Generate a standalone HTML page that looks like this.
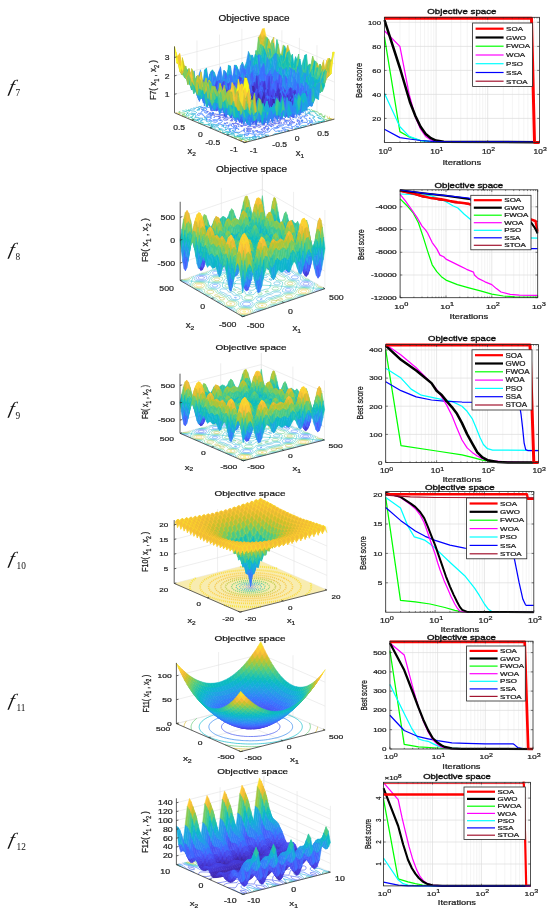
<!DOCTYPE html>
<html><head><meta charset="utf-8"><title>Objective space</title>
<style>
html,body{margin:0;padding:0;background:#fff}
svg{display:block;filter:blur(0.45px)}
text{font-family:"Liberation Sans",sans-serif;fill:#262626;stroke:#262626;stroke-width:.22px}
.t{font-size:6.6px}
.l{font-size:8.2px}
.ti{font-size:8.6px;fill:#111;stroke:#111;stroke-width:.35px}
.lg{font-size:6.7px;fill:#111}
.f{font-family:"Liberation Serif",serif;font-style:italic;font-size:17.5px;fill:#111;stroke:none}
.fs{font-style:normal;font-size:9.3px}
.t3{font-size:8px}
.ti3{font-size:9.3px;fill:#111;stroke:#111;stroke-width:.2px}
.l3{font-size:8.6px}
</style></head><body>
<svg width="550" height="914" viewBox="0 0 550 914">
<rect width="550" height="914" fill="#fff"/>
<text transform="translate(8.0 91.6) skewX(-12) scale(1.1 1)" class="f">f</text><text x="15.5" y="96.3" class="f fs">7</text>
<text transform="translate(8.0 255.2) skewX(-12) scale(1.1 1)" class="f">f</text><text x="15.5" y="259.9" class="f fs">8</text>
<text transform="translate(8.0 414.4) skewX(-12) scale(1.1 1)" class="f">f</text><text x="15.5" y="419.1" class="f fs">9</text>
<text transform="translate(8.0 563.8) skewX(-12) scale(1.1 1)" class="f">f</text><text x="16.5" y="568.5" class="f fs">10</text>
<text transform="translate(8.0 706.0) skewX(-12) scale(1.1 1)" class="f">f</text><text x="16.5" y="710.7" class="f fs">11</text>
<text transform="translate(8.0 844.9) skewX(-12) scale(1.1 1)" class="f">f</text><text x="16.5" y="849.6" class="f fs">12</text>
<path d="M244.6 142.6L174.5 112.8L174.5 46.4M267.1 136.7L197 106.9L197 40.5M289.6 130.8L219.5 101L219.5 34.6M312 125L241.9 95.2L241.9 28.8M244.6 142.6L334.5 119.1L334.5 52.7M227.1 135.2L317 111.6L317 45.2M209.6 127.7L299.4 104.2L299.4 37.8M192 120.2L281.9 96.8L281.9 30.3M174.5 94.3L264.4 70.8L334.5 100.6M174.5 75.9L264.4 52.4L334.5 82.2M174.5 57.5L264.4 34L334.5 63.8" fill="none" stroke="#e2e2e2" stroke-width="0.6"/>
<g fill="none" stroke-width="0.7" opacity="1"><path d="M264.8 132l-1.7-0.6l0-1.1l-1.9-0.6l0-0.6l2.6-0.3l1.1-0.1l-0.3 0.4l0 0.8l0.7 0.9l-0.5 1.2M289.1 125.8l-0.7 0l0.5-0.1M296.8 123.7l-0.5 0l0.6-0.1M300.3 122.4l-1.8-0.3l-1.4-0.7l-0.5-0.6l3-0.1l-0.1 1.1l0.8 0.6M268.2 129.3l-1.6 0.1l0.1-0.7l2.7-0.1l-1.2 0.7M278.1 126.7l-1.6 0.1l0.6-0.6l1 0.1M285.7 124.4l-1.8-0.6l-0.2-1l0.1-0.6l2.3-0.3l0.9 0l-0.4 1.2l0.4 0.5l-0.9 0.7M289.8 123.4l-0.8 0.1l0.5-0.2l0-1l1-0.2l2.7 0l1.4 0l-0.1 0.6l-2.3 0.4l-2.4 0.3M256.5 131.2l-0.8 0l-0.4-0.5l2.5-0.1l-1.3 0.6M251.1 131.6l-1-0.1l-1.6-0.6l-1.9-0.6l0.1-0.5l1.4 0.1l2.2 0.5l0.7 0.9M265.6 128.2l-1.9-0.2l-0.1-0.6l2.1 0l-0.1 0.8M273.2 126l-1.4-0.1l-2.6-0.3l-1.4 0.8l-2.7 0.1l1.1-0.8l0.1-0.5l0.6-0.5l1.1 0l2.7 0.2l2-0.3l1.5 0.6l-1 0.8M281.2 123.9l-1.9 0l-2-0.3l-0.5-0.1l-3.1-0.1l-0.9 1l-1.8-0.5l-0.5-0.9l-1.3-0.1l-2-0.1l-1.6-0.1l-2.8 0.2l0.5 0.9l1.3 0.7l0.2 0.6l-1.8-0.1l-2.1-0.2l-1.4 0l-2.1-0.1l0.1 0.6l2.2 0.4l0.8 0.3l0.5 0.6l-1 0.6l-1.4 0l-1-0.8l-3-0.1l-3.5-0.1l-1.8 0.6l-1.9 0.1l1-0.5l1.5-0.8l0.4-1.2l2.3 0.1l1.1 0l1.6-0.7l-3.5-0.2l0.9-0.9l2.3-0.4l0.3-0.7l-2.3-0.4l-1.1-0.2l-1.5-0.2l-2.7-0.4l-0.5 0l-2.3-0.3l-1-0.8l2.2-0.6l0.9 0.8l1.5 0.1l2.8-0.2l2.1-0.5l-3-0.3l0.8-0.6l-0.3-0.6l0.6-0.7l2.1-0.5l1.5 0.1l2.2 0.2l0-0.7l0.2-0.6l1.8-0.7l-1-0.4l-2.3-0.1l-1.1-0.8l-2.1-0.6l-1.4-0.7l-1.5 0l1.4 1.1l-0.5 0.7l-0.2 0.6l1.8 0.1l2.1-0.1l1.2 0.8l-0.2 0.6l-1.8-0.1l-1.6-0.6l-1.7-0.1l-2 0l-0.9-0.9l0-1l-2.1-0.3l-1.5 0.1l-1.5-0.6l0.1-0.7l2.4-0.3l2.5-0.3l1.2-0.9l2-0.5l-1.3-0.5l-2.4 0.3l-2.5 0.3l-0.6 0.1l-2.2-0.5l-1.6-0.1l-1 0.7l-1.9 0.8l0 0.8l2.2 0.1l1.4 0l-0.3 0.5l-0.1 0.7l-0.1 0.6l-2.3 0l-0.9 0l1.1 1l1.9 0.3l1.6-0.7l2.2 0l-0.5 0.7l-2.2 0.5l-1.4-0.1l-1.8 0.1l-2.3 0.3l-1.8 0.1l-0.9-0.9l-0.1-1l-2-0.2l-0.9-0.1l0-1.1l-0.6-0.8l3.1-0.1l1.9-0.5l-0.8-0.6l-1.2-0.3l-2.1 0.5l-1.4 0l-2.2-0.1l-2 0.5l-1.2-0.1l0.3-0.3l2-0.5l0.3-0.9l-2.9-0.2l-2.1 0.5l0.2 0.9l-0.3 1.2l-0.4 0.4l-1.2 0l-0.8-0.9l-0.8-0.8l-1.2-0.8l0-0.6l1.3 0.3l3 0.2l1.9-0.6l1.5-0.8l1 0.3l2.9 0.3l1.6 0.4l0.7-1l-2.1-0.5l1.4-1.2l2 0.3l1.6 0.7l-0.1 0.5l0 0.5l1.4 0.7l2 0.2l0.4-0.8l1.8-1l0.4-0.6l0.2-0.5l1.7 0l2 0.2l1 0.1l2.6 0l-0.3-0.6l-1.3-0.8l-1.9 0l-1.8-0.1l0-0.7l2.6-0.3l1.4 0l1.7 0l2.5-0.3l1.5-0.1l-0.8 0.4l-0.2 0.9l-0.6 1.2l-1.8 0.9l-1.3 0.8l2.9-0.2l2.3-0.3l2.4-0.4l0.5 0.3l-1.8 0.5l0 0.8l1.6 0.6l0.1 0.7l-2 0.6l-2 0.5l1.1 0.4l2.5-0.3l1.6-0.1l0.8 0.9l2.2 0.5l2.1 0.2l1.7-0.1l1-0.1l3.1 0.1l0.6-0.2l1-0.7l0.1-0.6l-2.4-0.5l-0.3-1l-1.5-0.6l-0.9-0.8l1.8 0.5l1.6 0.7l3 0.2l3.4 0.1l0.5 0.2l0.1 0.8l-0.1 0.6l-1.3 0.8l2.4 0.5l1.7 0.7l1.9 0l1.8 0.1l0.3 0.8l1.2 0.5l0.9 0.2l-0.4 1.1l0.2 1l0.6 0.9l-3.1-0.2l-0.9-0.8l0.4-0.5l0.8-0.9l-2.3-0.5l-0.5-0.8l-0.5-0.2l-2.7-0.2l-1-0.8l-1.8 0l-2.2 0.5l-2 0.5l-1.8 0.6l-1.9-0.1l-1.7-0.1l-0.6 0.7l2.3 0.5l1.6 0.2l1 0.2l2.6 0.4l-0.9 0.6l-0.2 0.7l2.6 0.3l2.9-0.1l2.4-0.4l1.1 0l-1.3 1.3l-0.5 0.2l0.9-0.1l2.3-0.3l1.9 0.2l-0.1 0.5l-0.2 0.6l1.2 0.8l-1.5 0.4l-1.9-0.6l-2.2-0.5l-2.6 0.4l-1.1 0.9l-1.1 0l-1.4-0.7l-2.9-0.2l-0.8 1l0.8 1l1.7 0.1l2.3-0.4l1.1 0l2.3 0.5l1.5 0.2l1.6-0.7l3.1-0.1l1.9 0.6l0.4 1l-0.5 0.6M290.8 121.1l-0.7 0l-1.2-0.8l-3 0.1l-1.4 0l0.4-0.5l0.1-0.7l-2-0.1l-1.7 0l0.3-0.5l2.3-0.2l0.7 0l0.9-0.9l0.2-0.6l0.4-0.6l1.9 0l-0.2 0.8l0.9 0.4l2 0.2l-0.1 0.6l-0.9 0.7l1.6 0.7l0.4 0.4l-0.1 0.6l-0.8 0.4M278.1 123.1l1-0.1l0.9-0.4l-1.2 0.3l-0.7 0.2M299.3 117.8l-0.9 0l0.9-0.2M251.7 129.1l-0.7 0.1l-2.7-0.1l-1.3 0.1l-0.8-0.9l3.4 0l0.7 0l1.7 0.6M255.6 128.1l-2.5-0.6l0.2-0.4l1.7 0l0.6 0.9M244.5 130.2l-1.3-0.1l1.7-0.4l-0.4 0.5M275.2 121.3l-1.5-0.2l-0.5-0.6l2 0.2l0 0.6M292.7 116.4l-1.1 0l2.6-0.7l-1.5 0.7M295.2 114.7l-1.1 0l1.4-0.4l-0.3 0.4M258.6 122.9l1 0l3.1 0l-0.5-0.9l-1.7-0.1l-1.9 0.6M288.1 115.8l-1.7-0.2l-0.8-0.8l3.3 0l2-0.5l0.6 0l-2.1 0.7l-1.3 0.8M242.4 126.6l-1.6-0.1l-0.1-0.6l1.8 0.1l-0.1 0.6M246.3 125.5l-1.4-0.1l-2.2 0l-1.8 0l-1.5-0.7l-1.9-0.2l-0.8 0.9l-3.3-0.2l0-1.1l-1.6-0.6l3.4 0l3.1 0l1.4-0.8l-0.5-1.2l1.7-0.4l1.3-0.1l2.1 0.3l2 0.1l1.6 0l1.7 0.6l-0.5 0.6l-1.5 0.7l-2.4-0.1l-1.6-0.7l-1.1 0l-0.2 0.4l0.7 0.9l0.5 0.9l1.1 0.1l3-0.1l-1.3 0.8M268.8 119.2l1.3-0.1l-0.9-0.3l-1.8-0.3l-2.4-0.1l-1.8 0.6l-1.5-0.1l-0.5-0.8l2.3-0.4l-0.9-0.4l-2.1-0.2l-2.1-0.2l-1.8 0.6l-1 0.8l0.5 1l1.5 0l1.9 0.2l1 0.8l2.3-0.2l2.7-0.2l1.8-0.6l1.5-0.1M237.3 127.1l-1.6-0.3l0.9-0.3l0.7 0.6M257.1 121.2l1.6 0l0.9-0.7l-2.4-0.4l-1.2-0.1l-0.2 0.4l1.3 0.8M276.5 116.4l-0.8-0.1l0.7-0.2M271 116.8l-1.1-0.1l-0.5-0.6l2.4 0.1l-0.8 0.6M291.1 111.6l-2 0.1l1.1-0.5l2.2-0.4l0.5 0.2l-1.8 0.6M231.2 125.9l0.8-0.3l-0.8 0.3M283.7 112.6l-1.5-0.1l0.6-1.3l1.3-0.3l1.4 0.7l0.8 0.7l-2.6 0.3M280.1 112.4l-1.7 0l-1.1-0.8l-1.8-0.6l0.3-0.4l1.9-0.6l1.2 0.1l-0.5 1.2l2.1 0.5l-0.4 0.6M236.2 122.6l-0.8-0.1l1.1-0.2M259.2 116.3l1 0l-0.7-0.3l-0.3 0.3M236.9 121.5l-1.2-0.1l1.5-0.4l-0.3 0.5M241.2 120.6l-1.7-0.2l-1.9-0.6l-0.5-0.9l3-0.2l1.3 0.1l-0.5 1.2l0.3 0.6M227.8 123.1l-1.3-0.4l0.6-0.1l0.7 0.5M246.2 118.6l-2.1-0.5l1.6-0.4l0.5 0.9M249.3 117.2l-1.2-0.1l0.3-0.3l0.7 0M285.4 107.8l-1-0.2l0.5-0.1l0.5 0.3M232.4 120.9l-2-0.2l0.2-0.5l2-0.1l-0.2 0.8M241.9 118.1l-1.9 0l0.4-0.6l1.8 0.1l-0.3 0.5M232.4 119.6l-1.2-0.2l1.6-1l0.1-0.5l-2.2-0.4l-1.7 0.7l-1.2-0.1l-0.1-0.5l0.4-0.6l-2.5-0.3l-0.2 1l-0.7 0.2l-2.4-0.5l0.5-0.5l2.3-0.4l0.8-1.1l-2.9 0.2l-2 0l-1.3-0.1l-1.4 0.8l-3.2 0.1l-0.7-0.1l0-1.1l-2.4-0.2l-0.7-0.1l2-0.7l1.9-0.3l1.7 0.6l3.2-0.1l1.1 0.1l2.8 0.1l1.8-0.6l0.9 0.1l2.9 0.2l0.7 0l-1.5 1l1.8 1l0.7 0.9l1.4-0.2l2.7 0.2l1.5 0.2l1.4 0.1l-1.4 0.4l-2 0l-0.3 0.6l-0.4 0.5l-1.8 0.6M246.4 115.9l-2.7 0.2l1.1-0.9l2 0.1l-0.4 0.6M261.8 111.5l-0.5-0.2l0.9-1l3.3 0.1l-0.8 1l-2.9 0.1M278 107.4l-0.7-0.1l-3.1-0.2l1.3-0.7l0.8 0.1l1.7 0.6M224.2 120.2l-0.5-0.2l-0.4-0.7l0.6-0.6l1.4 0.1l2.7 0.3l-0.7 1l-3.1 0.1M272 107.6l0.6-0.1l-0.6 0.1M220.8 120.1l-0.6-0.2l1.1-0.1l-0.5 0.3M246 112.3l1.3-0.1l-1.2-0.5l-0.1 0.6M257.3 109.6l-0.9 0l2-0.9l1.5-0.1l-0.5 0.5l-2.1 0.5M267.5 107.1l-0.8-0.2l1-1.1l1.2-0.6l0.5-0.1l0.6 0.9l0.2 0.9l-2.7 0.2M220.1 118.5l-1.7-0.1l0.4-0.5l2-0.1l-0.7 0.7M259.8 107.9l-0.8-0.1l0.8-0.2M264.1 107l-1.7-0.1l0.3-0.5l1.9 0l-0.5 0.6M220.6 117.3l-1.2-0.2l-1.1-0.8l2.2 0.5M264.4 105.7l-1-0.1l0.9-0.2M233 112.5l2.1 0l0.3-0.7l-2.5-0.2l0.1 0.9M264.8 104.6l-1.3-0.1l0.2-0.4l1.4 0l-0.3 0.5M268.9 103.6l-1.1-0.2l0.5-1.2l-0.4-0.5l1.3 0.2l1.2 0.8l0.4 0.3l-1.9 0.6M211 117.3l-0.6-0.2l0.7 0M255.3 106l-1.7 0l-1.5-0.6l0.3-0.6l2.1-0.5l1.5 0l2.4 0.3l1.7-0.7l1 0.2l-2.2 0.7l-1.1 0.9l-2.5 0.3M225.8 112.6l-2.5 0.3l1.4-0.7l1.1 0M260.2 102.6l-1.2-0.1l-0.3-0.5l1.1 0.3l0.4 0.3M254.6 103l-1.9 0.1l0.4-0.8l1.8 0.2l-0.3 0.5M210.9 113.2l-2.3 0.3l1.2-0.8l1.2 0.2M257.6 101.5l-1.7-0.3l-0.8-0.8l2.8 0.2l-0.3 0.9M235 105.6l1.6-0.7l1.7-0.2l-1.1 0.5l-2.2 0.4M207.9 111.9l-0.8-0.1l-0.5-0.4l1.8 0l-0.5 0.5M211.5 110.7l-1-0.4l2.5-0.3l1.4-0.1l-0.1 0.6l-2.8 0.2M245.7 101.9l-1.7 0.2l1-0.5l0.8 0.1M238 102.8l-0.4-0.2l0.4 0.2M223 106l-1-0.3l0.5-0.1l0.5 0.4" stroke="#45e"/><path d="M285.7 131.3l-1.4-0.2l0.5-0.2l0.9 0.4M291.7 130.3l0.8-0.2M299.1 127.4l-2.5-0.5l-0.3-0.7l2.1 0.2l0.7 0.9M282.2 131.1l-1.3-0.1l-2.9-0.2l-1.8 0.6l-0.7-0.1l-0.7-0.5l-1.2-1.1l0.4-0.7l1.9-0.5l2.1-0.5l1.4-0.8l-2.6 0.3l-2.8 0.2l-1.4 0.8l-1.4 0.7l-0.8 1.1l-0.6 1.1l-1.5 0.7l-2.7 0.2l-0.6 0.7l-0.7 1.2l-0.7 0.2l-2.5-0.4l-1.5-0.1l-0.3 0.6l-0.2 0.5l-1.6 0l-1-0.9l-2.7 0.1l-1.4 0l-1.6-0.7l-1.6 0.1l-1.8-0.3l-2-0.5l-1-0.8l0-1.1l-1.9-0.2l-1.7 0.7l-0.2 0.5l-0.5 0.5l-1.4 0l-2.3-0.2l-0.9-0.1l-2-0.5l0.5-0.4l1.6-0.7l0.1-0.5l-0.4-0.9l1.3-0.5l-1.5 0.4l-2.6-0.3l-1.6-0.1l-2.5 0.3l-0.7-0.1l0-1l0.3-0.5l1.2-0.9l-1-0.4l-1.2-0.2l-1.4-0.7l-3.2-0.2l-1.7-0.6l-2.8-0.4l0.3-0.7l2.8-0.2l0.8-1.1l0.9-1l-1-0.4l-2.6-0.1l0-1l-0.5-0.2l-1.6 0.7l-3.2-0.3l-1.1 0.3l1.1 0.8l2 0.1l1.9 0l-0.4 0.6l-0.6 0.7l-1.1 0.3l-2.2-0.5l-1.1-0.8l-1.3-0.7l-2.5-0.4l1.2-0.5l1.2-0.8l0.8-0.6l-2.3-0.5l-1.2-0.1l-1.9-0.2l-1.9-0.5l-0.1-0.9l-1.6-0.7l0.2-1.3l-2.5 0.3l-0.4 0.5l-0.6 0.5l-1.7 0.1l-0.3-1l1.1-0.9l2.9-0.1l-0.3-1l0.3-0.4l0.6-0.9l0.8-0.2l2.1-0.2l1.7-0.6l0.1-1.3l-2.2-0.5l-0.8-0.8l2.7-0.2l1.6 0l1.8 0.6l2.3 0.4l1.7-0.6l1.1-0.9l2.6 0.2l1.7 0.2l1.7-0.6l-1.3-0.6l-2-0.1l-2.2-0.5l1.1-0.7l1.7 0l2.3 0.3l3.1 0.4l1.4 0.7l0.1 0.9l1.1 0.4l1.2-0.8l-0.8-0.9l-0.9-0.8l1.2-1.3l2.8 0.2l0.9 0.9l0.3 0.6l0.7 0.3l2.1-0.5l0.6-0.3l-1.8-0.6l-1.4-0.8l-2-0.5l1.1-0.6l2.3-0.3l1.3 0.8l1.6 0.6l0.7 0l0.5-1.1l0.9-0.5l0.4-0.4l1.3-0.8l2.5 0.1l-0.1 0.9l-2 0.6l-0.5 1.1l0.7 0.3l2.4-0.3l-0.3-0.5l0.2-0.9l1.9-0.6l3 0.1l0.7 0.1l1-0.5l-0.2-0.5l1.9-0.6l0.4-0.5l0.1-0.6l2.8-0.2l0.3-1.1l-1.4-0.7l2.3 0.4l1.7-0.2l2.5 0.2l1.4 0.2l2.4-0.4l1.2 0l-0.2 0.4l-2 0.5l0 0.7l-0.4 0.5l-0.2 0.7l1.8 0.6l1.7 0.2l-0.2-0.6l-0.8-0.8l1.9-1l1.8 0l-0.4 0.6l-0.3 0.7l2.3 0.1l1.5-0.1l-0.6 0.5l-1.7 0.7l-0.1 0.5l1.8 0.2l1.4 0.1l-0.1 0.4l0.1 0.6l1.6 0.2l0.9-0.8l2.1-0.7l2.2-0.4l-1.2 0.8l-1.8 0.6l0.3 0.3l0.7 0.2l1.6 0.3l2 0.6l2 0.5l1.1 0.8l-0.2 0.5l-0.9 0.8l0.5 0.4l-1.7 0.7l1.3 0.5l1.4-0.7l0.6-0.3l0.9-0.5l0.2-0.9l1.3-0.3l1.6 0.6l-0.4 0.4l-0.6 1l0.4 0.3l0.6 0.5l1.6 0.6l0.6 0l1.5-0.6l1.4-0.3l-1.1 0.3l0.9 0.8l1.4 0.2l2.5-0.3l1 0.4l0.2 0.5l-0.9 0.6l-0.1 0.7l2 0.6l1.6 0.2l1.1 0.2l2.2 0.4l-0.3 0.7l-1.6-0.2l-2.4-0.1l-0.1 0.8l1.9 0.6l-0.1 0.6l-2.3 0.4l0.3 0.6l0.7 0.9l0.6 0.9l1.3 0.3l0-0.7l0.2-0.7l2.8 0l-0.7 1l-0.2 0.3l1.2 0.7l1.7 0.6l0.1 0.9l-0.4 0.3l1.1 0.8l-0.1 0.5l-0.3 0.7l-0.1 0.5l-1.8-0.1l-1.7 0l-2 0.5l-0.6 0.7l-0.3 0.3l-1.3 0.1l-1.6 0.1l-1.8 0.6l-0.5 1.1l-1.8 0.7l-2.5 0.3l1.6 1l-0.3 0.9l-1.7-0.3l-1.9-0.6l-1.9-0.6l-1.4-0.1l-2.1 0.5l-1.7 0.6l1.3 0.6l1.5 0.1l1.7 0.7l-0.4 0.4l-1.2 0l-2.2-0.1l-0.6 0.8l0.3 0.4M308 124.3l-0.7-0.2l2.1-0.6l-1.4 0.8M256 136.5l-2.3-0.6l1.5-0.3l1.1 0.7M300.2 125.1l-1.1 0l0.2-0.4l0.9 0.1M310.3 122.5l-0.9 0l2.1-0.8l1-0.1l0.3 0.6l-2.5 0.3M312.4 120.7l-1.8-0.7l0.8-0.2l1 0.8M262 132.7l1.2 0l-1.4-1l-1.1-0.1l-2.4-0.1l-1 0l-0.3 0.4l0.9 0.8l2.2 0l1.9 0M290.4 125.3l0.8 0.1l0.8-0.5l-0.7-0.8l-2.2 0.4l-2 0.5l3.3 0.3M298.3 123.2l1.1 0.2l-1.2-0.5M247.5 135.6l-0.7 0l-1.3-0.7l-1.5-0.7l3.3 0l1.6-0.2l-0.5 0.6l-0.5 0.7l-0.4 0.3M266.9 130.3l1.4-0.3l-1.4 0.1M300.7 121.5l1 0.1l1.1-0.6l-2.1 0.2M252.4 133.1l1.8-0.1l-1.3-0.6l-0.5 0.7M279.2 126.1l1.1 0.1l2.2-0.4l1.4-0.8l-1.2-0.5l-1.7 0.7l-2.7 0l0.9 0.9M301 120.4l1.9 0.3l0-0.8l-1.7 0.1M310.4 118.4l-1.4-0.1l1.1-0.3l0.3 0.4M253 131.9l1.6-0.1l-1.2-1.1l-1.4 0l1 1.2M267.9 128l1-0.3l-1 0.1M291.8 121.7l1-0.2l-1 0M297.5 120.2l1 0l-1.5-0.6l0.5 0.6M248.2 132l1.2 0.3l-0.6-0.4l-1.7-0.7l-0.7 0.2l1.8 0.6M270.2 126.3l1.8 0.5l-1.3-0.6M288.5 121.5l-1.1-0.5l1.1 0.5M299.8 118.6l1.4 0.1l0.1-0.6l-1 0.2l-0.5 0.3M274.7 124l0.7 0.1l-0.6-0.2M284.7 121.4l2-0.5l-2 0.3M292.8 119.3l0.7 0.2l-0.3-0.3l-0.7-0.1M307.4 115.8l-2.2 0.3l-0.1-1.1l1.4-0.4l1.3 0.8l-0.4 0.4M269.3 124.4l-0.4-0.3l0.4 0.3M294.9 117.7l1.4 0.2l0.2-0.6l0.4-0.5l0.3-0.8l-1.8 0.2l-1.7 0.6l-1.3 0.5l2.5 0.4M243.6 128.9l1.2 0.1l-0.9-0.4M296.1 115.2l0.7 0.2l0.7-0.5l-1.3 0.3M231.2 131.4l-0.7-0.1l-1.5-0.7l2 0.6M238.4 129.3l0.7 0l-1.7-0.7l1 0.7M290.6 115.6l2.3-0.5l-2.2 0.5M292.9 113.9l3.3-0.1l-0.4-0.6l-1.8-0.6l-0.8-0.1l-0.4 1.2M235.2 128l1.9 0.4l-0.9-0.7l-1.5-0.7l-0.1-1l-2.1 0.5l0.5 0.9l2.2 0.6M287.5 114.3l2.3-0.5l-0.6-0.2l-1.7 0.6M237.8 126.2l1.5 0.4l-0.6-0.6l-0.9 0M294.1 110.4l0.7 0.1l0.3-0.4l-2.1-0.5l-3.5 0l-3.2 0l0 0.7l1.2 0.8l1.7-0.3l2.2-0.4l2.7 0M223.6 126.8l-0.6 0.1l1-0.3M227.9 125.6l1.9-0.3l2-0.5l-1.6-0.9l-0.6 0l-0.4 0.3l-0.5 0.6l-0.8 0.8M279.8 110.9l2.1-0.4l0.5-0.3l-2-0.4l-0.6 1.1M280.5 109.7l2.2-0.3l-0.6-0.2l-1.6 0.5M223.9 123.4l2.4 0.4l-1.2-0.7l-0.7-0.1l-0.5 0.4M277.3 109.5l2.9 0.2l-1.1-0.7l-0.9-0.1l-0.9 0.6M273.3 108.4l1 0.2l0.8-0.7l-1.7 0.3M267.9 108.7l2.1-0.5l-2.3 0.3M277.4 106.2l1.5 0.2l-0.1-0.5l-1.4-0.1M273.6 105.1l1.9-0.1l2.2-0.5l0.1-0.5l-1.6-0.1l-2.5 0.1l-0.7-0.1l-1.9 0.6l0.8 0.3l1.7 0.3M207.7 120.1l-1.8-0.5l1.1-0.3l0.7 0.8M213.6 117.5l1 0l-0.7-0.3l-0.3 0.3M259.9 105.4l1 0.2l-0.8-0.3M263.2 103.5l2.2-0.1l1-0.7l-2.2 0.2l-1 0.6M210.7 116.2l0.9 0l0.5-0.4l-2.1-0.5l0.1-1.1l2.1-0.5l1.7-0.5l-2 0.4l-1.9 0.6l-2.3 0.4l-1 0.9l-0.1 0.7l1.6 0l2.5 0M275.2 99.4l-0.9 0.2l0.6-0.4M219.3 112.8l0.6 0.1l1.8-0.6l2-0.5l-2.2 0.4l-2.3 0.4M261.2 101.9l0.7 0l2.1-0.4l0.5-0.5l-1.5 0l-2.4 0.4l0.6 0.5M212.1 112.6l1.9 0.5l-1-0.7l-1.2-0.2l0.3 0.4M222.4 109.9l2.2-0.5l-2.2 0.4M205.8 113.2l1.5-0.2l0.3-0.3l-1.5-0.7l-1.8-0.2l0.2 0.6l1.3 0.8M243.9 103.2l1.5 0l1.8-0.6l-0.4-0.2l-2.3 0.4l-0.6 0.4M256.1 100l1.4 0.1l-1.4-0.6M219.1 108.6l0.6 0.1l0.8-0.4l-2.5-0.3l1.1 0.6M256.2 98.9l1.8 0l0.9-0.7l-2.5 0l-0.2 0.7M211.2 109.6l1 0l2.3-0.4l-2.1-0.9l-1.7 0.7l0.5 0.6M248.9 99.2l-1.6-0.1l-1.7 0l-2-0.1l-1.9-0.6l-1 0l-0.7 1.1l-2.9 0.1l0.6-1.1l1.4-0.8l2-0.5l0.7 0.1l2.9 0.1l2-0.3l-1 0.7l0.1 0.6l1.7 0.2l1.7 0l-0.3 0.6M260.4 95.8l-1 0.2l-0.4-0.7l1.7 0.3M203.6 110.1l-1.9-0.1l-0.1-0.8l1.9 0.3l0.1 0.6M211.7 106.7l-1.2-0.1l1.7-0.4l-0.5 0.5M223.9 103.6l-1.8 0l-1.8-0.1l-2.1 0.5l-1.2-0.2l-0.3-0.5l1.5-0.7l1.2-0.5l0.6-0.1l2.4 0.4l1.8 0l1.7 0.2l0.3 0.6l-2.3 0.4M235.4 100.3l-1.6 0.2l1-0.5l2.3-0.4l-1.7 0.7M249.7 96.7l-2.2 0.2l1.2-0.6l1.3 0l-0.3 0.4M202 108l-0.9 0l-0.6-0.6l2.9 0l-1.4 0.6M214.7 105.2l-2.5-0.1l1.2-0.5l1.3 0.6M249.8 95.4l-0.6-0.2l0.6 0.2M208.4 105.3l-0.8-0.1l0.8-0.2M226.5 100.6l-1-0.1l1-0.2M232.5 99.1l-1-0.1l1.2-1.2l1.6 0.4l-1.8 0.9" stroke="#37f"/><path d="M256.3 139.3l-1.5-0.4l-2.4-0.5l-0.4-0.9l2.8-0.2l1.4 0.1l0.4 0.7l-0.8 0.5l0.5 0.7M264.1 137.5l0.1-1.1l-2.1-0.1l-0.1 0.7l0 0.7l-2.9 0.1l-0.6 0.1l1.3-1.2l-0.6-0.3l-2.4 0.4l-2.1-0.1l-2.1-0.3l-0.7 1.1l-3.3-0.1l-1.5 0.3l-1.3-0.1l-1.2-0.3l0-1.1l-0.1-1.1l-1.7-0.6l-1.3-0.1l-2.4 0l-1.1-0.8l-0.4-0.8l-3-0.4l-1.6-0.2l-1.5-0.1l-2.7-0.3l-2.6-0.4l-1.5-0.7l-1.3-0.7l-1-0.9l-2.3-0.4l-1.8-0.6l0.2-0.7l-1.4-0.6l-2.4 0.4l-0.6-0.2l0.2-1.1l-2.9-0.1l-0.5-0.3l1.8-0.6l1.9-0.1l0.8 0.8l2.8 0.3l0.2-1.1l-2.7-0.3l-1-0.1l-1.7-0.3l-2.5-0.1l-2.1 0.5l-0.6-0.3l1.7-0.6l1.1-0.9l1.1-0.9l-0.4-0.4l-1.3-0.3l-1.2 0.8l-2.3-0.4l0.3-0.5l-0.2-0.6l-1.6-0.6l-1.8-0.3l-1.4 0.1l0.4-0.5l0.4-0.8l-2.6-0.1l-0.7-0.1l-1.4-0.7l-3.2-0.1l1.2-0.9l0.1-0.7l0-0.6l-1.2-0.5l-1.8-0.2l-1-0.8l-0.6-0.5l1.5 0.2l2.5 0.2l1.2-0.9l-1.1-1l-1.7-0.6l-1 0l-2-0.3l-1.1-0.8l1.3-1.1l1.8 0.3l2.1 0l0.6-0.7l-2.2-0.5M265.7 136l2.3 0.1l0.8-0.9l-2.9-0.3l-0.7 0l-0.6 0.3l1.1 0.8M283.7 132.4l-1.9-0.1l-1.6 0.7l-2.1 0.5l-3.1 0.1l-1.2 0.8l-1.3 0.8M288.8 131l-1.1-0.7l-1.1 0l1.6 0.9M302.3 127.5l-2 0.4l-3.2 0l-2.6 0.3l1.6 0.6l0.8 0.1M300.5 126.9l1.9 0.5l2-0.5l1.3-0.8l0.8-0.8l-2.2 0.1l-2.8 0.3l-1.2 0.8l0.2 0.4M313.8 124.5l0.3-0.4l1.7-0.1M317.1 123.7l-1.4-0.7l-1 0l-2.6 0.3l-0.2 0.6l0 0.7l-0.4 0.5M278.4 131.6l1.3-0.2l-1.3 0.2M261.2 135l1.3 0.1l-0.3-0.3l-0.8-0.1M309.5 121.4l0.9-0.2l-1.6-0.7l0.7 0.9M321.4 119l-1.6-0.3l-1.7-0.7l-0.4-0.6l1.4 0.4l1.4 0.7l0.9 0.5M254.5 134.7l0.6 0l-0.6 0M239.8 136.5l-2.7-0.5l-0.2-0.8l1.6 0.4l2.6 0l1.5 0l-0.2 0.6l-2.6 0.3M234.6 134.2l-1.7-0.3l-2.3-0.5l1-0.4l0.7 0l1.5 0.7l0.8 0.5M310.1 112.9l-1.3 0.1l-1.1-0.8l0.8-0.2l1.5 0.7M232.3 130.8l0.8 0.1l0.6-0.4l-1.6-0.1l0.2 0.4M307.5 110.4l-0.7-0.1l-1.3-0.7l2.1 0.5M228.8 129.6l1.6 0.1l0.3-0.6l-1.4 0.1l-0.5 0.4M225.1 129.5l1.8 0.1l-0.2-0.5l-1.4-0.2l-0.2 0.6M224.4 127.6l1.4 0.1l0.8-0.7l-1.9 0.3M221.5 126.2l0.6 0l1.9-0.6l-2.5 0.3M288.2 106.6l1.3 0.2l-0.3-0.4l-0.8 0M283.8 104.5l1.8-0.4l-1.9 0.3M200.7 121.2l-0.6-0.1l2.2-0.6l-1.6 0.7M205.8 118.5l1.4 0l-1.8-0.9l-1.1 0.2l1.5 0.7M273.5 100.8l1.5-0.1l1.7-0.7l-2.5 0.3l-0.7 0.5M197.6 119.9l-1-0.1l2.1-0.8l1.4-0.1l0 0.7l-2.5 0.3M196.7 110.2l0.7 0l2.4-0.4l-1-0.4l-1.9 0.6M202.9 108.6l1.6 0.5l-1.2-0.6M198.8 108.6l1.4 0l-1.9-0.8l0.5 0.8M225.1 101.7l1.1 0.2l0.3-0.6l-2.1-0.5l-0.8 0l1.5 0.9M246.2 96.2l1.6-0.2l-1.2-0.6l-0.4 0.8M253.8 94.4l-2.6-0.6l0.4-0.3l2-0.3l0 1.1M227.8 99.9l0.6 0.1l1.1-0.5l-1.7 0.3M195.6 107.3l1.9 0.2l1.4-0.8l2.4-0.3l0.2-0.6M203.5 105.2l1.9 0.6l1.4 0.2l-0.5-0.4l0.8-0.9l0.8-0.6M209.5 103.7l-0.2 0.6l0.4 0.4l0.7 0l2.1-0.4l0.9-0.6l1.4-1.2M218 101.4l0.7 0l2.5-0.3l0.1-0.5M227.7 98.9l2.2 0.4l1-0.9l0.2-0.4M233.8 97.3l2 0.5l2.2-0.5l-0.9-0.9M240.1 95.7l1 0.8l2.3 0.4l0.8-0.2l-1.4-0.7l0.3-0.7l1.2-0.7M244.6 94.5l2.4-0.2l2.1 0.1l1.6 0.6l1.9 0.6l0.8 0l2.4 0.2l1.4 0l0.7-1l2.6-0.3l3.3 0.3l0.6 0l1.9 0.4l-1.7 0.5l-1.7-0.2l-1.3 0.9l3-0.2l1.3 0.2l1.8 0.6l2 0.5l0.1 1l2.9-0.2l0.1-0.5l-1.3-0.7l0.2-0.6l1 0.2l1.7 0.7l2.1 0.5l-0.4 0.5l0 0.7l2.5 0.3l0.9 0.9l0.9 0.9l-1.2 1.3l1 0.4l1.9-0.6l1.9 0.1l1.3 0.7l0.9 0.8l1.7 0.6l1.7 0.7l2.1 0.5l1.1 0.8l2.4 0l1.2 0.1l2.6 0.4l-0.9 0.7l2.1 0.9l2.1-0.5l1-0.1l-0.6 0.3l-1.9 0.6l-0.4 0.9l1.2 0.8l2 0.5l2 0.6l0 0.6l-0.3 0.5l-0.1 0.7l-0.1 0.5l1.2 0l1.8-0.6l2.2 0.3l-0.5 0.4l0.1 0.7l2.2 0.3l0.9 0l0.1 1.1l2 0.5l-0.8 0.7l-1.8 0.6l1.5 1.1l0.9 0.9l-0.1 1l1.1 0.8l1.5 0.7l1.6 0.7" stroke="#2ad"/><path d="M255.6 139.7l-2.3-0.5l-0.7-0.1l-1.7 0.7l-2.4-0.4l-1.4-0.7l-1.7 0.1l-2.6 0.3l-1.8 0.2l0.9-0.6l1.6-0.7l-1.2-1.2l-1.4 0.1l-2.3-0.2l-1.8-0.1l-2.5 0.2l0.9-0.9l-1.8-0.8l-0.7-0.1l-2.6-0.4l-1.4-0.1l-2.1 0l0.1-0.9l2.1-0.4l0.8-0.6l-2.7-0.4l-2.9 0.3l-1.9-0.1l0.4-0.6l0.4-0.6l-0.6-0.8l-1.5-0.8l-1.7-0.6l0.5 0.9l-0.8 0.3l-0.9 0.1l-1.6-0.6l-1.3-0.8l-0.3-0.4l-0.4-0.4l-1.1-0.2l-2.6 0.2M261 138.3l-0.6 0l-2.4 0.4M321.3 122.5l-0.4-0.9l-3.2-0.3l1 0.9l1.3 0.7M249 138.2l1.4 0l-0.7-0.3l-0.7 0.3M305.1 110.7l-1.4-0.7l1.4 0.7M303.3 109.1l1-0.1l0.6-0.3l-1.2 0.1l-0.4 0.3M299.3 108l2.1-0.2l0.8-0.6l-1.9 0.1l-1 0.7M210.1 128l1.8-0.7l1-0.9l-2.8-0.5l-1.1-0.7l-2-0.6l-1.8-0.1l-1.6-0.1l-0.7-0.8l0.3-1.2l-2.8 0l-1-0.1l-0.4-0.5l-0.3-0.3l-0.5-1l-2.6-0.1l-1.1 0l0.3-0.3l0.5-1l-3-0.3l0-1l-2-0.6l2.5-0.7l0.6-1.1l-1.6-0.7l-1.3-0.7l-0.9-0.3l-0.9 1l0.2 0.8l-0.4 0.5l-1.3-0.1l-0.9-0.8l0.4-1.2l1.7-0.7l-0.5-0.7l-1.3-0.7l-1.7-0.6l-2.1-0.3l-0.5-0.1M211.1 124.6l0.6-0.1l-0.6 0.1M289.6 103l0.7 0l-0.3-1.1l-2.1 0.1l-0.8 0.6l2.5 0.4M276.8 95.9l-0.8 0l-2.4-0.5l1-0.4l2 0.7M267.1 96.1l1.5 0.5l-1-0.7l-0.5 0.2M185.6 109.9l1.8 0.6l1.9 0.6l0.7 0l-1.6-0.9l0.4-0.9M247.5 93.7l1.8 0.1l1.2-0.8l2-0.5M256.5 91.4l-1.3 0.8l2.1 0.9l0.9 0l-1.1 0.3l-1.9 0.2l1.6 0.9l2.6-0.5l2-0.5l1.9 0.4l2-0.1l1.9 0.1l-0.1 0.7l1.3 0.5l0.7-0.6l0.3-0.4l1.3 0l0.6 0.9l1.2 0.7l1.3 0.8l1.5 0.6l1.7 0.3l1.8-0.1l1.3 0.7l1.6 0.7l1.6 0l1.6 0.2l0.2 0.6l-1.5 0.7l0.9 1l1.5 0l2.7-0.2l1.9 0.7l3.3 0.2l0.1 1.1l2.1 0.5l0.8 0.8l0.5 0.4l0.3 0.5l-0.4 0.8l0.8 0.4l2.6-0.3l1.5 0l1 0.9l1.9 0.5l1.9 0.6l-0.5 0.5l0.3 0.6l1.7 0.2l1.3 0.1l0.5 0.7l-0.6 1.1l1.3 0.6l1.9-0.6l1.6 0.2l0.5 0.7l0.3 1.2l1.7 0.7l0.3 0.4l-0.7 0.7l2 0.6l1.7 0.6l0.8 0.9l0.3 0.3l0.4 0.5l1 0.9l1 0.8l0.8 0.6l-2 0.5l-1.6 0.7l2.8-0.2l0.9 0.3" stroke="#1bb"/><path d="M250 141.2l-0.1-0.5l-0.1-0.5l-2.3-0.5l-1.1 0.9l-1.7-0.2l-0.2-0.6l-0.8-0.3l-2.7 0.2l-1.3-0.1l-0.4-0.6l1.6-0.7l-0.5-0.2l-2.2-0.2l-0.9-0.9l-1.9 0.3l-2.4-0.2l-2.3-0.4M325.2 116.5l-2 0.2l1-0.6l1 0.1M325.5 115.3l-0.9 0M234.7 138.4l1.9-0.1l-0.3 0.8M321.7 113.7l-3 0l0.6 0.8l1.4 0.1l1.7 0.2l-0.1 0.5l-0.6 0.7l0.5 0.6l1.1 0.5l1.4 0.3l-1 1.2l1.2 0.9l1.3 0.2l0.7-0.7l0.7-0.2l3.2 0.1l-1.6 0.7l-1 0.9l-2.2 0.5M224.8 134.2l-1.1-0.5M311.4 109.3l0.3 0.8l1.6 0.6l2.1 0.6l1.5 0.6l1.7 0.5M219.8 130.9l0.9 0.2l-0.8-0.4M303.5 105.9l0.8 0.8l1.6 0.6l1.3 0.2M297.8 103.5l0.4 0.5l0.9 0.1M202.2 124.6l-0.5-0.7l-2.1-0.4M291.9 101l0.4 0.3M198.9 123.2l-0.8-0.5M192.6 120.5l1.1-0.9l-3.2 0M282.2 96.9l-0.4 0.7l1.7 0.6l2.4 0.5l0.5 0.9l0.4 0.6l0.7 0.3l2.9-0.2M188.2 117.8l1.3 0l-1.1-0.5l-0.2 0.5M276 94.2l0 0.6l1.8 0.6l1.5 0.2M183.8 116.8l2.7-0.3l-0.3-0.4l-1.4-0.7l-1.5-0.2l-1.4-0.1l0.3-0.4l2.2-0.2l0.8-1.3l-3.1-0.3l-0.8 0l-2.3-0.2l-0.3-0.8l1.6-0.6M257.6 91.1l2.1 0.5l1.6 0.7l1.7 0.6l1.1-1l1.6 0.3l2.1 0.5l2 0.3l0.9 0l1.8 0.6l0.1 0.5l1.2 0.6l0.4-0.5l0.5-0.5" stroke="#6c6"/><path d="M248.7 141.5l-3.5 0l-1.7 0.6M241.8 141.4l-1.5-0.6M240.5 140.5l1.7-0.3l-1.7 0.3M330 117.2l-0.9 0.1l0.6-0.2M239.8 140.6l-1-0.8l-1.1-0.1M326.9 115.8l0.3 0.9l0.4 0.8l1.2 1l1.1 0l2 0.2l0.2 0.7l-1.9 0.6M182.7 116.3l0.3-0.4l-1.2 0M178.1 114.3l2.2-0.4l-1.5-0.6l-1.6-0.1l-1.4-0.7M260 90.5l0.7 0l3.1 0l1.8-0.7" stroke="#db3"/><path d="M332.6 118.3l1.3 1" stroke="#fc3"/></g>
<g transform="scale(.1)" fill="currentColor" stroke="currentColor" stroke-width="5" stroke-linejoin="bevel"><path d="M2640 351l20 11l-16-79l-20 6z" color="#fad82d"/><path d="M2620 384l21-34l-17-62l-21 57z" color="#fbc734"/><path d="M2654 369l22 32l-16-41l-21-11z" color="#fccf31"/><path d="M2600 446l21-64l-17-38l-21 30z" color="#d2bf2d"/><path d="M2635 436l21-67l-16-20l-21 34z" color="#dfbd31"/><path d="M2580 519l20-74l-16-72l-20 180z" color="#72cb65"/><path d="M2615 450l21-15l-16-53l-21 64z" color="#d5bf2e"/><path d="M2651 498l20-124l-16-6l-21 68z" color="#96c949"/><path d="M2595 543l21-95l-16-4l-21 75z" color="#59cc79"/><path d="M2630 464l21 34l-16-64l-21 14z" color="#cdc02c"/><path d="M2666 556l21-161l-16-21l-21 124z" color="#4ecb83"/><path d="M2540 649l20-143l-16 95l-20-50z" color="#0fb5ce"/><path d="M2702 493l20-92l-15 39l-21-45z" color="#a9c63d"/><path d="M2575 572l21-30l-16-25l-21-11z" color="#40c890"/><path d="M2611 556l20-94l-16-14l-20 95z" color="#52cb7f"/><path d="M2646 496l21 60l-16-60l-21-34z" color="#a7c73e"/><path d="M2520 694l20-46l-16-97l-20 3z" color="#1fa4e1"/><path d="M2681 487l22 6l-17-98l-20 161z" color="#b9c432"/><path d="M2555 541l21 30l-16-65l-21 143z" color="#68cc6c"/><path d="M2717 538l21-166l-16 29l-20 92z" color="#70cb66"/><path d="M2591 545l21 10l-17-14l-20 31z" color="#65cc6f"/><path d="M2626 608l21-112l-16-34l-21 94z" color="#24c3aa"/><path d="M2500 614l20 80l-16-140l-20-39z" color="#1fc1ae"/><path d="M2662 658l20-173l-15 71l-21-60z" color="#0fb5cd"/><path d="M2535 671l20-130l-15 108l-21 44z" color="#11b1d5"/><path d="M2697 603l21-65l-16-47l-20-6z" color="#2cc5a4"/><path d="M2733 429l20 116l-16-173l-20 166z" color="#f7c135"/><path d="M2606 682l21-74l-16-54l-20-9z" color="#15aed9"/><path d="M2480 733l21-120l-17-98l-21 109z" color="#2896ec"/><path d="M2642 660l20-2l-16-162l-21 111z" color="#0fb6cb"/><path d="M2515 598l21 73l-16 23l-21-81z" color="#34c69c"/><path d="M2677 522l21 81l-16-118l-20 173z" color="#94ca4a"/><path d="M2551 650l20-89l-16-20l-20 130z" color="#0dbac3"/><path d="M2713 582l20-153l-15 108l-21 66z" color="#48ca89"/><path d="M2586 762l21-80l-16-137l-20 16z" color="#2f88f5"/><path d="M2460 693l20 40l-16-110l-21 49z" color="#17acda"/><path d="M2749 609l20-213l-16 149l-20-116z" color="#2ec5a2"/><path d="M2622 716l21-57l-17-53l-20 76z" color="#22a2e4"/><path d="M2495 778l21-180l-16 14l-21 121z" color="#3380f9"/><path d="M2658 738l20-216l-16 136l-21 2z" color="#2897eb"/><path d="M2531 666l21-16l-17 21l-20-73z" color="#0eb7ca"/><path d="M2693 676l21-96l-16 23l-21-81z" color="#10b4d0"/><path d="M2566 642l21 120l-16-201l-21 88z" color="#0fbeb9"/><path d="M2440 747l21-55l-17-21l-20-50z" color="#2994ed"/><path d="M2729 573l20 36l-16-180l-20 153z" color="#58cc79"/><path d="M2602 790l21-76l-17-34l-20 82z" color="#357bfb"/><path d="M2764 604l20-160l-15-48l-21 213z" color="#3ac797"/><path d="M2638 633l20 105l-16-80l-21 58z" color="#1bc1b0"/><path d="M2511 728l20-64l-16-66l-20 180z" color="#249fe5"/><path d="M2673 575l20 101l-15-154l-21 216z" color="#58cc79"/><path d="M2546 734l21-92l-16 6l-21 17z" color="#259de7"/><path d="M2420 638l20 109l-16-126l-21 44z" color="#1ac0b1"/><path d="M2709 657l20-86l-16 9l-20 96z" color="#0cbcbf"/><path d="M2582 757l20 33l-15-28l-21-120z" color="#2a91ef"/><path d="M2491 821l21-95l-17 52l-20-123z" color="#3d6dfd"/><path d="M2780 547l21-9l-17-94l-20 160z" color="#8bcb51"/><path d="M2653 734l20-159l-15 163l-21-105z" color="#239fe5"/><path d="M2526 786l21-53l-16-69l-21 63z" color="#3183f7"/><path d="M2400 752l20-114l-16 26l-20 86z" color="#2897eb"/><path d="M2562 767l21-10l-17-115l-20 91z" color="#2c8ff1"/><path d="M2724 718l20-178l-15 31l-21 85z" color="#1ba8de"/><path d="M2471 777l20 44l-16-167l-20 45z" color="#2e8bf3"/><path d="M2633 821l21-88l-16-100l-21 44z" color="#3c70fd"/><path d="M2380 693l20 59l-16-2l-20-97z" color="#10b4d1"/><path d="M2795 582l21-36l-16-9l-21 8z" color="#61cc72"/><path d="M2669 761l20-161l-16-25l-20 159z" color="#2994ed"/><path d="M2542 798l21-32l-16-34l-21 54z" color="#3380f9"/><path d="M2415 805l21-120l-16-47l-21 114z" color="#357cfb"/><path d="M2704 670l21 48l-16-63l-21-55z" color="#0cbcbf"/><path d="M2578 848l20-92l-16-1l-21 11z" color="#4461fb"/><path d="M2451 830l21-53l-17-78l-20-14z" color="#3d6efd"/><path d="M2740 746l20-213l-16 7l-20 178z" color="#249ee6"/><path d="M2613 821l21 0l-16-144l-21 80z" color="#3973fe"/><path d="M2360 691l21 3l-17-41l-20-2z" color="#0fb6cb"/><path d="M2775 646l21-65l-16-36l-21-12z" color="#22c2ab"/><path d="M2649 734l21 26l-17-28l-20 89z" color="#1fa4e2"/><path d="M2395 834l21-29l-16-55l-20-57z" color="#3d6dfd"/><path d="M2684 750l21-82l-16-68l-21 161z" color="#249ee6"/><path d="M2558 844l20 4l-16-83l-21 31z" color="#4167fc"/><path d="M2431 828l20 2l-16-145l-20 119z" color="#3a72fe"/><path d="M2720 667l20 79l-16-28l-20-50z" color="#0ebeba"/><path d="M2593 818l21 2l-16-64l-21 92z" color="#3779fd"/><path d="M2467 741l21 45l-17-11l-20 55z" color="#20a3e3"/><path d="M2340 821l20-132l-16-38l-20 138z" color="#3778fd"/><path d="M2755 759l21-115l-16-111l-20 213z" color="#269ae9"/><path d="M2502 751l21-33l-16-1l-21 70z" color="#23a0e5"/><path d="M2375 797l21 37l-16-141l-20-4z" color="#2f87f5"/><path d="M2791 676l20-124l-16 28l-20 66z" color="#0bbdbd"/><path d="M2664 851l21-103l-16 11l-21-24z" color="#4266fc"/><path d="M2538 805l20 39l-16-46l-20-80z" color="#3283f7"/><path d="M2826 567l21-108l-16-9l-20 103z" color="#8acb52"/><path d="M2700 704l20-37l-16 1l-20 82z" color="#10b5cf"/><path d="M2320 837l20-16l-15-32l-21-130z" color="#3b71fe"/><path d="M2735 753l21 6l-16-13l-20-79z" color="#23a1e4"/><path d="M2609 859l20-110l-16 72l-21-4z" color="#4363fb"/><path d="M2482 858l21-109l-16 38l-21-46z" color="#4364fc"/><path d="M2355 749l21 48l-16-108l-20 132z" color="#20a3e2"/><path d="M2771 615l21 60l-17-31l-20 115z" color="#4bca86"/><path d="M2644 845l21 6l-16-117l-21 15z" color="#3e6cfd"/><path d="M2518 864l20-60l-16-86l-20 31z" color="#4461fb"/><path d="M2807 675l20-110l-16-13l-20 124z" color="#12bfb8"/><path d="M2553 862l20-132l-15 114l-21-41z" color="#4363fc"/><path d="M2842 691l20-196l-15-36l-21 108z" color="#0cbbc2"/><path d="M2300 723l20 114l-16-178l-20-7z" color="#12b1d6"/><path d="M2715 781l21-29l-16-85l-21 35z" color="#2994ed"/><path d="M2589 905l20-46l-16-43l-20-86z" color="#474aed"/><path d="M2462 749l20 109l-15-117l-21 143z" color="#1ea5e1"/><path d="M2751 819l20-204l-15 144l-21-7z" color="#337ff9"/><path d="M2498 746l20 118l-16-115l-20 109z" color="#1ca7df"/><path d="M2371 813l20 42l-15-60l-21-46z" color="#3185f6"/><path d="M2787 726l21-52l-16 2l-21-61z" color="#12b0d7"/><path d="M2533 827l21 35l-16-59l-21 61z" color="#357bfb"/><path d="M2406 775l21-42l-15 54l-21 68z" color="#2699ea"/><path d="M2822 664l21 27l-16-126l-21 110z" color="#24c3aa"/><path d="M2280 705l21 17l-17-70l-20 160z" color="#0eb8c7"/><path d="M2695 844l21-63l-16-79l-21 38z" color="#3a72fe"/><path d="M2569 757l20 148l-16-175l-20 132z" color="#20a3e2"/><path d="M2858 575l20-122l-16 42l-20 196z" color="#92ca4c"/><path d="M2351 834l21-21l-16-64l-21-6z" color="#357bfb"/><path d="M2766 723l22 2l-17-110l-20 204z" color="#11b3d2"/><path d="M2513 903l21-75l-16 36l-20-118z" color="#4750f2"/><path d="M2675 882l21-39l-16-103l-21 114z" color="#465efb"/><path d="M2549 906l20-149l-16 105l-21-34z" color="#4750f1"/><path d="M2422 784l21 16l-16-67l-21 44z" color="#2799ea"/><path d="M2837 630l21-57l-16 118l-20-27z" color="#4bca86"/><path d="M2296 780l20 2l-16-61l-20-16z" color="#259ce8"/><path d="M2584 900l21-22l-16 27l-20-148z" color="#4754f4"/><path d="M2458 766l20 42l-16-59l-20 51z" color="#21a2e3"/><path d="M2873 527l21-21l-16-53l-21 122z" color="#dbbe30"/><path d="M2331 815l21 19l-16-91l-21 38z" color="#2e8af4"/><path d="M2620 846l21-50l-17-70l-20 152z" color="#3876fe"/><path d="M2493 834l21 69l-16-157l-21 60z" color="#347efa"/><path d="M2782 823l20-146l-15 47l-21-2z" color="#3185f6"/><path d="M2528 885l21 20l-16-78l-20 76z" color="#455ffb"/><path d="M2402 934l21-151l-16-8l-21-9z" color="#4743e5"/><path d="M2817 648l21-18l-16 34l-20 14z" color="#3ec893"/><path d="M2275 753l22 26l-17-74l-20 152z" color="#19aadc"/><path d="M2564 960l21-61l-16-142l-21 148z" color="#4435cf"/><path d="M2853 604l21-79l-16 48l-21 59z" color="#79cb60"/><path d="M2600 839l21 6l-16 33l-21 21z" color="#347dfa"/><path d="M2473 806l21 28l-16-26l-21-41z" color="#2a92ef"/><path d="M2889 656l21-96l-17-54l-20 19z" color="#3bc796"/><path d="M2762 845l21-22l-16-101l-21-24z" color="#357bfb"/><path d="M2220 808l20-105l-15 104l-21-139z" color="#2a92ef"/><path d="M2635 813l21 27l-16-45l-21 51z" color="#2c8df2"/><path d="M2509 890l21-5l-17 18l-20-71z" color="#4560fb"/><path d="M2382 850l20 84l-15-168l-21-8z" color="#3679fc"/><path d="M2798 772l20-124l-16 28l-20 147z" color="#1fa4e2"/><path d="M2256 719l21 35l-17 103l-20-154z" color="#0db9c5"/><path d="M2418 813l20-13l-16-18l-20 152z" color="#2b8ff1"/><path d="M2833 702l21-100l-16 28l-21 19z" color="#10beb9"/><path d="M2291 748l21 3l-16 29l-21-26z" color="#13b0d7"/><path d="M2707 876l20-123l-16-13l-21 22z" color="#3f69fc"/><path d="M2453 958l21-154l-16-38l-21 34z" color="#453ad7"/><path d="M2869 702l20-46l-16-131l-20 77z" color="#11beb8"/><path d="M2327 833l20-3l-16-15l-20-65z" color="#3086f6"/><path d="M2742 850l20-6l-15-146l-21 55z" color="#357bfb"/><path d="M2200 839l20-31l-15-140l-21 52z" color="#3183f7"/><path d="M2615 810l21 4l-16 32l-21-6z" color="#2a92ef"/><path d="M2489 903l20-13l-16-58l-20-28z" color="#475bf9"/><path d="M2904 659l21-117l-16 17l-20 97z" color="#3ec893"/><path d="M2362 801l21 49l-16-92l-21 72z" color="#2798eb"/><path d="M2236 809l20-90l-16-16l-20 105z" color="#2995ed"/><path d="M2813 673l21 28l-16-53l-20 124z" color="#31c69f"/><path d="M2271 776l21-27l-16 6l-21-36z" color="#1da6df"/><path d="M2687 949l21-74l-17-114l-20 144z" color="#4641e1"/><path d="M2433 917l21 41l-16-158l-20 13z" color="#4754f4"/><path d="M2849 693l20 9l-16-100l-20 99z" color="#20c2ad"/><path d="M2307 872l20-39l-16-83l-20-2z" color="#3b71fe"/><path d="M2722 764l21 85l-16-96l-21 123z" color="#18abdc"/><path d="M2180 835l20 4l-15-119l-21 67z" color="#2f89f4"/><path d="M2596 947l20-137l-16 29l-20 74z" color="#4743e5"/><path d="M2216 862l20-55l-16-1l-21 33z" color="#3679fd"/><path d="M2631 934l21-68l-16-53l-21-3z" color="#474bee"/><path d="M2504 925l21-22l-16-15l-21 14z" color="#4751f2"/><path d="M2920 722l21-74l-17-106l-20 117z" color="#0cbbc0"/><path d="M2378 955l20-122l-16 16l-20-48z" color="#4641e1"/><path d="M2251 881l21-107l-16-55l-21 90z" color="#3c6efd"/><path d="M2540 968l21-80l-17-69l-20 85z" color="#453ad6"/><path d="M2413 812l21 105l-16-104l-21 20z" color="#2896ec"/><path d="M2829 817l20-126l-16 9l-20-27z" color="#2994ed"/><path d="M2287 838l20 34l-16-124l-20 26z" color="#2e8af4"/><path d="M2702 957l20-193l-15 110l-21 75z" color="#4640e1"/><path d="M2160 817l20 18l-15-48l-21-62z" color="#2896ec"/><path d="M2322 887l21-59l-16 3l-21 41z" color="#3e6cfd"/><path d="M2738 919l21-91l-17 22l-20-86z" color="#4757f6"/><path d="M2611 917l21 17l-16-124l-21 137z" color="#4759f7"/><path d="M2900 649l20 73l-15-65l-21-36z" color="#53cb7e"/><path d="M2358 830l20 125l-16-154l-20 27z" color="#2c8ef1"/><path d="M2773 874l21-132l-16 77l-21 10z" color="#3975fe"/><path d="M2936 688l20-121l-16 79l-20 76z" color="#2fc5a1"/><path d="M2809 760l20 57l-16-144l-21 70z" color="#11b2d5"/><path d="M2266 836l22 1l-17-63l-20 107z" color="#2c8ef2"/><path d="M2682 955l21 1l-16-7l-21-101z" color="#4744e7"/><path d="M2140 785l20 32l-15-92l-21-27z" color="#1ba8de"/><path d="M2844 818l21-146l-16 19l-20 126zM2302 819l21 68l-16-15l-21-36z" color="#2897eb"/><path d="M2718 911l20 8l-16-155l-20 192z" color="#465ffb"/><path d="M2880 711l21-62l-17-28l-20 53z" color="#1ac1b1"/><path d="M2338 932l20-102l-16-2l-20 58z" color="#4754f4"/><path d="M2500 968l21-45l-16 2l-21-52z" color="#4640e0"/><path d="M2373 935l21-109l-16 129l-20-125z" color="#4754f4"/><path d="M2789 924l20-166l-16-16l-20 132z" color="#4759f7"/><path d="M2247 788l21 46l-17 47l-20 26z" color="#1ca7de"/><path d="M2662 899l21 56l-16-108l-21-39z" color="#4069fc"/><path d="M2120 709l20 76l-15-87l-21 24z" color="#22c2ab"/><path d="M2951 733l20-138l-15-28l-21 121z" color="#0cbcbf"/><path d="M2409 917l21-38l-17-67l-20 14z" color="#465ffb"/><path d="M2824 828l21-11l-16 0l-20-59z" color="#2994ed"/><path d="M2282 954l21-135l-16 17l-21-2z" color="#4749ed"/><path d="M2156 761l20 132l-15-76l-21-34z" color="#10b4d1"/><path d="M2571 871l21 41l-16-15l-21-3z" color="#357bfb"/><path d="M2445 976l20-59l-16-101l-21 62z" color="#463ddc"/><path d="M2860 768l21-58l-17-38l-20 146z" color="#11b1d5"/><path d="M2607 968l20-102l-15 51l-22-6z" color="#4642e3"/><path d="M2895 671l21 48l-16-70l-21 62z" color="#48ca89"/><path d="M2353 889l21 45l-16-104l-21 102z" color="#3a72fe"/><path d="M2642 989l21-90l-16-91l-21 59z" color="#4437d2"/><path d="M2099 742l22-33l-16 12l-21 77z" color="#0cbbc0"/><path d="M2389 947l21-30l-17-91l-20 108z" color="#4750f2"/><path d="M2804 914l21-88l-16-68l-20 166z" color="#4363fb"/><path d="M2262 884l21 70l-16-120l-20-46zM2136 885l20-123l-15 22l-21-75z" color="#3778fd"/><path d="M2551 1012l21-141l-16 22l-21-32z" color="#412dbc"/><path d="M2967 695l20-155l-16 55l-20 138z" color="#35c69c"/><path d="M2840 750l21 16l-16 52l-21 10z" color="#0eb8c7"/><path d="M2298 891l20-75l-16 3l-20 135z" color="#3975fe"/><path d="M2171 923l21-120l-16 90l-20-132z" color="#4461fb"/><path d="M2587 974l20-6l-16-58l-20-39z" color="#4641e2"/><path d="M2876 791l20-120l-16 38l-20 59z" color="#19aadc"/><path d="M2749 815l20-18l-16 134l-21-91z" color="#249fe6"/><path d="M2207 873l21-46l-17-27l-20 3z" color="#3281f8"/><path d="M2622 894l21 95l-16-123l-21 102z" color="#3a72fe"/><path d="M2080 895l21-154l-16 57l-21-117z" color="#3974fe"/><path d="M2784 925l21-11l-16 10l-20-127z" color="#4560fb"/><path d="M2242 811l21 73l-16-96l-21 39z" color="#21a2e3"/><path d="M2658 898l21 15l-17-16l-20 92z" color="#3b70fd"/><path d="M2116 859l20 26l-16-176l-20 32z" color="#2e8bf3"/><path d="M2531 1035l20-23l-15-151l-21 0z" color="#3e26a8"/><path d="M2820 947l20-197l-15 76l-21 88z" color="#4753f3"/><path d="M2151 862l21 61l-16-162l-21 124z" color="#2e8af4"/><path d="M2567 1007l21-34l-17-102l-20 141z" color="#4332ca"/><path d="M2982 662l21 9l-16-131l-21 155z" color="#60cc73"/><path d="M2856 907l20-118l-16-23l-20-16z" color="#3d6dfd"/><path d="M2313 859l21-22l-16-21l-20 75z" color="#2d8cf3"/><path d="M2729 892l20-77l-15 25l-22 7z" color="#3877fe"/><path d="M2187 959l21-88l-17-68l-20 119z" color="#474ff1"/><path d="M2059 758l21 137l-15-214l-21 18z" color="#0db9c4"/><path d="M2891 807l21-123l-16-13l-21 120z" color="#1da6e0"/><path d="M2349 968l20 8l-15-88l-21-51z" color="#4749ed"/><path d="M2765 942l20-17l-16-128l-20 18z" color="#4759f7"/><path d="M2222 986l21-175l-16 15l-21 46z" color="#4640e1"/><path d="M2096 789l20 70l-16-118l-20 154z" color="#14afd8"/><path d="M2511 893l20 142l-15-174l-21 132z" color="#3777fe"/><path d="M2926 695l22-11l-16 4l-22-3z" color="#3fc891"/><path d="M2673 952l21 12l-16-52l-21-14z" color="#4754f4"/><path d="M2962 741l21-81l-15 34l-22-10z" color="#12bfb7"/><path d="M2836 771l20 136l-16-157l-20 197z" color="#0fb5cd"/><path d="M2294 960l20-103l-16 32l-21 50z" color="#4751f2"/><path d="M2709 924l21-34l-17-44l-20 118z" color="#4266fc"/><path d="M2040 833l21-75l-16-59l-21 165z" color="#249ee7"/><path d="M2871 913l21-108l-16-16l-21 118z" color="#3d6dfd"/><path d="M2329 934l20 34l-15-131l-21 20z" color="#4461fb"/><path d="M2745 923l20 19l-16-127l-21 76z" color="#4068fc"/><path d="M2618 893l20 89l-15-88l-21-39z" color="#367afc"/><path d="M2907 877l20-184l-16-9l-20 123z" color="#3185f7"/><path d="M2238 948l20-120l-16-17l-20 175z" color="#475af8"/><path d="M2653 936l21 16l-16-54l-20 84z" color="#4560fb"/><path d="M2111 906l21-56l-16 9l-20-70z" color="#3875fe"/><path d="M2942 701l21 39l-16-57l-21 10z" color="#3ec893"/><path d="M2147 868l20-59l-16 54l-21-13z" color="#2c8df2"/><path d="M2977 671l21-81l-15 70l-21 81z" color="#63cc70"/><path d="M2851 908l21 5l-16-6l-20-136z" color="#3973fe"/><path d="M2309 999l21-66l-16-76l-21 103z" color="#463ede"/><path d="M2725 964l21-42l-17-32l-21 33z" color="#4751f2"/><path d="M2598 928l21-35l-17-38l-20 95z" color="#4068fc"/><path d="M3013 766l21-163l-16 69l-20-82z" color="#0dbac3"/><path d="M2056 834l21-27l-17-50l-20 76z" color="#23a1e4"/><path d="M2760 997l20-168l-15 113l-21-20z" color="#463fde"/><path d="M2634 1029l20-93l-16 46l-20-89z" color="#422fc1"/><path d="M2091 823l21 83l-16-117l-21 17z" color="#1ea5e0"/><path d="M2507 943l21-23l-17-27l-20 93z" color="#4560fb"/><path d="M2922 826l21-125l-16-8l-20 184z" color="#20a3e2"/><path d="M2796 919l21-28l-17 51l-20-113z" color="#3c6ffd"/><path d="M2253 874l22 4l-17-50l-20 120z" color="#2d8bf3"/><path d="M2127 836l21 31l-16-18l-21 57z" color="#23a0e5"/><path d="M2958 845l20-176l-15 71l-21-39z" color="#269be9"/><path d="M2000 870l21 0l-16-172l-21 65z" color="#2b90f0"/><path d="M2831 869l21 39l-16-137l-21 121z" color="#2c8ef1"/><path d="M2289 1021l21-22l-16-41l-21-81z" color="#4435cf"/><path d="M2704 969l22-6l-17-41l-20 101z" color="#4751f2"/><path d="M2162 987l21-169l-16-9l-21 58z" color="#4748ec"/><path d="M2993 779l21-13l-16-176l-21 79z" color="#0eb7c9"/><path d="M2198 932l20 34l-15-149l-21 1z" color="#3f6bfd"/><path d="M2613 917l21 112l-16-136l-21 34z" color="#3a72fe"/><path d="M3029 731l20-181l-16 53l-20 163z" color="#2cc4a4"/><path d="M2071 938l21-115l-16-17l-21 26z" color="#4068fc"/><path d="M2776 998l20-81l-16-88l-20 168z" color="#4742e4"/><path d="M2522 1006l21-17l-16-69l-21 21z" color="#463fde"/><path d="M2938 889l20-44l-16-144l-20 125z" color="#3085f6"/><path d="M2269 900l20 121l-15-144l-21-3z" color="#337ff9"/><path d="M2142 912l21 75l-16-121l-20-30z" color="#367afc"/><path d="M2557 938l22-12l-17-41l-20 104z" color="#4069fc"/><path d="M2973 865l21-87l-16-109l-20 176z" color="#2994ee"/><path d="M2847 995l21-97l-17 8l-20-39z" color="#4745e8"/><path d="M2178 898l21 34l-16-114l-21 169z" color="#3282f8"/><path d="M2594 1006l20-89l-16 9l-21 0z" color="#4641e1"/><path d="M3009 650l21 80l-16 36l-21 13z" color="#94ca4a"/><path d="M2882 875l21-50l-16-68l-20 143z" color="#2b8ff1"/><path d="M3045 777l20-232l-16 5l-20 181z" color="#0cbbc2"/><path d="M2502 1057l21-51l-16-65l-20 0z" color="#3f28ae"/><path d="M2918 896l20-8l-16-64l-20 1z" color="#3184f7"/><path d="M2791 940l21-69l-16 46l-21 81z" color="#3f6afc"/><path d="M2249 1006l21-105l-16-27l-21 94z" color="#4743e5"/><path d="M2122 903l21 9l-16-76l-21 14z" color="#3283f8"/><path d="M2538 925l21 11l-16 53l-21 17z" color="#3a73fe"/><path d="M2826 915l21 80l-16-128l-20 5z" color="#367afc"/><path d="M2574 896l20 110l-16-81l-21 12z" color="#3086f6"/><path d="M2194 877l21 36l-17 19l-21-34z" color="#2a92ef"/><path d="M2609 944l21 42l-16-69l-21 89z" color="#4069fc"/><path d="M3025 826l20-50l-16-47l-20-79z" color="#18abdc"/><path d="M2898 886l21 10l-17-71l-21 49z" color="#2c8df2"/><path d="M2645 1006l20-70l-16-13l-20 63z" color="#4745e8"/><path d="M3060 746l21-66l-16-135l-21 232z" color="#29c4a5"/><path d="M2518 1050l20-125l-15 79l-21 53z" color="#422ebf"/><path d="M2807 980l21-66l-17-43l-20 68z" color="#4755f4"/><path d="M2265 1032l21-49l-17-83l-20 106z" color="#4538d4"/><path d="M2554 955l20-59l-16 42l-21-12z" color="#4266fc"/><path d="M2969 918l20-195l-15 142l-21-70z" color="#357bfb"/><path d="M2174 1035l20-158l-16 21l-21 67z" color="#4538d3"/><path d="M2589 1045l21-101l-16 62l-21-110z" color="#4332c8"/><path d="M3005 827l20-1l-16-176l-20 73z" color="#16adda"/><path d="M2878 973l20-89l-16-11l-20 105z" color="#475bf9"/><path d="M2751 915l21 35l-16-55l-21-6z" color="#337ff9"/><path d="M3040 695l21 49l-16 33l-21 49z" color="#64cc6f"/><path d="M2914 978l20-103l-16 19l-21-10z" color="#4758f7"/><path d="M1956 894l20-7l-15-43l-21-135z" color="#2c8ef1"/><path d="M2660 1033l20-143l-15 46l-21 70z" color="#453ad6"/><path d="M3076 661l20-20l-15 39l-21 66z" color="#99c947"/><path d="M2534 1041l20-88l-16-28l-20 125z" color="#4436d0"/><path d="M2949 930l21-12l-16-123l-21 81z" color="#3777fd"/><path d="M2696 1008l21-54l-17-59l-20-5z" color="#4748ec"/><path d="M2569 1011l20 34l-15-149l-21 57z" color="#4747eb"/><path d="M2985 894l20-69l-16-102l-20 195z" color="#2c8ef2"/><path d="M2027 977l20-161l-16-18l-20 80z" color="#465dfb"/><path d="M2731 1012l21-98l-16-25l-21 65z" color="#4747eb"/><path d="M2605 909l21 50l-17-15l-20 101z" color="#3085f6"/><path d="M1936 873l20 21l-16-185l-20 173z" color="#259ce7"/><path d="M3056 824l20-163l-16 85l-20-51z" color="#11b1d5"/><path d="M2929 909l21 20l-16-54l-21 103z" color="#3086f6"/><path d="M2676 1047l21-40l-17-117l-20 143z" color="#4436d0"/><path d="M3091 769l21-125l-16-3l-21 20z" color="#20c2ad"/><path d="M2549 984l21 27l-16-58l-21 88z" color="#475af8"/><path d="M2965 955l20-63l-16 25l-21 12z" color="#3e6cfd"/><path d="M2838 939l21-2l-16-15l-21-25z" color="#3876fe"/><path d="M1880 711l21 138l-16-153l-21 0z" color="#62cc71"/><path d="M2711 1054l21-43l-16-59l-21 55z" color="#4433cb"/><path d="M2874 858l21 58l-17 57l-21-36z" color="#20a3e2"/><path d="M1916 900l21-28l-16 10l-21-35z" color="#2b91ef"/><path d="M2747 974l20-55l-16-6l-20 99z" color="#4462fb"/><path d="M2620 1005l21-88l-16 43l-21-50z" color="#4750f1"/><path d="M3036 726l20 98l-16-129l-21 75z" color="#4dca84"/><path d="M2909 876l21 34l-16 68l-21-62z" color="#269be8"/><path d="M2783 1060l20-147l-16-30l-21 36z" color="#4331c8"/><path d="M2656 1008l20 39l-16-14l-20-116z" color="#474ef0"/><path d="M3071 844l21-77l-16-106l-21 163z" color="#17acdb"/><path d="M2945 898l20 57l-16-25l-21-20z" color="#2b90f0"/><path d="M2818 907l21 32l-16-42l-21 17z" color="#2d8cf3"/><path d="M1860 784l21-73l-16-15l-21 80z" color="#1cc1af"/><path d="M3107 722l20-161l-16 83l-20 125z" color="#56cc7b"/><path d="M2854 974l20-116l-16 79l-21 2z" color="#4265fc"/><path d="M1896 731l20 169l-16-51l-20-138z" color="#51cb80"/><path d="M2600 1004l21 0l-16-95l-21 78z" color="#4753f4"/><path d="M3016 833l20-107l-16 43l-20 64z" color="#11b2d4"/><path d="M1932 813l20 61l-16-1l-20 27z" color="#0db9c5"/><path d="M2762 1033l21 26l-16-140l-21 54z" color="#4742e4"/><path d="M2636 1084l21-76l-17-91l-21 87z" color="#3f29b1"/><path d="M2925 1023l20-125l-16 11l-20-33z" color="#4748ec"/><path d="M2798 924l20-17l-15 6l-21 147z" color="#3185f6"/><path d="M1840 714l21 69l-16-7l-21-30z" color="#6ccc69"/><path d="M2960 996l20-162l-15 121l-21-57z" color="#4759f8"/><path d="M2834 1042l21-69l-17-36l-20-30z" color="#463fdf"/><path d="M1876 807l21-76l-17-20l-20 72z" color="#0cbdbc"/><path d="M3122 693l21-86l-16-46l-20 161z" color="#8bcb51"/><path d="M2580 927l21 77l-16-17l-21 23z" color="#3185f6"/><path d="M2996 900l21-69l-17 1l-20 2z" color="#2994ed"/><path d="M2869 939l21-44l-16-37l-21 116z" color="#347efa"/><path d="M1912 775l20 40l-16 85l-20-169z" color="#2bc4a4"/><path d="M2615 1024l21 60l-16-81l-20-1z" color="#474aee"/><path d="M3031 863l21-129l-16-8l-21 106z" color="#1ba8de"/><path d="M2905 1052l20-29l-16-147l-20 19z" color="#453bd8"/><path d="M1820 748l21-33l-16 33l-20-97z" color="#4bca86"/><path d="M2940 1010l21-14l-16-98l-21 125z" color="#4754f4"/><path d="M2813 964l21 78l-16-135l-20 17z" color="#3a72fe"/><path d="M1856 690l20 117l-15-23l-21-69z" color="#9bc946"/><path d="M3102 725l21-34l-16 29l-20 55z" color="#60cc73"/><path d="M2976 988l20-89l-16-65l-20 162z" color="#4363fb"/><path d="M2849 1061l20-124l-15 35l-21 70z" color="#4539d4"/><path d="M3138 810l20-196l-15-7l-21 85z" color="#0bbcbe"/><path d="M3011 951l21-90l-16-30l-21 69z" color="#367afc"/><path d="M2885 1013l20 39l-16-157l-20 42z" color="#4755f5"/><path d="M2758 929l20 132l-15-28l-21-41z" color="#2f88f5"/><path d="M1800 719l21 29l-16-97l-20-6z" color="#78cb60"/><path d="M3047 906l20-147l-16-25l-20 129z" color="#2896ec"/><path d="M2794 1103l20-141l-16-38l-20 137z" color="#3e27aa"/><path d="M1836 709l21-19l-16 25l-21 33z" color="#86cb55"/><path d="M2667 1019l20 60l-16-146l-20 64z" color="#4753f3"/><path d="M3083 862l20-137l-16 48l-21-13z" color="#17acdb"/><path d="M1872 702l20 145l-16-40l-20-117z" color="#93ca4b"/><path d="M3118 776l20 34l-15-119l-21 34z" color="#32c69f"/><path d="M2576 1102l20-148l-16-27l-20 121z" color="#3f29af"/><path d="M2991 958l21-8l-16-52l-21 90z" color="#367afc"/><path d="M2034 1031l20-161l-15 90l-22 7z" color="#474ff1"/><path d="M2865 1029l21-17l-17-75l-20 124z" color="#474ef0"/><path d="M2738 1086l20-157l-15 63l-21 33z" color="#4230c3"/><path d="M3154 735l20-102l-16-19l-20 196z" color="#5fcc74"/><path d="M1780 619l21 100l-16-74l-21-17z" color="#f4bf35"/><path d="M2611 1067l21-57l-16 15l-20-71z" color="#453ad7"/><path d="M3027 979l21-75l-17-43l-20 90z" color="#3d6efd"/><path d="M1816 653l21 57l-16 38l-21-29z" color="#dabe30"/><path d="M2647 1118l21-100l-16-22l-21 14z" color="#3e26a8"/><path d="M3063 798l20 64l-16-103l-20 147z" color="#1dc1af"/><path d="M3098 858l21-84l-16-49l-21 137z" color="#12b1d7"/><path d="M2845 974l21 54l-17 33l-20 26z" color="#3a72fe"/><path d="M1887 780l21 61l-16 6l-21-145z" color="#38c799"/><path d="M3134 847l20-114l-16 77l-21-36z" color="#10b5cf"/><path d="M1761 520l20 101l-16 9l-20-164z" color="#f9fb15"/><path d="M2591 1083l21-17l-16-112l-20 148z" color="#4434cd"/><path d="M2754 1087l20-124l-16-34l-20 157z" color="#4332ca"/><path d="M3169 675l21-7l-16-35l-21 102z" color="#bec32f"/><path d="M1796 537l21 118l-16 64l-21-99z" color="#f7f41a"/><path d="M2500 1116l21-123l-16-15l-20 147z" color="#3e26a8"/><path d="M1831 672l22-2l-17 41l-21-58z" color="#ccc02c"/><path d="M3078 851l21 7l-16 4l-21-64z" color="#10b5cf"/><path d="M1994 1013l21-64l-17-64l-20 12z" color="#4560fb"/><path d="M1867 772l21 9l-16-79l-21-33z" color="#47c98a"/><path d="M3113 832l21 15l-16-73l-20 84z" color="#0cbbc1"/><path d="M2029 954l21 15l-16 62l-21-84z" color="#3184f7"/><path d="M1903 758l20 117l-16-34l-20-61z" color="#54cc7d"/><path d="M3149 788l20-113l-15 58l-21 114z" color="#34c69d"/><path d="M1776 568l21-31l-16 84l-21-101z" color="#f6e427"/><path d="M1938 935l21-62l-16-60l-21 62z" color="#2a92ef"/><path d="M2769 1034l21 86l-16-157l-21 124z" color="#4752f3"/><path d="M3184 682l22 2l-17-16l-21 8z" color="#c1c22d"/><path d="M1812 646l20 27l-16-18l-20-118z" color="#f0ba35"/><path d="M3058 823l21 27l-16-52l-21 115z" color="#10beb9"/><path d="M2101 952l20-14l-16 144l-20-40z" color="#2f88f5"/><path d="M2805 1033l21-27l-17-60l-20 174z" color="#4755f5"/><path d="M3094 885l20-54l-15 26l-22-7z" color="#19aadd"/><path d="M2009 925l21 30l-16-8l-20 66z" color="#2798eb"/><path d="M2840 983l21 42l-16-51l-21 33z" color="#3974fe"/><path d="M1883 796l21-37l-16 22l-22-10z" color="#35c69c"/><path d="M2714 1006l20 21l-16-51l-20-8z" color="#4067fc"/><path d="M3003 999l20-88l-16-29l-20 102z" color="#3e6bfd"/><path d="M1918 779l21 156l-16-59l-20-118z" color="#46c98b"/><path d="M3165 803l20-123l-16-5l-20 113z" color="#2bc4a4"/><path d="M1792 638l20 8l-16-109l-20 30z" color="#f5c035"/><path d="M3038 928l20-105l-15 90l-21 0z" color="#2897eb"/><path d="M2912 1077l20-144l-16 96l-20-97z" color="#463edd"/><path d="M1954 825l20 134l-16-87l-20 63z" color="#19c0b2"/><path d="M3200 641l21 32l-16 12l-21-4z" color="#f1bc35"/><path d="M3074 956l21-71l-17-36l-20-26z" color="#2f88f5"/><path d="M2532 1137l20-128l-16-37l-20-11z" color="#3e26a8"/><path d="M2947 1096l21-117l-16-78l-21 32z" color="#4435ce"/><path d="M1989 1000l21-75l-16 88l-21-56z" color="#3c70fd"/><path d="M2820 1066l21-83l-16 22l-21 27z" color="#4745e9"/><path d="M2694 1032l21-26l-17-38l-20-10z" color="#475af9"/><path d="M3109 813l21-43l-16 62l-21 53z" color="#22c2ab"/><path d="M2567 964l21 68l-16 69l-21-92z" color="#3184f7"/><path d="M2856 1056l20-104l-15 73l-21-42z" color="#474cef"/><path d="M1898 729l21 51l-16-22l-21 38z" color="#91ca4d"/><path d="M3145 822l21-20l-16-16l-21-16z" color="#1cc1af"/><path d="M3018 934l21-8l-16-15l-21 88z" color="#2995ec"/><path d="M2060 989l21-37l-16 35l-20 69z" color="#3778fd"/><path d="M2892 1078l20-1l-16-145l-20 20z" color="#4641e1"/><path d="M1934 784l21 42l-17 109l-20-156z" color="#48ca89"/><path d="M3180 756l21-115l-16 39l-20 123z" color="#65cc6f"/><path d="M1807 667l21 40l-16-63l-21-7z" color="#e6bc33"/><path d="M2638 1028l21-61l-16 170l-21-171z" color="#465ffb"/><path d="M3054 972l20-16l-16-133l-21 104z" color="#3381f8"/><path d="M2512 991l20 146l-16-176l-20 173z" color="#3876fe"/><path d="M2927 952l20 144l-15-163l-21 144z" color="#2d8df2"/><path d="M1969 949l21 51l-16-41l-20-134z" color="#2a92ef"/><path d="M3216 742l20-139l-15 71l-21-33z" color="#7ccb5d"/><path d="M1843 659l20 122l-16-102l-21 27z" color="#efba36"/><path d="M2674 999l20 33l-16-75l-20 10z" color="#3a72fe"/><path d="M3089 928l21-115l-16 70l-21 73z" color="#269be8"/><path d="M2547 1149l20-185l-15 45l-21 128z" color="#3e26a8"/><path d="M2005 886l21 82l-16-43l-21 75z" color="#12b0d7"/><path d="M2836 1000l21 55l-17-72l-20 83z" color="#3b71fe"/><path d="M1878 845l21-116l-16 67l-21-16z" color="#0fbeb9"/><path d="M3125 893l21-72l-17-51l-21 43z" color="#17acdb"/><path d="M2583 1151l20-56l-16-65l-20-66z" color="#3e26a8"/><path d="M2998 960l21-26l-16 65l-21-31z" color="#2e8af4"/><path d="M2041 965l21 25l-17 66l-21-89z" color="#2f89f4"/><path d="M2872 1118l20-40l-16-126l-21 103z" color="#422fc0"/><path d="M2745 969l21 0l-17 53l-21-26z" color="#3086f6"/><path d="M2618 1139l21-112l-16-61l-21 129z" color="#3e26a8"/><path d="M3034 923l20 49l-16-46l-21 8z" color="#249ee6"/><path d="M3196 773l21-31l-17-101l-20 115z" color="#56cc7b"/><path d="M1823 576l21 84l-17 47l-20-40z" color="#f5eb22"/><path d="M2654 1083l20-86l-16-30l-21 61z" color="#4742e4"/><path d="M1984 941l21-55l-15 114l-21-52z" color="#2799ea"/><path d="M3232 626l20 93l-16-116l-20 139z" color="#fcc834"/><path d="M1858 663l21 182l-16-64l-20-122z" color="#f0bb35"/><path d="M2689 1052l21-76l-16 56l-21-35z" color="#4756f5"/><path d="M3105 887l21 6l-17-80l-20 115z" color="#12b1d6"/><path d="M2147 1080l21 29l-16-3l-21-116z" color="#4746ea"/><path d="M2563 976l20 175l-16-187l-20 185z" color="#3184f7"/><path d="M2978 992l21-32l-16 7l-21-8z" color="#367afc"/><path d="M1894 715l21 29l-17-15l-20 116z" color="#b5c435"/><path d="M2725 1048l20-79l-15 26l-21-19z" color="#4759f7"/><path d="M3140 817l21-24l-16 27l-20 73z" color="#2bc4a4"/><path d="M2183 1069l20-26l-16 51l-20 15z" color="#474cef"/><path d="M3013 946l22-22l-16 10l-21 28z" color="#2896ec"/><path d="M2761 1091l20-114l-16-8l-21 0z" color="#4640e1"/><path d="M3176 805l21-33l-16-18l-21 40z" color="#3bc796"/><path d="M2218 1023l21-2l-16 82l-21-59z" color="#3f6afd"/><path d="M2923 1118l20-50l-16-116l-20 15z" color="#4332c9"/><path d="M1965 934l21 9l-16 6l-21-137z" color="#23a0e5"/><path d="M2796 1112l21-36l-16-6l-21-93z" color="#4436d0"/><path d="M1838 709l21-44l-16-4l-20-85z" color="#c7c12a"/><path d="M2669 1117l21-67l-16-53l-21 86z" color="#4433cc"/><path d="M2001 986l20-90l-16-10l-21 56z" color="#3184f7"/><path d="M3247 734l20-128l-15 113l-21-93z" color="#9bc946"/><path d="M1874 762l21-47l-17 130l-20-182z" color="#7bcb5d"/><path d="M2705 1113l21-66l-17-71l-21 75z" color="#4436d1"/><path d="M3120 953l21-136l-16 76l-21-7z" color="#2995ed"/><path d="M2163 1049l21 21l-17 39l-21-30z" color="#465cf9"/><path d="M2994 994l20-50l-16 16l-20 32z" color="#347efa"/><path d="M2036 967l21 44l-16-44l-21-71z" color="#2b90f0"/><path d="M2867 1140l21-110l-16 88l-21-143z" color="#402ab3"/><path d="M1910 860l20-59l-16-58l-20-28z" color="#0ebeba"/><path d="M2740 990l21 101l-16-122l-21 79z" color="#3380f9"/><path d="M3156 869l21-65l-16-12l-22 26z" color="#0db9c5"/><path d="M3029 1032l21-58l-16-51l-21 21z" color="#4167fc"/><path d="M2072 1071l21-42l-17-86l-21 67z" color="#4751f2"/><path d="M2903 988l20 130l-16-151l-21 64z" color="#3281f8"/><path d="M2776 1025l20 87l-15-135l-21 114z" color="#3e6bfd"/><path d="M3192 891l20-166l-16 46l-21 34z" color="#11b3d3"/><path d="M3065 913l20-2l-16 90l-20-27z" color="#1aa9dd"/><path d="M2107 1094l21-70l-16-66l-21 71z" color="#4744e7"/><path d="M2523 1154l20-13l-16-158l-20 7z" color="#3e26a8"/><path d="M1981 902l20 84l-15-44l-22-10z" color="#12b1d6"/><path d="M3226 696l22 38l-16-108l-21 101z" color="#d4bf2e"/><path d="M1854 762l20 0l-16-99l-20 44z" color="#83cb57"/><path d="M2685 987l20 126l-15-63l-21 67z" color="#3184f7"/><path d="M3100 887l21 66l-16-68l-21 27z" color="#10b4cf"/><path d="M2558 1160l21-40l-16-144l-21 165z" color="#3e26a8"/><path d="M2974 1004l21-11l-17-1l-20-54z" color="#367afc"/><path d="M2847 1011l20 129l-15-165l-21 29z" color="#3876fe"/><path d="M3262 641l21-61l-16 26l-20 128z" color="#fcc734"/><path d="M1890 686l20 174l-16-145l-21 46z" color="#e7bb33"/><path d="M3136 950l21-82l-17-51l-20 136z" color="#269ae9"/><path d="M2178 991l21 110l-16-30l-21-21z" color="#3184f7"/><path d="M3009 948l21 84l-16-88l-21 49z" color="#269ae9"/><path d="M2052 881l20 190l-16-60l-21-46z" color="#0eb8c7"/><path d="M2882 1055l21-67l-16 42l-20 110z" color="#465cf9"/><path d="M2756 1111l21-86l-16 66l-21-101z" color="#453cd9"/><path d="M3172 888l20 3l-16-88l-21 66z" color="#0fb5cd"/><path d="M2087 944l21 150l-16-66l-21 43z" color="#249fe5"/><path d="M1961 846l21 57l-17 31l-21-30z" color="#22c2ab"/><path d="M3207 829l20-134l-15 30l-21 166z" color="#30c5a0"/><path d="M3080 959l21-72l-16 24l-21 3z" color="#2897eb"/><path d="M2123 1019l20-43l-15 47l-21 71z" color="#3875fe"/><path d="M2953 969l21 35l-16-66l-21 29z" color="#2a92ef"/><path d="M1996 920l21 65l-16 1l-21-84z" color="#17acdb"/><path d="M2827 1082l21-71l-16-8l-21 142z" color="#474ef0"/><path d="M1870 767l20-81l-16 76l-21 0z" color="#85cb55"/><path d="M2701 1094l20-98l-16 117l-20-126z" color="#4747eb"/><path d="M2989 1114l21-166l-16 44l-21 11z" color="#453cda"/><path d="M2032 927l20-46l-16 86l-20 18z" color="#1aa9dd"/><path d="M3278 620l21 0l-16-40l-21 62z" color="#f9d92c"/><path d="M1905 767l21 48l-16 45l-21-174z" color="#84cb56"/><path d="M2736 1172l21-61l-16-121l-21 6z" color="#3e26a8"/><path d="M2067 891l21 54l-16 126l-20-190z" color="#0eb7c9"/><path d="M2898 1155l21-160l-16-7l-21 67z" color="#3f29b1"/><path d="M1940 853l22-6l-17 57l-20-91z" color="#21c2ac"/><path d="M2230 997l20 104l-16 13l-21-55z" color="#3085f6"/><path d="M3060 909l21 50l-16-46l-20 63z" color="#12b0d7"/><path d="M2103 940l21 81l-17 73l-20-150z" color="#1fa4e1"/><path d="M2934 1063l20-95l-16-1l-21 29z" color="#465cfa"/><path d="M2807 1012l21 69l-16 64l-21-78z" color="#357cfb"/><path d="M3223 778l20-46l-16-37l-20 134z" color="#73cb64"/><path d="M2681 1134l21-40l-17-107l-20 153z" color="#4434ce"/><path d="M3096 1013l21-77l-16-49l-21 71z" color="#357bfb"/><path d="M2969 1014l21 100l-16-112l-20-34z" color="#367bfc"/><path d="M2012 858l21 70l-17 57l-21-64z" color="#1ec1ae"/><path d="M2842 1077l21 83l-16-149l-21 70z" color="#4754f4"/><path d="M3258 690l21-72l-16 22l-21 94z" color="#ebbb34"/><path d="M1885 729l21 40l-16-83l-21 81z" color="#c3c22b"/><path d="M2716 1132l20 40l-15-176l-21 97z" color="#4436d1"/><path d="M3132 875l20-49l-16 124l-20-13z" color="#0bbcbe"/><path d="M2589 1061l21 19l-16-83l-21 5z" color="#4560fb"/><path d="M3005 977l21 47l-17-76l-20 166z" color="#2b91ef"/><path d="M2210 1036l20-39l-15 62l-21 85z" color="#3b71fe"/><path d="M3041 1093l20-184l-16 65l-21 50z" color="#474def"/><path d="M2914 1020l21 42l-17-67l-20 160z" color="#3679fc"/><path d="M3203 926l20-150l-16 52l-20 90z" color="#17acda"/><path d="M3075 962l21 51l-15-56l-21-48z" color="#269be8"/><path d="M2949 1064l21-50l-16-46l-21 95z" color="#4560fb"/><path d="M2823 1160l21-82l-16 3l-21-69z" color="#402bb6"/><path d="M3238 717l21-29l-16 46l-21 44z" color="#d0c02d"/><path d="M3112 987l20-112l-16 60l-20 78z" color="#2c8ff1"/><path d="M2569 1043l21 18l-16-59l-20 102z" color="#3d6efd"/><path d="M2027 942l21-13l-16 0l-20-71z" color="#1ba8de"/><path d="M3274 741l20-158l-16 35l-20 72z" color="#b6c434"/><path d="M1901 751l20 65l-15-47l-21-40z" color="#adc63a"/><path d="M3147 869l21 7l-16-50l-21 50z" color="#17c0b3"/><path d="M2190 999l20 37l-16 108l-21-109z" color="#2e8af4"/><path d="M2063 1046l21-103l-17-52l-20 36z" color="#3c6ffd"/><path d="M3309 740l21-220l-16 85l-21-21z" color="#b9c432"/><path d="M1936 728l21 117l-16 9l-21-38z" color="#cec02c"/><path d="M3183 866l20 59l-16-7l-20-44z" color="#1ac0b2"/><path d="M3056 1073l20-112l-15-52l-21 184z" color="#465cfa"/><path d="M2803 1035l20 125l-16-148l-20 148z" color="#3974fe"/><path d="M3218 910l20-193l-15 59l-20 150z" color="#10b5ce"/><path d="M2261 1173l21-70l-17-110l-20 164z" color="#3f29b0"/><path d="M2550 1181l20-138l-15 60l-22-7z" color="#3e26a8"/><path d="M3254 695l20 46l-16-53l-21 31z" color="#f0ba35"/><path d="M3127 994l21-127l-16 8l-21 112z" color="#2c8ff1"/><path d="M2043 858l20 188l-15-119l-22 14z" color="#2cc5a4"/><path d="M3289 760l21-20l-16-157l-21 158z" color="#a5c740"/><path d="M1916 686l21 42l-16 88l-21-64z" color="#f6c135"/><path d="M3163 895l21-28l-16 8l-22-7z" color="#0cbbc2"/><path d="M2205 1132l21-69l-16-27l-21-37z" color="#463fde"/><path d="M2909 1126l21-126l-16 20l-20 94z" color="#4641e2"/><path d="M3325 606l20-85l-16-2l-20 221z" color="#f6ef1f"/><path d="M1952 864l20 81l-15-102l-21-115z" color="#2ac4a5"/><path d="M3198 832l21 78l-16 16l-21-59z" color="#43c98e"/><path d="M2240 1120l21 53l-16-16l-20-95z" color="#4745e9"/><path d="M2656 1114l21 15l-16-126l-21 24z" color="#4749ec"/><path d="M3071 1001l21-54l-16 14l-20 112z" color="#2d8df2"/><path d="M2114 1034l21-31l-16 103l-21-88z" color="#367bfc"/><path d="M1987 863l21 30l-16 66l-21-14z" color="#2bc4a4"/><path d="M3234 865l20-170l-16 22l-20 193z" color="#25c3a9"/><path d="M2276 1088l20-86l-15 102l-20 69z" color="#4759f7"/><path d="M2023 930l20-72l-16 84l-20-49z" color="#11b3d3"/><path d="M3269 777l21-18l-15-20l-21-44z" color="#92ca4c"/><path d="M3143 935l20-41l-16-27l-20 127z" color="#14afd8"/><path d="M2059 870l20 145l-16 31l-20-188z" color="#26c3a8"/><path d="M3305 623l20-19l-16 136l-20 20z" color="#f5e725"/><path d="M1932 783l20 81l-16-136l-20-42z" color="#95ca4a"/><path d="M2221 987l20 134l-16-59l-20 70z" color="#2798ea"/><path d="M2636 1181l21-67l-16-87l-21 25z" color="#3f29b1"/><path d="M2094 951l21 85l-16-17l-21-5z" color="#19aadc"/><path d="M2925 1092l21-66l-16-26l-21 126z" color="#4759f8"/><path d="M1967 763l21 101l-16 81l-21-82z" color="#b1c537"/><path d="M3214 890l21-26l-17 46l-20-78z" color="#11beb8"/><path d="M2256 1023l21 66l-16 84l-21-52z" color="#3185f7"/><path d="M3087 926l21 99l-16-78l-21 54z" color="#10b3d2"/><path d="M2003 946l21-16l-16-37l-21-30z" color="#15aed9"/><path d="M2833 1063l21 89l-16-132l-20-6z" color="#3e6cfd"/><path d="M3249 827l21-51l-16-81l-20 170z" color="#52cb7f"/><path d="M2870 1024l21 88l-17 44l-20-4z" color="#3184f7"/><path d="M3285 736l20-113l-15 137l-21 17z" color="#d3bf2e"/><path d="M3158 886l21-37l-16 46l-21 40z" color="#17c0b3"/><path d="M2201 985l20 2l-16 145l-20-155z" color="#259ce8"/><path d="M2074 980l21-28l-16 63l-21-145z" color="#23a0e5"/><path d="M1947 807l21-44l-16 101l-21-83z" color="#7acb5e"/><path d="M2778 1059l21 99l-16 12l-20-102z" color="#3b70fe"/><path d="M3067 1097l21-171l-16 73l-21 49z" color="#4759f7"/><path d="M2110 906l20 176l-16-46l-20-85z" color="#0bbcbe"/><path d="M1983 822l20 124l-15-81l-21-102z" color="#64cc70"/><path d="M3229 827l21-2l-16 40l-20 25z" color="#56cc7b"/><path d="M2145 1106l21-18l-16-144l-21 137z" color="#4757f6"/><path d="M2018 901l21-7l-16 36l-20 16z" color="#11beb8"/><path d="M3265 709l21 26l-16 42l-21 50z" color="#f2bc35"/><path d="M3138 977l21-91l-16 47l-20 96z" color="#22a1e4"/><path d="M2181 970l20 15l-16-8l-20 111z" color="#1ea6e0"/><path d="M3047 1103l21-6l-16-51l-21-14z" color="#4758f7"/><path d="M1963 823l21 0l-16-60l-21 44z" color="#6ccc69"/><path d="M3209 846l21-19l-16 63l-21-11z" color="#48ca89"/><path d="M3083 959l20-38l-16 5l-20 171z" color="#19aadc"/><path d="M2125 976l20 129l-15-23l-20-176z" color="#1fa5e1"/><path d="M1998 883l21 20l-16 43l-20-124z" color="#29c4a6"/><path d="M3245 862l20-153l-15 118l-21 2z" color="#3bc896"/><path d="M3118 1062l21-87l-16 54l-20-108zM2161 1067l20-97l-16 118l-20 17z" color="#3974fe"/><path d="M2034 859l21 33l-16 3l-21 8z" color="#42c98f"/><path d="M3154 973l20-137l-16 50l-20 91z" color="#1da6e0"/><path d="M2069 943l22-6l-17 43l-20-89z" color="#10b5cf"/><path d="M2774 1199l21-72l-16-68l-21 37z" color="#3f29b0"/><path d="M3189 829l22 18l-17 33l-21-43z" color="#61cc72"/><path d="M3063 1094l20-135l-16 138l-20 6z" color="#4462fb"/><path d="M2936 1174l21-96l-16-16l-21-51z" color="#4435ce"/><path d="M1979 751l20 134l-15-62l-22 0z" color="#d8be2f"/><path d="M3225 915l21-54l-16-34l-21 19z" color="#0bbdbd"/><path d="M2267 1149l21-80l-16-26l-21 29z" color="#4744e6"/><path d="M2683 1181l20-15l-16-128l-20 40z" color="#4332c9"/><path d="M3098 1057l21 5l-16-141l-21 39z" color="#367bfc"/><path d="M2141 966l20 101l-16 39l-20-130z" color="#16acda"/><path d="M2972 1087l20 64l-16-11l-20-63z" color="#4167fc"/><path d="M2014 803l21 57l-16 43l-21-19z" color="#94ca4a"/><path d="M2719 1210l20-120l-16-55l-20 131z" color="#3e26a8"/><path d="M3134 1025l20-53l-15 3l-21 87z" color="#2c8ff1"/><path d="M3007 1126l21-11l-16-126l-20 162z" color="#4751f2"/><path d="M3170 985l20-156l-16 7l-20 137z" color="#1fa4e2"/><path d="M3043 981l21 113l-17 9l-20 12z" color="#1ea5e1"/><path d="M2916 1164l21 10l-16-163l-21 148z" color="#463ddb"/><path d="M2790 1129l21 9l-17-12l-20 73z" color="#4750f2"/><path d="M3205 816l20 99l-15-69l-21-17z" color="#7ecb5b"/><path d="M2247 1026l21 123l-16-77l-21 38z" color="#2b91f0"/><path d="M3078 986l21 71l-16-98l-20 135z" color="#20a3e2"/><path d="M1994 779l21 25l-16 81l-21-134z" color="#bec32f"/><path d="M3114 1006l21 17l-16 39l-21-6z" color="#269ae9"/><path d="M2156 1030l21-17l-16 54l-20-101z" color="#2b91f0"/><path d="M2987 1017l21 109l-16 25l-21-63z" color="#2995ed"/><path d="M2030 874l20 10l-15-23l-21-58z" color="#41c990"/><path d="M3150 935l21 49l-17-13l-20 54z" color="#0db9c6"/><path d="M2192 1107l21-50l-17-78l-20 34z" color="#4363fb"/><path d="M3023 980l20 1l-16 134l-20 11z" color="#1ba8de"/><path d="M2065 898l21-3l-16 48l-21-61z" color="#28c4a6"/><path d="M2896 1151l21 13l-16-5l-20-105z" color="#4746ea"/><path d="M2769 1152l21-23l-16 70l-21-30z" color="#4746e9"/><path d="M3185 995l20-179l-15 13l-21 156z" color="#21a2e3"/><path d="M2227 1082l21-56l-16 84l-21-55z" color="#3974fe"/><path d="M3058 1000l21-14l-16 108l-21-113z" color="#249fe5"/><path d="M2101 1001l20 55l-16-114l-20-48z" color="#21a2e3"/><path d="M2932 1098l20 5l-16 71l-20-10z" color="#4167fc"/><path d="M2263 1054l20 81l-15 14l-21-123zM3094 1053l21-47l-16 51l-21-71z" color="#3184f7"/><path d="M2010 718l20 156l-16-69l-21-25z" color="#f9c434"/><path d="M3130 883l20 52l-16 90l-20-17z" color="#38c799"/><path d="M3003 1093l20-113l-16 146l-20-109z" color="#3d6dfd"/><path d="M2045 938l21-39l-16-17l-21-10z" color="#0cbcbf"/><path d="M2750 1037l20 116l-16 16l-20-4z" color="#2c8ff1"/><path d="M3165 946l21 49l-16-10l-21-50z" color="#0eb7c9"/><path d="M2081 984l20 17l-16-107l-20 4z" color="#17acdb"/><path d="M2912 1053l21 45l-17 66l-20-13z" color="#3086f6"/><path d="M3074 1061l21-8l-16-67l-21 14z" color="#3283f8"/><path d="M2116 868l21 148l-16 40l-21-55z" color="#4ecb82"/><path d="M2152 945l21 84l-16 1l-21-14z" color="#0dbac2"/><path d="M2025 799l21 139l-16-64l-20-156z" color="#b4c535"/><path d="M2856 1159l21-34l-16 46l-21-20z" color="#4748ec"/><path d="M3145 996l21-49l-16-12l-21-52z" color="#1da6df"/><path d="M2188 984l20 78l-16 45l-21-79z" color="#16adda"/><path d="M2603 1193l21 16l-16 11l-21-17z" color="#4435cf"/><path d="M3019 959l20 84l-16-63l-20 112z" color="#0fb5cd"/><path d="M2061 781l20 203l-15-85l-21 39z" color="#cec02c"/><path d="M3054 977l21 84l-16-61l-21 43z" color="#14afd8"/><path d="M2096 896l21-28l-16 133l-20-17z" color="#38c799"/><path d="M2385 1107l21 115l-16-5l-21-39z" color="#3f6afd"/><path d="M2674 1200l21-147l-16 10l-21-1z" color="#4434cd"/><path d="M3089 1057l21-23l-15 19l-22 7z" color="#2f89f4"/><path d="M2963 1048l20-39l-16 145l-20-34z" color="#2c8ef2"/><path d="M3125 918l21 78l-16-113l-21 152z" color="#20c2ad"/><path d="M2168 907l20 79l-16 43l-21-84z" color="#30c5a1"/><path d="M2999 1090l20-131l-16 134l-21-84z" color="#3877fe"/><path d="M2040 840l21-59l-16 157l-20-139z" color="#83cb57"/><path d="M2872 1058l20-5l-16 73l-20 33z" color="#2e89f4"/><path d="M2745 1146l21-39l-16-70l-21 112z" color="#4754f4"/><path d="M2619 1092l20 118l-16 0l-21-15z" color="#3876fe"/><path d="M3034 1028l21-50l-16 65l-21-84z" color="#269be9"/><path d="M2076 851l21 47l-16 86l-20-203z" color="#74cb63"/><path d="M2364 1166l22-59l-16 72l-21 31z" color="#474aed"/><path d="M2239 975l20 105l-16 47l-21-59z" color="#10b4d0"/><path d="M3070 987l20 70l-16 4l-20-84z" color="#15aed9"/><path d="M2528 1234l20-30l-16-74l-21 76z" color="#3f28ad"/><path d="M2401 1117l20 105l-16 0l-20-115z" color="#4068fc"/><path d="M2274 1085l21-56l-16 70l-21-19z" color="#347efa"/><path d="M2690 1185l20-5l-16-127l-20 147z" color="#4640e0"/><path d="M3105 1025l20-107l-15 117l-21 22z" color="#249ee6"/><path d="M2563 1249l20-151l-15 93l-21 13z" color="#3e26a8"/><path d="M2436 1078l21 133l-16-83l-20 94z" color="#3281f8"/><path d="M2310 1181l20-32l-16-115l-20-5z" color="#4744e6"/><path d="M3014 982l21 45l-16-68l-21 130z" color="#11b2d5"/><path d="M2056 836l21 17l-16-72l-21 60z" color="#95ca4a"/><path d="M2345 1073l21 94l-16 43l-21-62z" color="#3086f6"/><path d="M3050 935l21 53l-16-11l-21 51z" color="#18c0b3"/><path d="M2092 800l20 198l-15-100l-21-47z" color="#c7c12b"/><path d="M2254 1027l21 58l-16-4l-21-106z" color="#23a0e5"/><path d="M3085 1069l21-45l-16 33l-21-70z" color="#2f89f5"/><path d="M2128 883l20 128l-16 19l-21-32z" color="#52cb7f"/><path d="M2543 1176l21 73l-16-47l-21 31z" color="#4747eb"/><path d="M2959 1048l20-18l-16 18l-20 103z" color="#2994ed"/><path d="M2416 1236l21-158l-16 144l-20-105z" color="#402ab4"/><path d="M2705 1066l21 161l-16-47l-21 5z" color="#2d8bf3"/><path d="M2163 1031l21-41l-16-83l-21 104z" color="#23a0e5"/><path d="M2994 1020l21-38l-16 108l-21-59z" color="#20a3e2"/><path d="M2452 1137l21-41l-17 115l-20-133z" color="#4461fb"/><path d="M2325 1074l21-1l-16 76l-20 32z" color="#2f88f5"/><path d="M2741 1091l20 5l-15 50l-21 81z" color="#357dfb"/><path d="M3030 935l20 0l-16 93l-21-44z" color="#1dc1af"/><path d="M2072 860l21-60l-16 53l-21-18z" color="#7bcb5e"/><path d="M3065 1035l21 34l-16-82l-21-52z" color="#249ee6"/><path d="M2108 831l21 53l-17 114l-20-198z" color="#a6c73f"/><path d="M2523 1095l21 82l-16 57l-21-40z" color="#357cfb"/><path d="M2939 1075l20-27l-16 103l-21-32z" color="#2f88f5"/><path d="M2974 1142l21-122l-16 10l-21 18zM2847 1143l21-31l-16 59l-20-81z" color="#4560fb"/><path d="M2305 1171l21-97l-16 107l-20-116z" color="#4750f2"/><path d="M2721 1084l20 8l-16 135l-20-161z" color="#3184f7"/><path d="M2179 949l20 124l-16-84l-20 42z" color="#18c0b3"/><path d="M3010 961l20-26l-16 49l-20 38z" color="#0cbcbe"/><path d="M2883 1180l21-61l-16 59l-21-66z" color="#474bee"/><path d="M3045 997l21 38l-16-100l-21 0z" color="#11b2d5"/><path d="M2088 814l21 18l-17-32l-20 60z" color="#c5c22a"/><path d="M2919 1058l20 17l-16 44l-20 2z" color="#2994ed"/><path d="M2250 966l20 34l-15 29l-21 73z" color="#0bbcbe"/><path d="M2123 932l20 70l-15-119l-21-52z" color="#2fc5a1"/><path d="M2954 998l20 143l-15-93l-21 29z" color="#11b2d5"/><path d="M2412 1132l21-29l-16 133l-21-148z" color="#3f6afd"/><path d="M2700 1103l22-19l-17-18l-20 76z" color="#357dfb"/><path d="M2159 977l20-28l-16 82l-21-30z" color="#0dbac3"/><path d="M2863 1035l20 145l-15-68l-21 31z" color="#21a2e3"/><path d="M3025 1001l21-4l-16-62l-21 26z" color="#11b2d4"/><path d="M2357 1066l20 103l-16 46l-20-179z" color="#2994ed"/><path d="M2772 1069l20 7l-16 139l-20-68zM2230 1073l20-107l-16 136l-20-74z" color="#2a92ef"/><path d="M2103 924l21 8l-16-101l-21-17z" color="#3cc895"/><path d="M2934 1078l21-80l-16 79l-21-18z" color="#2c8ef2"/><path d="M2139 892l20 86l-16 24l-20-72z" color="#5ecc75"/><path d="M2970 1007l20 94l-16 41l-20-144z" color="#12b1d6"/><path d="M2301 1163l21-28l-16 36l-21-33z" color="#465dfa"/><path d="M3005 984l21 15l-16-38l-20 140z" color="#0eb8c6"/><path d="M2879 1025l20 131l-16 24l-20-145z" color="#19aadd"/><path d="M2914 1136l21-60l-16-18l-21 98z" color="#3d6efd"/><path d="M2119 861l21 32l-17 39l-20-8z" color="#94ca4a"/><path d="M2534 1142l21 50l-16 33l-21-113z" color="#3f6bfd"/><path d="M2950 973l21 35l-17-10l-20 80z" color="#0bbdbc"/><path d="M2408 1186l21-29l-17-25l-21 40z" color="#4751f2"/><path d="M2154 935l21 11l-16 33l-21-87z" color="#38c799"/><path d="M2985 937l21 47l-16 117l-21-93z" color="#32c69f"/><path d="M2317 1045l20 137l-16-46l-20 27z" color="#1fa4e2"/><path d="M2732 1051l20 5l-15 47l-21 81z" color="#23a1e4"/><path d="M2190 914l20 170l-16-7l-20-132z" color="#4ecb83"/><path d="M2894 1015l21 121l-16 20l-21-131z" color="#12b1d6"/><path d="M2225 1021l21 43l-16 9l-21 10z" color="#13b0d7"/><path d="M2641 1214l21-48l-17 73l-20-117z" color="#4743e5"/><path d="M2261 962l20 177l-15-107l-21 33z" color="#20c2ac"/><path d="M2134 864l21 72l-16-42l-21-33z" color="#9ac947"/><path d="M2965 1028l21-91l-16 72l-21-35z" color="#15aed9"/><path d="M2839 1153l20-137l-16 4l-21 35z" color="#4069fc"/><path d="M2297 981l20 65l-16 117l-20-24z" color="#0ebeba"/><path d="M2712 1106l20-55l-15 133l-21 4z" color="#3085f6"/><path d="M2170 963l21-49l-16 33l-22-12z" color="#24c3aa"/><path d="M2332 1014l21 88l-16 80l-21-136z" color="#10b4d0"/><path d="M2206 910l20 113l-16 61l-20-170z" color="#58cc79"/><path d="M2910 1021l21 65l-17 50l-20-121z" color="#12b1d6"/><path d="M2241 1074l20-112l-15 103l-21-44z" color="#269be8"/><path d="M2530 1104l21 53l-16-15l-21 75z" color="#2e8af4"/><path d="M2945 1022l21 5l-16-54l-20 114z" color="#11b1d6"/><path d="M2403 1176l21-17l-16 27l-21-95z" color="#465efb"/><path d="M2277 1072l20-91l-16 158l-20-177z" color="#259de7"/><path d="M2692 1125l20-19l-15 82l-21 57z" color="#357dfa"/><path d="M2150 864l20 98l-16-26l-20-72z" color="#a3c741"/><path d="M2854 1176l21-145l-16-15l-21 137z" color="#465efb"/><path d="M2728 1079l20 81l-16-109l-21 57z" color="#2798eb"/><path d="M2890 1113l20-91l-16-7l-20 16z" color="#3087f6"/><path d="M2763 1185l21-78l-16 49l-21 3z" color="#475af9"/><path d="M2221 929l20 145l-15-51l-21-113z" color="#4cca85"/><path d="M2510 1190l20-86l-16 113l-20-84z" color="#4758f7"/><path d="M2925 1118l21-96l-16 65l-21-66z" color="#3184f7"/><path d="M2798 1164l21 24l-16 15l-20-96z" color="#4068fc"/><path d="M2672 1100l21 25l-16 120l-21-78z" color="#2c8ff1"/><path d="M2419 1147l20 96l-16-85l-21 17z" color="#3974fe"/><path d="M2834 1008l21 168l-16-23l-21 35z" color="#0eb8c6"/><path d="M2165 900l21 51l-16 12l-20-99z" color="#78cb60"/><path d="M2454 1165l21 79l-16-77l-21 76z" color="#3f69fc"/><path d="M2870 977l20 136l-16-82l-20 145z" color="#1dc1af"/><path d="M2743 1110l21 75l-16-25l-21-81z" color="#2e8bf3"/><path d="M2201 832l21 99l-16-19l-21 39z" color="#d8be2f"/><path d="M2617 1116l20 129l-16 3l-20-97z" color="#2f88f5"/><path d="M2905 1122l21-4l-16-97l-21 92z" color="#3085f6"/><path d="M2237 982l20 96l-16-4l-20-145z" color="#1dc1af"/><path d="M2814 1159l21-151l-16 180l-21-23z" color="#3c70fd"/><path d="M2434 1086l21 80l-16 77l-21-96z" color="#269be9"/><path d="M2850 1145l20-168l-16 199l-20-168z" color="#3679fc"/><path d="M2181 935l20-103l-15 119l-21-50z" color="#52cb7f"/><path d="M2470 1117l20 135l-16-7l-20-80z" color="#2e8bf3"/><path d="M2885 1020l21 102l-16-9l-20-136z" color="#0eb7c9"/><path d="M2758 1151l22-18l-17 52l-20-75z" color="#3777fd"/><path d="M2632 1232l21-13l-16 27l-21-129z" color="#4746e9"/><path d="M2379 1169l21 23l-16-7l-22-9z" color="#3e6cfd"/><path d="M2794 1022l21 137l-16 6l-21-31z" color="#0eb7c9"/><path d="M2252 996l21 85l-16-3l-21-96z" color="#15bfb5"/><path d="M2541 1091l20 165l-15-78l-21-94z" color="#269be9"/><path d="M2414 1088l21-2l-16 63l-20 43z" color="#259ce7"/><path d="M2830 1092l20 53l-16-137l-20 151z" color="#269ae9"/><path d="M2288 1042l20 101l-16-16l-20-47z" color="#11b2d4"/><path d="M2703 1082l21 24l-16 9l-20 103z" color="#23a0e5"/><path d="M2577 1091l20 130l-16-15l-20 50z" color="#259ce8"/><path d="M2865 1111l21-91l-16-43l-20 168z" color="#2a92ef"/><path d="M2323 1088l21 77l-16-170l-21 148z" color="#249ee6"/><path d="M2739 1036l20 115l-15-39l-22-5z" color="#10b4d0"/><path d="M2197 867l21 14l-17-49l-20 103z" color="#bcc330"/><path d="M2612 1089l20 143l-15-116l-21 105z" color="#259de7"/><path d="M2486 1115l20 141l-16-4l-20-135z" color="#2b90f0"/><path d="M2359 1178l21-8l-16 7l-22-13z" color="#3e6bfd"/><path d="M2774 1054l21-32l-16 112l-20 17z" color="#15aed9"/><path d="M2232 1017l21-19l-16-14l-20-104z" color="#0cbcbf"/><path d="M2648 1230l20-56l-15 45l-21 13z" color="#474bee"/><path d="M2521 1166l20-75l-15-7l-21 172z" color="#3974fe"/><path d="M2394 1198l21-110l-16 104l-21-21z" color="#4560fb"/><path d="M2810 1129l21-37l-17 67l-20-137z" color="#2e8af4"/><path d="M2268 945l20 98l-16 39l-20-85z" color="#50cb81"/><path d="M2683 1135l21-53l-16 136l-21-42z" color="#3185f6"/><path d="M2557 1224l20-133l-16 165l-20-165z" color="#4750f1"/><path d="M2845 1104l22 5l-17 36l-21-53z" color="#2897eb"/><path d="M2303 978l21 112l-16 53l-21-101z" color="#30c5a1"/><path d="M2592 1116l21-26l-16 132l-21-131z" color="#2a91ef"/><path d="M2466 1229l20-114l-16 2l-21 41z" color="#474ef0"/><path d="M2339 977l20 202l-16-14l-20-76z" color="#33c69e"/><path d="M2754 1106l21-52l-16 97l-20-115z" color="#2798ea"/><path d="M2212 910l20 107l-15-137l-21-13z" color="#87cb54"/><path d="M2628 1127l20 103l-16 2l-20-143z" color="#2d8df2"/><path d="M2501 1155l21 9l-16 92l-21-141z" color="#357cfb"/><path d="M2375 1042l20 156l-16-27l-21 7z" color="#0fb5ce"/><path d="M2248 894l21 51l-17 53l-20 19z" color="#a0c843"/><path d="M2663 1064l21 72l-16 40l-20 54z" color="#16adda"/><path d="M2410 1052l21 29l-16 7l-21 110z" color="#11b2d3"/><path d="M2826 966l20 139l-16-11l-20 35z" color="#3fc892"/><path d="M2283 921l21 59l-16 64l-21-99z" color="#7acb5f"/><path d="M2446 1084l20 145l-16-71l-20-77z" color="#1ea5e1"/><path d="M2319 1071l20-94l-16 113l-20-112z" color="#17acda"/><path d="M2734 1140l21-35l-16-69l-21 68z" color="#2f88f5"/><path d="M2354 1027l21 15l-16 137l-20-202z" color="#0cbcc0"/><path d="M2770 1155l21-60l-17-41l-21 51z" color="#3380f9"/><path d="M2228 904l20-10l-16 123l-20-107z" color="#99c948"/><path d="M2643 1183l21-119l-16 166l-21-103z" color="#3c6ffd"/><path d="M2390 1118l20-66l-15 146l-21-156z" color="#2897eb"/><path d="M2805 1038l21-72l-16 163l-20-32z" color="#0eb8c8"/><path d="M2263 957l21-35l-16 25l-21-53z" color="#52cb7f"/><path d="M2678 1102l22-11l-17 46l-20-73z" color="#249fe6"/><path d="M2552 1201l21-47l-16 70l-21-110z" color="#4266fc"/><path d="M2714 1081l21 59l-15-36l-22-13z" color="#1aa9dd"/><path d="M2588 1201l21-36l-17-49l-21 38z" color="#4167fc"/><path d="M2461 1046l20 156l-15 27l-21-145z" color="#0eb7ca"/><path d="M2750 1060l20 95l-15-51l-21 36z" color="#11b2d4"/><path d="M2623 1236l21-54l-16-55l-21 37z" color="#4752f2"/><path d="M2497 1130l21 35l-17-10l-20 47z" color="#2a92ef"/><path d="M2786 1011l20 28l-16 58l-20 58z" color="#1bc1b0"/><path d="M2243 851l21 106l-16-63l-21 12z" color="#e6bc33"/><path d="M2659 1077l21 24l-17-37l-20 119z" color="#17acdb"/><path d="M2532 1208l21-7l-16-87l-21 50z" color="#4264fc"/><path d="M2406 1150l21-42l-17-56l-21 65z" color="#2f89f4"/><path d="M2441 1167l21-121l-16 38l-21 24z" color="#3380f9"/><path d="M2314 1048l21 19l-16 4l-21-20z" color="#0eb8c7"/><path d="M2730 1070l21-10l-16 80l-21-59z" color="#12b0d7"/><path d="M2603 1111l21 125l-16-73l-21 38z" color="#249ee6"/><path d="M2477 1192l21-62l-17 72l-20-156z" color="#3b71fe"/><path d="M2350 1066l21-59l-16 20l-21 41z" color="#10b4d1"/><path d="M2766 978l20 34l-16 143l-21-94z" color="#42c98f"/><path d="M2639 1181l20-104l-15 106l-21 53z" color="#3778fd"/><path d="M2512 1091l21 117l-16-43l-21-35z" color="#1ba8de"/><path d="M2386 1036l20 114l-16-32l-20-112z" color="#0bbdbd"/><path d="M2259 960l20 53l-15-56l-21-106z" color="#5dcc75"/><path d="M2548 1060l21 113l-17 28l-20 7z" color="#0fb5cd"/><path d="M2421 1012l21 155l-15-60l-22 43z" color="#25c3a9"/><path d="M2295 939l20 111l-16 2l-21-40z" color="#7ccb5d"/><path d="M2710 1079l21-8l-16 10l-21 21z" color="#14afd8"/><path d="M2583 1203l21-92l-16 90l-21-29z" color="#3d6dfd"/><path d="M2330 994l21 72l-16 2l-21-19z" color="#39c798"/><path d="M2746 1065l20-87l-16 84l-20 10z" color="#0fb5ce"/><path d="M2619 1048l20 133l-16 55l-20-125z" color="#0dbac3"/><path d="M2492 1122l21-31l-16 39l-20 62z" color="#259ce7"/><path d="M2655 1049l20 100l-16-72l-20 104z" color="#0dbac3"/><path d="M2527 1121l21-61l-16 148l-20-116z" color="#249ee6"/><path d="M2401 978l21 34l-16 138l-21-113z" color="#4cca85"/><path d="M2275 917l20 22l-16 74l-21-54z" color="#a3c740"/><path d="M2690 1083l21-4l-16 22l-21 48z" color="#13b0d7"/><path d="M2563 1116l21 87l-16-30l-20-113z" color="#22a1e4"/><path d="M2437 1001l20 184l-16-18l-20-155z" color="#37c79a"/><path d="M2310 902l21 94l-16 54l-21-111z" color="#bbc331"/><path d="M2725 1076l22-12l-16 7l-22 9z" color="#11b3d2"/><path d="M2598 1125l21-77l-15 63l-21 92z" color="#249ee6"/><path d="M2472 1190l21-68l-16 70l-21-7z" color="#3679fc"/><path d="M2346 934l20 133l-16-1l-20-71z" color="#8fcb4e"/><path d="M2634 1113l21-64l-16 132l-20-133z" color="#1fa4e1"/><path d="M2508 1173l21-52l-17-30l-21 32z" color="#3185f7"/><path d="M2670 1011l21 73l-16 65l-21-100z" color="#30c6a0"/><path d="M2543 1209l21-93l-16-56l-21 61z" color="#3c6ffd"/><path d="M2290 901l21 1l-16 39l-21-23z" color="#c3c22b"/><path d="M2705 1088l22-13l-16 4l-22 5z" color="#12b1d6"/><path d="M2579 1133l21-9l-16 79l-21-87z" color="#259be8"/><path d="M2452 1110l21 80l-16-5l-20-184z" color="#1ca7df"/><path d="M2326 914l21 21l-17 61l-20-94z" color="#b3c536"/><path d="M2488 1073l20 100l-15-51l-21 68z" color="#0fb6cb"/><path d="M2650 1121l20-110l-15 38l-21 64z" color="#1fa4e2"/><path d="M2523 1097l21 112l-16-89l-21 53z" color="#14aed8"/><path d="M2686 1123l21-35l-17-3l-20-74z" color="#20a3e2"/><path d="M2305 913l22 2l-16-13l-22 0z" color="#bec32f"/><path d="M2595 1075l20 51l-16-1l-21 10z" color="#0eb7ca"/><path d="M2468 1168l20-95l-16 117l-20-80z" color="#2c8ef2"/><path d="M2630 1034l21 87l-16-8l-21 13z" color="#23c2ab"/><path d="M2503 1151l21-54l-16 76l-20-100z" color="#2798eb"/><path d="M2377 914l20 188l-16 5l-20-44z" color="#bec32f"/><path d="M2666 1117l20 6l-16-112l-20 110z" color="#1aa9dd"/><path d="M2539 1019l20 173l-15 17l-21-112z" color="#35c69c"/><path d="M2412 966l21 61l-16 114l-20-39z" color="#74cb63"/><path d="M2575 1008l20 68l-16 59l-20 57z" color="#41c890"/><path d="M2321 826l21 184l-15-95l-22-3z" color="#fbd230"/><path d="M2357 886l20 28l-16 150l-20-54z" color="#e6bc33"/><path d="M2646 1108l20 9l-16 4l-20-87z" color="#14afd8"/><path d="M2519 1097l20-78l-15 79l-21 53z" color="#10b3d1"/><path d="M2392 936l21 30l-16 136l-20-188z" color="#a8c63d"/><path d="M2555 1153l20-145l-16 184l-20-173z" color="#269be8"/><path d="M2464 1088l21 29l-17 51l-21-53z" color="#0eb7ca"/><path d="M2337 853l21 33l-17 124l-20-184z" color="#fbc634"/><path d="M2626 1069l21 39l-17-74l-20 118z" color="#0cbdbc"/><path d="M2499 987l21 110l-16 54l-21-33z" color="#63cc71"/><path d="M2372 899l21 39l-16-22l-21-30z" color="#debd31"/><path d="M2535 1152l20 1l-16-134l-21 77z" color="#249ee6"/><path d="M2570 1083l21 27l-16-102l-21 145z" color="#0dbac3"/><path d="M2444 1100l20-10l-16 26l-20-169z" color="#0fb5cd"/><path d="M2606 998l21 71l-17 83l-20-42z" color="#59cc78"/><path d="M2479 1044l20-57l-15 131l-21-28z" color="#2cc4a4"/><path d="M2352 964l22-64l-17-14l-20-33z" color="#92ca4c"/><path d="M2515 1065l20 87l-16-55l-20-110z" color="#17c0b4"/><path d="M2388 893l21 20l-16 25l-21-38z" color="#ecba35"/><path d="M2549 1126l22-43l-16 70l-21-1z" color="#16acda"/><path d="M2586 980l20 18l-16 112l-20-25z" color="#7ccb5d"/><path d="M2459 982l21 62l-16 46l-21 10z" color="#7acb5f"/><path d="M2495 1104l20-37l-16-80l-21 57z" color="#0fb7ca"/><path d="M2368 912l21-19l-16 6l-21 65z" color="#ddbd30"/><path d="M2530 1004l21 124l-16 24l-21-87z" color="#5dcc75"/><path d="M2566 1115l20-135l-15 105l-21 43z" color="#10b4d0"/><path d="M2439 913l21 70l-16 117l-21-41z" color="#dfbd31"/><path d="M2475 935l20 169l-16-58l-20-64z" color="#c7c12b"/><path d="M2510 1021l21-17l-16 63l-21 37z" color="#4fcb82"/><path d="M2384 794l20 216l-16-117l-21 21z" color="#f8f817"/><path d="M2546 931l20 184l-16 13l-20-123z" color="#d0c02d"/><path d="M2419 839l21 74l-16 146l-21-49z" color="#f9dc2b"/><path d="M2455 977l21-41l-17 48l-20-71z" color="#96c949"/><path d="M2490 894l21 129l-16 81l-21-169z" color="#f4bf35"/><path d="M2526 1011l20-80l-16 75l-20 17z" color="#67cc6d"/><path d="M2399 855l21-16l-16 171l-21-216z" color="#fbd52e"/><path d="M2435 888l20 89l-16-62l-20-76z" color="#f8c334"/><path d="M2470 922l21-28l-16 43l-21 40z" color="#e3bc32"/><path d="M2506 993l20 18l-16 12l-20-129z" color="#8bcb51"/><path d="M2415 849l20 41l-16-51l-21 16z" color="#f8dd2a"/><path d="M2450 870l21 54l-16 53l-21-89z" color="#fcd031"/><path d="M2486 850l20 143l-16-99l-21 30z" color="#f8de2a"/><path d="M2430 901l21-30l-16 19l-21-41z" color="#f8c334"/><path d="M2466 781l21 70l-17 73l-20-52zM2446 778l20 4l-16 90l-20 29z" color="#f9fb15"/></g>
<path d="M334.5 119.1L244.6 142.6L174.5 112.8L174.5 46.4M244.6 142.6l-2 -0.9M267.1 136.7l-2 -0.9M289.6 130.8l-2 -0.9M312 125l-2 -0.9M244.6 142.6l2.1 -0.6M227.1 135.2l2.1 -0.6M209.6 127.7l2.1 -0.6M192 120.2l2.1 -0.6M174.5 94.3l2.1 -0.6M174.5 75.9l2.1 -0.6M174.5 57.5l2.1 -0.6" fill="none" stroke="#262626" stroke-width="0.7"/>
<text transform="translate(249.8 153.1) scale(1.1 1)" class="t3" text-anchor="start" style="font-size:7.8px">-1</text>
<text transform="translate(272.3 147.2) scale(1.1 1)" class="t3" text-anchor="start" style="font-size:7.8px">-0.5</text>
<text transform="translate(294.8 141.3) scale(1.1 1)" class="t3" text-anchor="start" style="font-size:7.8px">0</text>
<text transform="translate(317.2 135.5) scale(1.1 1)" class="t3" text-anchor="start" style="font-size:7.8px">0.5</text>
<text transform="translate(237.7 152.3) scale(1.1 1)" class="t3" text-anchor="end" style="font-size:7.8px">-1</text>
<text transform="translate(220.2 144.8) scale(1.1 1)" class="t3" text-anchor="end" style="font-size:7.8px">-0.5</text>
<text transform="translate(202.7 137.4) scale(1.1 1)" class="t3" text-anchor="end" style="font-size:7.8px">0</text>
<text transform="translate(185.1 129.9) scale(1.1 1)" class="t3" text-anchor="end" style="font-size:7.8px">0.5</text>
<text transform="translate(169.5 97.2) scale(1.1 1)" class="t3" text-anchor="end" style="font-size:7.8px">1</text>
<text transform="translate(169.5 78.7) scale(1.1 1)" class="t3" text-anchor="end" style="font-size:7.8px">2</text>
<text transform="translate(169.5 60.3) scale(1.1 1)" class="t3" text-anchor="end" style="font-size:7.8px">3</text>
<text x="254" y="21" class="ti3" text-anchor="middle" textLength="71" lengthAdjust="spacingAndGlyphs" style="font-size:9.3px">Objective space</text>
<text transform="translate(300 155.8) scale(1.1 1)" class="l3" text-anchor="middle" style="font-size:8.6px">x<tspan dy="2.1" style="font-size:6.0px">1</tspan></text>
<text transform="translate(191.8 153.7) scale(1.1 1)" class="l3" text-anchor="middle" style="font-size:8.6px">x<tspan dy="2.1" style="font-size:6.0px">2</tspan></text>
<text transform="translate(156.4 80) rotate(-90) scale(1 1.1)" class="l3" text-anchor="middle" style="font-size:8.6px" textLength="40" lengthAdjust="spacingAndGlyphs">F7( x<tspan dy="2.1" style="font-size:6.0px">1</tspan><tspan dy="-2.1"> , x</tspan><tspan dy="2.1" style="font-size:6.0px">2</tspan><tspan dy="-2.1"> )</tspan></text>
<path d="M242.7 316.7L180.2 280.5L180.2 201.8M283.8 302.7L221.3 266.5L221.3 187.8M324.9 288.7L262.4 252.5L262.4 173.8M242.7 316.7L324.9 288.7L324.9 210M211.4 298.6L293.6 270.6L293.6 191.9M180.2 280.5L262.4 252.5L262.4 173.8M180.2 263.1L262.4 235.1L324.9 271.3M180.2 240.2L262.4 212.2L324.9 248.4M180.2 217.3L262.4 189.3L324.9 225.5" fill="none" stroke="#e2e2e2" stroke-width="0.6"/>
<g fill="none" stroke-width="0.45" opacity="1"><path d="M261.4 258.2l-1.5 0l-0.6-0.8l1.7-0.6l1.4 0.5l-1 0.9" stroke="#43b"/><path d="M307.7 285l-2 0.1l-1-0.1l-1.3-0.5l-0.5-0.8l0.9-0.9l1.5-0.4l1.5 0l1.1 0.2l1.1 0.6l-0.2 1.2l-0.9 0.5M274.7 265.9l-0.8-0.1l-0.5-0.6l2.2 0l-0.9 0.7M261.6 259.6l-2.3-0.1l-2-0.5l-0.8-0.6l-0.2-0.6l0.4-1l1-0.7l1.5-0.4l2-0.1l2.4 0.3l1.2 0.6l0.5 0.7l0 0.8l-0.7 0.8l-1.2 0.6l-1.8 0.2M201.9 279.2l-1 0l-1.7-0.3l-0.9-0.7l0.2-1l1.1-0.6l1.9-0.2l1.4 0.2l1.3 0.5l0.3 0.9l-1 0.9l-1.6 0.3M243.3 264.1l-0.8 0l-0.6-0.8l2.2 0.2l-0.8 0.6" stroke="#45e"/><path d="M256.9 311.9l0.6-0.5l1.2-0.6l1.6-0.3l0.7 0M315 292.1l0.9-1.1l0.7-0.4l1.5-0.5l2.1-0.3l1.5 0M307.4 286.1l-2.2 0l-0.7 0l-1.9-0.4l-0.8-0.3l-0.5-0.3l-0.6-0.6l-0.1-0.9l0.5-1.1l1-0.7l1.5-0.4l2-0.1l1.3 0.1l1.4 0.2l0.6 0.1l1.4 0.5l0.8 0.7l0.3 0.8l-0.3 0.8l-0.7 0.8l-1.3 0.6l-1.7 0.2M247.8 305.8l-1.4 0.1l-0.7-0.1l-1.4-0.2l-1.3-0.5l-0.6-0.8l0.3-1l1.4-0.9l1.7-0.3l2.4 0.2l1.8 0.4l0.7 0.7l0 1l-1.3 1l-1.6 0.4M287.7 291.1l-0.7 0l-1.4-0.5l-0.4-0.8l0.9-0.9l1.6-0.3l1 0l1.7 0.3l0.7 0.8l-0.3 0.7l-1.1 0.6l-2 0.1M260.9 299.5l-0.8-0.2l1.3-0.8l0.6 0.1l0.3 0.5l-1.4 0.4M228.8 308.6l0.6 0.2l1.4 0.5l0.9 0.6l0.2 0.5M294.9 278.9l-2.1-0.3l-1.1-0.6l-0.3-0.9l0.7-1.1l1.6-0.3l1.6 0.1l1 0.1l0.8 0.2l1.1 0.6l0.1 0.9l-0.3 0.6l-1.2 0.5l-1.9 0.2M236.4 297.9l-0.9 0.2l-1.1-0.6l0.5-0.4l1.7 0.6M289.5 274.5l-1.5-0.1l-1-0.6l-0.6-0.7l-0.7-0.7l-1-0.7l-2.4-0.1l-1.4-0.5l-0.4-0.6l0.5-0.9l1.6-0.3l0.8 0l1.6 0.4l0.6 0.8l0.2 0.6l-1.1 0.6l1.3 0.5l2.1 0.3l1.3 0.5l1.1 0.6l-1 0.9M275.2 267.5l-2.5-0.2l-1.7-0.5l-0.8-0.7l-0.1-0.9l0.2-0.6l1-0.7l1.5-0.4l2 0l2.2 0.3l1.2 0.6l0.5 0.7l0.1 0.7l-0.5 1l-1.2 0.5l-1.9 0.2M215.4 287l-0.8 0l-1.7-0.4l-0.8-0.7l0.2-0.7l1-0.6l2-0.2l0.9 0.1l1.3 0.5l0.4 0.9l-0.9 0.8l-1.6 0.3M205 279.8l-1.5 0.3l-2 0.1l-0.7 0l-1.9-0.2l-1.7-0.5l-0.9-0.6l-0.3-0.9l0.3-0.8l0.7-0.8l1.3-0.6l1.6-0.3l2.1 0l1.3 0l1.3 0.2l1.8 0.7l0.4 0.6l0 1.2l-0.7 0.9l-0.9 0.5M263 260.4l-1.4 0l-0.7 0l-1.8-0.1l-0.7 0l-1.3-0.2l-1.5-0.5l-0.9-0.6l-0.3-0.9l0.2-1l0.8-1.1l0.7-0.4l1.8-0.6l1.9-0.2l1.5 0l0.8 0l1.4 0.2l1.7 0.4l1.2 0.5l0.6 0.8l0.2 0.9l-0.3 1l-0.9 1l-1.3 0.5l-1.7 0.3M243.7 265.6l-2.2 0l-2.3-0.4l-0.8-0.7l0.1-0.7l0.5-0.9l1-0.7l1.5-0.4l2-0.1l2.2 0.3l1.3 0.6l0.4 0.7l-0.4 1.2l-1.6 0.9l-1.7 0.2M215.3 274.4l-2-0.4l-0.8-0.7l0.4-1.1l0.3-0.3l1.4-0.5l0.9-0.1l1.1 0l1.6 0.1l1.3 0.5l0.2 0.9l-1 1l-1.4 0.5l-2 0.1M231.7 268.7l-2.4-0.1l-1.4 0.5l-1.1 0.6l-1.1 0.6l-1.3 0.5l-1.5-0.1l-0.6-0.7l1.6-0.7l1.5-0.4l2.3 0l1.5-0.3l-0.6-0.8l0.5-0.5l1.1-0.7l1.8-0.2l0.7 0l1.4 0.5l0.1 0.8l-0.9 0.7l-1.6 0.3M182.6 281.9l1.4 0.2l1.7 0.4l1.2 0.5l0.6 0.7l0.3 0.9" stroke="#37f"/><path d="M241.8 316.2l2.1 0.1M254.8 312.6l0.7-1.1l0.8-0.8l1.2-0.5l1.7-0.4l1 0l0.9-0.1l2.1 0M271.1 307l1.2-0.9l1.4-0.4l1.7-0.3l0.8-0.1M287.5 301.4l1.5-0.7l1.6-0.3M297 298.2l1.1-1.1l1.1-0.6l1.5-0.4l1.8-0.2l1.3 0M313.2 292.7l0.2-0.6l0.4-0.6l0.9-1.2l1-0.6l1.5-0.4l1.9-0.2l1.8 0l2.5 0.1M308.8 286.9l-1.2 0l-1 0l-1.6 0l-0.8-0.1l-1.5-0.1l-1.3-0.3l-1.8-0.6l-0.6-0.7l-0.2-0.9l0.1-1l0.1-0.7l0.2-1.1l-0.3-1.1l-1.7-0.1l-2.7-0.3l-2-0.3l-1.1-0.2l-1.6-0.8l-0.5-0.8l-0.3-0.8l-0.6-0.6l-0.5-0.3l-0.9-0.4l-1.5-0.4l-1-0.6l-1-0.7l-0.9-0.6l-1-0.6l-1.5-0.5l-1.3-0.5l-0.7-0.7l-0.3-0.9l-0.3-0.8l-1-0.6l-1.7-0.3l-2.2-0.3l-0.7-0.1l-1.2-0.2l-1.5-0.5l-0.8-0.6l-0.3-0.9l0.1-1l0.4-1.1l0.9-0.9l1.5-0.4l1.2 0.1l1-0.1l1.6 0.1l0.9 0.1l1.2 0.2l1.7 0.4l1 0.4l0.9 0.9l0.3 0.8l0 0.9l0.4 0.9l1.1 0.6l1.6 0.4l1.8 0.3l1.4 0.5l0.8 0.7l0.5 0.8l1.1 0.6l1.2 0.5l1.2 0.6l1 0.6l0.6 0.7l0.7 0.7l1.5 0.5l1 0.2l0.7 0.2l1.5 0.4l1.1 0.6l0.5 0.8l0 0.9l-0.1 1l0.3 0.9l1.3 0.5l1.9 0.1l2.6 0.3l2.1 0.2l0.8 0.2l1 0.2l1.4 0.5l0.9 0.6l0.3 0.8l0 1l-0.5 1.1l-0.8 0.9l-1.2 0.6l-1.7 0.2M247.3 306.7l-2.4-0.1l-2.4-0.4l-1.3-0.5l-0.6-0.7l-0.2-0.9l0.3-1.1l0.6-1l1.1-0.5l1.8-0.3l1.8 0l2.5 0.1l2.1 0.2l1.5 0.5l0.8 0.7l0.1 0.9l-0.4 1.1l-0.8 0.9l-1 0.6l-1.6 0.4l-1.9 0.1M289.5 292.1l-2.1 0.1l-0.9 0l-1.5-0.1l-0.9 0l-1.6-0.5l-0.1-0.9l0.4-1.1l0.6-1l0.5-0.3l0.5-0.4l1.5-0.3l2.1-0.1l1 0l1.5 0.2l2.1 0.5l0.8 0.7l0.1 0.9l-0.3 0.7l-0.5 0.5l-1.5 0.9l-1.7 0.2M261.3 301l-2.4-0.1l-1.9-0.6l-0.4-0.8l0.3-1l0.8-0.8l1.4-0.5l1.8-0.2l2.2 0l1.4-0.2l0.7-0.2l0.7-0.5l0.9-0.7l1.4-0.5l1.5-0.4l1.5-0.4l1.4-0.4l0.8-0.8l1.1-0.6l0.9-0.1l0.9-0.2l2.2 0l2.1 0.3l0.4 0.8l-0.6 1.2l-1.2 0.7l-1.5 0.4l-0.8 0.1l-1.1 0l-1.4 0.5l-1.2 0.6l-1.2 0.5l-1.3 0.5l-2 0.1l-1.7 0.3l-0.9 0.7l-0.2 0.5l-0.4 0.4l-0.9 0.8l-1.4 0.4l-1.9 0.2M227 307.6l2.1 0.3l0.9 0.2l0.9 0.1l1.4 0.5l0.9 0.7l0.3 0.7l0 1.1M237.1 299.6l-2.2 0l-0.7-0.1l-1.7-0.4l-1.1-0.6l-0.4-0.8l-0.1-0.9l-0.4-0.9l-1.5-0.4l-1.7-0.3l-0.9-0.6l-1-0.7l-0.9-0.7l-1-0.6l-1-0.2l-0.7-0.2l-1.3-0.5l-0.7-0.7l0.1-1l1-1.1l2.1 0l2.1 0.2l0.9 0.3l0.7 0.2l0.5 0.5l0.5 1l1.1 0.6l1.2 0.6l1.2 0.5l1.1 0.6l0.4 0.8l0.4 0.6l0.5 0.3l1.3 0.3l1.9 0.2l1.9 0.4l1 0.6l0.3 0.9l-0.3 1.1l-0.9 0.7l-1.7 0.3M278.8 284.7l-1.8 0.2l-2-0.3l-1-0.6l-0.2-0.9l0.7-0.9l1.6-0.3l1.1 0.1l1.6 0.2l1.4 0.7l0 0.9l-1.4 0.9M250.3 293.4l-0.9 0l-1.1-0.6l1.4-1l1.2 0.1l1 0.6l-1.6 0.9M217.2 302l0.8 0.1l1.5 0.5l1 0.6l0.5 0.8M271.4 280.4l-0.8 0l-0.9-0.7l-0.7-0.7l2 0.3l1.2 0.5l-0.8 0.6M266.6 277.6l-1.7-0.1l-0.9-0.1l-0.8-0.3l-0.1-0.9l0.4-0.4l1.6-0.3l1.8 0.4l0.6 0.7l-0.9 1M206.2 295.5l1.4 0.6l0.8 0.6M217.6 288.3l-0.9-0.1l-1.5-0.1l-0.9-0.1l-2-0.2l-1.4-0.5l-0.9-0.7l-0.3-0.8l0.2-0.7l0.6-0.9l1.2-0.6l1.7-0.3l2.2 0.1l1 0l1.8 0.3l1.4 0.6l0.5 0.7l0 1l-0.3 1.1l-0.7 0.9l-1.7 0.3M257.3 273.5l-2.4-0.2l-1.9-0.4l-0.8-0.6l0.1-1l0.3-0.5l1-0.7l1.5-0.4l2-0.1l2 0.3l1.2 0.6l0.5 0.7l-0.2 1.1l-1.5 1l-1.8 0.2M230.8 282.1l-2 0.1l-1.7-0.4l-0.8-0.7l0.5-1.1l1.5-0.6l2-0.1l1.1 0l1.4 0.5l0.2 0.9l-0.8 0.9l-1.4 0.5M246.7 276.2l-0.9 0.1l-0.9 0.1l-1.7-0.1l-0.5-0.8l1.2-0.9l1.9-0.2l1.5 0.5l-0.2 1M237.7 278.5l-0.8-0.1l-0.5-0.6l1.5-0.4l2.1 0l-1 0.6l-1.3 0.5M196.2 289.8l1.3 0.2l1.6 0.3l1.2 0.6l0.7 0.7l0.3 0.9M204.8 280.9l-1.9 0.1l-1.6 0l-0.7 0l-1.7-0.2l-0.9-0.1l-1.1-0.1l-1.5-0.5l-0.9-0.6l-0.3-0.9l0.2-1l0.6-1.1l0.9-0.8l1.2-0.5l1.6-0.4l1.2 0l0.8-0.1l2.1 0l2.3 0.1l2.3 0l1.6-0.3l0.8-0.8l0.5-1l0.4-0.7l1.2-0.9l1.3-0.4l1.8-0.3l0.7-0.1l1.2-0.1l1.7-0.3l1.1-0.5l1-0.7l1.4-0.5l1.5-0.4l1.4-0.4l1.4-0.5l0.8-0.5l1.4-0.7l1.6-0.3l2-0.2l1.8-0.2l1.4-0.4l0.8-0.8l0.4-0.6l1.1-1.1l1-0.6l1.5-0.4l1.9-0.2l1.3 0l0.9 0l1.6 0.1l0.9 0.1l1.2 0.1l1.3 0.6l0.3 0.8l-0.1 1l-0.6 1.2l-0.9 0.8l-1.2 0.5l-1.7 0.3l-1.3 0.1l-0.7 0l-2.1 0.1l-2 0.1l-1.4 0.4l-0.8 0.8l-0.8 0.8l-1.1 0.6l-1.6 0.4l-1.7 0.3l-1.3 0.4l-1.3 0.6l-1.3 0.5l-1.3 0.5l-1.8 0.2l-1.1 0.3l-0.7 0.2l-0.8 0.5l-0.9 0.8l-0.5 0.4l-1.8 0.7l-1.8 0.2l-2.1 0.1l-2.3-0.1l-2.2 0l-1 0.7l-0.4 1l-0.4 1.1l-0.2 0.5l-0.3 0.4l-0.6 0.8l-1.1 0.8l-1.6 0.3M268.3 255.9l0.5 1.1l-0.1 1l-0.4 1.1l-0.7 1.2l-1.3 0.8l-1.1 0l-0.8 0.1l-2.2 0l-2.3-0.1l-2.5-0.2l-2.2-0.2l-0.7-0.2l-1.1-0.2l-0.7-0.6l-0.2-1l0.3-1l0.2-0.6l0.3-0.5l1-1.2M181.3 281.2l2.2 0.1l2.1 0.2l1.2 0.3l1.7 0.6l0.5 0.6l0.3 1.1l-0.1 1M257.2 254.3l1.5-0.2l1.8 0l2.5 0.1l2 0.3l1.3 0.3" stroke="#2ad"/><path d="M253 313.2l0.2-0.5l0.4-0.7l0.6-1.1l0.7-1l1.2-0.5l1.7-0.3l1.7 0l2.6-0.1l2.1 0l1.8-0.2M267.9 308.1l0.7-0.4l0.8-0.7l0.4-0.5l1.3-1.1l1.4-0.4l1.7-0.3l1.2-0.1l0.7-0.1l1.6-0.3l1.2-0.6l0.8-0.5l1.6-0.6l1.1-0.3l1.8-0.5l1.4-0.5l1.1-0.6l1.2-0.6l1.6-0.3l1.8-0.2l1.7-0.3l1.4-0.5l1-0.6l0.4-0.4l0.3-0.5l0.8-0.8l0.6-0.3l0.5-0.3l1.5-0.4l1.9-0.2l1.6 0l2.6 0M311.3 293.3l0.5-0.8l0.5-1l0.3-1.1l0.3-0.5l0.5-1.1l-0.6-0.8l-2.4-0.1l-2.4-0.2l-2.4-0.1l-2.4-0.1l-2.4-0.2l-2.4-0.1l-2.4-0.1l0.2 0.8l-0.3 0.4l-0.2 0.8l-0.5 1.1l-0.6 1.1l-0.8 0.8l-1.2 0.5l-1.8 0.3l-0.9 0.1l-1.1 0l-2 0.1l-1.9 0.2l-1.4 0.4l-0.9 0.7l-0.8 0.8l-1.1 0.6l-1.6 0.4l-1.7 0.3l-1.4 0.4l-1.2 0.6l-1.3 0.5l-1.4 0.5l-1.7 0.2l-0.8 0.2l-0.8 0.2l-1.1 0.6l-0.8 0.8l-0.9 0.6l-1.5 0.5l-1.8 0.2l-1.9 0.1l-2.2 0.1l-1.3 0.1l-1.4 0.5l-1 1l-0.5 1l-0.4 0.6l-0.8 1.2l-0.9 0.7l-1.6 0.4l-2.1 0l-1.3 0l-1-0.1l-1.5 0l-1-0.1l-1.3-0.1l-1.4-0.3l-1.9-0.5l-0.5-0.8l-0.1-0.9l0.2-1l0-1l-0.2-0.9l-0.7-0.7l-1.6-0.4l-2-0.3l-2-0.3l-1.5-0.4l-1.2-0.6l-0.5-0.8l-0.3-0.8l-0.5-0.5l-0.9-0.5l-0.6-0.2l-1.5-0.5l-1-0.6l-0.9-0.7l-1-0.6l-1-0.6l-1.5-0.5l-1.3-0.5l-0.7-0.7l-0.3-0.8l-0.5-0.8l-1-0.6l-1.7-0.4l-2-0.3l-1-0.2l-0.9-0.1l-1.4-0.5l-0.9-0.6l-0.2-0.8l0-1.1l0.2-1l0.3-1.1l0.6-1.2l-2.4-0.1l-2.4-0.1l-2.4-0.2l-2.4-0.1l-2.4-0.1l-2.4-0.2l-2.4-0.1l-1.1 0.6l0.2 0.6l-0.4 0.6l-0.2 1.1l-0.2 1.2l0 1.2M240.6 315.5l2.4 0.1l2.4 0.2M314.5 282.7l0 0.9l-0.1 1l-0.3 1.1l-0.4 1.1l0.2 0.6l-1.1 0.6l2.5 0.2l2.4 0.1l2.4 0.1l2.4 0.2l2.4 0.1M293.5 286.9l2.5 0.2l0.8-0.8l0.1-1.2l0.2-1.1l0.1-1.2l-0.3-0.9l-0.9-0.6l-1.4-0.5l-0.9-0.1l-1-0.2l-2-0.3l-1.7-0.4l-1-0.6l-0.5-0.8l-0.3-0.8l-0.7-0.7l-1.3-0.5l-1.5-0.5l-1-0.6l-1-0.6l-0.9-0.7l-1-0.6l-1.5-0.5l-0.6-0.2l-0.7-0.3l-0.7-0.7l-0.3-0.8l-0.5-0.7l-1.1-0.7l-1.6-0.4l-1.8-0.3l-2.2-0.3l-1-0.3l-1.1-0.6l-0.4-1.1l0-1l0.2-1l-0.1-0.9l-0.5-0.8l-1.4-0.5l-1.9-0.3l-1.3-0.1l-1-0.1l-1.5 0l-1-0.1l-1.3 0l-1.6 0.1l-2.1 0.3l-0.9 0.7l-0.7 0.9l-0.5 0.9l-0.3 0.6l-0.9 1.2l-1.2 0.6l-1.8 0.2l-2.1 0.1l-2 0.1l-1.7 0.2l-1.5 0.4l-1 0.7l-0.8 0.8l-0.7 0.4l-1.2 0.4l-0.8 0.2l-1.7 0.2l-1.4 0.5l-1.3 0.5l-1.2 0.6l-1.4 0.4l-1.7 0.3l-1.6 0.4l-1.1 0.6l-0.8 0.7l-0.9 0.8l-1.4 0.4l-1.8 0.2l-2.1 0.1l-1.1 0l-0.9 0.1l-1.8 0.3l-1.2 0.5l-0.7 0.7l-0.6 1l-0.4 1.1l-0.4 1l-0.3 0.4l0.2 0.8l2.5 0.2l2.4 0.1l2.4 0.2l2.4 0.1l2.4 0.1l2.4 0.2l-0.5-0.8l0.5-0.5l0.1-0.7l0.6-1.2l1-0.9l1.3-0.5l1.9-0.2l0.7 0l1.3-0.1l1.7-0.2l1.1-0.7l1-0.7l1.4-0.4l1.4-0.4l1.5-0.4l1.4-0.5l0.8-0.6l1.3-0.7l1.6-0.3l2.1-0.1l1.4-0.1l1.9-0.5l0.8-0.8l0.3-0.7l0.8-1.2l0.9-0.7l1.5-0.4l2.1 0l1.4 0l1 0.1l1.4 0.1l1.3 0.2l0.7 0.1l1.3 0.5l0.3 0.7l0.1 1.1l-0.1 0.9l0.3 0.7l1 0.8l1.8 0.4l1.9 0.3l1.4 0.5l0.8 0.7l0.5 0.8l1 0.5l1.2 0.6l1.2 0.5l1.1 0.6l0.4 0.8l0.8 0.8l1.5 0.4l1.2 0.2l0.7 0.1l1.6 0.4l1.1 0.6l0.3 0.9l-0.1 0.9l-0.3 1.1l-0.8 1.2l2.4 0.2l2.4 0.1l2.4 0.1l2.4 0.2l2.4 0.1M251 300.5l2.2-0.4l0.8-0.7l0.7-0.9l0.5-1l0.6-0.6l1.5-0.7l2-0.1l2-0.1l1.7-0.3l1.1-0.6l1-0.7l1.4-0.5l1.5-0.4l1.4-0.4l1.4-0.4l1-0.7l1.1-0.7l1.7-0.2l1.3-0.1l0.7 0l1.9-0.2l1.3-0.5l0.9-0.8l0.5-0.9l0.3-1.1l0.5-0.5l-0.5-0.8l-2.4-0.1l-2.4-0.1l-2.4-0.2l-2.5-0.1l-2.4-0.1l1.4-0.5l0.2-1l0-1l-0.4-0.6l-0.5-0.3l-1-0.4l-1.7-0.3l-1-0.6l-0.9-0.7l-0.9-0.7l-1-0.6l-1.7-0.4l-0.6-0.2l-0.9-0.2l-0.4-0.8l0-1l-0.2-0.9l-1.1-0.6l-1.7-0.2l-2.4-0.2l-2.1 0.1l-1.4 0.4l-0.7 0.9l-0.6 0.9l-0.6 0.4l-1.3 0.5l-0.7 0.1l-1.9 0.2l-1.4 0.4l-1.2 0.6l-1.2 0.5l-1.4 0.5l-1.9 0.2l-1.2 0.2l-0.6 0.2l-0.8 0.6l-0.5 0.8l-0.5 1.1l1.1 0.6l-2.4-0.1l-2.5-0.1l-2.4-0.2l-2.4-0.1l-2.4-0.1l-0.9 0.7l-0.2 1.1l-0.1 1.2l0.3 1.1l1.1 0.6l1.6 0.4l0.7 0.1l1.2 0.2l1.5 0.4l0.8 0.8l0.4 0.8l1.1 0.6l1.2 0.5l1.2 0.6l1 0.5l0.4 0.7l0.9 0.8l1.4 0.5l1.9 0.3l1.3 0.3l1.6 0.7l0.2 0.9l-0.1 0.7l0 1.2l0.4 0.8l1.3 0.5l0.7 0.1l1.3 0.2l1.4 0.1l1 0.1l1.4 0l1.4 0M225 306.4l1.7 0.4l1.6 0.3l2.4 0.3l2 0.3l1.5 0.4l0.8 0.7l0.1 0.9l0 1l-0.2 1M252.6 294.7l-1.8 0.1l-2.5-0.1l-1.9-0.3l-1.1-0.6l-0.2-0.9l0-1l-0.3-0.4l-1-0.6l-0.6-0.2l-1.7-0.4l-1-0.6l-0.9-0.7l-0.9-0.7l-1-0.6l-1.7-0.3l-1-0.4l-0.5-0.3l-0.4-0.6l0-0.9l0.2-1.1l1.4-0.5l2.4 0.2l2.4 0.1l2.4 0.2l0.1 0.9l-0.1 1l1.1 0.6l1.3 0.5l1.3 0.5l1 0.6l0.2 0.9l0.4 0.5l0.5 0.4l1.4 0.2l1.5 0.1l1.4-0.1l0.8-0.3l0.6-0.4l0.7-0.9l1.4-0.4l1.6-0.4l1.5-0.4l1.4-0.4l0.6-0.7l0.6-1.2l2.4 0.2l2.4 0.1l2.4 0.2l1.1 0.6l-0.5 1l-0.5 0.9l-0.8 0.6l-0.6 0.2l-1.2 0.2l-1.9 0.2l-1.4 0.5l-1.2 0.5l-1.2 0.6l-1.4 0.4l-1.9 0.2l-0.7 0.1l-1 0.1l-0.9 0.8l-0.6 0.9l-0.7 0.9l-1.4 0.4M259.8 285l-2.4-0.1l-1.3 0.5l-1.1 0.6l-1.1 0.6l-1.4 0.5l-1.5-0.1l-0.9-0.6l-0.7-0.7l-0.7-0.7l-1-0.7l-2.4-0.1l-2.4-0.1l0.6-0.9l0.6-1l1.4-0.4l1.5-0.4l1.6-0.4l1.4-0.4l0.7-0.9l0.6-0.4l0.8-0.3l1.4-0.1l1.5 0.1l1.4 0.2l0.5 0.4l0.4 0.5l0.2 0.9l1 0.6l1.3 0.5l1.3 0.5l1.1 0.6l0.1 0.7l-0.1 1.2l-2.4-0.1M255 284.7l2.4 0.2l-1-0.7l-0.7-0.7l-0.7-0.7l-0.9-0.6l-1.5-0.1l-1.4 0.5l-1.1 0.6l-1.1 0.6l-1.3 0.5l2.4 0.2l2.5 0.1l2.4 0.1M281.6 263.6l0.4 0.4l0.3 0.9l0.3 0.9l0.5 0.7l1 0.6l1.5 0.5l1.1 0.2l0.6 0.2l1.3 0.5l0.8 0.7l0.5 0.5l1.3 0.8l0.8 0.4l1.4 0.7l1.1 0.6l0.6 0.8l0.9 0.6l1.3 0.5l1.7 0.4l1.4 0.5l1.1 0.6l0.5 0.8l0.3 0.8l0.3 0.9l0.3 0.4l1.5 0.9l1.7 0.4l1.6 0.2l2.4 0.3M194.5 288.8l2.5 0.4l2 0.2l1.6 0.4l1.3 0.5l0.6 0.8l0.3 0.9l0.3 0.8l0.5 0.8l1.1 0.6l1.4 0.5l1.2 0.3l1.8 0.6l0.9 0.6l0.3 0.5l1.4 0.9l1.1 0.5l1.1 0.6l1.1 0.6l0.7 0.7l0.8 0.7l1.3 0.5l0.6 0.2l1.1 0.2l1.5 0.5l1 0.6l0.5 0.7l0.3 0.9l0.3 0.9l0.4 0.4M270.2 257l-0.1 1.2l-0.1 1.2l0.1 1l0.8 0.7l1.5 0.4l1.6 0.3l2.5 0.3l1.9 0.3l1.7 0.4M180.2 280.5l2.4 0.1l2.4 0.2l2.4 0.1l2.4 0.1l2.5 0.2l-0.6-0.8l0.5-0.5l0.3-1.1l0.1-0.6l0.5-1.1l0.7-1.2M199 274.1l2.6-0.1l2.1 0l1.8-0.2l1.6-0.4l0.5-0.3l0.6-0.3l0.8-0.8l0.3-0.5l0.4-0.4l1-0.6l1.4-0.5l1.7-0.3l1.3-0.1l2.1-0.4l1.2-0.6l0.7-0.4l1.8-0.7l1.4-0.4l1.5-0.4l1.4-0.5l1-0.6l1.2-0.6l1.6-0.3l0.7-0.1l1.2-0.1l1.7-0.3l1.4-0.4l0.9-0.7l0.8-0.9l0.8-0.7l0.7-0.4M239.1 260.4l1.8-0.2l1.7 0l2.6 0l2.1-0.1l1.7-0.3l1.2-0.5l0.7-0.9l0.5-0.9l0.5-1l0.2-0.5M259.6 253.4l2.4 0.1l2.5 0.2" stroke="#1bb"/><path d="M250.5 314l1.1-1l0.5-0.9l0.2-0.6l0.3-1l-0.2-0.8l-0.7-0.8l-1.1-0.2l-0.7-0.2l-2.1-0.2l-2.3-0.2l-2.5-0.1l-2.3 0l-0.8 0.1l-1.1 0l-1.2 0.6l-0.7 0.9l-0.4 1l-0.1 1.2l0.2 1.2M266.1 307.8l1.3-0.7l0.8-0.8l0.7-0.9l0.8-0.8l1.4-0.4l1.8-0.2l1.9-0.2l1.7-0.3l1.2-0.6l1-0.6l1.4-0.5l1.4-0.4l1.5-0.4l1.4-0.5l1-0.7l1.1-0.5l1.7-0.3l1.2-0.1l0.7-0.1l1.8-0.3l1.3-0.4l1-0.7l0.6-0.9l0.4-0.6l0.9-1.2l1.6-0.3l1.9 0.1l2.6 0l2.2 0l0.8-0.1l1.2 0l1.6-0.4l1.2-0.5l0.8-0.7l0.6-1l0.3-1.1l-0.3-1l-0.9-0.6l-1.5-0.5l-1.1-0.1l-0.9-0.1l-1.7-0.2l-0.7 0l-1.6 0l-1.3 0.1l-2.2 0.3l-1 0.7l-0.7 0.9l-0.3 0.4l-0.2 0.5l-0.3 0.7l-0.6 1.1l-0.9 1l-1.7-0.1l-2.8 0l-2.1 0.1l-1.2 0.1l-2 0.5l-0.9 0.7l-0.9 0.8l-0.8 0.5l-0.7 0.2l-1.1 0.3l-1.8 0.2l-1.3 0.5l-1.3 0.5l-1.3 0.6l-1.3 0.4l-1.7 0.3l-1.6 0.4l-1.1 0.6l-0.8 0.8l-0.8 0.8l-1.4 0.4l-1.7 0.1l-2.4 0.1l-0.7 0l-1.3 0.1l-1.7 0.3l-1.2 0.5l-0.9 0.8l-0.5 1l-0.2 1.1l0.3 0.9l1.3 0.6l1.2 0.1l0.9 0.1l1.6 0.1l0.9 0l1.3 0l1.9-0.2l1.2-0.3M238.8 314.4l1.3 0.3l1.7 0.2l2.5 0.2l2.1 0l1.5-0.2M316 283.5l-0.1 1.2l0.1 1.3l0.6 0.8l1.2 0.5l1.7 0.4l1.8 0.1l2.5 0.2M232.9 306.6l1.2 0.1l1.5-0.4l0.8-0.8l0.5-1l0.1-1.2l-0.3-0.9l-0.8-0.6l-1.5-0.5l-1.2-0.2l-0.7-0.1l-2-0.3l-1.9-0.3l-1-0.6l-0.3-0.8l-0.3-0.9l-0.7-0.7l-1.3-0.5l-1.5-0.5l-1-0.6l-0.9-0.6l-1-0.7l-1-0.6l-1.5-0.4l-0.9-0.4l-0.5-0.3l-0.6-0.6l-0.3-0.8l-0.3-0.5l-1.2-0.9l-1.7-0.4l-2-0.3l-2.2-0.2l-2.2-0.2l-0.5-0.8l0.2-1l0.3-1.1l0.1-1l-0.2-0.8l-0.6-0.8l-1.3-0.6l-1.8-0.3l-1.5-0.1l-0.8-0.1l-1.6 0l-1 0l-1.2 0l-1.7 0.2l-1.2 0.6l-0.8 0.8l-0.5 1l0 1.1l0.3 0.9l0.9 0.6l1.4 0.5l1 0.2l0.8 0.2l2 0.2l2.3 0.2l2.3 0.2l1.3 0.5l0.3 0.9l-0.1 1l0 0.7l0.5 1l1.1 0.6l1.5 0.4l0.7 0.2l1 0.2l1.5 0.5l0.7 0.7l0.6 0.7l1 0.6l1.2 0.6l1.2 0.5l1.1 0.6l0.4 0.6l0.9 0.9l1.4 0.5l1.8 0.3l1.6 0.4l1.1 0.6l0.4 0.9l0 0.9l0.3 0.8l0.7 0.7l1.2 0.6l1.7 0.4l1.2 0.2l0.9 0.1l1.6 0.1l1-0.1M291.1 285.9l2.3-0.3l1.2-0.6l0.4-0.5l0.4-1.1l-0.3-0.8l-0.9-0.7l-1.4-0.5l-2-0.2l-0.9-0.1l-1.5-0.1l-0.9-0.1l-1.7 0.3l-0.7 0.8l-0.3 1.1l0 1.1l0.5 0.7l1.3 0.6l1.9 0.3l1 0l1.6 0.1M248 299.6l2-0.1l1.5-0.4l1-0.7l0.3-0.5l0.1-1l-0.8-0.6l-1.7-0.4l-2.4-0.2l-2 0.2l-1.2 0.6l-0.5 1l0.5 1.2l1.2 0.6l1.9 0.2M276.4 289.9l1.8-0.5l0.6-1l-0.8-1l-1.6-0.3l-2.1 0l-1.4 0.5l-0.7 0.8l0.1 1l1.4 0.5l1.1 0l1.6 0M259.2 294.8l2-0.2l1-0.6l-0.3-1.1l-1.7-0.1l-0.9 0.1l-0.9 0.1l-0.7 0.9l1.5 0.9M265.1 291.8l2.1 0l1.5-0.4l-0.5-0.6l-0.8-0.1l-1.3 0.5l-1 0.6M303.7 276.4l0.4 1.2l0.7 0.7l1.2 0.6l1.6 0.3l1.3 0.2M282.1 280.3l2.1 0l1-0.7l0.1-1.2l-0.7-0.9l-1.3-0.5l-0.7-0.2l-1-0.2l-1-0.6l-0.9-0.7l-0.8-0.6l-1-0.6l-1.8-0.4l-1.5-0.4l-0.4-0.9l-0.1-0.9l-0.4-0.8l-1.1-0.6l-1.7-0.4l-0.7-0.1l-1.7 0l-2.2 0.3l-0.9 0.7l-0.3 1.1l0.3 0.9l1 0.6l1.7 0.3l2.1 0.3l1.3 0.3l0.5 0.3l0.4 0.6l0.4 0.8l1.1 0.6l1.2 0.5l1.2 0.6l1.1 0.6l0.3 0.8l0.7 0.7l0.7 0.2l0.9 0.3l2.1 0.2M239.9 293.7l1.7-0.3l0.4-0.4l-0.1-0.9l-0.8-0.3l-0.9-0.1l-1.7-0.1l-1 0.7l0.7 1l1.7 0.4M296.5 272.2l1 0.9l1.3 0.5M234.1 289.9l2 0.3l-0.7-0.7l-0.9-0.7l-0.8 0l-0.8 0.6l1.2 0.5M227.9 287.2l1.1 0.1l1.6-0.3l0.7-0.8l-0.2-1l-1-0.6l-2-0.3l-1.8 0.2l-1.2 0.6l-0.2 1.1l1 0.8l2 0.2M254.2 277.3l1.2 0.1l1.3-0.5l-1-1.1l-0.9 0l-1.4 0.5l0.8 1M284 265l0.6 1l1 0.6l1.5 0.5l0.8 0.1M262.6 267.8l1.2-0.6l0.6-0.9l0.3-1.1l-0.2-1l-0.6-0.7l-1.3-0.5l-1.8-0.4l-2.4-0.1l-2.5 0.1l-1.6 0.4l-1 0.6l-0.7 0.8l-0.4 1.1l0 1l0.7 0.7l1.6 0.5l1.7 0.1l2.5 0.2l2.2 0l1.7-0.2M219 281.7l1.7-0.4l0.5-0.4l0.5-0.3l0.6-0.9l0.3-1.1l0-1l-1.6-0.5l-0.9 0l-1.5-0.1l-0.9 0l-2.1 0.1l-1.7 0.2l-1.2 0.6l-0.8 0.8l-0.3 0.7l0.1 0.9l0.8 0.7l1.5 0.5l2.1 0.2l1 0l1.9 0M229.7 277l0.9-0.1l0.7-0.4l1.2-1l1.4-0.4l1.5-0.4l1.5-0.4l1.4-0.5l0.9-0.7l0.7-0.5l0.7-0.2l1.4-0.2l1.9 0l2.1-0.2l1.4-0.5l0.8-0.7l0.3-1.1l-0.4-0.8l-1.4-0.5l-2.2-0.2l-2.6 0.2l-1.4 0.4l-0.9 0.8l-0.4 0.4l-0.2 0.5l-0.9 0.7l-1.7 0.3l-1.9 0.1l-1.2 0.4l-1.4 0.6l-1.2 0.6l-1.4 0.5l-1.1 0l-0.8 0.1l-1.5 0.4l-1.1 0.6l-0.5 1l0.2 1.1l2.1 0.3l2.2 0l0.9-0.2M271.6 257.8l0 1.2l0.3 0.8l0.9 0.7l1.4 0.5l0.9 0.1l0.9 0.2l2 0.3M181.7 280l2.1 0.1l2.2 0l1.4-0.1l2-0.5l0.8-0.5l0.9-1l0.6-0.9l0.2-0.6M201.3 273.3l1.3 0l1.8-0.2l1.5-0.4l1.1-0.6l0.8-0.8M214.4 268.9l1.7-0.4l1.2-0.5M228.9 263.9l0.8-0.1l1.7-0.3l1.4-0.4l1-0.7M241.8 259.5l2.2 0l0.9-0.1l1 0l1.7-0.4l1.2-0.5l0.7-0.6l0.7-1.1M261.2 252.9l2.1 0.1" stroke="#5c7"/><path d="M247.1 314.2l1.5-0.4l1.1-0.6l0.7-0.9l0.3-1l-0.3-1.1l-0.9-0.6l-1.5-0.5l-1.3-0.2l-0.7 0l-1.8-0.1l-0.7 0l-1.4 0l-1.7 0.3l-1.3 0.5l-0.8 0.8l-0.4 1l0.2 1.1l0.4 0.5l1.4 0.8l1.7 0.4l1.4 0.2l0.8 0l1.5 0l1.8-0.2M304.6 293.7l2.2-0.3l1.3-0.6l0.4-0.4l0.6-1.2l-0.3-0.9l-0.9-0.6l-1.5-0.5l-2.1-0.2l-0.7 0l-2 0.1l-1 0.2l-0.7 0.3l-0.9 0.5l-0.6 0.9l-0.2 1l0.5 0.8l1.2 0.6l1.9 0.3l1.3 0l1.5 0M261.3 307.5l2.3-0.1l1.5-0.4l1-0.7l0.5-0.6l0.1-1l-0.8-0.7l-1.8-0.3l-2.6-0.1l-1.8 0.2l-1.3 0.6l-0.6 0.9l0.3 1.3l1.3 0.6l1.9 0.3M289.6 297.9l0.9-0.1l1.4-0.5l0.3-0.3l0.3-0.6l-0.7-1.2l-1.8-0.4l-2.2 0.1l-1.4 0.5l-0.8 0.8l0 1.1l1.3 0.5l1.6 0.1l1.1 0M272.4 302.8l0.7 0l1.8-0.2l1.1-0.7l0.5-0.5l-0.6-0.8l1.5-0.3l2.2 0l1.6-0.4l1.4-0.4l-0.4-1l-1.5-0.1l-1.3 0.5l-1.1 0.6l-1.1 0.6l-1.4 0.5l-2.3-0.1l-1.7 0.3l-0.7 0.5l-0.1 1l1.4 0.5M317.4 284.3l0.2 1.2l0.4 0.5l1.2 0.6l1.9 0.5l1.4 0.2M230 305.7l2.3 0l1.5-0.4l1-0.7l0.2-0.6l-0.1-0.9l-0.8-0.7l-1.5-0.5l-2.2-0.2l-2.4 0.2l-1.2 0.5l-0.4 0.7l0 1l0.5 0.7l1.2 0.6l1.9 0.3M288.9 284.7l0.9 0.1l2-0.2l1-0.6l0.2-0.7l-0.8-0.7l-1.7-0.4l-0.8 0l-1.6 0.3l-0.9 0.8l0.4 0.9l1.3 0.5M221.7 299.9l0.8 0l1.6-0.3l0.5-0.7l-0.4-0.8l-1.4-0.5l-2.4-0.1l-1-0.7l-0.7-0.7l-0.6-0.7l-1-0.6l-1.5-0.1l-1.1 0.6l1.2 0.9l1.2 0.5l2.2 0.3l1.3 0.5l-1.1 0.6l0.2 0.6l0.6 0.8l1.6 0.4M209.8 293.4l1.6 0.1l1.6-0.3l0.7-0.9l-0.3-1.1l-1.1-0.6l-1.9-0.3l-2.1 0.2l-1.2 0.5l-0.3 0.6l0.1 0.9l1.1 0.6l0.8 0.2l1 0.1M269.5 272.1l1.2-0.4l-1.1-0.6l-0.9 0.2l0.8 0.8M200.9 287.8l2.1-0.4l0.8-0.6l0.7-1.1l-0.1-1l-0.6-0.6l-0.5-0.3l-0.8-0.3l-1.9-0.4l-0.7 0l-1.9 0l-2 0.2l-1.3 0.6l-0.4 0.4l-0.6 1.2l0.3 0.8l0.8 0.7l1.4 0.5l0.6 0.1l1.4 0.2l1.3 0.1l1.4-0.1M259 267.1l2-0.3l1.2-0.6l0.5-0.9l-0.6-1.2l-1.3-0.5l-1.4-0.2l-0.7-0.1l-1.4 0.1l-1.6 0.4l-1 0.6l-0.4 1.1l0.8 1l1.5 0.4l2.4 0.2M216.4 280.6l1 0l1.6-0.3l0.8-0.8l-0.3-0.9l-1.4-0.5l-0.7 0l-2 0.1l-1.1 0.6l-0.3 0.7l0.7 0.8l1.7 0.3M243.1 270.6l0.6 0.1l1.4-0.5l-0.9-0.5l-1.4 0.4l0.3 0.5M273.2 258.8l0.2 0.5l0.9 0.6l1.4 0.5l0.6 0.2M183.4 279.4l1.5 0l1.8-0.2l1.5-0.4l1-0.6l0.8-0.8M244.1 258.7l0.7 0l1.6-0.3l1.2-0.6l0.6-0.5" stroke="#bb3"/><path d="M243.4 313.6l2.5-0.1l1.5-0.4l1-0.7l0.4-0.7l-0.2-0.9l-0.8-0.6l-1.6-0.5l-2.3-0.1l-2.2 0.2l-1.2 0.6l-0.5 0.5l-0.2 1.1l0.5 0.7l1.2 0.6l1.9 0.3M304.9 292.7l1.3-0.5l0.6-1.2l-0.6-0.6l-2-0.4l-1 0l-1.6 0.3l-1 0.7l0.3 1.1l1.3 0.5l1.4 0.2l1.3-0.1M261 305.7l2.2 0.2l-0.6-0.8l-0.8 0l-0.8 0.6M229.5 304l2.2 0l-0.5-0.6l-0.8-0.1l-0.9 0.7M198.3 286.8l1.5 0l1.5-0.4l0.9-0.7l-0.5-1l-1.3-0.5l-1-0.1l-1.9 0.1l-1.2 0.6l-0.4 0.9l0.8 0.7l1.6 0.4" stroke="#fc3"/><path d="M244.1 312.4l1.5-0.3l-0.4-1.1l-1.5 0l-1.1 0.6l1.4 0.8" stroke="#fe2"/></g>
<g transform="scale(.1)" fill="currentColor" stroke="currentColor" stroke-width="5" stroke-linejoin="bevel"><path d="M2620 2181l18-112l-14-113l-18 111z" color="#46c98b"/><path d="M2633 2282l18-113l-14-101l-18 112z" color="#10b4d1"/><path d="M2517 2189l17 83l-13-114l-17-84z" color="#0cbcbf"/><path d="M2500 2114l17 75l-13-115l-17-74z" color="#53cc7e"/><path d="M2483 2073l17 41l-13-114l-17-41z" color="#a5c73f"/><path d="M2513 2215l17 74l-13-102l-17-75z" color="#0eb8c8"/><path d="M2466 2080l17-7l-13-114l-18 7z" color="#c2c22c"/><path d="M2711 2126l17-113l-13 73l-17 113z" color="#53cc7e"/><path d="M2496 2174l17 41l-13-103l-17-41z" color="#34c69d"/><path d="M2449 2132l17-52l-13-114l-18 52z" color="#a4c740"/><path d="M2479 2181l17-7l-13-103l-18 7z" color="#48ca89"/><path d="M2724 2087l17-113l-13 39l-17 113z" color="#a5c73f"/><path d="M2509 2242l17 41l-13-70l-17-41z" color="#10b4d0"/><path d="M2431 2211l18-79l-13-114l-18 79z" color="#56cc7b"/><path d="M2462 2233l17-52l-13-103l-18 53z" color="#33c69e"/><path d="M2707 2186l17-101l-13 39l-17 101z" color="#34c69d"/><path d="M2492 2249l17-7l-13-70l-18 7z" color="#0cbac2"/><path d="M2737 2095l17-112l-13-9l-17 113z" color="#c2c22c"/><path d="M2414 2285l18-74l-13-115l-18 75z" color="#17c0b3"/><path d="M2720 2195l17-101l-13-9l-17 101z" color="#48ca89"/><path d="M2397 2326l18-41l-14-114l-17 40z" color="#11b2d4"/><path d="M2750 2149l18-112l-14-54l-17 112z" color="#a4c740"/><path d="M2733 2249l18-101l-14-55l-18 101z" color="#33c69e"/><path d="M2763 2230l18-113l-14-80l-18 112z" color="#56cc7b"/><path d="M2363 2272l17 46l-13-115l-17-46z" color="#0eb9c6"/><path d="M2746 2329l18-101l-14-81l-18 101z" color="#0db9c6"/><path d="M2776 2306l18-113l-14-76l-18 112z" color="#17c0b3"/><path d="M2346 2220l17 52l-13-115l-17-51z" color="#2ec5a2"/><path d="M2789 2348l18-113l-14-42l-17 113z" color="#11b2d4"/><path d="M2329 2201l17 19l-13-114l-17-19z" color="#52cb7f"/><path d="M2312 2230l17-29l-13-114l-18 29z" color="#53cc7e"/><path d="M2294 2280l18-50l-13-115l-18 51z" color="#35c69c"/><path d="M2570 1984l18-6l-14 41l-18 6z" color="#fbc634"/><path d="M2815 2297l18-112l-14 44l-17 113z" color="#0eb9c6"/><path d="M2277 2304l18-24l-13-114l-18 23z" color="#19c0b2"/><path d="M2660 2236l18 85l-13-80l-18-86z" color="#17c0b3"/><path d="M2553 2039l17-55l-13 40l-18 54z" color="#f3bd35"/><path d="M2583 1995l18-8l-14-9l-18 7z" color="#fbd230"/><path d="M2828 2248l18-113l-14 50l-17 112z" color="#2ec5a2"/><path d="M2260 2284l18 20l-14-115l-17-19z" color="#1dc1af"/><path d="M2613 2042l18 41l-13-56l-18-41z" color="#f3bd35"/><path d="M2643 2163l18 75l-13-82l-18-75z" color="#69cc6c"/><path d="M2536 2117l17-80l-13 39l-18 80z" color="#bcc330"/><path d="M2566 2047l18-54l-14-9l-18 54z" color="#fac634"/><path d="M2243 2277l18 7l-14-114l-17-7z" color="#2ec5a2"/><path d="M2596 2049l18-7l-14-56l-18 7z" color="#fac634"/><path d="M2841 2230l18-112l-14 17l-17 113z" color="#52cb7f"/><path d="M2626 2122l17 41l-13-82l-17-41z" color="#bcc330"/><path d="M2518 2191l18-76l-13 39l-18 76z" color="#60cc73"/><path d="M2655 2238l19 76l-13-78l-18-75z" color="#24c3a9"/><path d="M2549 2126l17-81l-13-8l-18 80z" color="#d5bf2e"/><path d="M2226 2293l17-16l-13-114l-17 15z" color="#30c5a1"/><path d="M2579 2101l18-53l-14-55l-18 53z" color="#f2bd35"/><path d="M2824 2330l18-102l-14 18l-17 101z" color="#0eb8c8"/><path d="M2609 2129l18-7l-14-82l-17 7z" color="#d5bf2e"/><path d="M2854 2261l18-113l-14-30l-17 112z" color="#53cc7e"/><path d="M2639 2198l18 41l-14-78l-17-41z" color="#60cc73"/><path d="M2532 2200l17-76l-13-9l-18 76z" color="#7ecb5b"/><path d="M2209 2308l17-15l-13-115l-17 16z" color="#27c3a7"/><path d="M2562 2180l18-80l-14-55l-18 80zM2592 2181l18-52l-14-82l-18 52z" color="#bbc331"/><path d="M2837 2360l18-101l-14-31l-17 101z" color="#0eb8c8"/><path d="M2622 2205l18-7l-14-78l-17 7z" color="#7ecb5b"/><path d="M2514 2240l18-42l-13-9l-18 43z" color="#43c98d"/><path d="M2867 2313l18-113l-14-52l-17 113z" color="#35c69c"/><path d="M2651 2240l19 41l-13-43l-18-42z" color="#2fc5a1"/><path d="M2545 2254l18-76l-14-54l-18 75z" color="#5fcc74"/><path d="M2575 2260l18-80l-14-81l-18 80z" color="#6dcc68"/><path d="M2605 2257l18-52l-14-78l-18 53z" color="#5fcc74"/><path d="M2496 2232l19 8l-13-9l-19-8z" color="#3ac797"/><path d="M2850 2412l18-101l-14-52l-17 101z" color="#16adda"/><path d="M2635 2247l18-7l-14-44l-18 7z" color="#43c98d"/><path d="M2527 2294l19-41l-14-55l-18 41z" color="#2ec5a2"/><path d="M2880 2338l18-113l-14-25l-17 113z" color="#19c0b2"/><path d="M2558 2334l18-75l-14-81l-18 75zM2588 2336l18-80l-14-77l-18 80z" color="#27c3a7"/><path d="M2618 2299l18-53l-14-43l-18 54z" color="#2ec5a2"/><path d="M2157 2305l18-23l-13-115l-18 24z" color="#3dc894"/><path d="M2510 2286l18 8l-13-56l-18-7z" color="#25c3a9"/><path d="M2571 2410l18-75l-14-77l-18 75z" color="#11b2d4"/><path d="M2601 2378l18-80l-14-43l-18 81z" color="#0eb7c9"/><path d="M2140 2355l18-50l-13-115l-18 51z" color="#21c2ac"/><path d="M2493 2240l18 46l-13-55l-18-46z" color="#42c98f"/><path d="M2631 2293l18-54l-14 6l-18 54z" color="#25c3a9"/><path d="M2523 2367l18 8l-13-83l-18-7z" color="#10b4cf"/><path d="M2415 2134l18-28l-13 41l-18 28z" color="#b8c433"/><path d="M2906 2315l18-113l-14 5l-17 113z" color="#2ec5a2"/><path d="M2123 2384l18-29l-14-114l-17 29z" color="#0cbac2"/><path d="M2475 2189l19 51l-13-55l-18-52z" color="#80cb59"/><path d="M2614 2372l17-81l-13 6l-18 81z" color="#10b4cf"/><path d="M2506 2321l18 46l-14-82l-17-46z" color="#0dbdbb"/><path d="M2429 2145l18-30l-14-9l-18 30z" color="#d1bf2d"/><path d="M2919 2332l18-113l-13-17l-18 113z" color="#30c5a1"/><path d="M2106 2365l17 19l-13-114l-17-19z" color="#0cbbc2"/><path d="M2459 2170l17 19l-13-56l-17-19z" color="#b5c435"/><path d="M2704 2121l18 43l-14 17l-18-42z" color="#b6c434"/><path d="M2489 2269l17 52l-13-82l-17-52z" color="#3ec893"/><path d="M2627 2328l17-81l-13 44l-17 81z" color="#0dbdbb"/><path d="M2412 2195l17-52l-13-9l-18 53z" color="#aac63c"/><path d="M2656 2199l18-54l-12 50l-18 54z" color="#80cb59"/><path d="M2089 2314l17 51l-13-114l-17-52z" color="#29c4a6"/><path d="M2442 2199l18-29l-14-56l-18 29z" color="#b7c434"/><path d="M2687 2128l18-7l-13 19l-19 7z" color="#d0c02d"/><path d="M2932 2349l18-113l-13-17l-18 113z" color="#27c3a7"/><path d="M2472 2250l17 19l-13-82l-17-19z" color="#68cc6d"/><path d="M2502 2345l18 52l-14-78l-17-52z" color="#0db9c5"/><path d="M2394 2219l19-25l-14-9l-18 24z" color="#82cb58"/><path d="M2640 2278l17-81l-13 50l-17 80z" color="#3ec893"/><path d="M2072 2268l17 46l-13-115l-17-46z" color="#5acc78"/><path d="M2425 2249l18-51l-14-55l-18 51z" color="#8bcb51"/><path d="M2670 2182l18-54l-14 17l-17 54z" color="#b5c435"/><path d="M2455 2279l18-29l-14-82l-18 29z" color="#69cc6c"/><path d="M2700 2160l18-7l-14-32l-18 7z" color="#d1bf2d"/><path d="M2945 2344l18-113l-13 5l-18 113z" color="#28c4a6"/><path d="M2485 2326l17 19l-13-78l-17-19z" color="#23c3aa"/><path d="M2730 2205l18 41l-13-54l-18-41z" color="#8ccb50"/><path d="M2623 2352l17-76l-13 50l-18 76z" color="#0db9c5"/><path d="M2055 2260l17 8l-13-115l-17-8z" color="#86cb55"/><path d="M2408 2273l17-24l-13-56l-18 24z" color="#62cc71"/><path d="M2653 2261l17-81l-13 17l-17 81z" color="#68cc6d"/><path d="M2085 2368l17 46l-13-102l-17-46z" color="#0dbac4"/><path d="M2438 2329l18-50l-14-82l-18 51z" color="#45c98c"/><path d="M2683 2212l18-54l-14-30l-18 54z" color="#b7c434"/><path d="M2468 2355l18-29l-14-78l-18 29z" color="#24c3a9"/><path d="M2359 2192l19 7l-13-10l-19-7z" color="#9fc843"/><path d="M2713 2212l18-7l-14-54l-17 7z" color="#aac63c"/><path d="M2958 2326l18-113l-13 18l-18 113z" color="#39c797"/><path d="M2498 2369l18 18l-14-44l-17-19z" color="#0fb6cb"/><path d="M2038 2300l17-40l-13-115l-18 41z" color="#78cb60"/><path d="M2390 2253l18 19l-13-55l-18-20z" color="#67cc6d"/><path d="M2636 2335l17-76l-13 17l-18 76z" color="#23c3aa"/><path d="M2068 2361l17 7l-13-102l-17-8z" color="#1ec1ae"/><path d="M2421 2353l17-24l-13-82l-18 24z" color="#29c4a5"/><path d="M2666 2291l18-80l-14-31l-18 80z" color="#69cc6c"/><path d="M2451 2405l18-51l-14-77l-18 51z" color="#0cbbc0"/><path d="M2343 2207l18-16l-14-9l-18 16z" color="#a1c842"/><path d="M2696 2265l18-54l-14-53l-18 53z" color="#8bcb51"/><path d="M2481 2397l18-29l-14-44l-18 29z" color="#0fb6cb"/><path d="M2373 2246l18 7l-13-56l-18-7z" color="#80cb59"/><path d="M2726 2237l18-7l-14-26l-18 7z" color="#82cb58"/><path d="M2618 2375l18-42l-13 17l-18 43z" color="#0fb6cb"/><path d="M2971 2351l18-113l-13-25l-18 113z" color="#3dc894"/><path d="M2051 2401l17-41l-13-102l-18 40z" color="#14bfb5"/><path d="M2403 2333l18 20l-13-82l-18-20z" color="#2dc5a3"/><path d="M2649 2365l17-76l-13-30l-18 76z" color="#24c3a9"/><path d="M2434 2429l17-24l-13-78l-18 24z" color="#11b3d3"/><path d="M2326 2223l18-17l-14-9l-18 16z" color="#95ca4a"/><path d="M2679 2343l18-80l-14-53l-18 80z" color="#45c98c"/><path d="M2356 2261l18-15l-14-56l-17 16z" color="#83cb58"/><path d="M2709 2290l18-54l-14-26l-18 54z" color="#62cc71"/><path d="M2954 2450l18-101l-14-25l-17 101z" color="#12b1d6"/><path d="M2386 2326l18 7l-13-82l-18-7z" color="#3ec893"/><path d="M2632 2406l18-42l-14-31l-18 42z" color="#0fb6cb"/><path d="M2984 2403l18-112l-13-53l-18 113z" color="#21c2ac"/><path d="M2416 2409l18 20l-13-78l-18-20z" color="#10b4d0"/><path d="M2308 2215l19 7l-13-9l-19-7z" color="#97c948"/><path d="M2662 2417l18-75l-14-53l-18 76z" color="#0cbbc0"/><path d="M2339 2277l18-16l-14-56l-18 16z" color="#76cb61"/><path d="M2692 2368l18-80l-14-25l-18 80z" color="#29c4a5"/><path d="M2369 2342l18-16l-14-82l-17 16z" color="#3fc892"/><path d="M2722 2272l18-54l-14 17l-17 55z" color="#67cc6d"/><path d="M2261 2209l18-23l-13 41l-18 23z" color="#98c948"/><path d="M2967 2502l18-101l-14-52l-17 101z" color="#1fa4e1"/><path d="M2399 2402l18 7l-13-78l-18-7z" color="#0db9c5"/><path d="M2322 2270l18 7l-14-56l-17-7z" color="#78cb60"/><path d="M2675 2442l17-76l-13-25l-18 76z" color="#11b3d3"/><path d="M2352 2357l18-15l-14-83l-17 16z" color="#37c79a"/><path d="M2705 2350l17-80l-13 18l-17 80z" color="#2dc5a3"/><path d="M2382 2418l18-16l-14-78l-17 16z" color="#0dbac4"/><path d="M2735 2267l18-54l-14 5l-17 54z" color="#80cb59"/><path d="M2275 2220l18-25l-14-9l-18 25z" color="#b5c435"/><path d="M2765 2231l18-7l-13-18l-19 7z" color="#a1c842"/><path d="M2305 2250l17 20l-13-56l-18-20z" color="#91ca4c"/><path d="M2550 2249l18 20l-14 18l-18-20z" color="#62cc71"/><path d="M2335 2350l17 7l-13-82l-17-7z" color="#38c798"/><path d="M2688 2425l17-77l-13 18l-17 76z" color="#10b4d0"/><path d="M2365 2433l18-15l-14-78l-17 15z" color="#0eb7ca"/><path d="M2718 2345l17-80l-13 5l-17 80z" color="#3ec893"/><path d="M2258 2270l17-52l-13-9l-18 53z" color="#8dcb4f"/><path d="M2502 2347l18-52l-12 50l-18 52z" color="#1dc1af"/><path d="M2748 2284l18-54l-14-18l-18 54z" color="#83cb58"/><path d="M2288 2274l18-24l-14-56l-18 24z" color="#96c949"/><path d="M2533 2280l18-31l-14 18l-18 30z" color="#63cc70"/><path d="M2778 2248l18-7l-13-18l-19 7z" color="#95ca4a"/><path d="M2318 2331l17 19l-13-82l-17-20z" color="#49ca88"/><path d="M2563 2281l18 19l-13-32l-18-19z" color="#63cc70"/><path d="M2348 2426l17 7l-13-78l-17-7z" color="#0eb7c9"/><path d="M2701 2419l17-76l-13 5l-18 77z" color="#0db9c5"/><path d="M2240 2299l18-30l-13-9l-18 30z" color="#60cc73"/><path d="M2592 2352l19 52l-13-54l-18-52z" color="#1dc1af"/><path d="M2731 2362l18-80l-14-17l-17 80z" color="#3fc892"/><path d="M1918 2313l17 84l-13-115l-17-83z" color="#4fcb82"/><path d="M2271 2324l18-51l-14-55l-18 51z" color="#6dcc68"/><path d="M2516 2330l17-52l-13 17l-18 52z" color="#41c990"/><path d="M2761 2301l18-54l-14-18l-18 54z" color="#76cb61"/><path d="M2301 2354l17-24l-13-82l-18 24z" color="#4dca84"/><path d="M2546 2310l18-30l-14-31l-18 30z" color="#65cc6f"/><path d="M2331 2407l17 19l-13-78l-17-19z" color="#0bbdbd"/><path d="M2576 2334l18 19l-14-55l-17-19z" color="#41c990"/><path d="M2008 2703l18-7l-14-24l-18 8z" color="#453ad6"/><path d="M2714 2436l17-76l-13-17l-18 76z" color="#0dbac4"/><path d="M1901 2247l17 66l-13-114l-18-67z" color="#b4c435"/><path d="M2253 2353l18-29l-13-56l-18 29z" color="#48ca89"/><path d="M2744 2379l18-80l-14-17l-17 80z" color="#37c79a"/><path d="M1931 2414l17 84l-13-103l-17-84z" color="#0fb6cb"/><path d="M2284 2404l17-50l-13-82l-18 51z" color="#31c6a0"/><path d="M2529 2360l18-52l-14-30l-18 52z" color="#42c98f"/><path d="M2774 2295l18-54l-14 5l-17 55z" color="#78cb60"/><path d="M2314 2430l17-24l-13-77l-18 23z" color="#0ebebb"/><path d="M2559 2362l18-29l-14-54l-18 29z" color="#42c98f"/><path d="M2804 2223l18-6l-13 19l-18 7z" color="#b0c538"/><path d="M1991 2661l18 42l-14-22l-17-43z" color="#453ad6"/><path d="M3050 2316l17-113l-13 7l-18 112z" color="#86cb55"/><path d="M1883 2219l18 28l-13-115l-18-28z" color="#edba35"/><path d="M2236 2334l18 19l-13-56l-18-19z" color="#49ca88"/><path d="M2589 2358l18 19l-13-26l-18-19z" color="#26c3a8"/><path d="M2482 2332l18 21l-14 18l-18-21z" color="#29c4a6"/><path d="M2021 2675l18-7l-13 29l-18 6z" color="#453ad6"/><path d="M2727 2453l17-76l-13-17l-18 76z" color="#0eb7ca"/><path d="M1914 2347l17 67l-13-103l-18-66z" color="#3fc892"/><path d="M2512 2384l18-24l-14-32l-18 24z" color="#27c3a8"/><path d="M2051 2603l18-52l-13 67l-18 52z" color="#4758f7"/><path d="M2757 2374l18-80l-14 5l-17 80z" color="#38c798"/><path d="M2542 2413l18-52l-14-53l-18 51z" color="#24c3a9"/><path d="M2787 2278l18-54l-14 17l-17 54z" color="#91ca4c"/><path d="M1866 2239l18-21l-13-114l-18 21z" color="#f2bc35"/><path d="M2218 2282l19 52l-13-56l-18-52z" color="#79cb60"/><path d="M2572 2387l18-29l-14-26l-18 29z" color="#27c3a8"/><path d="M2464 2325l19 8l-14 18l-18-7z" color="#3ac797"/><path d="M2817 2250l18-7l-13-26l-19 7z" color="#b5c435"/><path d="M2004 2634l18 42l-14 27l-18-42z" color="#453cda"/><path d="M3063 2358l17-112l-13-43l-18 113z" color="#78cb60"/><path d="M1896 2319l18 28l-13-102l-18-28z" color="#79cb5f"/><path d="M2249 2414l18 19l-13-82l-18-19z" color="#14bfb6"/><path d="M2602 2339l18 20l-14 19l-18-20z" color="#29c4a6"/><path d="M2494 2364l18 20l-13-32l-18-20z" color="#2ac4a5"/><path d="M2847 2296l18 41l-13-54l-18-41z" color="#6fcb67"/><path d="M2034 2610l18-6l-14 66l-17 7z" color="#474bee"/><path d="M1926 2415l18 67l-12-70l-19-67z" color="#0eb7c8"/><path d="M2171 2174l19 8l-13-9l-19-8z" color="#f3bd35"/><path d="M2525 2436l18-24l-14-54l-18 24z" color="#0cbcbf"/><path d="M2770 2356l17-80l-13 17l-17 81z" color="#49ca88"/><path d="M1957 2502l17 86l-13-22l-17-86z" color="#3086f6"/><path d="M1849 2306l18-67l-14-114l-17 66z" color="#d1c02d"/><path d="M2202 2236l18 46l-13-55l-18-47z" color="#bfc32e"/><path d="M2555 2438l18-52l-14-26l-18 52z" color="#0cbcbf"/><path d="M2800 2303l18-54l-14-26l-18 54z" color="#96c949"/><path d="M1879 2340l18-21l-13-102l-18 20z" color="#86cb55"/><path d="M2232 2363l18 51l-14-82l-17-52z" color="#39c798"/><path d="M2585 2369l18-30l-13 18l-18 30z" color="#2ac4a5"/><path d="M2125 2281l17-76l-13 39l-18 76z" color="#9bc946"/><path d="M2477 2357l18 7l-13-32l-18-7z" color="#3bc796"/><path d="M2830 2303l18-7l-13-54l-18 7z" color="#8dcb4f"/><path d="M2017 2569l18 42l-14 66l-18-41z" color="#4757f6"/><path d="M3076 2434l17-112l-13-76l-18 112z" color="#3fc892"/><path d="M1909 2388l18 28l-13-71l-18-28z" color="#29c4a6"/><path d="M2155 2215l18-42l-14-9l-18 42z" color="#eeba35"/><path d="M2508 2417l17 19l-13-54l-18-20z" color="#0cbdbc"/><path d="M2047 2528l18-7l-14 84l-17 7z" color="#3777fd"/><path d="M1940 2436l17 68l-13-22l-18-68z" color="#18abdb"/><path d="M1832 2405l18-100l-14-114l-18 100z" color="#71cb66"/><path d="M2185 2229l18 7l-14-56l-17-7z" color="#e1bd32"/><path d="M2783 2381l18-80l-14-25l-17 80z" color="#4dca84"/><path d="M1862 2406l18-66l-14-103l-17 67z" color="#55cc7c"/><path d="M2215 2317l17 46l-13-83l-17-46z" color="#72cb65"/><path d="M2568 2420l17-53l-13 18l-17 53z" color="#0cbdbc"/><path d="M2460 2373l18-16l-13-32l-19 16z" color="#3dc894"/><path d="M2813 2355l18-53l-14-54l-18 54z" color="#6dcc68"/><path d="M1892 2408l18-21l-13-70l-18 21z" color="#32c69f"/><path d="M2245 2439l18 51l-13-78l-18-51z" color="#0eb7c9"/><path d="M2598 2364l18-30l-14 5l-18 30z" color="#3bc796"/><path d="M2138 2289l17-76l-13-8l-18 76z" color="#b8c433"/><path d="M2490 2410l18 6l-13-54l-18-7z" color="#1dc1af"/><path d="M2843 2333l18-7l-13-32l-18 7z" color="#60cc73"/><path d="M2030 2487l18 41l-14 84l-17-41z" color="#3184f7"/><path d="M3089 2514l17-112l-13-80l-18 112z" color="#0db9c4"/><path d="M2627 2351l19 20l-13-17l-18-20z" color="#3cc895"/><path d="M1815 2515l18-111l-14-114l-18 112z" color="#10beb9"/><path d="M2168 2269l18-41l-14-55l-18 41z" color="#d7bf2f"/><path d="M1845 2505l18-100l-14-101l-18 100z" color="#10beb9"/><path d="M2198 2309l17 8l-13-83l-17-7z" color="#9dc845"/><path d="M2796 2433l18-80l-14-52l-18 80z" color="#31c6a0"/><path d="M1875 2475l18-68l-14-69l-18 67z" color="#10beb9"/><path d="M2228 2393l18 46l-14-78l-17-46z" color="#2ac4a5"/><path d="M2581 2415l18-53l-14 5l-18 53z" color="#1dc1af"/><path d="M2121 2368l17-81l-13-8l-18 80z" color="#5ccc76"/><path d="M2473 2425l18-16l-13-54l-18 16z" color="#1ec1ae"/><path d="M2826 2385l18-54l-14-30l-18 54z" color="#48ca89"/><path d="M1905 2430l19-21l-14-23l-19 21z" color="#10beb9"/><path d="M2611 2381l18-30l-14-17l-18 30z" color="#3dc894"/><path d="M2151 2343l18-76l-14-54l-18 76z" color="#9ac947"/><path d="M2396 2329l18 21l-14 18l-18-20z" color="#45c98b"/><path d="M1828 2616l18-112l-14-101l-18 112z" color="#259ce8"/><path d="M2181 2349l18-40l-14-82l-18 40z" color="#90ca4d"/><path d="M2426 2381l18 7l-14-32l-18-7z" color="#36c79b"/><path d="M1858 2574l18-101l-14-69l-18 101z" color="#1ea5e0"/><path d="M2211 2385l17 8l-13-78l-17-8z" color="#47ca89"/><path d="M2564 2438l18-25l-14 5l-18 25z" color="#0dbac3"/><path d="M2809 2464l18-81l-14-30l-17 80z" color="#13bfb7"/><path d="M1888 2497l18-69l-14-22l-17 68z" color="#10b4d0"/><path d="M2594 2432l18-53l-14-17l-18 53z" color="#1ec1ae"/><path d="M2134 2422l18-80l-14-55l-18 80z" color="#45c98c"/><path d="M2839 2368l18-54l-14 17l-17 54z" color="#49ca88"/><path d="M2624 2398l18-30l-14-17l-18 30z" color="#34c69d"/><path d="M2164 2423l18-75l-14-81l-18 75z" color="#4fcb82"/><path d="M2409 2361l18 20l-14-32l-18-20z" color="#46c98a"/><path d="M3115 2577l17-113l-13-8l-18 112z" color="#269be8"/><path d="M1841 2685l18-113l-14-69l-18 113z" color="#3975fe"/><path d="M2194 2425l18-41l-14-77l-18 40z" color="#3ec893"/><path d="M1871 2596l18-101l-14-22l-17 101z" color="#2995ed"/><path d="M2577 2455l18-24l-14-18l-18 24z" color="#0dbac2"/><path d="M2822 2446l18-80l-14 17l-17 81z" color="#14bfb6"/><path d="M2362 2405l17-52l-13 17l-18 52z" color="#2dc5a2"/><path d="M1901 2470l18-68l-13 26l-18 69z" color="#0fb7ca"/><path d="M2147 2502l18-79l-14-82l-18 80z" color="#10beb9"/><path d="M2851 2318l19-54l-13 50l-18 54z" color="#79cb60"/><path d="M2392 2385l18-24l-14-32l-18 24z" color="#4aca87"/><path d="M2637 2393l18-30l-14 5l-18 30z" color="#36c79b"/><path d="M2177 2499l18-75l-14-77l-18 75z" color="#10beb9"/><path d="M2422 2414l18 19l-14-54l-17-19z" color="#28c4a6"/><path d="M3128 2538l17-113l-13 39l-18 113z" color="#1ea5e1"/><path d="M2667 2345l18 20l-13 18l-19-20z" color="#45c98b"/><path d="M1854 2707l18-113l-14-22l-17 112z" color="#455ffb"/><path d="M1884 2570l18-102l-14 27l-17 101z" color="#2799ea"/><path d="M2835 2397l18-81l-14 50l-17 80z" color="#39c798"/><path d="M2375 2435l18-52l-14-30l-18 52z" color="#2ec5a2"/><path d="M1913 2405l19-68l-13 65l-18 68z" color="#27c3a8"/><path d="M2972 2440l18 86l-13-76l-17-86z" color="#0dbac4"/><path d="M2512 2427l18-17l-13 5l-18 17z" color="#17c0b4"/><path d="M2865 2274l18-54l-13 44l-18 54z" color="#bfc32e"/><path d="M2405 2437l18-23l-14-54l-18 23z" color="#2cc5a4"/><path d="M2650 2375l18-30l-13 18l-18 30z" color="#46c98a"/><path d="M2542 2429l19 6l-14-18l-18-7z" color="#17c0b4"/><path d="M2894 2215l20-8l-13 7l-19 7z" color="#f3bd35"/><path d="M2680 2372l18 19l-13-27l-18-19z" color="#49ca88"/><path d="M3033 2726l18 29l-14-56l-17-28z" color="#453cda"/><path d="M1867 2680l17-112l-13 26l-17 113z" color="#4265fc"/><path d="M2925 2250l18 42l-12-44l-19-41z" color="#d8be2f"/><path d="M2710 2442l18 52l-12-53l-19-52z" color="#0cbcbe"/><path d="M3063 2763l18-22l-13-9l-19 22z" color="#453ad6"/><path d="M1897 2505l18-101l-14 64l-17 102z" color="#13afd8"/><path d="M2955 2367l18 75l-12-77l-18-75z" color="#4cca85"/><path d="M2848 2352l18-80l-14 44l-17 81z" color="#72cb65"/><path d="M2388 2488l18-52l-14-53l-18 51z" color="#10beb9"/><path d="M3093 2704l18-69l-13 39l-18 69z" color="#474aed"/><path d="M2633 2426l18-53l-14 18l-17 52z" color="#28c4a6"/><path d="M2525 2444l19-16l-14-18l-19 16z" color="#18c0b2"/><path d="M2878 2268l18-54l-13 6l-18 54z" color="#e1bd32"/><path d="M3123 2564l18-101l-13 73l-18 101z" color="#2995ed"/><path d="M2663 2400l18-29l-14-26l-18 29z" color="#4aca87"/><path d="M2555 2446l19 6l-14-18l-18-7z" color="#0ebeba"/><path d="M2908 2258l18-7l-13-44l-18 7z" color="#eeba35"/><path d="M2693 2424l18 19l-13-54l-18-19z" color="#2dc5a2"/><path d="M3046 2733l18 30l-14-8l-17-30z" color="#453ad6"/><path d="M1880 2616l17-113l-13 65l-17 112z" color="#3282f8"/><path d="M2939 2327l17 41l-13-78l-18-41z" color="#9bc946"/><path d="M2831 2427l17-77l-13 45l-17 76z" color="#2ac4a5"/><path d="M3076 2722l18-20l-13 41l-18 20z" color="#453ad6"/><path d="M2968 2448l18 74l-13-82l-17-74z" color="#0dbdbb"/><path d="M2861 2346l18-80l-14 6l-17 80z" color="#9dc845"/><path d="M2048 2280l17 86l-13-54l-17-86z" color="#b0c538"/><path d="M3106 2629l18-67l-13 75l-18 67z" color="#3e6cfd"/><path d="M1940 2249l18-67l-13 75l-18 67z" color="#e0bd31"/><path d="M2646 2451l18-52l-14-26l-18 52z" color="#2cc5a4"/><path d="M2538 2461l19-16l-14-18l-18 16z" color="#10beb9"/><path d="M2891 2310l18-54l-13-42l-19 53z" color="#d7bf2f"/><path d="M2676 2453l18-29l-14-54l-18 29z" color="#2ec5a2"/><path d="M3029 2667l18 68l-14-8l-17-69z" color="#474bee"/><path d="M2921 2334l18-7l-13-78l-18 7z" color="#b8c433"/><path d="M3167 2318l17-112l-13 64l-17 113z" color="#b4c435"/><path d="M3059 2694l18 29l-14 40l-18-29z" color="#453cda"/><path d="M1893 2534l17-113l-13 82l-17 113z" color="#1ba8de"/><path d="M2246 2365l17-40l-13 51l-17 41z" color="#55cc7c"/><path d="M2952 2407l17 41l-13-82l-18-41z" color="#46c98b"/><path d="M2844 2421l18-77l-14 6l-17 77z" color="#47ca89"/><path d="M2031 2213l17 69l-13-54l-17-69z" color="#f7c235"/><path d="M3089 2649l18-20l-13 75l-18 20z" color="#4757f6"/><path d="M2874 2388l18-80l-14-42l-17 80z" color="#90ca4d"/><path d="M2060 2360l18 86l-12-81l-18-85z" color="#62cc71"/><path d="M3119 2547l18-67l-13 84l-18 67z" color="#2799ea"/><path d="M1953 2212l18-69l-13 39l-18 69z" color="#fdcd32"/><path d="M2659 2503l18-51l-14-54l-18 52z" color="#10beb9"/><path d="M2904 2386l18-53l-13-77l-18 52z" color="#9ac947"/><path d="M3150 2417l17-101l-13 65l-18 101z" color="#3fc892"/><path d="M1983 2154l19-22l-14-9l-18 22z" color="#fbd42e"/><path d="M3042 2627l18 69l-14 39l-18-68z" color="#4757f6"/><path d="M2934 2414l18-7l-13-82l-18 7z" color="#5ccc76"/><path d="M3180 2292l17-113l-13 27l-17 112z" color="#edba35"/><path d="M2014 2187l17 28l-13-56l-18-28z" color="#fbd42e"/><path d="M3072 2621l18 28l-14 75l-17-28z" color="#465dfa"/><path d="M1906 2461l17-113l-13 73l-17 113z" color="#1dc1af"/><path d="M2259 2350l18-42l-14 17l-17 42z" color="#8acb52"/><path d="M2964 2461l18 41l-13-56l-18-41z" color="#11beb8"/><path d="M2857 2463l18-76l-14-43l-18 76z" color="#3ec893"/><path d="M2044 2296l17 66l-13-82l-17-67z" color="#cac12b"/><path d="M3102 2567l18-20l-13 84l-18 20z" color="#3086f6"/><path d="M1936 2311l18-101l-14 39l-17 101z" color="#d2bf2e"/><path d="M2289 2340l18 7l-14-32l-17-7z" color="#99c947"/><path d="M2887 2464l18-79l-14-77l-18 80z" color="#4fcb82"/><path d="M3132 2483l18-67l-12 65l-19 68z" color="#0eb7c8"/><path d="M1966 2220l18-68l-13-9l-18 69z" color="#fbd42e"/><path d="M2917 2466l18-52l-13-82l-18 52z" color="#45c98c"/><path d="M3163 2391l17-101l-13 26l-18 101z" color="#79cb5f"/><path d="M1997 2208l17-21l-13-56l-18 21z" color="#fbd42e"/><path d="M3055 2555l18 67l-14 74l-18-67z" color="#367afc"/><path d="M2242 2424l17-76l-13 17l-17 76z" color="#4bca86"/><path d="M2947 2468l18-7l-13-56l-18 7z" color="#25c3a9"/><path d="M2134 2630l18 43l-13 6l-18-42z" color="#3e6bfd"/><path d="M3193 2314l17-113l-13-22l-18 113z" color="#f2bc35"/><path d="M2027 2267l17 29l-13-83l-18-28z" color="#f5bf35"/><path d="M3085 2539l18 28l-14 84l-17-28z" color="#2d8bf3"/><path d="M1919 2422l18-113l-14 39l-17 113z" color="#56cc7b"/><path d="M2272 2380l18-42l-14-30l-18 41z" color="#8bcb51"/><path d="M2057 2371l17 67l-13-78l-17-66z" color="#70cb66"/><path d="M3115 2503l18-21l-13 67l-18 20z" color="#18abdb"/><path d="M1949 2319l18-101l-14-8l-17 101z" color="#e9bb34"/><path d="M2302 2392l18 8l-14-54l-17-8z" color="#6ccc69"/><path d="M3145 2458l18-69l-13 26l-18 69z" color="#29c4a6"/><path d="M1979 2274l19-68l-14-54l-18 68z" color="#fdcc32"/><path d="M2577 2463l19-16l-14-26l-18 16z" color="#26c3a8"/><path d="M3176 2413l17-101l-13-22l-18 101z" color="#86cb55"/><path d="M2010 2288l17-21l-13-82l-18 21z" color="#f8c334"/><path d="M3068 2473l18 67l-14 83l-18-67z" color="#1fa4e2"/><path d="M2255 2454l18-76l-14-30l-18 76z" color="#4cca85"/><path d="M2147 2586l18 42l-14 45l-18-42z" color="#347dfa"/><path d="M3206 2382l18-112l-14-69l-18 113z" color="#d1c02d"/><path d="M2040 2343l17 29l-13-78l-18-28z" color="#b5c435"/><path d="M3098 2474l18 29l-14 66l-17-28z" color="#14afd8"/><path d="M1932 2430l18-113l-14-8l-17 113z" color="#74cb63"/><path d="M2285 2432l18-41l-14-53l-18 41z" color="#5ecc74"/><path d="M1962 2373l18-101l-14-54l-17 101z" color="#d2bf2d"/><path d="M2560 2478l19-16l-14-26l-19 16z" color="#1ec1ae"/><path d="M3159 2480l17-69l-13-22l-18 69z" color="#32c69f"/><path d="M1992 2355l19-68l-14-81l-18 67z" color="#e3bc32"/><path d="M3189 2482l18-101l-14-69l-18 101z" color="#55cc7c"/><path d="M2023 2364l17-21l-13-78l-18 21z" color="#c1c22d"/><path d="M2728 2370l18-29l-13 46l-18 29z" color="#6ecc68"/><path d="M3081 2408l18 67l-14 66l-18-67z" color="#10beb9"/><path d="M2268 2507l18-76l-14-53l-18 76z" color="#2ec5a2"/><path d="M3219 2483l18-112l-14-101l-18 112z" color="#71cb66"/><path d="M2053 2386l17 28l-13-44l-18-28z" color="#72cb65"/><path d="M1945 2484l18-112l-14-55l-17 113z" color="#55cc7c"/><path d="M2543 2471l18 7l-13-27l-18-6z" color="#1fc2ad"/><path d="M2788 2396l18 53l-13-42l-18-53z" color="#55cc7c"/><path d="M3141 2500l19-21l-14-23l-19 21z" color="#10beb9"/><path d="M1975 2454l18-101l-13-81l-18 101z" color="#89cb53"/><path d="M3172 2548l18-67l-14-70l-18 68z" color="#10beb9"/><path d="M2005 2430l19-67l-14-77l-18 67z" color="#91ca4c"/><path d="M3202 2582l18-100l-14-102l-18 100z" color="#10beb9"/><path d="M2036 2406l18-21l-14-44l-18 21z" color="#7fcb5b"/><path d="M2741 2365l18-30l-13 6l-18 30z" color="#99c947"/><path d="M2526 2452l18 19l-13-26l-18-20z" color="#30c6a0"/><path d="M3232 2596l18-112l-14-113l-18 111z" color="#10beb9"/><path d="M2771 2379l18 19l-13-44l-18-19z" color="#8acb52"/><path d="M1958 2564l18-112l-14-81l-17 113z" color="#20c2ad"/><path d="M2556 2524l18 6l-13-54l-18-6z" color="#0cbac2"/><path d="M3154 2569l18-21l-13-70l-18 20z" color="#10b4d0"/><path d="M1988 2530l18-101l-13-76l-18 100z" color="#3ac797"/><path d="M3185 2649l17-67l-13-102l-18 66z" color="#1ea5e0"/><path d="M2019 2473l17-69l-13-42l-18 68z" color="#50cb81"/><path d="M2724 2416l18-53l-14 7l-17 52z" color="#6ccc69"/><path d="M2509 2475l18-24l-14-26l-18 24z" color="#34c69d"/><path d="M3215 2695l18-100l-14-114l-18 100z" color="#259ce8"/><path d="M2048 2400l19-22l-14 6l-18 22z" color="#71cb65"/><path d="M2754 2408l18-30l-13-43l-19 29z" color="#8bcb51"/><path d="M3107 2404l18 68l-14-22l-17-68z" color="#48ca89"/><path d="M2539 2504l18 20l-14-55l-17-19z" color="#14bfb6"/><path d="M2784 2455l18 19l-13-78l-18-19z" color="#4bca86"/><path d="M3137 2540l18 29l-13-71l-18-28z" color="#0fb7ca"/><path d="M1971 2640l18-112l-14-76l-17 112z" color="#14afd8"/><path d="M3167 2669l18-20l-13-103l-18 21z" color="#2995ed"/><path d="M2001 2572l18-101l-13-43l-18 101z" color="#0bbdbc"/><path d="M2354 2411l18 8l-13-19l-19-8z" color="#64cc70"/><path d="M2707 2439l18-25l-14 6l-18 25z" color="#4aca87"/><path d="M3198 2761l17-66l-13-115l-18 67z" color="#3975fe"/><path d="M2031 2466l18-68l-13 6l-18 69z" color="#47c98a"/><path d="M2737 2458l18-52l-14-43l-18 52z" color="#5ecc74"/><path d="M2522 2527l18-23l-14-54l-18 23z" color="#18c0b3"/><path d="M2874 2713l19 8l-13-9l-19-8z" color="#465efb"/><path d="M2767 2484l18-29l-13-78l-18 29z" color="#4cca85"/><path d="M3119 2473l19 67l-13-69l-18-67z" color="#27c3a8"/><path d="M3150 2641l18 28l-13-102l-18-29z" color="#2799ea"/><path d="M1984 2683l18-113l-14-42l-17 112z" color="#2699e9"/><path d="M2337 2452l18-43l-14-17l-18 42z" color="#56cc7b"/><path d="M3180 2782l18-21l-13-114l-18 20z" color="#455ffb"/><path d="M2014 2566l18-101l-13 6l-18 101z" color="#0dbac3"/><path d="M2367 2428l18 8l-13-19l-19-8z" color="#57cc7a"/><path d="M2858 2666l17 48l-13-9l-18-47z" color="#3b71fe"/><path d="M2044 2422l18-68l-13 44l-18 68z" color="#6acc6b"/><path d="M2750 2534l18-51l-14-77l-18 50z" color="#2ec5a2"/><path d="M3103 2388l17 86l-13-68l-17-86z" color="#7acb5e"/><path d="M2888 2673l18 8l-14 41l-18-8z" color="#3e6bfd"/><path d="M3133 2575l18 66l-14-103l-17-66z" color="#13afd8"/><path d="M3025 2189l18-6l-13 28l-18 7z" color="#fbd42e"/><path d="M3163 2754l18 28l-13-115l-18-28z" color="#4265fc"/><path d="M1997 2676l18-112l-14 6l-17 112z" color="#2995ed"/><path d="M2350 2468l18-42l-14-17l-18 42z" color="#4ecb83"/><path d="M2703 2462l18 19l-14-44l-17-19z" color="#44c98d"/><path d="M3056 2205l17 42l-13-22l-18-42z" color="#fbd42e"/><path d="M2242 2650l18-7l-13 19l-18 7z" color="#3184f7"/><path d="M2027 2521l18-101l-13 45l-18 101z" color="#1fc2ad"/><path d="M3085 2314l18 76l-12-68l-18-76z" color="#e0bd31"/><path d="M2871 2627l18 47l-14 40l-18-47z" color="#347dfa"/><path d="M2057 2373l18-69l-13 50l-18 68z" color="#b2c537"/><path d="M3116 2491l17 84l-13-103l-17-84z" color="#2ac4a5"/><path d="M2655 2428l19-17l-14 6l-18 17z" color="#64cc70"/><path d="M3008 2244l18-55l-13 27l-18 54z" color="#fbd42e"/><path d="M2087 2288l18-22l-12 18l-19 22z" color="#f7c135"/><path d="M3146 2687l18 67l-14-115l-17-66z" color="#3282f8"/><path d="M2686 2455l18 7l-14-44l-18-7z" color="#55cc7c"/><path d="M3039 2214l18-8l-14-23l-18 7z" color="#fbd42e"/><path d="M2225 2609l18 42l-13 18l-18-42z" color="#2b90f0"/><path d="M2117 2298l18 28l-12-31l-19-29z" color="#f4be35"/><path d="M2010 2632l18-113l-14 45l-17 112z" color="#20a3e2"/><path d="M2363 2463l18-42l-14 5l-17 42z" color="#4fcb82"/><path d="M3069 2275l17 41l-13-70l-17-41z" color="#fdcd32"/><path d="M2148 2377l17 68l-13-52l-17-68z" color="#9cc845"/><path d="M2040 2472l18-101l-13 49l-18 101z" color="#50cb81"/><path d="M2393 2403l18 9l-13 19l-19-9z" color="#73cb64"/><path d="M3099 2417l17 74l-13-103l-17-74z" color="#85cb56"/><path d="M2991 2322l18-80l-13 26l-18 80z" color="#f5bf35"/><path d="M2071 2355l17-68l-13 17l-18 69z" color="#dfbd31"/><path d="M3129 2604l17 83l-13-114l-17-84z" color="#1ba8de"/><path d="M2669 2470l18-15l-14-44l-18 15z" color="#56cc7b"/><path d="M3022 2266l17-54l-13-23l-18 54z" color="#fbd42e"/><path d="M2101 2319l18-21l-14-32l-18 21z" color="#f7c235"/><path d="M2346 2538l18-77l-14 5l-17 77z" color="#21c2ac"/><path d="M2699 2531l17 7l-13-78l-17-7z" color="#27c3a7"/><path d="M3052 2282l17-7l-13-70l-18 7z" color="#fbd42e"/><path d="M2131 2351l17 28l-13-54l-17-28z" color="#dabe30"/><path d="M2023 2582l18-112l-13 49l-18 113z" color="#0eb7ca"/><path d="M2376 2446l18-43l-14 18l-17 42z" color="#65cc6f"/><path d="M3082 2376l17 41l-13-103l-17-41z" color="#d2bf2e"/><path d="M2974 2396l18-76l-14 27l-17 76z" color="#b5c435"/><path d="M2053 2454l18-101l-13 18l-18 101z" color="#83cb57"/><path d="M2406 2430l18 8l-13-27l-18-8z" color="#78cb60"/><path d="M3112 2529l17 75l-13-115l-17-74z" color="#1dc1af"/><path d="M3004 2344l18-80l-13-22l-18 80z" color="#f8c334"/><path d="M2084 2386l17-69l-13-30l-18 68z" color="#e0bd31"/><path d="M2682 2546l17-15l-13-78l-18 15z" color="#28c4a6"/><path d="M3035 2334l18-53l-14-69l-18 52z" color="#fdcc32"/><path d="M2574 2445l18-24l-14 46l-17 24z" color="#50cb81"/><path d="M2114 2371l18-21l-14-54l-18 21z" color="#e4bc32"/><path d="M2359 2520l17-76l-13 17l-17 77z" color="#33c69e"/><path d="M3065 2383l17-7l-13-103l-18 7z" color="#e9bb34"/><path d="M2036 2565l18-113l-13 18l-18 112z" color="#1cc1b0"/><path d="M2389 2471l18-42l-14-26l-18 42z" color="#6acc6b"/><path d="M3095 2488l17 41l-13-114l-17-41z" color="#56cc7b"/><path d="M2987 2419l18-77l-14-22l-17 76z" color="#c1c22d"/><path d="M2066 2485l18-101l-13-31l-18 101z" color="#84cb56"/><path d="M3017 2413l19-80l-14-69l-19 80z" color="#e3bc32"/><path d="M2097 2438l18-68l-14-53l-18 68z" color="#bcc330"/><path d="M3048 2435l17-52l-13-103l-18 52z" color="#d2bf2d"/><path d="M2587 2440l18-25l-13 6l-19 25z" color="#78cb60"/><path d="M2127 2396l18-21l-14-26l-18 21z" color="#c5c22a"/><path d="M2372 2545l18-76l-14-25l-17 76z" color="#36c79b"/><path d="M3078 2495l17-7l-13-114l-18 7z" color="#74cb63"/><path d="M2970 2459l18-42l-14-23l-18 42z" color="#7fcb5b"/><path d="M2049 2595l18-112l-13-31l-18 113z" color="#1dc1af"/><path d="M3000 2487l18-76l-14-69l-18 76z" color="#91ca4c"/><path d="M2080 2537l17-101l-13-52l-18 100z" color="#58cc79"/><path d="M3030 2513l18-78l-13-103l-18 79z" color="#89cb53"/><path d="M2570 2491l18-53l-14 6l-17 53z" color="#51cb80"/><path d="M2110 2463l17-69l-13-25l-18 69z" color="#94ca4a"/><path d="M3061 2547l17-52l-13-114l-18 52z" color="#55cc7c"/><path d="M2953 2451l18 8l-14-24l-18-8z" color="#71cb65"/><path d="M2139 2378l19-22l-13 18l-19 22z" color="#c9c12b"/><path d="M2385 2597l18-76l-14-52l-18 75z" color="#1ac0b1"/><path d="M2983 2527l18-40l-14-70l-18 40z" color="#50cb81"/><path d="M2062 2648l18-113l-13-52l-18 112z" color="#0db9c5"/><path d="M3013 2588l18-75l-14-102l-17 74z" color="#3ac797"/><path d="M2553 2519l18-30l-14 6l-18 30z" color="#34c69d"/><path d="M2093 2562l17-101l-13-25l-18 101z" color="#3cc895"/><path d="M3043 2626l18-79l-13-114l-18 79z" color="#20c2ad"/><path d="M2583 2533l18-52l-14-43l-18 52z" color="#48ca89"/><path d="M2123 2445l17-69l-13 18l-18 69z" color="#9ac947"/><path d="M2966 2519l18 8l-14-70l-17-8z" color="#47c98a"/><path d="M2153 2373l18-22l-14 5l-18 22z" color="#dcbe30"/><path d="M2996 2628l18-40l-14-103l-17 40z" color="#0bbdbc"/><path d="M2075 2673l18-113l-13-25l-18 113z" color="#13b0d7"/><path d="M3026 2700l18-74l-13-115l-18 75z" color="#14afd8"/><path d="M2566 2562l18-30l-14-43l-18 29z" color="#2ac4a5"/><path d="M2919 2352l17 53l-13-22l-18-53z" color="#dbbe30"/><path d="M2106 2544l17-101l-13 18l-18 101z" color="#3fc891"/><path d="M2949 2473l17 46l-13-70l-17-46z" color="#6acc6b"/><path d="M2136 2440l17-69l-13 5l-18 69z" color="#b2c537"/><path d="M2979 2620l17 8l-13-103l-17-8z" color="#0dbac3"/><path d="M2166 2390l18-21l-14-18l-18 21z" color="#ddbd31"/><path d="M3009 2741l18-41l-14-114l-17 40z" color="#2699e9"/><path d="M2549 2543l17 18l-13-44l-18-18z" color="#2bc4a4"/><path d="M2901 2334l18 20l-12-24l-19-19z" color="#f7c135"/><path d="M2088 2655l18-113l-13 18l-18 113z" color="#11b2d5"/><path d="M2932 2422l17 51l-13-70l-17-51z" color="#b2c537"/><path d="M2119 2539l17-101l-13 5l-18 101z" color="#50cb81"/><path d="M2962 2574l17 46l-13-103l-17-46z" color="#1fc2ad"/><path d="M2149 2457l17-69l-13-17l-18 69z" color="#b4c535"/><path d="M2854 2392l18-53l-13 27l-18 52z" color="#dabe30"/><path d="M2992 2733l17 8l-13-115l-17-8z" color="#2995ed"/><path d="M2179 2407l18-21l-14-18l-18 21z" color="#d4bf2e"/><path d="M2531 2489l18 54l-13-43l-18-53z" color="#4fcb82"/><path d="M2884 2363l19-29l-14-23l-18 29z" color="#f7c235"/><path d="M2669 2676l18 21l-13-8l-18-21z" color="#2994ed"/><path d="M2562 2619l17 19l-13-78l-17-19z" color="#0eb8c6"/><path d="M2915 2403l17 19l-13-70l-18-19z" color="#dfbd31"/><path d="M2101 2650l18-113l-13 5l-18 113z" color="#0eb7ca"/><path d="M2945 2523l17 51l-13-103l-17-51z" color="#50cb81"/><path d="M2132 2556l17-101l-13-17l-18 101z" color="#52cb7f"/><path d="M2975 2687l17 46l-13-115l-17-46z" color="#20a3e2"/><path d="M2162 2474l17-69l-13-17l-18 69z" color="#a8c73d"/><path d="M2514 2444l18 47l-13-42l-18-48z" color="#94ca4b"/><path d="M2867 2414l18-52l-13-23l-18 52z" color="#e4bc32"/><path d="M2192 2402l18-22l-14 5l-18 22z" color="#d5bf2e"/><path d="M2545 2567l17 52l-13-78l-18-52z" color="#22c2ab"/><path d="M2898 2432l17-29l-13-70l-18 29z" color="#e0bd31"/><path d="M2682 2637l18 20l-13 40l-18-20z" color="#249fe6"/><path d="M2928 2504l17 19l-13-103l-18-19z" color="#83cb57"/><path d="M2114 2667l18-113l-13-17l-18 113z" color="#0eb7c9"/><path d="M2467 2436l18-43l-13 6l-18 43z" color="#bec32f"/><path d="M2359 2746l19-7l-14 19l-18 6z" color="#3875fe"/><path d="M2958 2635l17 52l-13-115l-17-51z" color="#0eb7ca"/><path d="M2145 2573l17-101l-13-17l-18 101z" color="#49ca88"/><path d="M2497 2437l18 8l-13-44l-18-8z" color="#bec32f"/><path d="M2850 2437l18-24l-13-23l-19 24z" color="#c5c22a"/><path d="M2389 2691l18-54l-12 50l-18 54z" color="#2896ec"/><path d="M2175 2469l17-69l-13 5l-18 69z" color="#aac63c"/><path d="M2527 2521l18 46l-13-78l-18-46z" color="#52cb7f"/><path d="M2880 2482l18-51l-13-70l-18 51z" color="#bcc330"/><path d="M2204 2384l19-22l-13 18l-19 22z" color="#e8bb34"/><path d="M2558 2647l17 52l-13-82l-17-52z" color="#13b0d7"/><path d="M2911 2532l17-28l-13-103l-18 29z" color="#84cb56"/><path d="M2343 2705l18 42l-14 18l-18-43z" color="#3281f8"/><path d="M2234 2387l19 30l-13-25l-18-30z" color="#e3bc32"/><path d="M2941 2616l17 19l-13-114l-17-19z" color="#1cc1b0"/><path d="M2127 2684l18-113l-13-17l-18 113z" color="#10b5ce"/><path d="M2480 2478l18-42l-13-43l-19 42z" color="#b0c538"/><path d="M2832 2417l19 20l-13-23l-18-20z" color="#c9c12b"/><path d="M2373 2696l17-7l-13 52l-18 6z" color="#2d8bf3"/><path d="M2158 2568l17-101l-13 5l-18 101z" color="#4bca86"/><path d="M2510 2513l18 8l-13-78l-18-8z" color="#7bcb5d"/><path d="M2863 2505l18-23l-14-70l-17 23z" color="#94ca4a"/><path d="M2188 2451l17-69l-13 18l-18 69z" color="#c2c22c"/><path d="M2541 2601l17 46l-13-82l-18-46z" color="#13bfb7"/><path d="M2893 2583l18-51l-13-102l-18 50z" color="#58cc79"/><path d="M2218 2409l18-21l-14-26l-18 21z" color="#ecba35"/><path d="M2924 2645l17-29l-13-114l-18 29z" color="#1dc1af"/><path d="M2816 2411l18 6l-14-23l-18-7z" color="#dcbe30"/><path d="M2356 2655l18 42l-14 51l-18-42z" color="#2896ec"/><path d="M2248 2441l18 28l-14-54l-17-28z" color="#c3c22b"/><path d="M2141 2678l17-112l-13 5l-18 113z" color="#0fb5cd"/><path d="M2493 2554l18-41l-13-78l-18 41z" color="#6dcc68"/><path d="M2846 2486l18 19l-14-70l-17-19z" color="#9ac947"/><path d="M2386 2652l17-7l-13 46l-18 7z" color="#1fa4e1"/><path d="M2171 2550l17-101l-13 18l-18 101z" color="#5ecc75"/><path d="M2523 2594l18 7l-13-82l-18-8z" color="#31c6a0"/><path d="M2876 2606l18-23l-14-103l-17 24z" color="#3cc895"/><path d="M2201 2476l18-69l-14-25l-18 69z" color="#c7c12a"/><path d="M2906 2695l18-50l-13-115l-18 51z" color="#0db9c5"/><path d="M2799 2426l18-16l-14-23l-18 16z" color="#ddbd31"/><path d="M2231 2462l18-21l-14-54l-18 21z" color="#cdc02c"/><path d="M2829 2479l18 7l-14-70l-17-7z" color="#b2c537"/><path d="M2369 2611l18 42l-14 45l-18-42z" color="#15add9"/><path d="M2260 2471l19 28l-13-31l-18-29z" color="#98c948"/><path d="M2154 2661l17-113l-13 18l-18 112z" color="#0cbac2"/><path d="M2506 2634l18-41l-13-82l-18 41z" color="#27c3a7"/><path d="M2859 2587l18 19l-14-103l-17-19z" color="#3fc891"/><path d="M2752 2410l18 8l-14 28l-18-8z" color="#ccc12c"/><path d="M2184 2575l17-101l-13-25l-18 101z" color="#63cc70"/><path d="M2536 2648l18 7l-13-56l-18-7z" color="#0eb8c7"/><path d="M2889 2719l18-24l-13-114l-18 23z" color="#13b0d7"/><path d="M2782 2441l18-16l-14-23l-18 16z" color="#d4bf2e"/><path d="M2214 2528l18-68l-14-53l-18 68z" color="#a0c843"/><path d="M2812 2494l18-15l-14-70l-18 15z" color="#b4c535"/><path d="M2244 2492l18-21l-14-32l-18 21z" color="#a5c740"/><path d="M2842 2580l17 7l-13-103l-17-7z" color="#50cb81"/><path d="M2382 2605l17 42l-13 7l-18-43z" color="#0eb8c8"/><path d="M2167 2686l17-113l-13-25l-18 113z" color="#0cbcc0"/><path d="M2872 2699l18 20l-14-115l-17-19z" color="#11b2d5"/><path d="M2764 2434l19 7l-14-24l-18-6z" color="#d5bf2e"/><path d="M2197 2627l17-101l-13-52l-18 101z" color="#44c98d"/><path d="M2795 2510l17-16l-13-70l-18 16z" color="#a8c73d"/><path d="M2227 2558l18-68l-14-30l-18 68z" color="#73cb64"/><path d="M2825 2595l17-15l-13-103l-17 15z" color="#52cb7f"/><path d="M2717 2415l18-24l-13 28l-18 23z" color="#e3bc32"/><path d="M2855 2692l17 7l-13-114l-17-7z" color="#0eb7ca"/><path d="M2747 2415l18 19l-12-23l-19-20z" color="#e8bb34"/><path d="M2180 2738l17-113l-13-52l-18 113z" color="#11b3d2"/><path d="M2778 2503l17 7l-13-71l-18-6z" color="#aac63c"/><path d="M2210 2657l17-101l-13-30l-18 101z" color="#25c3a8"/><path d="M2808 2611l17-16l-13-103l-17 16z" color="#49ca88"/><path d="M2700 2467l18-53l-13 27l-18 52z" color="#c3c22b"/><path d="M2240 2541l17-68l-13 17l-17 68z" color="#75cb62"/><path d="M2838 2708l17-16l-13-114l-17 15z" color="#0eb7c9"/><path d="M2730 2438l19-24l-14-23l-19 24z" color="#ecba35"/><path d="M2270 2423l18-20l-14 51l-17 20z" color="#d6bf2e"/><path d="M2760 2483l18 20l-13-70l-18-20z" color="#c2c22c"/><path d="M2193 2768l17-112l-13-31l-18 113z" color="#1da6e0"/><path d="M2791 2604l17 6l-13-102l-18-7z" color="#4bca86"/><path d="M2223 2640l17-101l-13 17l-18 101z" color="#26c3a8"/><path d="M2821 2723l17-15l-13-115l-17 16z" color="#10b5ce"/><path d="M2713 2489l18-52l-14-23l-17 52z" color="#cdc02c"/><path d="M2743 2507l18-24l-13-70l-18 23z" color="#c7c12a"/><path d="M2774 2584l17 20l-13-103l-18-20z" color="#5ecc75"/><path d="M2206 2751l17-113l-13 17l-18 113z" color="#1da6df"/><path d="M2804 2716l17 7l-13-114l-18-7z" color="#0fb5cd"/><path d="M2343 2422l18 69l-13-43l-18-68z" color="#e4bc32"/><path d="M2696 2517l18-29l-14-23l-18 29z" color="#a5c740"/><path d="M2236 2591l17-102l-13 50l-17 101z" color="#4bca86"/><path d="M2373 2565l18 85l-13-76l-18-85z" color="#48ca89"/><path d="M2726 2557l18-51l-14-70l-18 51z" color="#a0c843"/><path d="M2266 2447l17-68l-13 44l-17 68z" color="#e6bc33"/><path d="M2756 2607l18-23l-13-103l-18 24z" color="#63cc70"/><path d="M2296 2374l18-22l-14 6l-18 22z" color="#fbd42e"/><path d="M2787 2697l17 19l-13-114l-18-20z" color="#0cbac2"/><path d="M2326 2396l18 28l-13-44l-18-28z" color="#fdc934"/><path d="M2678 2498l19 19l-13-23l-19-20z" color="#a6c73f"/><path d="M2219 2701l17-112l-13 49l-18 113z" color="#0fb5cd"/><path d="M2356 2500l18 67l-13-78l-18-67z" color="#aac63c"/><path d="M2709 2586l18-29l-14-70l-17 29z" color="#73cb64"/><path d="M2249 2546l17-101l-13 44l-17 102z" color="#8dcb4f"/><path d="M2739 2658l18-51l-14-102l-17 50z" color="#44c98d"/><path d="M2279 2441l17-69l-13 7l-17 68z" color="#f7c235"/><path d="M2524 2737l18-80l-13 73l-18 80z" color="#249fe6"/><path d="M2769 2720l18-23l-13-115l-18 23z" color="#0cbcc0"/><path d="M2309 2417l18-21l-14-44l-18 21z" color="#fcce31"/><path d="M2554 2575l18-74l-13 84l-18 74z" color="#48ca89"/><path d="M2447 2866l17 42l-13-8l-18-43z" color="#4751f2"/><path d="M2339 2472l18 28l-14-78l-17-28z" color="#e5bc33"/><path d="M2692 2567l18 19l-14-71l-17-19z" color="#75cb62"/><path d="M2232 2657l17-113l-13 45l-18 112z" color="#23c3aa"/><path d="M2584 2436l18-41l-13 67l-18 41z" color="#e4bc32"/><path d="M2477 2867l18-6l-14 41l-18 6z" color="#4751f2"/><path d="M2369 2580l18 67l-13-82l-18-67z" color="#51cb80"/><path d="M2722 2687l18-29l-14-103l-17 29z" color="#25c3a8"/><path d="M2262 2540l17-101l-13 6l-17 101z" color="#b7c433"/><path d="M2507 2788l17-53l-13 75l-17 52z" color="#3281f8"/><path d="M2399 2699l18 85l-13-53l-18-86z" color="#1aa9dd"/><path d="M2752 2770l18-50l-13-115l-18 51z" color="#11b3d2"/><path d="M2292 2483l18-68l-14-43l-18 69z" color="#f4bf35"/><path d="M2430 2791l17 76l-13-8l-18-76z" color="#3974fe"/><path d="M2322 2493l18-21l-14-78l-17 21z" color="#efba35"/><path d="M2675 2515l17 52l-13-71l-17-51z" color="#aac63c"/><path d="M2460 2826l18 42l-14 40l-18-42z" color="#465efb"/><path d="M2352 2552l18 28l-14-82l-17-28z" color="#94ca4a"/><path d="M2705 2668l17 18l-13-102l-17-19z" color="#26c3a8"/><path d="M2245 2651l17-113l-13 6l-18 113z" color="#40c890"/><path d="M2597 2411l18-42l-13 26l-18 43z" color="#fdc934"/><path d="M2490 2794l17-6l-13 74l-17 7z" color="#3974fe"/><path d="M2382 2632l18 69l-13-54l-18-69z" color="#1cc1b0"/><path d="M2735 2799l18-29l-14-114l-17 29z" color="#1da6e0"/><path d="M2275 2582l17-101l-13-42l-18 101z" color="#aac63c"/><path d="M2627 2393l19 8l-14-24l-18-8z" color="#fbd42e"/><path d="M2520 2706l17-53l-13 84l-17 53z" color="#1aa9dd"/><path d="M2305 2559l18-67l-14-77l-18 67z" color="#c9c12b"/><path d="M2658 2469l17 46l-13-70l-17-46z" color="#e6bc33"/><path d="M2443 2752l17 76l-13 40l-18-77z" color="#3381f9"/><path d="M2335 2573l18-21l-14-82l-17 21z" color="#a0c842"/><path d="M2688 2616l17 51l-13-102l-17-52z" color="#4bca86"/><path d="M2580 2486l18-76l-13 26l-18 76z" color="#e5bc33"/><path d="M2473 2754l18 41l-14 74l-18-41z" color="#3381f9"/><path d="M2365 2606l18 28l-13-56l-18-28z" color="#4bca86"/><path d="M2718 2780l17 19l-13-114l-17-19z" color="#1da6df"/><path d="M2258 2693l17-113l-13-42l-18 113z" color="#37c79a"/><path d="M2610 2434l19-42l-14-23l-18 42z" color="#fcce31"/><path d="M2503 2712l17-6l-13 84l-17 6z" color="#249fe5"/><path d="M2288 2658l18-100l-14-77l-18 101z" color="#66cc6e"/><path d="M2641 2461l17 8l-13-70l-18-8z" color="#f7c235"/><path d="M2318 2639l18-67l-14-81l-18 67z" color="#6fcb67"/><path d="M2671 2570l17 46l-13-103l-17-46z" color="#8dcb4f"/><path d="M2563 2564l18-80l-14 26l-17 81z" color="#94ca4a"/><path d="M2456 2679l18 76l-14 73l-18-75z" color="#23a0e5"/><path d="M2348 2627l18-21l-14-56l-18 21z" color="#54cc7d"/><path d="M2701 2729l17 51l-13-114l-17-52z" color="#0fb5cd"/><path d="M2593 2508l18-76l-13-22l-18 76z" color="#efba35"/><path d="M2486 2672l18 41l-14 83l-18-41z" color="#1aa9dd"/><path d="M2271 2769l18-112l-14-77l-18 113z" color="#0bbcbe"/><path d="M2624 2502l17-41l-13-70l-18 41z" color="#f4bf35"/><path d="M2516 2648l18-7l-14 67l-17 6z" color="#0cbbc0"/><path d="M2301 2738l18-100l-14-81l-18 101z" color="#23c2ab"/><path d="M2654 2562l17 8l-13-103l-18-7z" color="#b7c433"/><path d="M2546 2617l18-55l-14 27l-17 54z" color="#4bca86"/><path d="M2331 2693l18-68l-14-54l-18 68z" color="#32c69e"/><path d="M2684 2683l17 46l-13-115l-17-46z" color="#23c3aa"/><path d="M2576 2586l18-80l-14-22l-17 80z" color="#a0c842"/><path d="M2469 2597l18 75l-14 84l-18-76z" color="#0bbdbc"/><path d="M2361 2635l18-22l-14-9l-18 22z" color="#3fc892"/><path d="M2606 2576l19-75l-14-69l-19 75z" color="#c9c12b"/><path d="M2499 2607l18 41l-14 66l-18-41z" color="#1bc1b0"/><path d="M2284 2849l18-112l-14-81l-18 113z" color="#1ea5e1"/><path d="M2637 2603l17-41l-13-103l-18 41z" color="#aac63c"/><path d="M2314 2792l18-101l-14-54l-18 101z" color="#10b4d1"/><path d="M2667 2675l17 8l-13-115l-18-8z" color="#40c890"/><path d="M2559 2639l18-54l-14-23l-18 54z" color="#54cc7d"/><path d="M2344 2702l18-69l-14-8l-17 68z" color="#1dc1af"/><path d="M2589 2655l18-80l-14-69l-18 80z" color="#6fcb67"/><path d="M2482 2532l18 76l-14 66l-18-76z" color="#54cc7d"/><path d="M2619 2677l18-75l-13-102l-18 75z" color="#66cc6e"/><path d="M2297 2903l17-112l-13-55l-18 113z" color="#2e89f4"/><path d="M2650 2715l17-40l-13-115l-18 41z" color="#37c79a"/><path d="M2542 2645l18-7l-14-23l-18 7z" color="#3fc892"/><path d="M2327 2801l17-101l-13-9l-17 101z" color="#18abdb"/><path d="M2572 2707l18-53l-14-70l-18 53z" color="#32c69e"/><path d="M2357 2663l17-69l-13 39l-17 69z" color="#32c69f"/><path d="M2602 2756l18-79l-14-103l-17 79z" color="#23c2ab"/><path d="M2632 2789l18-74l-13-114l-18 74z" color="#0bbcbe"/><path d="M2310 2912l17-113l-13-9l-17 113z" color="#357cfb"/><path d="M2555 2714l18-7l-14-70l-17 7z" color="#1dc1af"/><path d="M2340 2762l17-101l-13 39l-17 101z" color="#10b3d1"/><path d="M2585 2808l18-53l-14-102l-17 52z" color="#10b4d1"/><path d="M2370 2588l17-67l-12 75l-18 67z" color="#73cb64"/><path d="M2615 2868l18-79l-13-114l-18 79z" color="#1ea5e1"/><path d="M2538 2673l17 41l-13-70l-17-41z" color="#32c69f"/><path d="M2323 2873l17-113l-13 39l-17 113z" color="#2f89f4"/><path d="M2568 2815l18-7l-14-103l-17 7z" color="#18abdb"/><path d="M2598 2920l18-52l-14-114l-17 52z" color="#2e89f4"/><path d="M2520 2597l18 76l-13-69l-17-76z" color="#73cb64"/><path d="M2551 2774l17 41l-13-103l-17-41z" color="#10b3d1"/><path d="M2336 2800l17-113l-13 73l-17 113z" color="#1da6e0"/><path d="M2581 2927l18-7l-14-114l-17 7z" color="#357cfb"/><path d="M2503 2513l18 85l-13-68l-18-86z" color="#dbbe30"/><path d="M2395 2443l18-68l-12 65l-18 68z" color="#fbd42f"/><path d="M2534 2699l17 75l-13-103l-17-75z" color="#25c3a9"/><path d="M2564 2886l17 41l-13-114l-17-41z" color="#2f89f4"/><path d="M2349 2718l17-113l-13 82l-17 113z" color="#19c0b2"/><path d="M2486 2448l18 67l-12-70l-19-67z" color="#fbd42f"/><path d="M2379 2542l17-101l-13 65l-17 101z" color="#dfbd31"/><path d="M2516 2616l18 83l-13-102l-17-84z" color="#7ecb5b"/><path d="M2409 2417l18-69l-14 27l-17 68z" color="#fbd42e"/><path d="M2547 2812l17 74l-13-114l-17-75z" color="#1da6e0"/><path d="M2439 2372l18-21l-13-23l-19 21zM2469 2420l18 28l-13-70l-18-28z" color="#fbd42e"/><path d="M2362 2653l17-113l-13 65l-17 113z" color="#66cc6f"/><path d="M2499 2549l18 67l-13-103l-18-67z" color="#dfbd31"/><path d="M2392 2516l17-101l-13 26l-17 101z" color="#fcc734"/><path d="M2530 2728l17 84l-13-115l-17-83z" color="#19c0b2"/><path d="M2422 2439l18-68l-14-23l-17 69zM2452 2441l18-21l-14-70l-17 21z" color="#fbd42e"/><path d="M2482 2521l18 28l-13-103l-18-28z" color="#fcc734"/><path d="M2375 2627l17-113l-13 26l-17 113z" color="#abc63b"/><path d="M2513 2662l17 66l-13-114l-18-67z" color="#66cc6f"/><path d="M2405 2538l18-101l-14-22l-17 101z" color="#fdcb33"/><path d="M2435 2507l18-67l-14-70l-18 68z" color="#fbd42e"/><path d="M2465 2542l18-21l-14-103l-17 21z" color="#fdcb33"/><path d="M2495 2634l18 28l-13-115l-18-28z" color="#abc63b"/><path d="M2388 2649l17-113l-13-22l-17 113z" color="#b7c433"/><path d="M2418 2606l18-100l-14-69l-18 101zM2448 2608l18-67l-14-102l-17 67z" color="#f2bd35"/><path d="M2478 2654l18-21l-13-114l-18 21z" color="#b7c433"/><path d="M2401 2717l18-112l-14-69l-18 113z" color="#87cb54"/><path d="M2431 2707l18-100l-14-102l-18 100z" color="#a3c740"/><path d="M2461 2721l18-67l-14-114l-17 66z" color="#87cb54"/><path d="M2414 2818l18-112l-14-102l-18 112zM2444 2820l18-100l-14-114l-18 100z" color="#33c69e"/><path d="M2427 2930l18-111l-14-114l-18 112z" color="#17acdb"/></g>
<path d="M324.9 288.7L242.7 316.7L180.2 280.5L180.2 201.8M242.7 316.7l-1.9 -1.1M283.8 302.7l-1.9 -1.1M324.9 288.7l-1.9 -1.1M242.7 316.7l2.1 -0.7M211.4 298.6l2.1 -0.7M180.2 280.5l2.1 -0.7M180.2 263.1l2.1 -0.7M180.2 240.2l2.1 -0.7M180.2 217.3l2.1 -0.7" fill="none" stroke="#262626" stroke-width="0.7"/>
<text transform="translate(246.8 327.5) scale(1.1 1)" class="t3" text-anchor="start" style="font-size:8.0px">-500</text>
<text transform="translate(287.9 313.5) scale(1.1 1)" class="t3" text-anchor="start" style="font-size:8.0px">0</text>
<text transform="translate(329 299.5) scale(1.1 1)" class="t3" text-anchor="start" style="font-size:8.0px">500</text>
<text transform="translate(236.5 326.9) scale(1.1 1)" class="t3" text-anchor="end" style="font-size:8.0px">-500</text>
<text transform="translate(205.2 308.8) scale(1.1 1)" class="t3" text-anchor="end" style="font-size:8.0px">0</text>
<text transform="translate(174 290.7) scale(1.1 1)" class="t3" text-anchor="end" style="font-size:8.0px">500</text>
<text transform="translate(175.2 266) scale(1.1 1)" class="t3" text-anchor="end" style="font-size:8.0px">-500</text>
<text transform="translate(175.2 243.1) scale(1.1 1)" class="t3" text-anchor="end" style="font-size:8.0px">0</text>
<text transform="translate(175.2 220.2) scale(1.1 1)" class="t3" text-anchor="end" style="font-size:8.0px">500</text>
<text x="251.6" y="172" class="ti3" text-anchor="middle" textLength="71" lengthAdjust="spacingAndGlyphs" style="font-size:9.5px">Objective space</text>
<text transform="translate(296.7 330.5) scale(1.1 1)" class="l3" text-anchor="middle" style="font-size:8.8px">x<tspan dy="2.2" style="font-size:6.2px">1</tspan></text>
<text transform="translate(190 327.8) scale(1.1 1)" class="l3" text-anchor="middle" style="font-size:8.8px">x<tspan dy="2.2" style="font-size:6.2px">2</tspan></text>
<text transform="translate(148.4 240) rotate(-90) scale(1 1.1)" class="l3" text-anchor="middle" style="font-size:8.8px" textLength="44" lengthAdjust="spacingAndGlyphs">F8( x<tspan dy="2.2" style="font-size:6.2px">1</tspan><tspan dy="-2.2"> , x</tspan><tspan dy="2.2" style="font-size:6.2px">2</tspan><tspan dy="-2.2"> )</tspan></text>
<path d="M243.2 460.8L180 433.3L180 373.7M283.9 450.4L220.7 422.9L220.7 363.3M324.5 440L261.3 412.5L261.3 352.9M243.2 460.8L324.5 440L324.5 380.4M211.6 447.1L292.9 426.2L292.9 366.6M180 433.3L261.3 412.5L261.3 352.9M180 420.1L261.3 399.3L324.5 426.8M180 402.8L261.3 382L324.5 409.5M180 385.4L261.3 364.6L324.5 392.1" fill="none" stroke="#e2e2e2" stroke-width="0.6"/>
<g fill="none" stroke-width="0.45" opacity="1"><path d="M260.5 416.8l-1.6-0.1l-0.6-0.5l1.8-0.5l1.3 0.4l-0.9 0.7" stroke="#43b"/><path d="M307.2 437.2l-1.9 0l-1 0l-1.4-0.4l-0.5-0.6l0.9-0.8l1.5-0.2l1.5 0l1.1 0.2l1.1 0.4l-0.1 0.9l-1 0.4M273.8 422.6l-0.8 0l-0.4-0.5l2.2 0l-1 0.5M260.7 417.9l-2.4-0.1l-1.9-0.4l-0.9-0.5l-0.2-0.7l0.4-0.5l1-0.5l1.5-0.3l2-0.1l2.4 0.3l1.2 0.4l0.5 0.6l-0.2 0.8l-0.5 0.4l-1.2 0.4l-1.7 0.2M201.6 432.4l-1 0l-1.7-0.3l-0.9-0.5l0.2-0.7l1.1-0.4l1.8-0.2l1.5 0.1l1.3 0.4l0.3 0.7l-1 0.7l-1.6 0.2M242.5 421.2l-0.8 0l-0.6-0.6l2.3 0.1l-0.9 0.5" stroke="#45e"/><path d="M257.3 457.2l0.5-0.4l1.2-0.4l1.6-0.2l0.7 0M314.7 442.5l0.8-0.8l0.8-0.3l1.5-0.4l2.1-0.2l1.5 0M307 438l-2.2 0l-0.7-0.1l-1.9-0.2l-0.8-0.3l-0.6-0.2l-0.5-0.5l-0.1-0.7l0.4-0.8l1-0.5l1.5-0.3l2 0l1.3 0l1.4 0.2l1.9 0.4l0.9 0.5l0.3 0.7l-0.2 0.6l-0.8 0.6l-1.2 0.4l-1.7 0.2M248 452.6l-1.4 0l-0.7 0l-1.3-0.2l-1.3-0.3l-0.7-0.6l0.3-0.8l1.4-0.7l1.7-0.2l2.4 0.1l1.7 0.4l0.8 0.5l-0.1 0.8l-1.2 0.7l-1.6 0.3M287.5 441.7l-0.7-0.1l-1.4-0.3l-0.4-0.6l0.8-0.7l1.6-0.2l1 0l1.7 0.3l0.7 0.5l-0.3 0.5l-1.1 0.5l-1.9 0.1M260.9 447.9l-0.8-0.2l1.3-0.5l0.6 0l-1.1 0.7M229.1 454.7l0.7 0.1l1.4 0.3l0.8 0.6M294.4 432.5l-2.2-0.3l-1-0.4l-0.4-0.7l0.7-0.8l1.6-0.2l1.6 0.1l1 0.1l0.8 0.1l1 0.5l0.2 0.7l-1.4 0.8l-1.9 0.1M236.5 446.6l-1 0.1l-1.1-0.4l0.6-0.3l1.7 0.5M288.9 429.2l-1.5-0.1l-1-0.5l-0.7-0.5l-0.7-0.6l-1-0.4l-2.4-0.1l-1.4-0.4l-0.4-0.4l0.5-0.7l1.6-0.3l0.7 0l1.7 0.3l0.6 0.6l-0.9 1l1.3 0.4l2.2 0.1l1.2 0.4l1.1 0.5l-0.9 0.7M274.5 423.8l-2.6-0.1l-1.6-0.4l-0.9-0.5l-0.2-0.7l1.2-1l1.5-0.2l2.1-0.1l2.1 0.3l1.2 0.4l0.6 0.6l-0.1 0.7l-0.3 0.5l-1.2 0.4l-1.8 0.1M215.2 438.3l-0.7 0l-1.8-0.3l-0.7-0.5l1.1-1l2-0.1l0.9 0.1l1.3 0.4l0.4 0.6l-0.9 0.6l-1.6 0.2M204.7 432.8l-1.5 0.3l-2 0.1l-0.7-0.1l-1.8-0.1l-1.8-0.4l-0.9-0.5l-0.3-0.6l0.2-0.6l0.8-0.6l1.2-0.4l1.6-0.3l2.1 0l1.3 0l1.3 0.2l1.9 0.5l0.4 0.5l0 0.8l-0.7 0.7l-0.9 0.4M262.1 418.5l-1.4 0l-0.7 0l-1.8-0.1l-0.7-0.1l-1.4-0.1l-1.4-0.4l-1-0.5l-0.3-0.6l0.2-0.8l0.8-0.8l0.7-0.3l1.8-0.5l1.9-0.1l1.4 0l0.8 0.1l1.5 0.1l1.6 0.3l1.3 0.4l0.6 0.6l0.2 0.6l-0.3 0.8l-0.9 0.8l-1.2 0.4l-1.7 0.2M243 422.3l-2.3 0l-2.2-0.3l-0.8-0.5l0.1-0.8l0.4-0.5l1-0.5l1.5-0.3l2 0l2.2 0.2l1.2 0.4l0.5 0.6l-0.4 0.8l-1.5 0.7l-1.7 0.2M214.9 428.8l-2-0.3l-0.8-0.5l0.3-0.8l1.7-0.6l0.9-0.1l1.1 0l1.6 0.1l1.3 0.4l0.2 0.6l-1 0.8l-1.3 0.4l-2 0M231 424.6l-2.4-0.1l-1.3 0.4l-1 0.4l-1.1 0.5l-1.3 0.4l-1.6-0.1l-0.6-0.6l1.6-0.5l1.5-0.3l2.3 0.1l1.5-0.3l-0.6-0.6l0.5-0.4l1-0.5l1.8-0.1l0.8 0l1.3 0.4l0 0.7l-0.7 0.4l-1.7 0.2M182.4 434.4l1.5 0.1l1.6 0.3l1.2 0.4l0.7 0.6l0.2 0.6" stroke="#37f"/><path d="M242.3 460.4l2.1 0.1M255.1 457.7l0.7-0.8l0.8-0.6l1.2-0.4l1.6-0.2l1.1 0l0.9-0.1l2.1 0M271.3 453.6l1.2-0.7l1.3-0.3l1.7-0.2l0.8-0.1M287.5 449.5l1.5-0.6l1.6-0.2M296.9 447.1l1.1-0.8l1.1-0.5l1.4-0.3l1.9-0.1l1.3-0.1M312.9 443l0.6-0.9l0.8-0.9l1-0.5l1.5-0.3l1.9-0.1l1.8 0l2.5 0.1M308.4 438.6l-1.2 0l-1 0l-1.6-0.1l-0.7 0l-1.6-0.1l-1.3-0.2l-1.8-0.5l-0.7-0.5l-0.1-0.7l0.1-0.8l0.2-0.7l0.2-0.8l-0.6-0.6l-1.6-0.1l-2.7-0.2l-2-0.3l-1.2-0.2l-1.6-0.5l-0.5-0.6l-0.3-0.7l-0.6-0.4l-0.5-0.2l-0.9-0.3l-1.5-0.3l-1.1-0.5l-0.9-0.5l-0.9-0.5l-1.1-0.4l-1.5-0.4l-1.3-0.4l-0.7-0.5l-0.3-0.7l-0.3-0.6l-1.1-0.5l-1.6-0.2l-2.2-0.2l-0.8-0.1l-1.1-0.2l-1.5-0.3l-0.9-0.5l-0.3-0.7l0-0.7l0.5-0.9l0.8-0.6l1.6-0.3l1.1 0l1 0l1.6 0.1l0.9 0l1.2 0.2l1.7 0.3l1 0.3l0.9 0.6l0.3 0.7l0.1 0.7l0.4 0.6l1.1 0.5l1.6 0.3l1.8 0.2l1.4 0.4l0.8 0.5l0.6 0.6l1.1 0.5l1.2 0.4l1.1 0.4l1.1 0.5l0.6 0.6l0.8 0.5l1.4 0.4l1.1 0.1l0.7 0.1l1.5 0.4l1 0.4l0.6 0.6l0.1 0.7l-0.2 0.8l0.3 0.6l1.4 0.4l1.9 0.1l2.6 0.2l2.1 0.2l0.7 0.1l1.1 0.2l1.4 0.4l0.8 0.5l0.4 0.5l0 0.8l-0.4 0.9l-0.8 0.6l-1.2 0.4l-1.7 0.2M247.5 453.3l-2.4-0.1l-2.4-0.3l-1.2-0.4l-0.7-0.5l-0.2-0.7l0.2-0.8l0.6-0.8l1.1-0.4l1.8-0.2l1.8 0l2.5 0.1l2.1 0.2l1.5 0.3l0.8 0.6l0.1 0.7l-0.4 0.8l-0.7 0.7l-1 0.4l-1.5 0.3l-2 0.1M289.3 442.5l-2.1 0l-0.9 0l-1.5-0.1l-0.9 0l-1.6-0.3l-0.1-0.7l0.3-0.8l0.6-0.8l1-0.5l1.5-0.3l2-0.1l1.1 0.1l1.5 0.1l2.1 0.4l0.8 0.5l0.1 0.7l-0.3 0.5l-0.4 0.4l-1.5 0.7l-1.7 0.2M261.4 449l-2.5-0.1l-1.9-0.4l-0.4-0.6l0.3-0.8l0.8-0.6l1.4-0.3l1.8-0.2l2.2 0l1.4-0.1l0.6-0.2l0.8-0.3l0.8-0.6l1.4-0.3l1.5-0.3l1.5-0.3l1.4-0.3l0.8-0.6l1.1-0.5l0.8-0.1l0.9-0.1l2.2 0.1l2.1 0.2l0.5 0.6l-0.6 0.8l-1.2 0.6l-1.6 0.2l-0.7 0.1l-1.1 0.1l-1.4 0.3l-1.1 0.4l-1.2 0.5l-1.4 0.3l-1.9 0.1l-1.7 0.2l-0.9 0.6l-0.6 0.6l-0.9 0.6l-1.4 0.3l-1.8 0.1M227.3 453.9l2.2 0.2l0.8 0.2l1 0.1l1.4 0.4l0.8 0.5l0.3 0.5l0.1 0.8M237.3 447.9l-2.3 0l-0.7-0.1l-1.7-0.3l-1.1-0.5l-0.4-0.6l-0.1-0.7l-0.5-0.6l-1.4-0.3l-1.8-0.3l-0.9-0.4l-1-0.6l-0.9-0.5l-1-0.5l-1.1-0.1l-0.6-0.1l-1.4-0.4l-0.6-0.6l0.1-0.7l0.8-0.8l2.2 0l2.1 0.2l0.8 0.1l0.8 0.2l0.5 0.4l0.5 0.8l1.1 0.4l1.3 0.5l1.2 0.4l1.1 0.4l0.3 0.6l0.5 0.4l0.5 0.3l1.3 0.2l1.9 0.2l1.9 0.3l1 0.5l0.4 0.6l-0.4 0.8l-0.8 0.6l-1.6 0.2M278.5 436.8l-1.8 0.2l-2-0.3l-1.1-0.4l-0.2-0.7l0.7-0.7l1.6-0.2l1.1 0l1.6 0.2l1.4 0.5l0 0.8l-1.3 0.6M250.3 443.3l-1-0.1l-1.1-0.4l1.4-0.7l1.2 0l1 0.5l-1.5 0.7M217.5 449.6l0.7 0.1l1.5 0.4l1 0.4l0.6 0.6M270.9 433.6l-0.7-0.1l-1-0.5l-0.7-0.5l2 0.2l1.3 0.4l-0.9 0.5M266.1 431.4l-1.7 0l-0.9-0.2l-0.8-0.1l-0.1-0.7l1.9-0.6l1.9 0.3l0.6 0.6l-0.9 0.7M206.3 444.7l1.4 0.4l0.9 0.5M217.5 439.3l-0.9-0.1l-1.6 0l-0.8-0.1l-2-0.2l-1.5-0.4l-0.9-0.5l-0.2-0.6l0.4-0.8l0.3-0.4l1.2-0.4l1.7-0.2l2.2 0l1 0l1.7 0.3l1.5 0.4l0.5 0.6l0.1 0.7l-0.3 0.8l-0.7 0.7l-1.7 0.2M256.7 428.3l-2.4-0.1l-1.9-0.3l-0.8-0.6l0.1-0.7l1.2-0.9l1.5-0.3l2 0l2 0.2l1.3 0.4l0.5 0.6l-0.3 0.8l-1.4 0.8l-1.8 0.1M230.5 434.7l-2 0l-1.7-0.3l-0.8-0.5l0.4-0.8l1.5-0.5l2.1 0l1 0l1.4 0.4l0.2 0.7l-0.7 0.7l-1.4 0.3M246.2 430.3l-0.8 0.1l-1 0l-1.7-0.1l-0.5-0.5l1.2-0.7l1.9-0.2l1.5 0.4l-0.2 0.8M237.3 432l-0.8 0l-0.5-0.5l1.5-0.3l2.1 0l-1.1 0.4l-1.2 0.4M196.2 440.3l1.2 0.2l1.7 0.3l1.2 0.4l0.7 0.6l0.3 0.6M204.6 433.7l-2 0.1l-1.6-0.1l-0.7 0l-1.6-0.1l-1-0.1l-1.1-0.1l-1.5-0.3l-0.9-0.5l-0.3-0.7l0.2-0.7l0.6-0.9l0.8-0.6l1.2-0.4l1.6-0.2l1.2-0.1l0.8 0l2.1 0l2.3 0.1l2.3 0l1.6-0.2l0.8-0.6l0.4-0.8l0.4-0.5l1.2-0.6l1.3-0.4l1.7-0.2l0.8 0l1.1-0.1l1.7-0.2l1.1-0.5l1-0.5l1.4-0.3l1.4-0.3l1.5-0.3l1.4-0.3l0.7-0.4l1.4-0.6l1.6-0.2l2-0.1l1.8-0.2l1.3-0.3l0.9-0.6l0.4-0.4l1-0.8l1-0.5l1.5-0.3l1.9-0.1l1.2 0l1 0l1.6 0l0.9 0.1l1.1 0.1l1.3 0.4l0.4 0.7l-0.1 0.7l-0.6 0.9l-0.8 0.6l-1.2 0.4l-1.7 0.2l-1.3 0.1l-0.7 0l-2.1 0l-2 0.1l-1.4 0.3l-0.7 0.6l-0.8 0.6l-1.1 0.5l-1.6 0.3l-1.7 0.1l-1.3 0.4l-1.3 0.4l-1.2 0.4l-1.4 0.3l-1.7 0.2l-1.1 0.2l-0.7 0.2l-0.8 0.3l-0.8 0.6l-0.6 0.4l-1.7 0.5l-1.8 0.1l-2.1 0.1l-2.3-0.1l-2.2 0l-1 0.5l-0.4 0.8l-0.3 0.8l-0.5 0.7l-0.6 0.6l-1.1 0.5l-1.5 0.3M267.3 415.1l0.4 0.8l0 0.8l-0.3 0.8l-0.8 0.9l-1.2 0.6l-1.1 0l-0.8 0.1l-2.2 0l-2.3-0.1l-2.5-0.2l-2.2-0.1l-0.7-0.2l-1-0.1l-0.8-0.5l-0.2-0.7l0.2-0.8l0.5-0.9l1-0.9M181.2 433.8l2.1 0.1l2.1 0.2l1.2 0.2l1.8 0.5l0.4 0.5l0.3 0.8l0 0.7M256.2 413.8l1.4-0.1l1.8 0l2.5 0.1l2.1 0.2l1.3 0.2" stroke="#2ad"/><path d="M253.4 458.2l0.5-0.9l0.7-0.9l0.7-0.7l1.1-0.4l1.7-0.2l1.7 0l2.5 0l2.1-0.1l1.8-0.1M268.1 454.4l0.7-0.3l0.8-0.5l0.4-0.4l1.3-0.8l1.3-0.3l1.8-0.2l1.2-0.1l2.2-0.3l1.2-0.4l0.7-0.4l1.7-0.4l1.1-0.3l1.7-0.4l1.4-0.3l1.1-0.5l1.2-0.4l1.5-0.2l1.9-0.2l1.7-0.2l1.3-0.3l1-0.6l0.7-0.6l0.8-0.6l0.6-0.2l0.4-0.3l1.5-0.2l1.9-0.2l1.6 0l2.6 0M311 443.5l0.6-0.7l0.4-0.8l0.3-0.7l0.3-0.9l0.5-0.4l-0.6-0.6l-2.5-0.1l-2.4-0.1l-2.4-0.1l-2.4-0.1l-2.4-0.1l-2.4-0.1l-2.4-0.1l0.3 0.6l-0.5 0.9l-0.5 0.8l-0.6 0.9l-0.7 0.6l-1.3 0.4l-1.7 0.2l-0.9 0l-1.1 0l-2 0.1l-1.9 0.1l-1.3 0.3l-0.9 0.6l-0.9 0.6l-1.1 0.4l-1.5 0.3l-1.7 0.2l-1.3 0.3l-1.3 0.4l-1.3 0.4l-1.3 0.4l-1.7 0.2l-0.8 0.1l-0.8 0.1l-1 0.5l-0.9 0.6l-0.8 0.4l-1.5 0.4l-1.8 0.2l-1.9 0l-2.2 0l-1.3 0.2l-1.3 0.3l-1.1 0.8l-0.5 0.7l-0.3 0.5l-0.8 0.9l-0.9 0.5l-1.6 0.3l-2 0l-1.3 0l-1-0.1l-1.5 0l-1-0.1l-1.3-0.1l-1.5-0.2l-1.8-0.4l-0.5-0.6l-0.1-0.7l0-0.7l0.1-0.8l-0.2-0.6l-0.8-0.6l-1.6-0.3l-2-0.2l-2-0.2l-1.4-0.3l-1.2-0.5l-0.6-0.6l-0.4-0.6l-0.4-0.4l-0.9-0.4l-0.7-0.2l-1.5-0.3l-1-0.5l-0.9-0.5l-1-0.4l-1-0.5l-1.5-0.4l-1.3-0.4l-0.7-0.5l-0.4-0.6l-0.4-0.6l-1.1-0.5l-1.6-0.3l-2-0.2l-1.1-0.2l-0.8-0.1l-1.5-0.3l-0.9-0.5l-0.3-0.6l0-0.8l0.2-0.8l0.3-0.8l0.6-0.9l-2.4-0.1l-2.4-0.1l-2.4-0.1l-2.4-0.1l-2.4-0.1l-2.5-0.1l-2.4-0.1l-1 0.5l-0.1 0.8l-0.3 0.9l-0.1 0.8l0 1M241.1 459.9l2.4 0.1l2.4 0.1M314 435.4l0.1 0.7l-0.2 0.8l-0.2 0.8l-0.4 0.8l-0.8 0.9l2.4 0.2l2.4 0.1l2.4 0.1l2.4 0.1l2.4 0.1M293.2 438.5l2.4 0.2l0.8-0.6l0.1-0.9l0.2-0.9l0-0.8l-0.3-0.7l-0.9-0.5l-1.5-0.3l-0.8-0.1l-1.1-0.2l-1.9-0.2l-1.7-0.3l-1.1-0.5l-0.4-0.6l-0.4-0.6l-0.7-0.5l-1.3-0.4l-1.5-0.4l-1-0.5l-1-0.4l-0.9-0.5l-1-0.5l-1.5-0.3l-0.7-0.2l-0.6-0.2l-0.7-0.6l-0.4-0.6l-0.5-0.5l-1.1-0.6l-1.6-0.3l-1.9-0.2l-2.1-0.2l-1.1-0.3l-1.1-0.4l-0.4-0.8l0.1-0.8l0-0.7l-0.1-0.7l-0.5-0.6l-1.4-0.4l-1.9-0.2l-1.3-0.1l-1-0.1l-1.5 0l-1-0.1l-1.3 0l-1.5 0l-2.1 0.3l-0.9 0.5l-0.7 0.7l-0.4 0.7l-0.4 0.4l-0.8 1l-1.2 0.4l-1.8 0.2l-2.1 0l-2 0l-1.7 0.2l-1.5 0.3l-0.9 0.5l-0.9 0.6l-0.7 0.3l-1.1 0.3l-0.8 0.1l-1.7 0.2l-1.3 0.4l-1.3 0.4l-1.3 0.4l-1.3 0.3l-1.7 0.2l-1.5 0.3l-1.1 0.4l-0.8 0.6l-1 0.6l-1.3 0.3l-1.8 0.1l-2.1 0.1l-1.1 0l-0.9 0l-1.7 0.2l-1.3 0.4l-0.6 0.6l-0.7 0.8l-0.3 0.7l-0.3 0.8l-0.1 0.9l2.4 0.2l2.4 0.1l2.4 0.1l2.4 0.1l2.4 0.1l2.5 0.1l-0.6-0.6l0.5-0.4l0.3-0.8l0.4-0.5l0.9-0.8l1.3-0.3l1.9-0.1l0.7-0.1l1.3 0l1.7-0.2l1.1-0.5l0.9-0.5l1.4-0.3l1.5-0.3l1.4-0.3l1.4-0.4l0.8-0.4l1.3-0.5l1.6-0.2l2.1-0.1l1.3-0.1l1.9-0.4l0.8-0.6l0.3-0.5l0.7-0.9l0.9-0.5l1.5-0.3l2.1 0l1.4 0l1 0.1l1.4 0l1.3 0.2l0.7 0.1l1.3 0.3l0.4 0.6l0.1 0.8l-0.1 0.7l0.2 0.5l1.1 0.7l1.8 0.2l1.9 0.3l1.5 0.3l0.7 0.5l0.5 0.7l1.1 0.4l1.2 0.4l1.2 0.4l1.1 0.5l0.5 0.6l0.7 0.5l1.5 0.4l1.2 0.1l0.7 0.1l1.7 0.3l1 0.5l0.4 0.6l-0.1 0.8l-0.3 0.8l-0.7 0.9l2.4 0.1l2.4 0.1l2.4 0.1l2.4 0.1l2.4 0.1M251.1 448.6l2.2-0.3l0.8-0.5l0.6-0.7l0.5-0.7l0.6-0.5l1.5-0.5l1.9-0.1l2.1 0l1.6-0.3l1.2-0.4l0.9-0.5l1.4-0.4l1.4-0.3l1.5-0.3l1.4-0.3l0.9-0.5l1.1-0.5l1.7-0.2l1.3 0l0.7-0.1l1.9-0.1l1.3-0.3l0.8-0.6l0.5-0.7l0.3-0.8l0.5-0.4l-0.5-0.6l-2.5-0.1l-2.4-0.1l-2.4-0.1l-2.4-0.2l-2.4-0.1l1.3-0.3l0.2-0.8l0-0.7l-0.4-0.5l-1.5-0.5l-1.7-0.3l-1.1-0.4l-0.8-0.5l-0.9-0.5l-1-0.5l-1.8-0.3l-0.6-0.1l-0.9-0.2l-0.4-0.6l0-0.8l-0.2-0.6l-1.1-0.5l-1.7-0.2l-2.5-0.1l-2.1 0l-1.3 0.4l-0.7 0.6l-0.6 0.7l-0.5 0.3l-1.4 0.3l-0.7 0.1l-1.9 0.2l-1.3 0.3l-1.2 0.4l-1.2 0.4l-1.4 0.4l-1.8 0.1l-1.2 0.2l-0.7 0.1l-0.7 0.4l-0.5 0.7l-0.4 0.8l1 0.5l-2.4-0.1l-2.4-0.2l-2.4-0.1l-2.4-0.1l-2.4-0.1l-1 0.5l-0.1 0.9l-0.1 0.9l0.4 0.8l1 0.5l1.7 0.3l0.7 0.1l1.2 0.1l1.5 0.4l0.7 0.5l0.5 0.6l1.1 0.5l1.2 0.4l1.2 0.4l1.1 0.4l0.4 0.5l0.8 0.7l1.5 0.3l1.9 0.3l1.3 0.2l1.6 0.5l0.2 0.7l-0.1 0.7l0.1 0.7l0.4 0.7l1.3 0.3l0.7 0.1l1.3 0.2l1.4 0l1 0.1l1.4 0l1.4 0M225.3 453l1.7 0.3l1.6 0.2l2.4 0.2l2 0.3l1.5 0.3l0.8 0.5l0.2 0.7l-0.1 0.7l-0.1 0.8M252.6 444.3l-1.8 0l-2.5-0.1l-2-0.2l-1.1-0.5l-0.1-0.6l-0.1-0.8l-0.4-0.6l-0.9-0.2l-0.6-0.1l-1.8-0.3l-1-0.5l-0.9-0.5l-0.8-0.5l-1.1-0.4l-1.7-0.3l-1-0.3l-0.9-0.7l0-0.7l0.2-0.8l1.3-0.3l2.4 0.1l2.4 0.1l2.4 0.1l0.1 0.7l0 0.7l1.1 0.5l1.3 0.4l1.2 0.4l1.1 0.4l0.2 0.7l0.4 0.4l0.6 0.3l1.3 0.2l1.5 0.1l1.4-0.1l0.8-0.2l0.7-0.4l0.6-0.6l1.4-0.3l1.5-0.3l1.6-0.3l1.4-0.3l0.5-0.5l0.6-0.9l2.4 0.1l2.4 0.1l2.4 0.1l1 0.5l-0.4 0.7l-0.5 0.8l-0.7 0.4l-0.7 0.1l-1.2 0.2l-1.8 0.1l-1.4 0.4l-1.2 0.4l-1.2 0.4l-1.3 0.3l-1.9 0.2l-0.7 0.1l-1.1 0l-0.8 0.6l-0.6 0.7l-0.7 0.6l-1.3 0.4M259.5 437l-2.4-0.1l-1.3 0.3l-1.1 0.5l-1.1 0.5l-1.3 0.3l-1.5 0l-1-0.5l-0.7-0.5l-0.7-0.6l-1-0.5l-2.4-0.1l-2.4-0.1l0.6-0.7l0.5-0.7l1.4-0.3l1.6-0.3l1.5-0.3l1.4-0.3l0.6-0.6l0.7-0.4l0.8-0.2l1.4-0.1l1.5 0.1l1.3 0.2l0.6 0.3l0.4 0.4l0.2 0.7l1.1 0.4l1.2 0.4l1.3 0.4l1.1 0.5l0 0.7l0.1 0.7l-2.4-0.1M254.7 436.8l2.4 0.1l-1-0.5l-0.7-0.6l-0.7-0.5l-1-0.5l-1.5 0l-1.3 0.3l-1.1 0.5l-1.1 0.5l-1.3 0.3l2.4 0.1l2.5 0.1l2.4 0.2M280.7 420.9l0.4 0.4l0.3 0.6l0.3 0.7l0.6 0.6l1 0.4l1.5 0.3l1.1 0.2l1.9 0.5l0.9 0.5l0.5 0.5l1.2 0.6l0.9 0.3l1.4 0.5l1.1 0.5l0.7 0.5l0.8 0.6l1.3 0.3l1.7 0.3l1.5 0.4l1 0.4l0.6 0.6l0.3 0.7l0.3 0.6l0.6 0.6l1.2 0.4l1.8 0.3l1.5 0.2l2.5 0.2M194.5 439.6l2.4 0.3l2 0.2l1.7 0.3l1.3 0.4l0.6 0.6l0.3 0.6l0.3 0.7l0.6 0.6l1 0.4l1.5 0.4l1.2 0.2l1.8 0.4l0.8 0.6l0.5 0.3l1.3 0.7l1.1 0.4l1.2 0.4l1.1 0.5l0.6 0.6l0.9 0.5l1.3 0.3l1.7 0.4l1.5 0.3l1 0.4l0.6 0.6l0.3 0.7l0.3 0.6l0.4 0.4M269.2 415.9l-0.1 0.9l0 0.9l0.1 0.8l0.8 0.5l1.5 0.3l1.6 0.2l2.5 0.3l1.9 0.2l1.7 0.3M180 433.3l2.4 0.1l2.4 0.1l2.4 0.1l2.4 0.1l2.4 0.2l-0.6-0.6l0.5-0.4l0.3-0.9l0.3-0.7l0.3-0.5l0.7-1M198.6 428.5l2.6 0l2.1 0l1.8-0.2l1.6-0.2l0.4-0.3l0.6-0.2l0.8-0.6l0.7-0.6l1-0.6l1.3-0.3l1.7-0.2l1.4-0.1l2-0.3l1.2-0.4l0.7-0.3l1.8-0.5l1.4-0.3l1.4-0.4l1.4-0.3l1-0.5l1.2-0.4l1.6-0.2l1.8-0.2l1.8-0.2l1.3-0.3l1-0.5l0.7-0.7l0.8-0.5l0.7-0.3M238.3 418.4l1.8-0.1l1.7-0.1l2.5 0l2.1 0l1.7-0.2l1.1-0.4l0.7-0.7l0.5-0.7l0.5-0.7M258.6 413.2l2.4 0.1l2.4 0.1" stroke="#1bb"/><path d="M250.9 458.8l1.1-0.7l0.4-0.8l0.3-0.8l0-0.9l-0.8-0.7l-1-0.1l-0.7-0.2l-2.1-0.1l-2.3-0.2l-2.5-0.1l-2.3 0l-0.8 0.1l-1.1 0l-1.2 0.5l-0.6 0.6l-0.4 0.8l-0.1 0.9l0.2 0.9M266.3 454.2l1.3-0.6l0.8-0.6l0.6-0.6l0.9-0.6l1.3-0.3l1.8-0.2l1.9-0.1l1.7-0.2l1.2-0.4l0.9-0.6l1.4-0.3l1.5-0.3l1.4-0.3l1.4-0.3l1-0.5l1.1-0.5l1.7-0.2l1.1-0.1l0.8 0l1.7-0.2l1.3-0.4l1-0.5l0.6-0.6l0.4-0.5l0.8-0.9l1.6-0.2l1.9 0l2.6 0.1l2.2 0l0.8 0l1.2-0.1l1.6-0.2l1.2-0.4l0.7-0.5l0.7-0.8l0.2-0.9l-0.3-0.7l-0.9-0.5l-1.5-0.3l-1.1-0.1l-1-0.1l-1.6-0.1l-0.7 0l-1.6-0.1l-1.4 0.1l-2.1 0.3l-1 0.5l-0.7 0.6l-0.5 0.7l-0.3 0.5l-0.5 0.9l-0.9 0.7l-1.7-0.1l-2.8 0l-2.1 0.1l-1.2 0l-1.9 0.4l-1 0.6l-0.8 0.6l-0.8 0.3l-0.7 0.2l-1.1 0.2l-1.7 0.2l-1.4 0.3l-1.2 0.4l-1.3 0.4l-1.3 0.4l-1.7 0.1l-1.6 0.3l-1.1 0.5l-0.8 0.6l-0.7 0.6l-1.4 0.3l-1.7 0.1l-2.4 0l-0.7 0l-1.3 0.1l-1.7 0.2l-1.2 0.4l-0.8 0.6l-0.5 0.7l-0.1 0.9l0.3 0.7l1.3 0.4l1.1 0.1l0.9 0.1l1.6 0l1 0l1.2 0l1.9-0.1l1.2-0.2M239.2 459.1l1.3 0.2l1.8 0.2l2.4 0.1l2.2 0l1.4-0.1M315.5 436.1l-0.1 0.9l0.2 0.9l0.5 0.6l1.3 0.4l1.7 0.3l1.7 0.1l2.5 0.2M233.2 453.2l1.1 0l1.6-0.3l0.8-0.6l0.4-0.7l0.1-0.9l-0.3-0.7l-0.9-0.5l-1.5-0.3l-1.1-0.2l-0.8-0.1l-2-0.2l-1.8-0.2l-1.1-0.5l-0.3-0.6l-0.3-0.7l-0.7-0.5l-1.3-0.4l-1.5-0.4l-1.1-0.4l-0.9-0.5l-0.9-0.5l-1.1-0.5l-1.5-0.3l-0.9-0.3l-0.5-0.2l-0.6-0.4l-0.3-0.7l-0.5-0.6l-1.1-0.4l-1.7-0.3l-1.9-0.3l-2.3-0.1l-2.1-0.2l-0.6-0.6l0.2-0.8l0.2-0.7l0.1-0.8l-0.1-0.6l-0.7-0.6l-1.3-0.4l-1.8-0.3l-1.6-0.1l-0.7 0l-1.6-0.1l-1 0l-1.2 0l-1.7 0.2l-1.2 0.4l-0.8 0.6l-0.4 0.8l0 0.8l0.4 0.6l0.8 0.5l1.4 0.4l1.1 0.2l0.7 0.1l2.1 0.2l2.2 0.1l2.3 0.2l1.4 0.4l0.3 0.6l-0.2 0.8l0.1 0.7l0.6 0.6l1 0.4l1.5 0.4l0.7 0.1l1.1 0.1l1.4 0.4l0.8 0.5l0.6 0.6l1.1 0.5l1.1 0.4l1.2 0.4l1.1 0.5l0.4 0.4l1 0.7l1.4 0.4l1.8 0.2l1.6 0.3l1.1 0.5l0.4 0.6l0.1 0.7l0.3 0.7l0.6 0.5l1.3 0.4l1.7 0.3l1.2 0.2l0.9 0l1.6 0.1l1 0M290.7 437.7l2.3-0.2l1.2-0.4l0.3-0.4l0.4-0.8l-0.2-0.6l-0.9-0.5l-1.5-0.4l-2-0.2l-0.8-0.1l-1.6 0l-0.9-0.1l-1.7 0.2l-0.7 0.6l-0.3 0.8l0.1 0.8l0.5 0.6l1.3 0.4l1.9 0.3l1 0l1.6 0M248.1 447.9l2 0l1.5-0.3l0.9-0.5l0.4-0.8l-0.8-0.9l-1.7-0.3l-2.4-0.1l-2 0.1l-1.2 0.5l-0.5 0.7l0.5 1l1.3 0.4l1.9 0.2M276.2 440.7l1.7-0.4l0.6-0.7l-0.8-0.7l-1.6-0.3l-2.1 0l-1.4 0.3l-0.7 0.7l0.2 0.7l1.4 0.4l1 0l1.7 0M259.1 444.4l2-0.2l1-0.5l-0.3-0.7l-1.7-0.1l-1 0l-0.8 0.1l-0.7 0.7l1.5 0.7M264.9 442.1l2.1 0l1.5-0.3l-0.5-0.5l-0.8 0l-1.2 0.4l-1.1 0.4M303.1 430.7l0.4 0.8l0.7 0.6l1.2 0.4l1.7 0.3l1.2 0.2M281.6 433.5l2.2 0l0.9-0.5l0.1-0.9l-0.7-0.7l-1.4-0.4l-0.6-0.1l-1.1-0.1l-1-0.5l-0.9-0.5l-0.8-0.5l-1-0.5l-1.9-0.3l-1.4-0.3l-0.5-0.6l-0.1-0.7l-0.4-0.6l-1.1-0.5l-1.7-0.3l-0.7-0.1l-1.7 0l-2.2 0.2l-0.8 0.6l-0.4 0.8l0.4 0.6l1 0.5l1.7 0.3l2.1 0.2l1.3 0.2l0.5 0.3l0.5 0.4l0.3 0.6l1.1 0.4l1.2 0.4l1.3 0.5l1.1 0.4l0.3 0.6l0.7 0.6l0.8 0.2l0.8 0.1l2.1 0.2M239.8 443.5l1.8-0.3l0.4-0.7l-1-0.4l-0.9-0.2l-1.7 0l-0.9 0.5l0.6 0.8l1.7 0.3M295.7 427.5l1.1 0.7l1.3 0.4M234 440.6l2 0.2l-0.7-0.5l-1-0.5l-0.7-0.1l-0.9 0.5l1.3 0.4M227.7 438.6l1.1 0l1.6-0.2l0.7-0.7l-0.2-0.7l-1.1-0.4l-1.9-0.3l-1.9 0.2l-1.1 0.4l-0.2 0.9l1.1 0.5l1.9 0.3M253.7 431.2l1.2 0l1.3-0.3l-1-0.8l-1-0.1l-1.3 0.4l0.8 0.8M283.1 422l0.7 0.8l1 0.4l1.5 0.4l0.7 0.1M261.8 424l1.3-0.4l0.6-0.7l0.2-0.8l-0.2-0.8l-0.7-0.5l-1.2-0.4l-1.9-0.3l-2.3-0.1l-2.6 0.1l-1.5 0.3l-1 0.4l-0.7 0.7l-0.4 0.7l0.1 0.8l0.7 0.5l1.6 0.4l1.7 0.1l2.5 0.2l2.2 0l1.6-0.2M218.7 434.3l1.7-0.3l0.5-0.2l1-1l0.3-0.8l0-0.8l-1.6-0.3l-0.9 0l-1.5-0.1l-0.9 0l-2.1 0l-1.7 0.2l-1.2 0.4l-0.7 0.7l-0.3 0.5l0.1 0.7l0.8 0.5l1.5 0.3l2.1 0.2l1.1 0.1l1.8-0.1M229.3 430.9l0.8-0.1l0.8-0.3l1.1-0.8l1.4-0.3l1.5-0.3l1.5-0.3l1.4-0.3l0.8-0.6l0.8-0.3l0.6-0.2l1.4-0.1l2 0l2-0.2l1.4-0.3l0.8-0.6l0.3-0.8l-0.4-0.6l-1.4-0.4l-2.3-0.1l-2.5 0.1l-1.4 0.3l-0.9 0.6l-0.6 0.6l-0.9 0.6l-1.7 0.2l-1.8 0.1l-1.2 0.3l-1.5 0.5l-1.1 0.4l-1.4 0.3l-1.1 0.1l-0.7 0.1l-1.6 0.2l-1.1 0.5l-0.4 0.7l0.2 0.8l2.1 0.2l2.2 0.1l0.9-0.1M270.6 416.5l0 0.9l0.4 0.6l0.8 0.5l1.4 0.4l1 0.1l0.8 0.2l2.1 0.2M181.5 432.9l2.1 0.1l2.2 0l1.4-0.1l2-0.3l0.7-0.4l1-0.7l0.4-0.8M200.8 428l1.3-0.1l1.9-0.1l1.4-0.3l1.1-0.5l0.8-0.5M213.8 424.7l1.7-0.3l1.2-0.4M228.2 421l0.8-0.1l1.7-0.2l1.3-0.3l1-0.6M240.9 417.7l2.2 0l0.9-0.1l1.1 0l1.6-0.2l1.2-0.4l0.6-0.5l0.8-0.8M260.1 412.8l2.1 0.1" stroke="#5c7"/><path d="M247.5 459l1.5-0.3l1.1-0.5l0.7-0.7l0.3-0.8l-0.3-0.7l-1-0.5l-1.4-0.4l-1.4-0.1l-0.7-0.1l-1.8-0.1l-0.7 0l-1.4 0l-1.7 0.2l-1.2 0.4l-0.8 0.6l-0.4 0.8l0.2 0.8l0.4 0.4l1.4 0.6l1.7 0.3l1.5 0.1l0.8 0.1l1.4 0l1.8-0.1M304.3 443.7l2.3-0.3l1.2-0.4l0.5-0.3l0.5-0.9l-0.3-0.6l-0.9-0.5l-1.5-0.4l-2.1-0.1l-0.7-0.1l-2 0.1l-1.1 0.2l-0.6 0.2l-0.9 0.4l-0.6 0.6l-0.2 0.8l0.5 0.6l1.3 0.4l1.9 0.3l1.3 0l1.4 0M261.6 453.9l2.2 0l1.5-0.3l1-0.5l0.4-0.5l0.1-0.8l-0.8-0.5l-1.7-0.3l-2.6 0l-1.9 0.2l-1.2 0.4l-0.6 0.6l0.4 1.1l1.2 0.4l2 0.2M289.5 446.8l0.9-0.1l1.4-0.4l0.6-0.6l-0.8-0.9l-1.7-0.3l-2.3 0l-1.3 0.4l-0.8 0.6l0 0.8l1.3 0.4l1.6 0.1l1.1 0M272.4 450.4l0.8 0l1.8-0.1l1-0.5l0.5-0.4l-0.6-0.6l1.5-0.3l2.2 0.1l1.6-0.3l1.3-0.3l-0.3-0.8l-1.6-0.1l-1.3 0.4l-1.1 0.5l-1 0.4l-1.3 0.4l-2.4-0.1l-1.7 0.2l-0.7 0.4l0 0.7l1.3 0.4M316.9 436.7l0.2 0.8l0.5 0.4l1.1 0.5l1.9 0.4l1.5 0.1M230.3 452.5l2.3-0.1l1.5-0.2l0.9-0.6l0.2-0.8l-1-0.8l-1.5-0.4l-2.2-0.1l-2.3 0.1l-1.2 0.4l-0.3 0.5l-0.1 0.7l0.6 0.6l1.2 0.4l1.9 0.3M288.5 436.8l0.9 0.1l2-0.1l1-0.5l-0.6-1l-1.8-0.3l-0.7 0l-1.6 0.2l-0.9 0.6l0.4 0.6l1.3 0.4M221.9 448.1l0.7 0l1.6-0.3l0.5-0.5l-0.4-0.6l-1.4-0.4l-2.4-0.1l-1-0.4l-0.7-0.6l-0.7-0.5l-1-0.5l-1.5-0.1l-1 0.5l1.2 0.7l1.2 0.4l2.2 0.1l1.3 0.4l-1 0.5l0.7 1.1l1.7 0.3M209.8 443.1l1.6 0.1l1.6-0.2l0.7-0.7l-0.4-0.8l-1-0.4l-1.9-0.3l-2.2 0.1l-1.1 0.4l-0.3 0.8l1.2 0.8l0.8 0.1l1 0.1M268.8 427.3l1.3-0.3l-1.1-0.4l-1 0.1l0.8 0.6M200.8 438.9l2.1-0.3l0.8-0.4l0.6-0.9l-0.1-0.7l-0.5-0.5l-0.6-0.2l-0.8-0.3l-1.9-0.2l-0.7-0.1l-1.9 0l-2 0.2l-1.2 0.4l-0.5 0.3l-0.5 0.9l0.3 0.7l0.9 0.5l1.4 0.3l1.9 0.3l1.3 0l1.4 0M258.3 423.5l1.9-0.2l1.2-0.5l0.5-0.7l-0.7-0.9l-1.3-0.3l-1.3-0.2l-0.7 0l-1.4 0l-1.6 0.3l-1 0.5l-0.3 0.7l0.8 0.8l1.5 0.3l2.4 0.2M216.1 433.5l1 0l1.6-0.2l0.8-0.6l-0.4-0.7l-1.4-0.3l-0.7-0.1l-1.9 0.1l-1.1 0.5l-0.3 0.5l0.7 0.5l1.7 0.3M242.5 426.1l0.6 0l1.3-0.3l-0.8-0.4l-1.4 0.3M272.2 417.3l1.1 0.9l1.4 0.3l0.7 0.1M183.1 432.5l1.5 0l1.9-0.1l1.4-0.3l1.1-0.5l0.7-0.6M243.2 417.1l0.7 0l1.6-0.2l1.2-0.4l0.5-0.4" stroke="#bb3"/><path d="M243.8 458.5l2.5-0.1l1.5-0.3l1-0.5l0.4-0.5l-0.2-0.7l-0.9-0.5l-1.5-0.3l-2.4-0.2l-2.1 0.2l-1.2 0.4l-0.5 0.4l-0.2 0.8l0.5 0.6l1.2 0.4l1.9 0.3M304.6 442.9l1.3-0.3l0.6-0.9l-0.6-0.5l-2-0.3l-1 0l-1.6 0.2l-0.9 0.6l0.2 0.8l1.3 0.4l1.5 0.1l1.2-0.1M261.1 452.6l2.3 0.1l-0.6-0.6l-0.8 0l-0.9 0.5M229.7 451.2l2.2 0l-0.4-0.5l-0.8 0l-1 0.5M198.2 438.1l1.5 0l1.5-0.2l0.8-0.6l-0.4-0.8l-1.4-0.4l-1 0l-1.8 0l-1.3 0.5l-0.3 0.7l0.8 0.5l1.6 0.3" stroke="#fc3"/><path d="M244.4 457.6l1.6-0.3l-0.4-0.7l-1.6-0.1l-1 0.5l1.4 0.6" stroke="#fe2"/></g>
<g transform="scale(.1)" fill="currentColor" stroke="currentColor" stroke-width="5" stroke-linejoin="bevel"><path d="M2609 3864l18-84l-14-87l-18 85z" color="#46c98b"/><path d="M2622 3941l18-85l-14-77l-18 85z" color="#10b4d1"/><path d="M2507 3870l18 63l-13-87l-18-63z" color="#0cbcbf"/><path d="M2491 3813l17 57l-13-87l-18-57z" color="#53cc7e"/><path d="M2474 3782l17 31l-13-87l-18-31z" color="#a5c73f"/><path d="M2504 3890l17 56l-13-78l-18-57z" color="#0eb8c8"/><path d="M2457 3787l17-5l-13-87l-18 5z" color="#c2c22c"/><path d="M2701 3823l18-86l-14 55l-17 86z" color="#53cc7e"/><path d="M2487 3859l17 31l-13-79l-18-31z" color="#34c69d"/><path d="M2440 3827l17-40l-13-87l-18 40z" color="#a4c740"/><path d="M2470 3864l17-5l-13-79l-18 5z" color="#48ca89"/><path d="M2714 3793l18-85l-14 29l-17 86z" color="#a5c73f"/><path d="M2500 3910l17 31l-13-53l-17-31z" color="#10b4d0"/><path d="M2423 3886l18-59l-14-87l-18 59z" color="#56cc7b"/><path d="M2453 3903l18-39l-14-79l-18 40z" color="#33c69e"/><path d="M2698 3868l17-77l-14 30l-17 77z" color="#34c69d"/><path d="M2483 3915l18-5l-14-53l-18 5z" color="#0cbac2"/><path d="M2728 3800l17-86l-13-6l-18 85z" color="#c2c22c"/><path d="M2406 3942l18-56l-14-87l-18 57z" color="#17c0b3"/><path d="M2711 3875l17-77l-13-7l-18 77z" color="#48ca89"/><path d="M2389 3973l17-31l-13-87l-18 31z" color="#11b2d4"/><path d="M2741 3841l17-86l-13-41l-18 86z" color="#a4c740"/><path d="M2724 3916l18-77l-14-41l-18 77z" color="#33c69e"/><path d="M2754 3902l18-86l-14-61l-18 85z" color="#56cc7b"/><path d="M2355 3932l17 35l-13-87l-17-35z" color="#0eb9c6"/><path d="M2737 3977l18-77l-14-61l-18 76z" color="#0db9c6"/><path d="M2767 3959l18-85l-14-58l-18 85z" color="#17c0b3"/><path d="M2338 3893l17 39l-13-87l-17-39z" color="#2ec5a2"/><path d="M2780 3991l18-86l-14-32l-17 86z" color="#11b2d4"/><path d="M2321 3879l18 14l-14-87l-17-15z" color="#52cb7f"/><path d="M2304 3900l18-22l-14-87l-17 22z" color="#53cc7e"/><path d="M2287 3938l18-38l-14-87l-17 38z" color="#35c69c"/><path d="M2807 3953l17-86l-13 34l-18 85z" color="#0eb9c6"/><path d="M2270 3956l18-18l-14-87l-17 18z" color="#19c0b2"/><path d="M2652 3905l18 66l-13-62l-18-65z" color="#17c0b3"/><path d="M2545 3756l18-41l-14 29l-17 42z" color="#f3bd35"/><path d="M2575 3723l18-6l-14-8l-18 6z" color="#fbd230"/><path d="M2820 3915l17-85l-13 37l-18 86z" color="#2ec5a2"/><path d="M2253 3941l18 15l-14-87l-17-15z" color="#1dc1af"/><path d="M2605 3759l18 31l-13-43l-18-31z" color="#f3bd35"/><path d="M2497 3900l18-57l-12 56l-18 57z" color="#24c3a9"/><path d="M2635 3850l18 57l-13-62l-18-57z" color="#69cc6c"/><path d="M2528 3815l18-61l-14 30l-17 61z" color="#bcc330"/><path d="M2558 3762l18-41l-14-7l-17 42z" color="#fac634"/><path d="M2237 3936l17 5l-14-87l-17-5z" color="#2ec5a2"/><path d="M2588 3764l18-5l-14-43l-17 5z" color="#fac634"/><path d="M2833 3902l17-85l-13 13l-17 85z" color="#52cb7f"/><path d="M2618 3820l18 30l-14-62l-17-31z" color="#bcc330"/><path d="M2511 3871l18-58l-14 30l-17 58z" color="#60cc73"/><path d="M2648 3907l18 58l-13-59l-18-57z" color="#24c3a9"/><path d="M2541 3822l18-61l-14-7l-17 61z" color="#d5bf2e"/><path d="M2220 3947l17-11l-14-88l-17 12z" color="#30c5a1"/><path d="M2571 3803l18-40l-14-42l-18 40z" color="#f2bd35"/><path d="M2816 3977l17-77l-13 13l-17 77z" color="#0eb8c8"/><path d="M2602 3825l17-6l-14-62l-17 5z" color="#d5bf2e"/><path d="M2846 3925l18-86l-14-23l-17 86z" color="#53cc7e"/><path d="M2632 3877l17 31l-13-59l-18-31z" color="#60cc73"/><path d="M2524 3878l18-58l-14-7l-17 58z" color="#7ecb5b"/><path d="M2203 3959l17-12l-13-87l-18 12z" color="#27c3a7"/><path d="M2555 3863l17-61l-14-42l-17 61zM2585 3864l17-40l-14-62l-17 40z" color="#bbc331"/><path d="M2829 4000l18-77l-14-23l-17 77z" color="#0eb8c8"/><path d="M2615 3882l17-5l-13-59l-18 5z" color="#7ecb5b"/><path d="M2507 3909l18-33l-14-6l-17 32z" color="#43c98d"/><path d="M2859 3965l18-86l-14-40l-17 86z" color="#35c69c"/><path d="M2644 3908l18 32l-12-33l-19-32z" color="#2fc5a1"/><path d="M2538 3919l17-58l-14-41l-17 57z" color="#5fcc74"/><path d="M2568 3923l18-60l-14-62l-18 61z" color="#6dcc68"/><path d="M2598 3922l18-40l-14-59l-18 40z" color="#5fcc74"/><path d="M2842 4040l18-77l-14-40l-17 77z" color="#16adda"/><path d="M2628 3914l18-5l-14-34l-18 5z" color="#43c98d"/><path d="M2521 3949l18-31l-14-42l-18 31z" color="#2ec5a2"/><path d="M2873 3984l17-86l-14-19l-17 86z" color="#19c0b2"/><path d="M2551 3980l18-57l-14-62l-18 57zM2581 3981l18-60l-14-59l-18 61z" color="#27c3a7"/><path d="M2611 3954l18-41l-14-33l-18 41z" color="#2ec5a2"/><path d="M2152 3956l17-18l-13-87l-18 18z" color="#3dc894"/><path d="M2504 3943l17 6l-13-42l-18-6z" color="#25c3a9"/><path d="M2564 4037l18-57l-14-59l-18 58z" color="#11b2d4"/><path d="M2594 4013l18-61l-14-32l-18 61z" color="#0eb7c9"/><path d="M2135 3994l17-38l-13-87l-18 38z" color="#21c2ac"/><path d="M2486 3908l18 35l-13-42l-18-35z" color="#42c98f"/><path d="M2624 3949l18-41l-14 4l-18 41z" color="#25c3a9"/><path d="M2517 4004l17 6l-13-63l-18-5z" color="#10b4cf"/><path d="M2409 3827l18-21l-13 31l-18 22z" color="#b8c433"/><path d="M2899 3966l17-85l-13 3l-18 86z" color="#2ec5a2"/><path d="M2439 3812l19 16l-14-6l-18-16z" color="#d0c02d"/><path d="M2118 4016l17-22l-13-87l-18 22z" color="#0cbac2"/><path d="M2469 3869l18 39l-12-42l-19-39z" color="#80cb59"/><path d="M2607 4008l18-61l-14 5l-17 61z" color="#10b4cf"/><path d="M2500 3969l17 35l-13-63l-17-34z" color="#0dbdbb"/><path d="M2637 3915l18-41l-13 34l-18 41z" color="#42c98f"/><path d="M2423 3836l18-23l-14-7l-18 23z" color="#d1bf2d"/><path d="M2667 3836l18-5l-14 40l-17 5z" color="#9fc843"/><path d="M2912 3979l17-85l-13-13l-17 85z" color="#30c5a1"/><path d="M2101 4001l17 15l-13-87l-17-15z" color="#0cbbc2"/><path d="M2453 3855l17 14l-13-42l-18-15z" color="#b5c435"/><path d="M2483 3930l17 39l-13-63l-17-38z" color="#3ec893"/><path d="M2620 3975l18-61l-14 33l-17 61z" color="#0dbdbb"/><path d="M2406 3874l18-40l-14-7l-18 40z" color="#aac63c"/><path d="M2650 3877l18-41l-13 38l-18 41z" color="#80cb59"/><path d="M2084 3962l17 39l-13-87l-17-39z" color="#29c4a6"/><path d="M2436 3877l18-22l-14-43l-18 22z" color="#b7c434"/><path d="M2680 3823l18-4l-13 14l-18 5z" color="#d0c02d"/><path d="M2925 3992l18-86l-14-13l-17 86z" color="#27c3a7"/><path d="M2466 3916l17 14l-13-62l-17-15z" color="#68cc6d"/><path d="M2496 3988l17 39l-13-60l-17-39z" color="#0db9c5"/><path d="M2389 3891l18-18l-14-8l-18 19z" color="#82cb58"/><path d="M2633 3937l18-61l-13 37l-18 62z" color="#3ec893"/><path d="M2067 3927l17 35l-13-87l-17-35z" color="#5acc78"/><path d="M2419 3915l18-39l-14-42l-18 39z" color="#8bcb51"/><path d="M2664 3865l17-42l-13 13l-18 42z" color="#b5c435"/><path d="M2449 3937l18-21l-14-63l-18 22z" color="#69cc6c"/><path d="M2694 3848l18-5l-14-25l-18 6z" color="#d1bf2d"/><path d="M2938 3988l18-85l-14 3l-17 86z" color="#28c4a6"/><path d="M2479 3973l18 15l-14-60l-17-14z" color="#23c3aa"/><path d="M2723 3883l18 31l-13-42l-18-31z" color="#8ccb50"/><path d="M2616 3993l18-58l-13 38l-18 58z" color="#0db9c5"/><path d="M2050 3921l18 6l-14-87l-17-6z" color="#86cb55"/><path d="M2402 3932l18-18l-14-42l-18 18z" color="#62cc71"/><path d="M2647 3924l17-61l-13 13l-18 61z" color="#68cc6d"/><path d="M2080 4004l18 35l-14-79l-17-35z" color="#0dbac4"/><path d="M2432 3976l18-39l-14-62l-18 38z" color="#45c98c"/><path d="M2677 3888l18-41l-14-24l-18 41z" color="#b7c434"/><path d="M2462 3995l18-22l-14-59l-17 22z" color="#24c3a9"/><path d="M2707 3888l18-6l-14-41l-18 5z" color="#aac63c"/><path d="M2952 3975l17-86l-14 13l-17 86z" color="#39c797"/><path d="M2492 4005l18 15l-14-34l-17-14z" color="#0fb6cb"/><path d="M2033 3952l18-31l-14-87l-17 31z" color="#78cb60"/><path d="M2385 3917l18 15l-14-43l-17-14z" color="#67cc6d"/><path d="M2630 3980l17-58l-13 13l-18 58z" color="#23c3aa"/><path d="M2063 3998l18 6l-14-79l-17-6z" color="#1ec1ae"/><path d="M2415 3993l18-18l-14-62l-17 18z" color="#29c4a5"/><path d="M2660 3947l17-61l-13-23l-18 61z" color="#69cc6c"/><path d="M2445 4033l18-39l-14-59l-18 39z" color="#0cbbc0"/><path d="M2338 3883l18-13l-14-7l-18 12z" color="#a1c842"/><path d="M2690 3927l18-40l-14-41l-18 41z" color="#8bcb51"/><path d="M2475 4027l18-22l-14-34l-18 23z" color="#0fb6cb"/><path d="M2368 3912l18 5l-14-42l-17-6z" color="#80cb59"/><path d="M2720 3907l18-6l-14-20l-18 5z" color="#82cb58"/><path d="M2965 3994l17-86l-13-19l-18 86z" color="#3dc894"/><path d="M2046 4028l18-30l-14-79l-17 31z" color="#14bfb5"/><path d="M2398 3978l18 15l-14-63l-17-14z" color="#2dc5a3"/><path d="M2643 4003l18-58l-14-23l-18 58z" color="#24c3a9"/><path d="M2428 4051l18-18l-14-59l-17 17z" color="#11b3d3"/><path d="M2321 3894l18-12l-14-8l-18 13z" color="#95ca4a"/><path d="M2673 3987l18-61l-14-40l-18 61z" color="#45c98c"/><path d="M2351 3924l18-12l-14-43l-18 12z" color="#83cb58"/><path d="M2703 3946l18-41l-14-19l-18 41z" color="#62cc71"/><path d="M2948 4069l17-77l-13-19l-18 77z" color="#12b1d6"/><path d="M2381 3973l18 5l-14-63l-17-5z" color="#3ec893"/><path d="M2626 4034l18-32l-14-24l-18 32z" color="#0fb6cb"/><path d="M2978 4033l17-85l-13-40l-18 86z" color="#21c2ac"/><path d="M2411 4036l18 15l-14-60l-17-15z" color="#10b4d0"/><path d="M2303 3888l19 6l-13-8l-19-5z" color="#97c948"/><path d="M2656 4043l18-58l-14-40l-18 58z" color="#0cbbc0"/><path d="M2334 3935l18-12l-14-42l-17 12z" color="#76cb61"/><path d="M2686 4006l18-62l-14-19l-18 62z" color="#29c4a5"/><path d="M2364 3984l18-11l-14-63l-17 12z" color="#3fc892"/><path d="M2716 3933l18-42l-14 14l-17 41z" color="#67cc6d"/><path d="M2257 3883l18-17l-14 31l-17 18z" color="#98c948"/><path d="M2961 4108l18-76l-14-40l-18 77z" color="#1fa4e1"/><path d="M2395 4031l17 5l-14-60l-17-5z" color="#0db9c5"/><path d="M2317 3930l18 5l-14-43l-17-5z" color="#78cb60"/><path d="M2669 4062l18-58l-14-19l-17 58z" color="#11b3d3"/><path d="M2348 3996l17-12l-14-62l-17 11z" color="#37c79a"/><path d="M2699 3992l18-61l-14 13l-17 62z" color="#2dc5a3"/><path d="M2378 4042l17-12l-14-59l-17 12z" color="#0dbac4"/><path d="M2729 3929l18-41l-14 3l-17 42z" color="#80cb59"/><path d="M2270 3892l18-19l-14-7l-18 19z" color="#b5c435"/><path d="M2515 3949l17-21l-13 39l-18 22z" color="#3bc796"/><path d="M2759 3902l19-6l-14-14l-19 6z" color="#a1c842"/><path d="M2300 3915l18 15l-14-43l-17-15z" color="#91ca4c"/><path d="M2545 3915l18 15l-14 14l-18-15z" color="#62cc71"/><path d="M2331 3991l17 5l-14-63l-17-5z" color="#38c798"/><path d="M2682 4048l18-58l-14 14l-17 58z" color="#10b4d0"/><path d="M2575 3952l18 41l-14-23l-17-41z" color="#3bc796"/><path d="M2361 4053l17-11l-13-60l-18 12z" color="#0eb7ca"/><path d="M2713 3988l17-61l-14 4l-17 61z" color="#3ec893"/><path d="M2253 3930l18-40l-14-7l-17 40z" color="#8dcb4f"/><path d="M2497 3988l18-39l-12 38l-18 40z" color="#1dc1af"/><path d="M2743 3942l17-41l-13-14l-18 42z" color="#83cb58"/><path d="M1932 4025l17 56l-13-87l-18-57z" color="#0dbac2"/><path d="M2284 3933l17-18l-14-43l-17 18z" color="#96c949"/><path d="M2528 3938l18-23l-14 13l-18 23z" color="#63cc70"/><path d="M2773 3915l18-6l-14-14l-18 6z" color="#95ca4a"/><path d="M2314 3976l17 15l-13-63l-18-15z" color="#49ca88"/><path d="M2558 3939l18 15l-14-25l-18-14z" color="#63cc70"/><path d="M2344 4048l17 5l-13-59l-18-5z" color="#0eb7c9"/><path d="M2696 4044l17-58l-14 4l-17 58z" color="#0db9c5"/><path d="M2236 3951l18-23l-14-7l-18 23z" color="#60cc73"/><path d="M2587 3993l19 39l-13-40l-18-40z" color="#1dc1af"/><path d="M2726 4001l17-61l-13-13l-18 61z" color="#3fc892"/><path d="M1915 3961l17 64l-13-88l-18-63z" color="#4fcb82"/><path d="M2267 3971l18-39l-15-42l-18 39z" color="#6dcc68"/><path d="M2511 3976l18-40l-14 13l-17 40z" color="#41c990"/><path d="M2756 3955l18-41l-14-14l-18 41z" color="#76cb61"/><path d="M2297 3993l17-17l-13-63l-18 18z" color="#4dca84"/><path d="M2541 3961l18-23l-14-24l-18 23z" color="#65cc6f"/><path d="M2327 4033l17 15l-13-59l-18-15z" color="#0bbdbd"/><path d="M2571 3979l18 14l-14-41l-17-14z" color="#41c990"/><path d="M2005 4257l18-6l-14-18l-18 6z" color="#453ad6"/><path d="M2709 4057l17-58l-13-13l-18 58z" color="#0dbac4"/><path d="M1898 3911l17 50l-13-87l-18-51z" color="#b4c435"/><path d="M2250 3992l17-22l-13-42l-18 22z" color="#48ca89"/><path d="M2035 4232l18-41l-14 19l-17 42z" color="#453cda"/><path d="M2739 4014l17-61l-13-13l-18 61z" color="#37c79a"/><path d="M1928 4037l17 64l-13-78l-17-64z" color="#0fb6cb"/><path d="M2280 4032l18-39l-14-62l-18 38z" color="#31c6a0"/><path d="M2524 3999l18-40l-14-23l-18 40z" color="#42c98f"/><path d="M2769 3951l18-42l-14 4l-18 42z" color="#78cb60"/><path d="M1957 4151l18 58l-13-52l-17-58z" color="#3e6cfd"/><path d="M2310 4051l17-18l-13-59l-18 18z" color="#0ebebb"/><path d="M2554 4001l18-22l-14-42l-18 22z" color="#42c98f"/><path d="M1988 4224l18 33l-14-17l-18-33z" color="#453ad6"/><path d="M1881 3889l17 22l-13-88l-18-21z" color="#edba35"/><path d="M2233 3978l17 14l-13-43l-18-14z" color="#49ca88"/><path d="M2584 3998l18 14l-13-20l-18-15z" color="#26c3a8"/><path d="M2477 3977l18 16l-14 14l-18-16z" color="#29c4a6"/><path d="M2018 4235l18-5l-14 22l-18 5z" color="#453ad6"/><path d="M2722 4070l17-58l-13-13l-18 58z" color="#0eb7ca"/><path d="M1911 3987l17 50l-13-78l-17-50z" color="#3fc892"/><path d="M2507 4017l18-19l-14-24l-18 19z" color="#27c3a8"/><path d="M2859 3980l18 59l-14-40l-17-58z" color="#2ec5a2"/><path d="M2048 4181l18-39l-13 50l-18 40z" color="#4758f7"/><path d="M2752 4010l17-61l-13 4l-18 61z" color="#38c798"/><path d="M2538 4039l18-39l-15-41l-18 39z" color="#24c3a9"/><path d="M2782 3937l18-41l-14 13l-17 42z" color="#91ca4c"/><path d="M1864 3905l17-16l-13-87l-18 16z" color="#f2bc35"/><path d="M2215 3938l18 40l-13-43l-18-39z" color="#79cb60"/><path d="M2568 4019l18-22l-14-20l-18 23z" color="#27c3a8"/><path d="M2812 3917l18-6l-14-20l-18 5z" color="#b5c435"/><path d="M2001 4204l18 32l-14 21l-18-32z" color="#453cda"/><path d="M3057 3999l17-85l-13-32l-18 85z" color="#78cb60"/><path d="M1894 3966l17 21l-13-78l-17-22z" color="#79cb5f"/><path d="M2246 4039l17 14l-13-63l-18-14z" color="#14bfb6"/><path d="M2598 3983l18 15l-14 14l-18-15z" color="#29c4a6"/><path d="M2490 4002l18 14l-13-24l-18-15z" color="#2ac4a5"/><path d="M2842 3951l18 31l-13-41l-18-31z" color="#6fcb67"/><path d="M2031 4186l18-5l-14 51l-17 5z" color="#474bee"/><path d="M1923 4038l18 51l-12-53l-18-51z" color="#0eb7c8"/><path d="M2168 3856l19 6l-13-7l-19-6z" color="#f3bd35"/><path d="M2521 4056l17-18l-14-41l-17 18z" color="#0cbcbf"/><path d="M2765 3997l18-62l-14 14l-17 61z" color="#49ca88"/><path d="M1954 4104l18 65l-14-16l-17-66z" color="#3086f6"/><path d="M1847 3955l18-51l-14-87l-18 51z" color="#d1c02d"/><path d="M2198 3904l18 35l-13-43l-18-35z" color="#bfc32e"/><path d="M2551 4058l18-40l-14-19l-18 39z" color="#0cbcbf"/><path d="M2795 3956l18-41l-14-19l-18 41z" color="#96c949"/><path d="M1877 3981l18-15l-14-79l-17 16z" color="#86cb55"/><path d="M2229 4000l17 39l-13-63l-17-39z" color="#39c798"/><path d="M2580 4006l18-23l-13 13l-18 23z" color="#2ac4a5"/><path d="M2122 3937l17-58l-13 30l-18 58z" color="#9bc946"/><path d="M2473 3997l18 5l-13-25l-18-5z" color="#3bc796"/><path d="M2825 3956l18-5l-14-41l-17 5z" color="#8dcb4f"/><path d="M2014 4155l18 32l-14 50l-18-31z" color="#4757f6"/><path d="M3070 4057l18-85l-14-58l-18 85z" color="#3fc892"/><path d="M1907 4017l18 22l-14-54l-17-21z" color="#29c4a6"/><path d="M2152 3888l18-33l-14-7l-18 33z" color="#eeba35"/><path d="M2504 4041l17 15l-13-41l-18-15z" color="#0cbdbc"/><path d="M2045 4124l17-5l-14 64l-17 5z" color="#3777fd"/><path d="M1937 4054l18 52l-14-17l-17-52z" color="#18abdb"/><path d="M1830 4030l18-76l-14-86l-18 76z" color="#71cb66"/><path d="M2182 3898l17 6l-13-43l-18-6z" color="#e1bd32"/><path d="M2534 4075l18-18l-14-20l-18 18z" color="#10b3d1"/><path d="M2778 4016l18-62l-14-19l-17 62z" color="#4dca84"/><path d="M1860 4031l18-50l-14-78l-18 50z" color="#55cc7c"/><path d="M2212 3965l17 35l-13-63l-17-35z" color="#72cb65"/><path d="M2564 4044l17-40l-13 13l-18 41z" color="#0cbdbc"/><path d="M2457 4008l18-12l-14-24l-18 12z" color="#3dc894"/><path d="M2808 3996l18-41l-14-40l-18 40z" color="#6dcc68"/><path d="M1890 4033l18-16l-14-53l-17 15z" color="#32c69f"/><path d="M2594 4002l18-23l-14 4l-18 23z" color="#3bc796"/><path d="M2135 3944l17-58l-13-7l-18 58z" color="#b8c433"/><path d="M2487 4036l17 5l-13-41l-18-5z" color="#1dc1af"/><path d="M2838 3979l18-5l-13-25l-18 6z" color="#60cc73"/><path d="M2028 4093l17 31l-14 64l-17-31z" color="#3184f7"/><path d="M1813 4114l18-85l-14-86l-18 85z" color="#10beb9"/><path d="M2165 3928l18-31l-14-42l-18 31z" color="#d7bf2f"/><path d="M1843 4106l18-76l-14-77l-18 76z" color="#10beb9"/><path d="M2195 3959l17 6l-13-63l-17-6z" color="#9dc845"/><path d="M2792 4055l17-61l-14-40l-17 61z" color="#31c6a0"/><path d="M1873 4083l18-51l-14-53l-18 51z" color="#10beb9"/><path d="M2225 4022l17 35l-13-59l-17-35z" color="#2ac4a5"/><path d="M2577 4040l18-40l-14 4l-18 40z" color="#1dc1af"/><path d="M2118 4003l17-61l-13-7l-18 61z" color="#5ccc76"/><path d="M2470 4048l18-12l-14-41l-18 11z" color="#1ec1ae"/><path d="M2822 4019l18-41l-14-24l-18 41z" color="#48ca89"/><path d="M2362 4005l18-17l-13 39l-18 18z" color="#24c3a9"/><path d="M1903 4050l18-17l-14-18l-18 17z" color="#10beb9"/><path d="M2607 4015l18-23l-14-13l-18 22z" color="#3dc894"/><path d="M2148 3985l18-58l-14-41l-18 57z" color="#9ac947"/><path d="M1826 4190l18-85l-14-77l-18 85z" color="#259ce8"/><path d="M2178 3989l18-31l-14-62l-18 31z" color="#90ca4d"/><path d="M2423 4014l17 5l-13-24l-18-5z" color="#36c79b"/><path d="M1856 4158l18-76l-14-53l-18 77z" color="#1ea5e0"/><path d="M2208 4016l18 6l-14-59l-17-6z" color="#47ca89"/><path d="M2560 4058l18-19l-14 3l-18 19z" color="#0dbac3"/><path d="M2805 4078l17-61l-13-23l-18 61z" color="#13bfb7"/><path d="M1886 4100l18-52l-14-17l-17 52z" color="#10b4d0"/><path d="M2590 4053l18-40l-14-13l-18 40z" color="#1ec1ae"/><path d="M2131 4044l18-61l-14-41l-18 61z" color="#45c98c"/><path d="M2835 4006l17-42l-13 13l-18 42z" color="#49ca88"/><path d="M2620 4028l18-23l-14-13l-18 22z" color="#34c69d"/><path d="M2161 4045l18-57l-14-62l-18 57z" color="#4fcb82"/><path d="M2405 3999l18 15l-13-25l-18-14z" color="#46c98a"/><path d="M3110 4165l17-86l-14-6l-17 86z" color="#269be8"/><path d="M2650 4001l18 15l-14 5l-18-16z" color="#35c69c"/><path d="M1839 4242l18-86l-14-52l-17 86z" color="#3975fe"/><path d="M2191 4047l18-31l-14-59l-18 31z" color="#3ec893"/><path d="M1870 4175l17-77l-14-17l-17 77z" color="#2995ed"/><path d="M2573 4071l18-19l-14-14l-18 19z" color="#0dbac2"/><path d="M2818 4065l17-61l-13 13l-18 61z" color="#14bfb6"/><path d="M2359 4032l17-40l-13 13l-18 40z" color="#2dc5a2"/><path d="M1900 4080l17-52l-13 20l-18 52z" color="#0fb7ca"/><path d="M2603 4066l18-40l-14-13l-18 40z" color="#16bfb4"/><path d="M2144 4105l18-61l-14-61l-18 60z" color="#10beb9"/><path d="M2847 3968l18-41l-12 38l-19 41z" color="#79cb60"/><path d="M2389 4017l18-18l-14-25l-18 19z" color="#4aca87"/><path d="M2633 4024l18-23l-13 3l-18 24z" color="#36c79b"/><path d="M2174 4103l18-57l-14-59l-18 57z" color="#10beb9"/><path d="M2419 4039l17 15l-13-42l-18-14z" color="#28c4a6"/><path d="M3123 4136l17-86l-13 29l-18 86z" color="#1ea5e1"/><path d="M1853 4259l17-86l-14-17l-17 86z" color="#455ffb"/><path d="M1883 4155l17-77l-13 20l-18 77z" color="#2799ea"/><path d="M2831 4028l17-62l-13 38l-17 61z" color="#39c798"/><path d="M2372 4055l18-40l-14-23l-18 40z" color="#2ec5a2"/><path d="M2968 4061l18 65l-13-58l-18-65z" color="#0dbac4"/><path d="M2509 4049l18-13l-13 4l-19 13z" color="#17c0b4"/><path d="M2402 4057l18-18l-14-42l-18 18z" color="#2cc5a4"/><path d="M2646 4010l18-23l-13 14l-18 23z" color="#46c98a"/><path d="M2539 4051l18 4l-13-14l-19-5z" color="#17c0b4"/><path d="M3136 4080l17-85l-13 55l-17 85z" color="#0dbac2"/><path d="M2676 4008l18 14l-13-20l-18-15z" color="#49ca88"/><path d="M1866 4239l17-86l-13 20l-18 86z" color="#4265fc"/><path d="M2920 3917l19 31l-13-33l-18-32z" color="#d8be2f"/><path d="M2706 4061l18 40l-12-41l-19-39z" color="#0cbcbe"/><path d="M3059 4306l18-17l-14-7l-18 17z" color="#453ad6"/><path d="M1896 4106l17-77l-13 49l-17 77z" color="#13afd8"/><path d="M2951 4005l18 57l-13-58l-18-58z" color="#4cca85"/><path d="M2844 3994l17-61l-13 33l-17 61z" color="#72cb65"/><path d="M2385 4095l18-39l-14-41l-18 39z" color="#10beb9"/><path d="M3089 4261l17-52l-13 29l-18 52z" color="#474aed"/><path d="M2630 4049l17-40l-13 13l-18 40z" color="#28c4a6"/><path d="M2522 4062l18-12l-14-14l-18 12z" color="#18c0b2"/><path d="M2874 3930l18-41l-14 4l-17 41z" color="#e1bd32"/><path d="M2660 4029l18-22l-14-20l-18 23z" color="#4aca87"/><path d="M2552 4063l18 5l-13-14l-18-5z" color="#0ebeba"/><path d="M2904 3922l18-5l-14-34l-17 6z" color="#eeba35"/><path d="M2690 4048l17 14l-13-42l-18-14z" color="#2dc5a2"/><path d="M3042 4283l17 23l-13-7l-18-23z" color="#453ad6"/><path d="M1879 4190l17-86l-13 49l-17 86z" color="#3282f8"/><path d="M2934 3975l18 31l-14-60l-17-31z" color="#9bc946"/><path d="M2827 4050l18-58l-14 34l-17 58z" color="#2ac4a5"/><path d="M3072 4274l17-15l-13 31l-18 16z" color="#453ad6"/><path d="M2964 4066l18 57l-13-62l-18-57z" color="#0dbdbb"/><path d="M2857 3989l18-61l-14 5l-17 61z" color="#9dc845"/><path d="M3101 4204l18-51l-13 57l-17 51z" color="#3e6cfd"/><path d="M1939 3912l17-51l-12 57l-18 51z" color="#e0bd31"/><path d="M2643 4068l18-40l-14-19l-18 39z" color="#2cc5a4"/><path d="M2536 4075l18-12l-14-14l-18 12z" color="#10beb9"/><path d="M2887 3962l18-41l-14-33l-18 41z" color="#d7bf2f"/><path d="M2673 4069l18-22l-14-41l-18 22z" color="#2ec5a2"/><path d="M3025 4232l17 52l-13-6l-18-52z" color="#474bee"/><path d="M2918 3980l17-5l-14-60l-17 6z" color="#b8c433"/><path d="M3162 3969l17-86l-13 49l-17 86z" color="#b4c435"/><path d="M3055 4253l18 22l-14 31l-18-22z" color="#453cda"/><path d="M1892 4128l17-86l-13 62l-17 86z" color="#1ba8de"/><path d="M2948 4036l17 31l-13-63l-18-31z" color="#46c98b"/><path d="M2840 4046l18-59l-14 5l-17 58z" color="#47ca89"/><path d="M2029 3885l18 52l-13-40l-18-53z" color="#f7c235"/><path d="M3085 4219l17-15l-13 57l-17 15z" color="#4757f6"/><path d="M2871 4021l17-61l-14-32l-17 61z" color="#90ca4d"/><path d="M2059 3997l18 65l-13-61l-18-65z" color="#62cc71"/><path d="M3115 4142l17-51l-13 64l-17 51z" color="#2799ea"/><path d="M1952 3884l18-52l-14 29l-17 53z" color="#fdcd32"/><path d="M2656 4107l18-39l-14-41l-18 40z" color="#10beb9"/><path d="M2901 4020l17-40l-14-60l-17 40z" color="#9ac947"/><path d="M3145 4044l17-77l-13 49l-17 77z" color="#3fc892"/><path d="M1982 3840l18-16l-14-8l-18 17z" color="#fbd42e"/><path d="M3038 4202l18 52l-14 31l-18-52z" color="#4757f6"/><path d="M2931 4041l17-5l-13-63l-18 5z" color="#5ccc76"/><path d="M3175 3949l18-85l-14 19l-17 86z" color="#edba35"/><path d="M2012 3866l18 21l-13-43l-18-21z" color="#fbd42e"/><path d="M3068 4198l18 21l-14 57l-18-21z" color="#465dfa"/><path d="M1905 4073l17-86l-13 55l-17 86z" color="#1dc1af"/><path d="M2257 3990l18-32l-14 12l-18 33z" color="#8acb52"/><path d="M2961 4077l17 31l-13-43l-18-31z" color="#11beb8"/><path d="M2854 4077l17-57l-14-33l-17 58z" color="#3ec893"/><path d="M2042 3948l18 50l-13-62l-18-51z" color="#cac12b"/><path d="M3098 4157l18-15l-14 64l-17 15z" color="#3086f6"/><path d="M1935 3959l18-77l-14 30l-17 77z" color="#d2bf2e"/><path d="M2287 3982l18 6l-14-25l-18-5z" color="#99c947"/><path d="M3127 4094l19-52l-13 50l-18 52z" color="#0eb7c8"/><path d="M1965 3891l18-53l-14-6l-17 52z" color="#fbd42e"/><path d="M2914 4080l18-40l-14-62l-18 40z" color="#45c98c"/><path d="M3158 4024l18-77l-14 20l-17 77z" color="#79cb5f"/><path d="M1996 3881l17-16l-14-42l-17 16z" color="#fbd42e"/><path d="M3051 4147l18 52l-14 56l-18-51z" color="#367afc"/><path d="M2240 4046l18-58l-14 13l-17 58z" color="#4bca86"/><path d="M2592 4065l18 5l-14-20l-18-5zM2944 4082l18-6l-14-42l-18 5z" color="#25c3a9"/><path d="M2133 4201l18 33l-14 5l-18-33z" color="#3e6bfd"/><path d="M3189 3966l17-86l-14-17l-17 86z" color="#f2bc35"/><path d="M2026 3927l17 21l-13-63l-18-21z" color="#f5bf35"/><path d="M3081 4136l18 21l-14 64l-17-21z" color="#2d8bf3"/><path d="M1918 4043l18-86l-14 30l-17 86z" color="#56cc7b"/><path d="M2270 4013l18-32l-14-24l-18 32z" color="#8bcb51"/><path d="M2163 4199l18-5l-14 35l-18 5z" color="#3b71fe"/><path d="M2055 4005l18 51l-13-60l-18-50z" color="#70cb66"/><path d="M3111 4108l18-15l-14 51l-17 15z" color="#18abdb"/><path d="M1949 3966l17-77l-14-7l-17 77z" color="#e9bb34"/><path d="M2300 4022l18 6l-14-42l-17-6z" color="#6ccc69"/><path d="M3141 4075l18-53l-14 20l-17 53z" color="#29c4a6"/><path d="M1979 3932l18-52l-14-42l-18 52z" color="#fdcc32"/><path d="M2575 4077l18-13l-14-20l-18 12z" color="#26c3a8"/><path d="M3172 4041l17-77l-14-17l-17 77z" color="#86cb55"/><path d="M2009 3942l17-16l-13-62l-18 15z" color="#f8c334"/><path d="M3064 4085l18 51l-14 64l-18-51z" color="#1fa4e2"/><path d="M2253 4069l18-58l-14-23l-17 58z" color="#4cca85"/><path d="M3202 4018l17-86l-13-52l-18 86z" color="#d1c02d"/><path d="M2039 3984l17 21l-13-59l-18-21z" color="#b5c435"/><path d="M3094 4087l18 21l-14 51l-17-22z" color="#14afd8"/><path d="M1932 4049l17-85l-14-7l-17 86z" color="#74cb63"/><path d="M2283 4052l18-31l-14-41l-18 32z" color="#5ecc74"/><path d="M2773 3994l17 41l-13 5l-18-41z" color="#61cc72"/><path d="M1962 4007l17-77l-13-41l-18 76z" color="#d2bf2d"/><path d="M2558 4088l18-12l-14-20l-18 12z" color="#1ec1ae"/><path d="M3155 4091l17-52l-13-17l-18 52z" color="#32c69f"/><path d="M1992 3992l18-51l-14-62l-18 51z" color="#e3bc32"/><path d="M3185 4093l18-77l-14-52l-18 77z" color="#55cc7c"/><path d="M2022 4000l17-16l-13-59l-18 15z" color="#c1c22d"/><path d="M3078 4036l17 52l-14 50l-18-52z" color="#10beb9"/><path d="M2267 4109l17-58l-14-40l-17 57z" color="#2ec5a2"/><path d="M3215 4094l18-85l-14-77l-18 85z" color="#71cb66"/><path d="M2052 4016l18 21l-14-33l-18-22z" color="#72cb65"/><path d="M1945 4090l17-85l-13-41l-18 85z" color="#55cc7c"/><path d="M2541 4083l18 5l-14-21l-18-5z" color="#1fc2ad"/><path d="M3138 4107l18-17l-14-17l-18 16z" color="#10beb9"/><path d="M1975 4067l18-76l-14-61l-18 76z" color="#89cb53"/><path d="M2571 4128l18-12l-14-41l-18 11z" color="#0dbac3"/><path d="M3168 4143l18-51l-14-53l-18 51z" color="#10beb9"/><path d="M2005 4050l18-51l-14-59l-18 51z" color="#91ca4c"/><path d="M3198 4169l18-76l-14-77l-18 76z" color="#10beb9"/><path d="M2035 4031l18-15l-14-34l-18 16z" color="#7fcb5b"/><path d="M2739 4003l18-23l-14 4l-18 23z" color="#99c947"/><path d="M2524 4068l18 15l-13-21l-18-15z" color="#30c6a0"/><path d="M3228 4179l18-84l-14-87l-18 85z" color="#10beb9"/><path d="M2769 4014l17 14l-13-34l-18-14z" color="#8acb52"/><path d="M1958 4151l18-85l-14-61l-18 85z" color="#20c2ad"/><path d="M2554 4122l18 6l-14-42l-17-5z" color="#0cbac2"/><path d="M3151 4159l17-16l-13-54l-18 16z" color="#10b4d0"/><path d="M1988 4125l18-77l-14-58l-18 77z" color="#3ac797"/><path d="M3181 4220l18-51l-14-78l-18 51z" color="#1ea5e0"/><path d="M2018 4082l18-52l-14-32l-18 51z" color="#50cb81"/><path d="M2722 4041l17-40l-13 5l-18 40z" color="#6ccc69"/><path d="M2507 4086l18-19l-14-20l-18 19z" color="#34c69d"/><path d="M3211 4254l18-75l-14-87l-18 76z" color="#259ce8"/><path d="M2048 4027l18-17l-14 4l-18 17z" color="#71cb65"/><path d="M2752 4035l18-22l-14-33l-18 22z" color="#8bcb51"/><path d="M2537 4108l18 14l-14-41l-17-15z" color="#14bfb6"/><path d="M2782 4071l17 15l-13-60l-17-14z" color="#4bca86"/><path d="M3134 4137l17 22l-13-54l-18-21z" color="#0fb7ca"/><path d="M1971 4209l18-86l-14-58l-18 86z" color="#14afd8"/><path d="M3164 4235l17-15l-13-79l-18 16z" color="#2995ed"/><path d="M2001 4157l18-77l-14-32l-17 77z" color="#0bbdbc"/><path d="M2353 4036l18 6l-14-14l-18-6z" color="#64cc70"/><path d="M2705 4059l18-19l-14 4l-18 19z" color="#4aca87"/><path d="M3194 4305l18-51l-14-87l-18 51z" color="#3975fe"/><path d="M2031 4077l18-52l-14 4l-17 53z" color="#47c98a"/><path d="M2735 4073l18-39l-14-33l-18 40z" color="#5ecc74"/><path d="M2521 4125l17-18l-14-41l-17 18z" color="#18c0b3"/><path d="M2765 4093l18-22l-14-59l-18 21z" color="#4cca85"/><path d="M3116 4086l18 51l-12-53l-18-51z" color="#27c3a8"/><path d="M3147 4214l17 21l-13-78l-17-22z" color="#2799ea"/><path d="M1984 4241l18-86l-14-32l-17 86z" color="#2699e9"/><path d="M2336 4067l18-32l-14-14l-18 33z" color="#56cc7b"/><path d="M3177 4320l18-15l-14-87l-17 15z" color="#455ffb"/><path d="M2014 4152l18-77l-14 5l-17 77z" color="#0dbac3"/><path d="M2366 4049l18 6l-13-14l-19-6z" color="#57cc7a"/><path d="M2855 4231l18 37l-14-7l-17-36z" color="#3b71fe"/><path d="M2044 4044l18-53l-13 34l-18 52z" color="#6acc6b"/><path d="M3100 4021l17 66l-13-52l-17-65z" color="#7acb5e"/><path d="M2992 3930l18-40l-13 51l-18 40z" color="#f7c235"/><path d="M2885 4236l18 7l-14 31l-17-7z" color="#3e6bfd"/><path d="M3130 4163l17 51l-13-79l-17-50z" color="#13afd8"/><path d="M3160 4299l18 21l-14-87l-17-21z" color="#4265fc"/><path d="M1997 4236l18-86l-14 5l-17 86z" color="#2995ed"/><path d="M2349 4080l18-32l-14-14l-18 32z" color="#4ecb83"/><path d="M2701 4076l18 15l-14-34l-17-15z" color="#44c98d"/><path d="M2242 4216l18-5l-14 15l-18 5z" color="#3184f7"/><path d="M2028 4119l17-77l-14 33l-17 77z" color="#1fc2ad"/><path d="M3083 3965l17 58l-12-52l-18-58z" color="#e0bd31"/><path d="M2869 4201l18 36l-15 31l-17-36z" color="#347dfa"/><path d="M3113 4100l17 63l-13-78l-17-64z" color="#2ac4a5"/><path d="M2654 4050l18-13l-14 5l-18 12z" color="#64cc70"/><path d="M3006 3912l17-42l-13 20l-18 42z" color="#fbd42e"/><path d="M3143 4248l18 51l-14-87l-17-51z" color="#3282f8"/><path d="M2684 4071l18 5l-14-34l-18-5z" color="#55cc7c"/><path d="M3036 3889l18-6l-14-18l-18 6z" color="#fbd42e"/><path d="M2225 4185l18 33l-14 14l-18-33z" color="#2b90f0"/><path d="M2117 3950l18 21l-12-24l-19-22z" color="#f4be35"/><path d="M2011 4202l17-85l-13 33l-18 86z" color="#20a3e2"/><path d="M2362 4076l18-32l-14 3l-17 33z" color="#4fcb82"/><path d="M3066 3936l18 31l-14-54l-17-31z" color="#fdcd32"/><path d="M2041 4081l17-77l-13 38l-18 77z" color="#50cb81"/><path d="M2392 4030l19 7l-14 14l-19-6z" color="#73cb64"/><path d="M3096 4043l17 57l-13-79l-17-56z" color="#85cb56"/><path d="M2989 3971l17-61l-13 20l-17 61z" color="#f5bf35"/><path d="M2071 3993l17-52l-13 13l-18 52z" color="#dfbd31"/><path d="M3126 4185l18 63l-14-87l-17-63z" color="#1ba8de"/><path d="M2667 4082l18-12l-14-33l-18 12z" color="#56cc7b"/><path d="M3019 3929l18-42l-14-17l-18 41z" color="#fbd42e"/><path d="M2101 3966l18-17l-14-24l-18 16z" color="#f7c235"/><path d="M2697 4128l18 6l-14-60l-17-5z" color="#27c3a7"/><path d="M3049 3941l18-5l-14-54l-17 5z" color="#fbd42e"/><path d="M2131 3990l17 21l-13-41l-18-22z" color="#dabe30"/><path d="M2024 4165l17-86l-13 38l-18 85z" color="#0eb7ca"/><path d="M2375 4062l18-32l-13 13l-18 33z" color="#65cc6f"/><path d="M3079 4012l18 31l-14-78l-17-31z" color="#d2bf2e"/><path d="M2972 4027l17-58l-13 20l-17 58z" color="#b5c435"/><path d="M2054 4068l17-77l-13 13l-18 77z" color="#83cb57"/><path d="M2406 4051l17 6l-13-21l-18-6z" color="#78cb60"/><path d="M3109 4128l18 57l-14-87l-17-57z" color="#1dc1af"/><path d="M3002 3988l18-61l-14-17l-17 61z" color="#f8c334"/><path d="M2084 4016l18-52l-14-23l-18 52z" color="#e0bd31"/><path d="M2680 4140l18-12l-14-59l-17 11z" color="#28c4a6"/><path d="M3032 3980l18-40l-14-53l-18 40z" color="#fdcc32"/><path d="M2114 4005l18-16l-14-41l-18 16z" color="#e4bc32"/><path d="M2359 4119l17-58l-13 13l-18 58z" color="#33c69e"/><path d="M3062 4017l18-5l-14-78l-17 5z" color="#e9bb34"/><path d="M2955 4058l18-32l-14 19l-17 33z" color="#72cb65"/><path d="M2037 4152l17-86l-13 13l-17 86z" color="#1cc1b0"/><path d="M2389 4081l18-32l-14-19l-18 32z" color="#6acc6b"/><path d="M3092 4097l18 31l-14-87l-17-31z" color="#56cc7b"/><path d="M2985 4044l18-58l-14-17l-17 58z" color="#c1c22d"/><path d="M2067 4091l18-77l-14-23l-18 77z" color="#84cb56"/><path d="M3015 4040l18-61l-14-52l-18 60z" color="#e3bc32"/><path d="M2097 4056l18-52l-14-40l-18 51z" color="#bcc330"/><path d="M3045 4057l18-40l-14-78l-17 40z" color="#d2bf2d"/><path d="M2586 4059l18-19l-14 4l-18 19z" color="#78cb60"/><path d="M2127 4024l18-16l-14-20l-18 16z" color="#c5c22a"/><path d="M2372 4138l17-58l-13-20l-18 58z" color="#36c79b"/><path d="M3076 4102l17-5l-14-87l-17 5z" color="#74cb63"/><path d="M2968 4075l18-32l-14-18l-18 32z" color="#7fcb5b"/><path d="M2157 3993l18 23l-14 14l-18-23z" color="#bdc32f"/><path d="M2050 4175l18-86l-14-23l-17 86z" color="#1dc1af"/><path d="M2402 4121l18-31l-14-41l-18 31z" color="#48ca89"/><path d="M2998 4096l18-57l-14-53l-18 57z" color="#91ca4c"/><path d="M2080 4131l18-77l-14-40l-18 77z" color="#58cc79"/><path d="M3029 4116l17-60l-14-78l-17 60z" color="#89cb53"/><path d="M2569 4097l18-40l-14 5l-17 40z" color="#51cb80"/><path d="M2110 4074l18-52l-14-19l-17 52z" color="#94ca4a"/><path d="M3059 4142l17-40l-14-87l-17 40z" color="#55cc7c"/><path d="M2951 4069l18 5l-13-18l-19-6z" color="#71cb65"/><path d="M2385 4177l18-57l-14-41l-18 58z" color="#1ac0b1"/><path d="M2981 4127l18-31l-14-54l-17 31z" color="#50cb81"/><path d="M2063 4214l18-85l-14-40l-17 86z" color="#0db9c5"/><path d="M3012 4172l17-56l-14-78l-17 56z" color="#3ac797"/><path d="M2552 4119l18-23l-13 4l-18 23z" color="#34c69d"/><path d="M2093 4149l18-76l-14-19l-17 76z" color="#3cc895"/><path d="M3042 4201l17-59l-13-87l-18 59z" color="#20c2ad"/><path d="M2583 4129l18-39l-15-33l-17 40z" color="#48ca89"/><path d="M2123 4061l18-52l-14 13l-17 52z" color="#9ac947"/><path d="M2965 4120l17 6l-14-53l-17-6z" color="#47c98a"/><path d="M2153 4007l18-17l-13 3l-18 17z" color="#dcbe30"/><path d="M2995 4203l17-31l-13-78l-18 31z" color="#0bbdbc"/><path d="M2076 4233l18-85l-14-19l-17 85z" color="#13b0d7"/><path d="M3025 4258l17-57l-13-87l-18 57z" color="#14afd8"/><path d="M2566 4151l18-22l-14-34l-18 23z" color="#2ac4a5"/><path d="M2107 4136l17-77l-14 13l-17 77z" color="#3fc891"/><path d="M2947 4085l18 35l-13-53l-18-35z" color="#6acc6b"/><path d="M2137 4057l17-52l-13 4l-18 52z" color="#b2c537"/><path d="M2978 4197l17 6l-13-78l-18-6z" color="#0dbac3"/><path d="M2167 4020l18-17l-14-14l-18 17z" color="#ddbd31"/><path d="M2870 3984l18-22l-13 20l-18 23z" color="#f4be35"/><path d="M3008 4288l17-31l-13-87l-18 31z" color="#2699e9"/><path d="M2549 4136l17 15l-13-34l-18-14z" color="#2bc4a4"/><path d="M2900 3980l18 15l-13-19l-18-14z" color="#f7c135"/><path d="M2090 4220l17-86l-14 13l-17 86z" color="#11b2d5"/><path d="M2930 4047l18 38l-13-53l-18-39z" color="#b2c537"/><path d="M2120 4132l17-77l-13 4l-18 77z" color="#50cb81"/><path d="M2961 4162l17 35l-13-79l-18-34z" color="#1fc2ad"/><path d="M2150 4070l17-52l-13-13l-18 52z" color="#b4c535"/><path d="M2853 4023l18-40l-13 20l-18 40z" color="#dabe30"/><path d="M2991 4282l17 6l-13-87l-18-6z" color="#2995ed"/><path d="M2180 4033l18-17l-14-14l-18 17z" color="#d4bf2e"/><path d="M2531 4096l18 40l-13-32l-18-40z" color="#4fcb82"/><path d="M2884 4002l18-23l-14-17l-18 22z" color="#f7c235"/><path d="M2669 4237l18 17l-14-6l-18-17z" color="#2994ed"/><path d="M2562 4194l17 14l-13-59l-18-14z" color="#0eb8c6"/><path d="M2914 4032l17 14l-13-53l-18-15z" color="#dfbd31"/><path d="M2103 4216l17-86l-13 4l-18 86z" color="#0eb7ca"/><path d="M2699 4223l18 5l-14 31l-18-5z" color="#2896ec"/><path d="M2944 4123l17 39l-13-78l-18-39z" color="#50cb81"/><path d="M2133 4145l17-77l-13-13l-18 77z" color="#52cb7f"/><path d="M2974 4247l17 35l-13-87l-17-35z" color="#20a3e2"/><path d="M2163 4083l18-52l-14-13l-18 52z" color="#a8c73d"/><path d="M2514 4061l18 36l-13-32l-18-36z" color="#94ca4b"/><path d="M2867 4040l18-40l-14-17l-18 40z" color="#e4bc32"/><path d="M2193 4029l18-17l-14 3l-18 17z" color="#d5bf2e"/><path d="M2545 4155l17 39l-13-60l-17-39z" color="#22c2ab"/><path d="M2897 4054l17-22l-13-54l-18 22z" color="#e0bd31"/><path d="M2682 4208l18 15l-14 31l-18-15z" color="#249fe6"/><path d="M2927 4108l17 15l-13-78l-18-15z" color="#83cb57"/><path d="M2116 4229l17-86l-13-13l-18 86z" color="#0eb7c9"/><path d="M2360 4289l18-5l-13 15l-18 5z" color="#3875fe"/><path d="M2957 4208l17 39l-13-87l-17-39z" color="#0eb7ca"/><path d="M2146 4158l17-77l-13-13l-17 77z" color="#49ca88"/><path d="M2498 4056l18 6l-14-33l-18-6z" color="#bec32f"/><path d="M2850 4058l18-19l-14-18l-18 19z" color="#c5c22a"/><path d="M2390 4248l18-41l-13 38l-18 41z" color="#2896ec"/><path d="M2176 4079l18-52l-14 4l-17 52z" color="#aac63c"/><path d="M2528 4120l17 35l-13-60l-17-34z" color="#52cb7f"/><path d="M2880 4092l18-39l-14-53l-18 39z" color="#bcc330"/><path d="M2910 4130l17-22l-13-78l-18 22z" color="#84cb56"/><path d="M2344 4258l17 33l-13 13l-18-32z" color="#3281f8"/><path d="M2236 4017l18 23l-13-19l-18-23z" color="#e3bc32"/><path d="M2940 4194l17 14l-13-87l-17-14z" color="#1cc1b0"/><path d="M2129 4242l17-86l-13-13l-17 86z" color="#10b5ce"/><path d="M2481 4087l18-31l-14-34l-18 32z" color="#b0c538"/><path d="M2832 4042l19 15l-13-18l-19-15z" color="#c9c12b"/><path d="M2374 4251l17-4l-13 39l-18 5z" color="#2d8bf3"/><path d="M2159 4154l18-77l-14 4l-17 77z" color="#4bca86"/><path d="M2511 4114l17 6l-13-59l-17-6z" color="#7bcb5d"/><path d="M2863 4109l18-17l-14-54l-18 18z" color="#94ca4a"/><path d="M2189 4066l18-53l-14 14l-17 52z" color="#c2c22c"/><path d="M2541 4181l17 35l-13-63l-17-35z" color="#13bfb7"/><path d="M2893 4168l18-38l-14-78l-18 38z" color="#58cc79"/><path d="M2219 4034l18-16l-14-20l-18 16z" color="#ecba35"/><path d="M2923 4215l18-21l-14-88l-17 22z" color="#1dc1af"/><path d="M2816 4037l18 5l-14-18l-18-5z" color="#dcbe30"/><path d="M2357 4220l18 32l-14 39l-18-32z" color="#2896ec"/><path d="M2249 4058l18 22l-13-42l-18-21z" color="#c3c22b"/><path d="M2142 4238l18-86l-14 4l-17 86z" color="#0fb5cd"/><path d="M2494 4145l18-31l-14-60l-18 31z" color="#6dcc68"/><path d="M2846 4095l17 14l-13-53l-18-15z" color="#9ac947"/><path d="M2387 4218l17-5l-13 35l-18 5z" color="#1fa4e1"/><path d="M2172 4141l18-77l-14 13l-17 77z" color="#5ecc75"/><path d="M2524 4175l18 6l-14-63l-17-6z" color="#31c6a0"/><path d="M2876 4186l18-18l-14-78l-17 17z" color="#3cc895"/><path d="M2202 4084l18-52l-14-19l-17 52z" color="#c7c12a"/><path d="M2906 4253l18-38l-14-87l-17 38z" color="#0db9c5"/><path d="M2799 4049l18-12l-14-18l-18 12z" color="#ddbd31"/><path d="M2233 4074l17-16l-14-41l-17 15z" color="#cdc02c"/><path d="M2829 4089l18 5l-14-53l-18-5z" color="#b2c537"/><path d="M2370 4187l18 32l-14 34l-18-32z" color="#15add9"/><path d="M2155 4224l18-85l-14 13l-17 86z" color="#0cbac2"/><path d="M2507 4205l18-30l-14-63l-18 31z" color="#27c3a7"/><path d="M2859 4171l17 15l-13-79l-17-14z" color="#3fc891"/><path d="M2186 4159l17-76l-14-19l-17 76z" color="#63cc70"/><path d="M2537 4216l18 6l-14-43l-17-6z" color="#0eb8c7"/><path d="M2889 4271l18-18l-14-87l-17 18z" color="#13b0d7"/><path d="M2782 4060l18-12l-14-18l-18 12z" color="#d4bf2e"/><path d="M2216 4124l18-52l-14-40l-18 52z" color="#a0c843"/><path d="M2812 4101l18-12l-14-54l-18 12z" color="#b4c535"/><path d="M2246 4097l18-17l-14-24l-18 16z" color="#a5c740"/><path d="M2842 4166l18 5l-14-78l-17-6z" color="#50cb81"/><path d="M2383 4182l18 33l-14 5l-18-33z" color="#0eb8c8"/><path d="M2169 4243l17-85l-14-19l-17 85z" color="#0cbcc0"/><path d="M2872 4256l18 15l-14-87l-17-15z" color="#11b2d5"/><path d="M2765 4055l18 5l-14-18l-18-5z" color="#d5bf2e"/><path d="M2199 4199l17-77l-13-40l-18 77z" color="#44c98d"/><path d="M2795 4112l18-11l-14-54l-18 12z" color="#a8c73d"/><path d="M2229 4147l18-52l-14-23l-18 52z" color="#73cb64"/><path d="M2825 4177l18-11l-14-79l-17 12z" color="#52cb7f"/><path d="M2717 4040l19-18l-13 21l-19 18z" color="#e3bc32"/><path d="M2855 4251l18 5l-14-87l-17-5z" color="#0eb7ca"/><path d="M2747 4040l19 15l-13-18l-19-15z" color="#e8bb34"/><path d="M2182 4283l17-86l-13-40l-18 86z" color="#11b3d2"/><path d="M2778 4107l18 5l-14-54l-17-5z" color="#aac63c"/><path d="M2212 4222l17-77l-13-23l-18 77z" color="#25c3a8"/><path d="M2808 4189l18-12l-14-78l-17 11z" color="#49ca88"/><path d="M2701 4079l18-40l-14 20l-17 40z" color="#c3c22b"/><path d="M2242 4134l17-52l-13 13l-18 52z" color="#75cb62"/><path d="M2838 4262l18-11l-14-87l-17 11z" color="#0eb7c9"/><path d="M2731 4058l18-19l-14-18l-18 19z" color="#ecba35"/><path d="M2761 4092l18 15l-14-54l-17-15z" color="#c2c22c"/><path d="M2195 4306l17-86l-13-23l-18 86z" color="#1da6e0"/><path d="M2791 4183l18 6l-14-79l-17-5z" color="#4bca86"/><path d="M2225 4209l17-77l-13 13l-17 77z" color="#26c3a8"/><path d="M2822 4274l17-12l-14-87l-17 12z" color="#10b5ce"/><path d="M2714 4096l18-40l-14-17l-18 40z" color="#cdc02c"/><path d="M2744 4110l18-18l-14-54l-17 18z" color="#c7c12a"/><path d="M2774 4168l18 15l-14-78l-17-15z" color="#5ecc75"/><path d="M2315 3990l18 23l-14 5l-18-22z" color="#fccf31"/><path d="M2208 4293l17-86l-13 13l-17 86z" color="#1da6df"/><path d="M2805 4268l17 6l-14-87l-17-6z" color="#0fb5cd"/><path d="M2697 4118l18-23l-14-18l-18 23z" color="#a5c740"/><path d="M2238 4171l17-77l-13 38l-17 77z" color="#4bca86"/><path d="M2483 4408l17-41l-13-7l-18 41z" color="#4752f3"/><path d="M2727 4148l18-39l-14-53l-18 39z" color="#a0c843"/><path d="M2268 4063l18-52l-14 33l-17 52z" color="#e6bc33"/><path d="M2758 4186l17-18l-14-78l-17 18z" color="#63cc70"/><path d="M2298 4008l18-17l-13 4l-19 17z" color="#fbd42e"/><path d="M2788 4254l17 14l-13-87l-18-15z" color="#0cbac2"/><path d="M2328 4024l18 22l-13-34l-18-21z" color="#fdc934"/><path d="M2680 4103l18 14l-13-18l-18-14z" color="#a6c73f"/><path d="M2221 4255l18-86l-14 38l-17 86z" color="#0fb5cd"/><path d="M2358 4103l18 51l-13-60l-18-50z" color="#aac63c"/><path d="M2710 4169l18-21l-14-54l-17 22z" color="#73cb64"/><path d="M2251 4138l18-77l-14 33l-17 77z" color="#8dcb4f"/><path d="M2741 4224l17-38l-14-78l-17 38z" color="#44c98d"/><path d="M2281 4058l18-52l-14 4l-17 53z" color="#f7c235"/><path d="M2525 4283l18-61l-12 56l-18 61z" color="#249fe6"/><path d="M2771 4271l17-17l-13-88l-18 18z" color="#0cbcc0"/><path d="M2312 4040l17-16l-14-34l-17 16z" color="#fcce31"/><path d="M2449 4380l18 33l-14-7l-18-32z" color="#4751f2"/><path d="M2342 4082l17 21l-13-59l-18-22z" color="#e5bc33"/><path d="M2694 4155l17 14l-14-53l-17-15z" color="#75cb62"/><path d="M2234 4222l18-86l-14 33l-17 86z" color="#23c3aa"/><path d="M2479 4381l18-5l-14 32l-18 5z" color="#4751f2"/><path d="M2372 4164l17 50l-13-62l-18-51z" color="#51cb80"/><path d="M2724 4246l17-22l-13-78l-18 21z" color="#25c3a8"/><path d="M2265 4133l17-77l-14 5l-17 77z" color="#b7c433"/><path d="M2616 4004l18 7l-14 21l-18-6z" color="#fccf31"/><path d="M2509 4321l17-39l-13 57l-17 39z" color="#3281f8"/><path d="M2402 4253l17 66l-13-41l-17-65z" color="#1aa9dd"/><path d="M2754 4309l17-38l-13-87l-18 38z" color="#11b3d2"/><path d="M2295 4090l17-52l-13-32l-18 52z" color="#f4bf35"/><path d="M2432 4323l17 59l-13-7l-18-58z" color="#3974fe"/><path d="M2325 4097l17-15l-13-60l-18 16z" color="#efba35"/><path d="M2676 4116l18 39l-13-54l-18-39z" color="#aac63c"/><path d="M2462 4350l18 32l-14 31l-18-32z" color="#465efb"/><path d="M2355 4143l17 21l-13-63l-18-21z" color="#94ca4a"/><path d="M2707 4231l17 15l-13-79l-18-14z" color="#26c3a8"/><path d="M2248 4217l17-86l-14 5l-17 86z" color="#40c890"/><path d="M2599 4037l18-33l-13 20l-18 33z" color="#fdc934"/><path d="M2492 4326l18-5l-14 57l-17 5z" color="#3974fe"/><path d="M2737 4331l17-22l-13-87l-18 22z" color="#1da6e0"/><path d="M2278 4165l17-77l-13-32l-18 77z" color="#aac63c"/><path d="M2629 4023l18 6l-13-19l-18-5z" color="#fbd42e"/><path d="M2522 4259l18-39l-14 64l-17 39z" color="#1aa9dd"/><path d="M2308 4148l18-51l-14-59l-18 51z" color="#c9c12b"/><path d="M2660 4081l17 35l-13-54l-18-35z" color="#e6bc33"/><path d="M2445 4294l18 58l-14 30l-18-58z" color="#3381f9"/><path d="M2338 4158l17-15l-13-63l-18 16z" color="#a0c842"/><path d="M2690 4192l17 39l-13-78l-18-39z" color="#4bca86"/><path d="M2582 4093l18-58l-14 20l-17 58z" color="#e5bc33"/><path d="M2475 4295l18 32l-14 56l-18-31z" color="#3381f9"/><path d="M2368 4184l17 21l-13-43l-18-21z" color="#4bca86"/><path d="M2720 4316l17 15l-13-87l-18-15z" color="#1da6df"/><path d="M2261 4249l17-86l-13-32l-18 86z" color="#37c79a"/><path d="M2613 4054l18-32l-14-18l-18 32z" color="#fcce31"/><path d="M2505 4264l18-5l-14 64l-17 5z" color="#249fe5"/><path d="M2398 4209l18 53l-14-7l-17-52z" color="#0cbbc0"/><path d="M2291 4223l18-77l-14-58l-18 77z" color="#66cc6e"/><path d="M2643 4075l17 6l-13-54l-18-6z" color="#f7c235"/><path d="M2321 4208l18-51l-14-62l-18 51z" color="#6fcb67"/><path d="M2673 4157l17 35l-13-78l-18-35z" color="#8dcb4f"/><path d="M2566 4152l17-61l-13 20l-18 61z" color="#94ca4a"/><path d="M2458 4239l18 57l-14 56l-18-57z" color="#23a0e5"/><path d="M2351 4199l18-16l-14-42l-18 15z" color="#54cc7d"/><path d="M2703 4277l17 39l-13-87l-17-39z" color="#0fb5cd"/><path d="M2596 4110l17-58l-13-17l-18 58z" color="#efba35"/><path d="M2488 4233l18 31l-14 64l-17-31z" color="#1aa9dd"/><path d="M2274 4307l18-86l-14-58l-18 86z" color="#0bbcbe"/><path d="M2626 4105l18-31l-14-53l-18 31z" color="#f4bf35"/><path d="M2519 4215l17-5l-14 51l-17 5z" color="#0cbbc0"/><path d="M2304 4283l18-76l-14-61l-18 76z" color="#23c2ab"/><path d="M2656 4151l17 6l-13-78l-18-6z" color="#b7c433"/><path d="M2549 4192l17-41l-13 19l-18 42z" color="#4bca86"/><path d="M2334 4249l18-51l-14-42l-18 52z" color="#32c69e"/><path d="M2686 4243l17 34l-13-87l-17-35z" color="#23c3aa"/><path d="M2579 4169l17-61l-13-17l-18 61z" color="#a0c842"/><path d="M2472 4177l17 57l-14 63l-18-57z" color="#0bbdbc"/><path d="M2364 4205l18-16l-14-7l-18 16z" color="#3fc892"/><path d="M2609 4162l18-58l-14-52l-18 57z" color="#c9c12b"/><path d="M2502 4184l17 32l-14 50l-17-31z" color="#1bc1b0"/><path d="M2287 4367l18-85l-14-61l-18 85z" color="#1ea5e1"/><path d="M2639 4182l18-31l-14-78l-18 31z" color="#aac63c"/><path d="M2317 4324l18-76l-14-42l-18 77z" color="#10b4d1"/><path d="M2669 4237l17 6l-13-88l-17-6z" color="#40c890"/><path d="M2562 4209l18-41l-14-18l-18 42z" color="#54cc7d"/><path d="M2347 4256l18-52l-14-7l-17 52z" color="#1dc1af"/><path d="M2592 4221l18-61l-14-52l-18 61z" color="#6fcb67"/><path d="M2485 4128l18 57l-14 50l-18-58z" color="#54cc7d"/><path d="M2622 4238l18-57l-14-78l-18 57z" color="#66cc6e"/><path d="M2300 4408l18-85l-14-42l-17 86z" color="#2e89f4"/><path d="M2652 4267l18-31l-14-87l-17 31z" color="#37c79a"/><path d="M2545 4214l18-6l-14-18l-18 6z" color="#3fc892"/><path d="M2330 4331l18-77l-14-7l-17 77z" color="#18abdb"/><path d="M2575 4261l18-41l-14-53l-18 40z" color="#32c69e"/><path d="M2360 4226l18-52l-14 30l-17 52z" color="#32c69f"/><path d="M2605 4297l18-59l-14-78l-18 60z" color="#23c2ab"/><path d="M2635 4323l18-56l-14-87l-18 56z" color="#0bbcbe"/><path d="M2313 4415l18-86l-14-7l-17 86z" color="#357cfb"/><path d="M2558 4266l18-6l-14-53l-18 5z" color="#1dc1af"/><path d="M2344 4301l17-77l-14 30l-17 77z" color="#10b3d1"/><path d="M2588 4337l18-40l-14-78l-18 40z" color="#10b4d1"/><path d="M2618 4383l18-60l-14-87l-18 60z" color="#1ea5e1"/><path d="M2541 4235l17 31l-13-54l-17-31z" color="#32c69f"/><path d="M2327 4385l17-86l-13 30l-18 86z" color="#2f89f4"/><path d="M2571 4342l18-5l-14-78l-17 5z" color="#18abdb"/><path d="M2601 4422l18-40l-14-87l-17 40z" color="#2e89f4"/><path d="M2524 4176l17 59l-12-52l-18-59z" color="#73cb64"/><path d="M2554 4311l18 31l-14-78l-17-31z" color="#10b3d1"/><path d="M2447 3972l18 23l-14 21l-18-23z" color="#fbd42e"/><path d="M2340 4330l17-86l-13 55l-18 86z" color="#1da6e0"/><path d="M2584 4427l18-5l-14-87l-17 5z" color="#357cfb"/><path d="M2370 4184l17-77l-13 62l-17 77z" color="#7ecb5b"/><path d="M2507 4113l17 65l-13-52l-17-65z" color="#dbbe30"/><path d="M2399 4059l18-51l-12 49l-18 52z" color="#fbd42f"/><path d="M2537 4254l18 57l-14-78l-17-57z" color="#25c3a9"/><path d="M2430 3988l18-16l-13 22l-19 15z" color="#fbd42e"/><path d="M2567 4396l18 31l-14-87l-17-31z" color="#2f89f4"/><path d="M2460 3989l18 23l-13-17l-19-23z" color="#fbd42e"/><path d="M2353 4268l17-86l-13 62l-17 86z" color="#19c0b2"/><path d="M2489 4064l19 51l-13-54l-18-51z" color="#fbd42f"/><path d="M2383 4135l17-77l-13 49l-17 77z" color="#dfbd31"/><path d="M2520 4191l18 63l-13-78l-18-63z" color="#7ecb5b"/><path d="M2413 4040l18-52l-14 20l-17 52z" color="#fbd42e"/><path d="M2550 4340l18 56l-14-87l-17-56z" color="#1da6e0"/><path d="M2443 4006l18-16l-14-18l-18 17zM2473 4043l18 21l-14-54l-17-21z" color="#fbd42e"/><path d="M2366 4219l17-86l-13 49l-17 86z" color="#66cc6f"/><path d="M2503 4141l18 50l-14-78l-17-51z" color="#dfbd31"/><path d="M2396 4115l18-77l-14 20l-17 77z" color="#fcc734"/><path d="M2533 4276l18 64l-13-88l-18-63z" color="#19c0b2"/><path d="M2426 4057l18-52l-14-17l-17 52zM2456 4058l18-15l-14-54l-17 16z" color="#fbd42e"/><path d="M2487 4119l17 22l-14-79l-17-21z" color="#fcc734"/><path d="M2379 4199l18-86l-14 20l-17 86z" color="#abc63b"/><path d="M2517 4226l17 50l-13-87l-18-50z" color="#66cc6f"/><path d="M2409 4132l18-77l-14-17l-17 77z" color="#fdcb33"/><path d="M2440 4109l17-52l-14-53l-18 52z" color="#fbd42e"/><path d="M2470 4135l17-16l-14-78l-17 15z" color="#fdcb33"/><path d="M2500 4204l17 22l-13-87l-18-22z" color="#abc63b"/><path d="M2392 4216l18-86l-14-17l-17 86z" color="#b7c433"/><path d="M2423 4184l17-77l-14-52l-17 76zM2453 4185l17-51l-13-78l-18 51z" color="#f2bd35"/><path d="M2483 4220l17-16l-13-87l-18 16z" color="#b7c433"/><path d="M2406 4267l17-85l-14-52l-17 85z" color="#87cb54"/><path d="M2436 4260l18-76l-14-77l-18 76z" color="#a3c740"/><path d="M2466 4270l17-50l-13-87l-18 50z" color="#87cb54"/><path d="M2419 4344l18-85l-14-77l-18 85zM2449 4345l18-76l-14-86l-18 76z" color="#33c69e"/><path d="M2432 4429l18-85l-14-86l-18 85z" color="#17acdb"/></g>
<path d="M324.5 440L243.2 460.8L180 433.3L180 373.7M243.2 460.8l-2 -0.9M283.9 450.4l-2 -0.9M324.5 440l-2 -0.9M243.2 460.8l2.1 -0.5M211.6 447.1l2.1 -0.5M180 433.3l2.1 -0.5M180 420.1l2.1 -0.5M180 402.8l2.1 -0.5M180 385.4l2.1 -0.5" fill="none" stroke="#262626" stroke-width="0.7"/>
<text transform="translate(247.3 468.8) scale(1.45 1)" class="t3" text-anchor="start" style="font-size:5.9px">-500</text>
<text transform="translate(288 458.4) scale(1.45 1)" class="t3" text-anchor="start" style="font-size:5.9px">0</text>
<text transform="translate(328.6 448) scale(1.45 1)" class="t3" text-anchor="start" style="font-size:5.9px">500</text>
<text transform="translate(237.3 468.6) scale(1.45 1)" class="t3" text-anchor="end" style="font-size:5.9px">-500</text>
<text transform="translate(205.7 454.9) scale(1.45 1)" class="t3" text-anchor="end" style="font-size:5.9px">0</text>
<text transform="translate(174.1 441.1) scale(1.45 1)" class="t3" text-anchor="end" style="font-size:5.9px">500</text>
<text transform="translate(175 422.2) scale(1.45 1)" class="t3" text-anchor="end" style="font-size:5.9px">-500</text>
<text transform="translate(175 404.9) scale(1.45 1)" class="t3" text-anchor="end" style="font-size:5.9px">0</text>
<text transform="translate(175 387.5) scale(1.45 1)" class="t3" text-anchor="end" style="font-size:5.9px">500</text>
<text x="251" y="350" class="ti3" text-anchor="middle" textLength="71" lengthAdjust="spacingAndGlyphs" style="font-size:7.1px">Objective space</text>
<text transform="translate(296.7 471.3) scale(1.45 1)" class="l3" text-anchor="middle" style="font-size:6.6px">x<tspan dy="1.6" style="font-size:4.6px">1</tspan></text>
<text transform="translate(189 469.7) scale(1.45 1)" class="l3" text-anchor="middle" style="font-size:6.6px">x<tspan dy="1.6" style="font-size:4.6px">2</tspan></text>
<text transform="translate(148.4 402) rotate(-90) scale(1 1.45)" class="l3" text-anchor="middle" style="font-size:6.6px" textLength="34" lengthAdjust="spacingAndGlyphs">F8( x<tspan dy="1.6" style="font-size:4.6px">1</tspan><tspan dy="-1.6"> , x</tspan><tspan dy="1.6" style="font-size:4.6px">2</tspan><tspan dy="-1.6"> )</tspan></text>
<path d="M240 612.1L174.2 583.4L174.2 520.1M283.4 601L217.6 572.3L217.6 509.1M326.9 590L261.1 561.3L261.1 498M240 612.1L326.9 590L326.9 526.7M207.1 597.8L294 575.6L294 512.4M174.2 583.4L261.1 561.3L261.1 498M174.2 568.8L261.1 546.6L326.9 575.4M174.2 554.1L261.1 532L326.9 560.7M174.2 539.4L261.1 517.3L326.9 546M174.2 524.8L261.1 502.7L326.9 531.4" fill="none" stroke="#e2e2e2" stroke-width="0.6"/>
<path d="M240 612.1L326.9 590L261.1 561.3L174.2 583.4z" fill="#f8ecb0"/>
<g fill="none" stroke-dasharray="1.1 0.9" opacity="0.75"><path d="M252.6 586.2L252.4 586.1L252.1 586L251.7 585.9L251.3 585.9L250.9 585.8L250.5 585.8L250.1 585.8L249.7 585.9L249.3 585.9L249 586L248.7 586.1L248.4 586.2L248.2 586.3L248 586.5L247.9 586.6L247.9 586.7L248 586.9L248.1 587L248.2 587.1L248.5 587.2L248.7 587.3L249 587.4L249.4 587.5L249.8 587.5L250.2 587.6L250.6 587.6L251 587.6L251.4 587.5L251.8 587.5L252.1 587.4L252.4 587.3L252.7 587.2L252.9 587.1L253.1 586.9L253.2 586.8L253.2 586.7L253.1 586.5L253 586.4L252.9 586.3L252.6 586.2" stroke="#4560fb" stroke-width="1.0"/><path d="M254.5 585.7L254 585.5L253.4 585.3L252.7 585.2L252 585.1L251.2 585.1L250.5 585L249.7 585.1L248.9 585.1L248.2 585.2L247.5 585.4L247 585.6L246.5 585.8L246.1 586L245.8 586.2L245.6 586.5L245.6 586.7L245.7 587L245.9 587.3L246.2 587.5L246.6 587.7L247.1 587.9L247.7 588.1L248.4 588.2L249.1 588.3L249.9 588.3L250.6 588.4L251.4 588.3L252.2 588.3L252.9 588.2L253.6 588L254.1 587.8L254.6 587.6L255 587.4L255.3 587.2L255.5 586.9L255.5 586.7L255.4 586.4L255.2 586.1L254.9 585.9L254.5 585.7" stroke="#3282f8" stroke-width="1.0"/><path d="M256.6 585.1L255.8 584.9L254.9 584.6L253.9 584.4L252.8 584.3L251.6 584.2L250.4 584.2L249.2 584.2L248 584.3L246.9 584.5L245.9 584.7L245 585L244.3 585.3L243.7 585.6L243.2 586L243 586.4L242.9 586.8L243 587.2L243.3 587.6L243.8 587.9L244.5 588.3L245.3 588.5L246.2 588.8L247.2 589L248.3 589.1L249.5 589.2L250.7 589.2L251.9 589.2L253.1 589.1L254.2 588.9L255.2 588.7L256.1 588.4L256.8 588.1L257.4 587.8L257.9 587.4L258.1 587L258.2 586.6L258.1 586.2L257.8 585.8L257.3 585.5L256.6 585.1" stroke="#23a0e5" stroke-width="1.0"/><path d="M259.1 584.5L258 584.1L256.7 583.8L255.2 583.5L253.7 583.3L252 583.2L250.3 583.1L248.7 583.2L247 583.3L245.5 583.6L244.1 583.9L242.8 584.2L241.7 584.7L240.9 585.2L240.3 585.7L239.9 586.2L239.8 586.8L240 587.4L240.4 587.9L241.1 588.4L242 588.9L243.1 589.3L244.4 589.6L245.9 589.9L247.4 590.1L249.1 590.2L250.8 590.3L252.4 590.2L254.1 590.1L255.6 589.8L257 589.5L258.3 589.2L259.4 588.7L260.2 588.2L260.8 587.7L261.2 587.2L261.3 586.6L261.1 586L260.7 585.5L260 585L259.1 584.5" stroke="#0fb6cc" stroke-width="1.1"/><path d="M262.1 583.8L260.6 583.2L258.8 582.7L256.9 582.4L254.7 582.1L252.5 581.9L250.3 581.9L248 582L245.8 582.2L243.7 582.5L241.8 582.9L240.1 583.4L238.7 584L237.5 584.6L236.7 585.3L236.2 586.1L236.1 586.8L236.3 587.6L236.9 588.3L237.8 589L239 589.6L240.5 590.2L242.3 590.7L244.2 591L246.4 591.3L248.6 591.5L250.8 591.5L253.1 591.4L255.3 591.2L257.4 590.9L259.3 590.5L261 590L262.4 589.4L263.6 588.8L264.4 588.1L264.9 587.3L265 586.6L264.8 585.8L264.2 585.1L263.3 584.4L262.1 583.8" stroke="#2bc4a4" stroke-width="1.2"/><path d="M265.7 582.8L263.7 582.1L261.4 581.5L258.9 581L256.1 580.6L253.2 580.4L250.2 580.4L247.2 580.5L244.3 580.7L241.6 581.1L239.1 581.7L236.8 582.4L234.9 583.1L233.4 584L232.3 584.9L231.7 585.9L231.5 586.9L231.8 587.9L232.6 588.8L233.8 589.7L235.4 590.6L237.4 591.3L239.7 591.9L242.2 592.4L245 592.8L247.9 593L250.9 593L253.9 592.9L256.8 592.7L259.5 592.3L262 591.7L264.3 591L266.2 590.3L267.7 589.4L268.8 588.5L269.4 587.5L269.6 586.5L269.3 585.5L268.5 584.6L267.3 583.7L265.7 582.8" stroke="#66cc6e" stroke-width="1.3"/><path d="M270.5 581.6L267.9 580.7L264.9 579.8L261.5 579.2L257.8 578.7L254 578.4L250.1 578.4L246.1 578.5L242.3 578.9L238.7 579.4L235.4 580.1L232.5 581L230 582L228 583.1L226.6 584.3L225.7 585.6L225.5 586.9L225.9 588.2L226.9 589.5L228.5 590.7L230.6 591.8L233.2 592.7L236.2 593.6L239.6 594.2L243.3 594.7L247.1 595L251 595L255 594.9L258.8 594.5L262.4 594L265.7 593.3L268.6 592.4L271.1 591.4L273.1 590.3L274.5 589.1L275.4 587.8L275.6 586.5L275.2 585.2L274.2 583.9L272.6 582.7L270.5 581.6" stroke="#b5c435" stroke-width="1.5"/><path d="M274.3 580.6L271.2 579.5L267.6 578.5L263.6 577.7L259.2 577.2L254.6 576.9L250 576.8L245.3 577L240.8 577.4L236.5 578L232.5 578.8L229 579.9L226.1 581.1L223.7 582.4L222 583.9L221 585.4L220.7 587L221.2 588.5L222.4 590L224.2 591.4L226.8 592.8L229.9 593.9L233.5 594.9L237.5 595.7L241.9 596.2L246.5 596.5L251.1 596.6L255.8 596.4L260.3 596L264.6 595.4L268.6 594.6L272.1 593.5L275 592.3L277.4 591L279.1 589.5L280.1 588L280.4 586.4L279.9 584.9L278.7 583.4L276.9 582L274.3 580.6" stroke="#ddbd30" stroke-width="1.4"/><path d="M278.9 579.5L275.2 578.1L270.9 576.9L266.1 576L260.9 575.3L255.4 575L249.8 574.9L244.3 575.1L238.9 575.5L233.8 576.3L229 577.3L224.9 578.6L221.3 580L218.5 581.6L216.5 583.4L215.3 585.2L214.9 587L215.5 588.9L216.9 590.7L219.1 592.4L222.2 593.9L225.9 595.3L230.2 596.5L235 597.4L240.2 598.1L245.7 598.4L251.3 598.5L256.8 598.3L262.2 597.9L267.3 597.1L272.1 596.1L276.2 594.8L279.8 593.4L282.6 591.8L284.6 590L285.8 588.2L286.2 586.4L285.6 584.5L284.2 582.7L282 581L278.9 579.5" stroke="#f5bf35" stroke-width="1.5"/><path d="M284.1 578.2L279.7 576.5L274.6 575.2L268.9 574.1L262.8 573.3L256.3 572.8L249.7 572.7L243.1 572.9L236.7 573.5L230.7 574.4L225.1 575.6L220.2 577.1L216 578.8L212.7 580.7L210.3 582.7L208.8 584.9L208.5 587.1L209.1 589.3L210.8 591.4L213.4 593.4L217 595.2L221.4 596.9L226.5 598.2L232.2 599.3L238.3 600.1L244.8 600.6L251.4 600.7L258 600.5L264.4 599.9L270.4 599L276 597.8L280.9 596.3L285.1 594.6L288.4 592.7L290.8 590.7L292.3 588.5L292.6 586.3L292 584.1L290.3 582L287.7 580L284.1 578.2" stroke="#fec934" stroke-width="1.6"/><path d="M290.9 576.4L285.6 574.5L279.5 572.8L272.6 571.5L265.2 570.6L257.5 570L249.6 569.9L241.7 570.2L234 570.9L226.7 571.9L220 573.4L214.1 575.2L209.1 577.2L205 579.5L202.2 582L200.5 584.5L200 587.2L200.8 589.8L202.8 592.3L206 594.7L210.2 597L215.5 598.9L221.6 600.6L228.5 601.9L235.9 602.8L243.6 603.4L251.5 603.5L259.4 603.2L267.1 602.5L274.4 601.5L281.1 600L287 598.2L292 596.2L296.1 593.9L298.9 591.4L300.6 588.9L301.1 586.2L300.3 583.6L298.3 581.1L295.1 578.7L290.9 576.4" stroke="#fad82d" stroke-width="1.8"/><path d="M277.1 568.4L268.2 567.3L258.9 566.6L249.3 566.5L239.8 566.8M195.8 578L192.3 581L190.3 584.1L189.7 587.3L190.6 590.4M224 605L232.9 606.1L242.2 606.8L251.8 606.9L261.3 606.6M305.3 595.4L308.8 592.4L310.8 589.3L311.4 586.1L310.5 583" stroke="#f7e327" stroke-width="2.0"/></g>
<g transform="scale(.1)" fill="currentColor" stroke="currentColor" stroke-width="5" stroke-linejoin="bevel"><path d="M2583 5009l23-26l-17 10l-22 59zM2621 5011l23 44l-16-60l-23-12z" color="#f8dd2a"/><path d="M2562 4997l23 12l-17 43l-23-45z" color="#f5e725"/><path d="M2600 5069l23-58l-17-28l-23 26z" color="#f8c335"/><path d="M2540 5023l23-26l-17 10l-22 59zM2578 5025l23 44l-17-61l-22-11zM2616 5027l23-27l-17 10l-22 59zM2654 5028l23 44l-16-60l-23-12z" color="#f9db2b"/><path d="M2557 5084l23-59l-18-28l-22 26zM2633 5087l23-59l-17-28l-23 26z" color="#f7c135"/><path d="M2496 5038l23-27l-16 9l-23 60z" color="#f9d92c"/><path d="M2671 5018l23 11l-17 43l-23-44z" color="#f6e526"/><path d="M2534 5040l23 44l-16-62l-23-11zM2572 5042l24-27l-17 9l-22 60zM2611 5044l23 43l-17-61l-22-11zM2649 5045l23-27l-17 9l-22 60z" color="#f9d92c"/><path d="M2513 5099l23-59l-17-29l-23 26z" color="#f5c035"/><path d="M2687 5046l23 44l-17-61l-22-11z" color="#f9d92c"/><path d="M2552 5030l22 12l-17 42l-23-44z" color="#f7e327"/><path d="M2590 5103l23-60l-18-28l-22 26z" color="#f5c035"/><path d="M2453 5053l23-27l-17 8l-22 60zM2491 5055l23 44l-17-62l-22-11z" color="#fad72d"/><path d="M2666 5105l23-59l-17-28l-23 26z" color="#f5c035"/><path d="M2529 5058l23-28l-17 9l-22 60z" color="#fad62d"/><path d="M2704 5035l23 12l-17 43l-23-44z" color="#f6e327"/><path d="M2567 5060l23 43l-16-62l-23-11z" color="#fad62d"/><path d="M2432 5040l23 12l-18 42l-22-45z" color="#f7e128"/><path d="M2605 5061l24-27l-17 9l-23 60z" color="#fad62d"/><path d="M2470 5114l23-59l-18-29l-22 26z" color="#f4bf35"/><path d="M2644 5063l23 42l-17-61l-23-10z" color="#fad62d"/><path d="M2682 5064l23-28l-17 9l-22 60z" color="#fad72d"/><path d="M2546 5119l23-60l-17-29l-23 27z" color="#f3be35"/><path d="M2409 5068l24-27l-17 8l-23 59z" color="#fad52e"/><path d="M2720 5064l23 43l-17-61l-22-10z" color="#fad72d"/><path d="M2447 5071l23 43l-16-63l-23-11z" color="#fbd42e"/><path d="M2623 5122l22-60l-17-29l-23 28z" color="#f3be35"/><path d="M2486 5074l23-28l-17 8l-22 60z" color="#fbd32f"/><path d="M2661 5052l23 11l-18 42l-22-43z" color="#f7e029"/><path d="M2524 5076l23 43l-17-63l-22-10z" color="#fbd32f"/><path d="M2699 5124l23-60l-18-29l-22 28z" color="#f4bf35"/><path d="M2562 5078l23-28l-17 8l-22 61z" color="#fbd32f"/><path d="M2427 5129l22-59l-17-30l-23 27z" color="#f2bd35"/><path d="M2737 5054l23 10l-17 43l-23-43z" color="#f7e128"/><path d="M2600 5080l23 42l-16-62l-23-10z" color="#fbd32f"/><path d="M2465 5062l22 11l-17 41l-23-44z" color="#f8dd2a"/><path d="M2638 5081l24-28l-17 8l-23 61z" color="#fbd32f"/><path d="M2503 5136l23-61l-18-29l-22 27z" color="#f1bc35"/><path d="M2366 5082l23-27l-17 8l-22 59zM2677 5082l23 42l-17-62l-23-9z" color="#fbd32f"/><path d="M2404 5086l23 43l-17-63l-22-11z" color="#fbd230"/><path d="M2715 5082l23-28l-17 9l-22 61z" color="#fbd42e"/><path d="M2579 5140l23-61l-17-29l-23 27z" color="#f1bc35"/><path d="M2442 5090l23-28l-16 7l-23 60z" color="#fcd030"/><path d="M2753 5082l23 42l-17-61l-22-9z" color="#fad52e"/><path d="M2617 5070l23 10l-17 42l-23-43z" color="#f9dc2b"/><path d="M2480 5093l23 42l-16-63l-23-10z" color="#fccf31"/><path d="M2345 5070l23 12l-18 40l-22-45z" color="#f8dd2a"/><path d="M2656 5142l22-61l-17-29l-23 28z" color="#f1bc35"/><path d="M2519 5096l23-29l-17 8l-22 60z" color="#fccf31"/><path d="M2383 5145l23-59l-17-31l-23 26z" color="#f1bb35"/><path d="M2694 5072l23 10l-18 42l-22-43z" color="#f8dd2a"/><path d="M2557 5098l23 42l-17-63l-22-10z" color="#fcce31"/><path d="M2732 5143l23-61l-18-28l-22 28z" color="#f2bd35"/><path d="M2595 5100l23-29l-17 8l-22 61z" color="#fcce31"/><path d="M2459 5153l23-61l-17-30l-23 27z" color="#efba35"/><path d="M2322 5097l24-27l-17 7l-23 59z" color="#fcd130"/><path d="M2633 5101l23 41l-17-62l-22-9zM2361 5102l23 43l-17-64l-23-11zM2671 5102l23-30l-16 9l-23 61z" color="#fccf31"/><path d="M2536 5158l23-61l-18-30l-22 28z" color="#edba35"/><path d="M2399 5106l23-28l-17 7l-22 60z" color="#fdcd32"/><path d="M2709 5102l23 41l-16-62l-23-9z" color="#fcd030"/><path d="M2574 5090l23 9l-18 41l-22-43z" color="#fad72d"/><path d="M2437 5110l23 43l-17-65l-22-10z" color="#fdcc32"/><path d="M2748 5101l23-29l-17 9l-22 62z" color="#fbd230"/><path d="M2612 5162l23-62l-17-30l-23 29z" color="#edba35"/><path d="M2475 5114l23-29l-17 7l-22 61z" color="#fdcb33"/><path d="M2340 5160l22-59l-17-31l-23 26z" color="#f0ba36"/><path d="M2786 5100l23 42l-17-61l-22-9z" color="#fbd32f"/><path d="M2513 5117l23 41l-16-64l-23-9z" color="#feca33"/><path d="M2689 5162l22-61l-17-29l-23 29z" color="#efba35"/><path d="M2552 5120l23-30l-17 7l-23 61z" color="#fec934"/><path d="M2416 5170l23-60l-18-32l-22 27z" color="#e9bb34"/><path d="M2279 5110l23-26l-17 6l-22 59z" color="#fccf31"/><path d="M2590 5121l23 41l-17-64l-22-8z" color="#fec934"/><path d="M2317 5116l23 44l-17-65l-22-11z" color="#fdcd32"/><path d="M2765 5161l23-61l-18-28l-22 28z" color="#f1bb35"/><path d="M2628 5122l23-30l-17 7l-22 63z" color="#feca33"/><path d="M2492 5178l23-62l-17-31l-23 28z" color="#e5bc33"/><path d="M2355 5122l24-28l-17 6l-23 60zM2666 5123l23 39l-17-62l-22-8z" color="#fdcb33"/><path d="M2394 5127l22 43l-16-65l-23-11z" color="#fdc934"/><path d="M2704 5122l23-31l-17 9l-22 62z" color="#fdcc32"/><path d="M2569 5183l22-63l-17-30l-23 29z" color="#e3bc32"/><path d="M2432 5133l23-30l-17 6l-22 61z" color="#fcc734"/><path d="M2296 5174l23-59l-17-31l-23 25z" color="#edba35"/><path d="M2742 5121l23 40l-16-61l-23-9z" color="#fdcd32"/><path d="M2470 5137l23 41l-17-65l-22-10z" color="#fbc734"/><path d="M2781 5120l23-30l-17 9l-22 62z" color="#fccf31"/><path d="M2645 5184l23-63l-18-29l-22 29z" color="#e5bc33"/><path d="M2508 5141l23-31l-17 6l-22 62z" color="#fbc634"/><path d="M2373 5186l22-60l-17-32l-23 27z" color="#e4bc32"/><path d="M2819 5118l23 41l-17-61l-22-8z" color="#fcd130"/><path d="M2236 5123l23-26l-17 6l-22 59z" color="#fcce31"/><path d="M2547 5143l22 40l-17-65l-22-8z" color="#fac534"/><path d="M2274 5130l23 44l-17-65l-22-12z" color="#fdcb33"/><path d="M2721 5183l23-63l-17-29l-23 30z" color="#e9bb34"/><path d="M2585 5145l23-32l-17 7l-23 63z" color="#fac534"/><path d="M2449 5197l23-61l-18-33l-22 28z" color="#dcbd30"/><path d="M2312 5137l23-27l-17 5l-22 59z" color="#fdc934"/><path d="M2623 5146l23 38l-17-63l-23-8z" color="#fbc634"/><path d="M2350 5144l23 42l-17-66l-22-10z" color="#fcc734"/><path d="M2798 5180l22-63l-17-28l-23 30z" color="#f0ba36"/><path d="M2215 5109l22 13l-17 40l-23-46z" color="#f9d92c"/><path d="M2661 5145l23-32l-17 8l-22 63z" color="#fbc734"/><path d="M2525 5205l23-63l-17-32l-23 29z" color="#d8be2f"/><path d="M2389 5150l22-29l-16 5l-23 60z" color="#fac534"/><path d="M2836 5107l23 9l-18 43l-22-42z" color="#f9db2b"/><path d="M2253 5187l23-58l-18-32l-22 25z" color="#ebbb34"/><path d="M2699 5144l23 39l-17-63l-22-7z" color="#fcc734"/><path d="M2427 5156l22 41l-16-66l-23-10z" color="#f8c334"/><path d="M2737 5142l23-31l-17 8l-22 64z" color="#fdc934"/><path d="M2602 5208l22-64l-17-31l-23 31z" color="#d8be2f"/><path d="M2465 5162l23-31l-17 4l-22 62z" color="#f7c235"/><path d="M2329 5202l23-59l-17-34l-23 27z" color="#dfbd31"/><path d="M2775 5140l23 39l-16-61l-23-7z" color="#fdcb33"/><path d="M2192 5135l23-26l-17 6l-22 58z" color="#fcce31"/><path d="M2503 5166l23 39l-17-66l-22-8z" color="#f6c135"/><path d="M2367 5139l23 10l-17 37l-23-44z" color="#fdcc33"/><path d="M2813 5138l24-31l-17 10l-23 62z" color="#fdcd32"/><path d="M2230 5142l23 45l-16-65l-23-13z" color="#fdcb33"/><path d="M2678 5207l23-64l-18-30l-22 31z" color="#dcbd30"/><path d="M2541 5169l23-32l-17 4l-22 64z" color="#f6c135"/><path d="M2406 5216l22-61l-17-34l-23 28z" color="#d4bf2e"/><path d="M2852 5135l23 40l-17-60l-23-8z" color="#fccf31"/><path d="M2269 5150l23-26l-17 4l-23 59z" color="#fcc834"/><path d="M2580 5171l22 37l-17-65l-22-6z" color="#f6c135"/><path d="M2307 5159l23 43l-17-67l-23-11z" color="#fac534"/><path d="M2754 5203l23-64l-17-28l-23 30z" color="#e4bc32"/><path d="M2171 5120l23 14l-17 39l-23-46z" color="#f9d92c"/><path d="M2618 5171l22-33l-16 6l-23 64z" color="#f6c135"/><path d="M2482 5228l23-63l-18-34l-22 29z" color="#ccc02c"/><path d="M2345 5167l23-28l-17 3l-22 60z" color="#f8c334"/><path d="M2209 5199l23-57l-17-33l-23 25z" color="#eabb34"/><path d="M2656 5170l22 37l-16-64l-23-5z" color="#f7c235"/><path d="M2383 5175l23 41l-17-67l-22-10z" color="#f6c135"/><path d="M2831 5197l22-63l-17-27l-23 30z" color="#edba35"/><path d="M2694 5168l23-33l-17 7l-22 65z" color="#f8c334"/><path d="M2558 5234l23-65l-17-33l-23 32z" color="#c9c12b"/><path d="M2422 5182l22-30l-17 3l-22 61z" color="#f4bf35"/><path d="M2869 5123l23 9l-18 44l-22-42z" color="#f9da2c"/><path d="M2286 5216l22-58l-17-34l-23 25z" color="#dcbd30"/><path d="M2732 5165l23 38l-17-62l-22-6z" color="#fac534"/><path d="M2149 5145l23-25l-17 6l-22 58z" color="#fcce31"/><path d="M2460 5189l22 39l-16-68l-23-8z" color="#f2bd35"/><path d="M2770 5162l23-33l-17 9l-22 65z" color="#fcc734"/><path d="M2187 5153l23 46l-17-66l-22-13z" color="#fdcb33"/><path d="M2635 5235l22-66l-17-32l-23 33z" color="#ccc02c"/><path d="M2498 5194l23-33l-17 3l-23 64z" color="#f1bc35"/><path d="M2362 5234l23-60l-18-35l-22 27z" color="#cec02c"/><path d="M2808 5158l23 39l-17-61l-22-7z" color="#fdc934"/><path d="M2225 5162l23-25l-17 4l-22 58z" color="#fcc734"/><path d="M2536 5198l23 36l-17-67l-22-6z" color="#f1bb35"/><path d="M2846 5155l23-32l-16 11l-23 63z" color="#fdcb33"/><path d="M2263 5172l23 44l-17-67l-22-12z" color="#fac534"/><path d="M2711 5230l23-66l-18-30l-22 33z" color="#d4bf2e"/><path d="M2574 5199l23-35l-17 5l-22 65z" color="#f1bb35"/><path d="M2438 5251l23-63l-17-36l-23 29z" color="#bfc32e"/><path d="M2884 5151l24 40l-17-60l-23-8z" color="#fcce31"/><path d="M2302 5182l23-27l-17 2l-23 59z" color="#f7c235"/><path d="M2749 5155l23 6l-18 42l-22-39z" color="#fdcc33"/><path d="M2166 5209l23-56l-18-33l-22 24z" color="#ebbb34"/><path d="M2612 5199l23 35l-17-65l-22-5z" color="#f1bc35"/><path d="M2340 5192l22 42l-16-69l-23-11z" color="#f4bf35"/><path d="M2787 5222l23-65l-17-28l-23 32z" color="#dfbd31"/><path d="M2204 5147l23 14l-18 38l-22-47z" color="#fbd130"/><path d="M2651 5197l22-35l-17 6l-22 66z" color="#f2bd35"/><path d="M2515 5262l22-66l-17-35l-23 32z" color="#b5c434"/><path d="M2378 5202l23-30l-17 1l-22 61z" color="#f1bc35"/><path d="M2242 5228l23-57l-17-35l-23 25z" color="#dbbe30"/><path d="M2689 5194l22 35l-16-63l-23-4z" color="#f4bf35"/><path d="M2105 5154l23-24l-17 6l-22 57z" color="#fccf31"/><path d="M2416 5211l23 40l-17-70l-22-9z" color="#edba35"/><path d="M2864 5213l22-63l-17-27l-23 31z" color="#ebbb34"/><path d="M2727 5190l23-35l-17 8l-22 67z" color="#f6c135"/><path d="M2143 5163l23 46l-16-65l-23-14z" color="#fdcb33"/><path d="M2591 5265l23-67l-18-34l-22 34z" color="#b5c434"/><path d="M2455 5219l22-33l-17 1l-22 64z" color="#e7bb33"/><path d="M2902 5139l22 8l-17 44l-23-41z" color="#f9d92c"/><path d="M2319 5250l22-59l-17-37l-23 26z" color="#c9c12b"/><path d="M2765 5185l23 37l-17-62l-22-5z" color="#f8c334"/><path d="M2182 5172l23-24l-17 4l-23 57z" color="#fcc834"/><path d="M2629 5193l23 3l-17 39l-23-37z" color="#f5c035"/><path d="M2493 5225l22 37l-17-70l-22-6z" color="#e2bc32"/><path d="M2803 5180l23-33l-17 10l-22 65zM2220 5183l23 45l-17-67l-22-13z" color="#fac534"/><path d="M2667 5261l23-68l-17-31l-23 34z" color="#bfc32e"/><path d="M2084 5139l23 15l-17 39l-23-47z" color="#f9db2b"/><path d="M2531 5230l23-36l-17 2l-23 66z" color="#e0bd31"/><path d="M2395 5272l23-62l-18-38l-22 28z" color="#b3c536"/><path d="M2841 5175l23 38l-17-60l-22-6z" color="#fcc834"/><path d="M2258 5194l23-26l-17 2l-22 58z" color="#f6c135"/><path d="M2122 5218l23-56l-17-32l-23 24z" color="#edba35"/><path d="M2569 5231l23 34l-17-68l-23-3z" color="#e0bd31"/><path d="M2879 5170l23-31l-16 11l-23 63z" color="#fdcb33"/><path d="M2296 5206l23 44l-17-70l-22-12z" color="#f3be35"/><path d="M2744 5251l22-67l-17-29l-23 34z" color="#cec02c"/><path d="M2607 5230l23-37l-17 4l-22 68z" color="#e2bc32"/><path d="M2471 5290l23-66l-17-38l-23 32z" color="#a0c842"/><path d="M2917 5166l23 40l-16-59l-23-8z" color="#fcce31"/><path d="M2335 5218l22-28l-17 0l-22 60z" color="#efba35"/><path d="M2199 5238l23-56l-18-35l-22 24z" color="#dcbd30"/><path d="M2645 5227l23 33l-17-65l-22-2z" color="#e7bb33"/><path d="M2062 5162l23-23l-17 7l-22 56z" color="#fcd130"/><path d="M2373 5231l22 41l-16-72l-23-10z" color="#e5bc33"/><path d="M2820 5239l23-65l-17-27l-23 32z" color="#dcbd30"/><path d="M2684 5223l22-38l-17 7l-22 68z" color="#edba35"/><path d="M2100 5171l23 47l-17-65l-22-14z" color="#fdcd32"/><path d="M2548 5299l22-69l-17-36l-23 34z" color="#99c947"/><path d="M2411 5243l23-32l-17-2l-22 63z" color="#dbbe30"/><path d="M2858 5163l23 6l-17 44l-23-39z" color="#fbd130"/><path d="M2275 5262l23-57l-17-37l-23 25z" color="#c8c12b"/><path d="M2722 5217l22 34l-16-63l-23-3z" color="#f1bc35"/><path d="M2138 5181l23-24l-17 4l-22 57z" color="#fdc934"/><path d="M2449 5253l23 37l-17-73l-22-6z" color="#d2bf2d"/><path d="M2896 5229l23-64l-17-26l-23 31z" color="#eabb34"/><path d="M2760 5210l23-36l-17 9l-23 68z" color="#f4bf35"/><path d="M2176 5192l23 46l-16-67l-23-14z" color="#fac534"/><path d="M2624 5296l23-70l-18-33l-22 36z" color="#a0c842"/><path d="M2041 5147l23 15l-18 40l-22-47z" color="#f8dd2a"/><path d="M2488 5261l22-36l-17-1l-22 66z" color="#ccc12c"/><path d="M2935 5153l22 8l-17 45l-23-41z" color="#f9d92c"/><path d="M2352 5290l22-60l-17-40l-23 27z" color="#aac63c"/><path d="M2798 5203l23 36l-17-61l-23-4zM2215 5204l23-25l-17 2l-23 57z" color="#f7c235"/><path d="M2079 5226l23-55l-18-32l-22 23z" color="#f0ba36"/><path d="M2526 5266l22 33l-17-71l-22-3z" color="#c9c12b"/><path d="M2836 5197l23-34l-17 10l-22 66z" color="#fac534"/><path d="M2253 5217l23 45l-17-70l-22-13z" color="#f3be35"/><path d="M2700 5285l23-70l-17-30l-23 36z" color="#b3c536"/><path d="M2117 5165l23 15l-17 38l-23-48z" color="#fbd42e"/><path d="M2564 5268l22-40l-16 1l-23 70z" color="#c9c12b"/><path d="M2428 5316l23-64l-18-41l-22 30z" color="#8dcb4f"/><path d="M2874 5190l23 38l-17-59l-22-6z" color="#fcc734"/><path d="M2291 5231l23-26l-17-1l-22 58z" color="#edba35"/><path d="M2155 5246l23-55l-17-34l-23 23z" color="#dfbd31"/><path d="M2602 5266l22 30l-16-68l-23 0z" color="#ccc12c"/><path d="M2018 5170l24-23l-17 7l-23 56z" color="#fbd32f"/><path d="M2912 5185l23-32l-17 12l-22 63z" color="#fdcb33"/><path d="M2329 5247l23 43l-17-73l-22-12z" color="#e0bd31"/><path d="M2777 5270l22-68l-17-28l-23 35z" color="#c9c12b"/><path d="M2640 5261l23-40l-17 4l-22 71z" color="#d2bf2d"/><path d="M2056 5178l23 48l-16-65l-23-14z" color="#fccf31"/><path d="M2504 5334l23-69l-17-40l-23 34z" color="#7acb5f"/><path d="M2950 5180l23 40l-16-59l-23-8z" color="#fcce31"/><path d="M2368 5262l22-29l-17-4l-22 61z" color="#d2bf2d"/><path d="M2232 5272l22-56l-17-37l-22 23z" color="#c9c12b"/><path d="M2678 5254l23 31l-17-64l-22 0z" color="#dbbe30"/><path d="M2095 5188l23-23l-17 5l-22 56z" color="#fdcb33"/><path d="M2406 5277l22 39l-16-75l-23-8z" color="#c5c22a"/><path d="M2853 5255l23-66l-18-26l-22 33z" color="#dbbe30"/><path d="M2716 5246l23-39l-17 8l-22 70z" color="#e5bc33"/><path d="M2133 5199l23 47l-17-67l-22-14z" color="#fcc734"/><path d="M2581 5337l22-73l-17-36l-23 38z" color="#7acb5f"/><path d="M1997 5155l23 15l-17 41l-23-48z" color="#f8df29"/><path d="M2444 5290l23-34l-17-5l-23 65z" color="#b6c434"/><path d="M2891 5177l23 7l-17 45l-23-40z" color="#fbd130"/><path d="M2308 5303l23-57l-18-41l-22 25z" color="#a7c73e"/><path d="M2755 5237l22 33l-17-62l-22-1z" color="#efba35"/><path d="M2171 5211l23-23l-17 2l-22 56z" color="#f8c334"/><path d="M2036 5233l22-55l-17-31l-23 23z" color="#f1bb35"/><path d="M2482 5301l23 33l-17-75l-22-3z" color="#abc63b"/><path d="M2929 5242l23-63l-17-26l-23 31z" color="#ebbb34"/><path d="M2793 5227l22-36l-16 10l-23 69z" color="#f3be35"/><path d="M2209 5225l23 47l-17-70l-22-14z" color="#f4bf35"/><path d="M2657 5326l23-73l-18-32l-22 39z" color="#8dcb4f"/><path d="M2521 5307l22-40l-17-3l-22 70z" color="#a5c73f"/><path d="M2384 5338l23-62l-17-44l-23 29z" color="#7fcb5b"/><path d="M2831 5219l23 35l-17-59l-23-4z" color="#f6c135"/><path d="M2248 5240l23-24l-17-1l-23 57z" color="#efba35"/><path d="M2112 5253l23-55l-18-33l-22 22z" color="#e4bc32"/><path d="M2559 5309l22 28l-17-71l-22 1z" color="#a5c73f"/><path d="M1975 5177l23-22l-17 7l-22 56z" color="#fad52e"/><path d="M2869 5211l23-34l-17 12l-22 66z" color="#fac534"/><path d="M2286 5258l22 45l-16-73l-23-14z" color="#e0bd31"/><path d="M2733 5306l23-71l-17-28l-23 38z" color="#aac63c"/><path d="M2597 5306l22-44l-17 2l-22 73z" color="#abc63b"/><path d="M2013 5185l23 48l-17-64l-22-14z" color="#fbd230"/><path d="M2461 5368l23-68l-18-44l-22 33z" color="#5bcc77"/><path d="M2907 5204l23 38l-17-59l-22-6z" color="#fcc834"/><path d="M2324 5276l23-26l-17-5l-22 58z" color="#cfc02d"/><path d="M2188 5278l23-54l-17-37l-23 23z" color="#cec02c"/><path d="M2635 5299l22 27l-16-67l-23 3z" color="#b6c434"/><path d="M2051 5194l23-22l-17 5l-22 56z" color="#fdcd32"/><path d="M2945 5197l23-31l-17 12l-22 64z" color="#fdcb33"/><path d="M2362 5296l23 42l-17-78l-22-10z" color="#bbc331"/><path d="M2810 5286l22-69l-17-26l-23 35z" color="#c8c12b"/><path d="M2673 5289l23-43l-17 6l-22 74z" color="#c5c22a"/><path d="M2089 5204l23 49l-16-66l-23-15z" color="#fdc934"/><path d="M2537 5382l23-74l-18-41l-22 39z" color="#50cb81"/><path d="M2983 5192l23 41l-16-59l-23-8z" color="#fccf31"/><path d="M2401 5315l22-32l-17-8l-22 63z" color="#a5c73f"/><path d="M2848 5205l22 5l-17 45l-23-37z" color="#fdc834"/><path d="M2265 5312l22-55l-17-41l-23 23z" color="#aac63c"/><path d="M2711 5277l23 29l-17-62l-23 2z" color="#d2bf2d"/><path d="M2127 5216l24-22l-17 3l-23 56z" color="#fac534"/><path d="M1992 5240l23-55l-17-30l-23 22z" color="#f2bd35"/><path d="M2439 5333l22 35l-17-79l-22-6z" color="#91ca4d"/><path d="M2886 5268l23-65l-18-26l-22 33z" color="#dcbd30"/><path d="M2749 5265l23-40l-17 10l-22 71z" color="#e0bd31"/><path d="M2166 5230l23 48l-17-69l-22-15z" color="#f6c135"/><path d="M2613 5375l23-78l-17-35l-23 43z" color="#5bcc77"/><path d="M2477 5347l23-40l-17-8l-23 69z" color="#81cb59"/><path d="M2924 5190l23 7l-17 45l-23-39z" color="#fbd22f"/><path d="M2341 5353l23-58l-18-45l-22 25z" color="#7acb5f"/><path d="M2787 5253l23 32l-17-59l-22-1z" color="#edba35"/><path d="M2204 5246l23-22l-17-1l-22 55z" color="#f1bc35"/><path d="M2068 5258l23-54l-17-33l-23 22z" color="#e9bb34"/><path d="M2515 5355l23 27l-17-77l-23 2z" color="#78cb60"/><path d="M2962 5254l23-62l-17-26l-23 31z" color="#edba35"/><path d="M1931 5185l24-23l-17 8l-23 56z" color="#fad72d"/><path d="M2825 5242l23-37l-16 12l-23 68z" color="#f3be35"/><path d="M2242 5264l23 48l-17-73l-22-16z" color="#e5bc33"/><path d="M2690 5351l22-75l-17-30l-23 42z" color="#7fcb5b"/><path d="M2553 5357l23-47l-17-3l-22 75z" color="#78cb60"/><path d="M1969 5192l24 48l-17-63l-23-15z" color="#fbd42e"/><path d="M2417 5396l23-64l-17-49l-23 30z" color="#4bca86"/><path d="M2864 5232l22 36l-16-59l-23-3z" color="#f7c235"/><path d="M2281 5284l23-23l-18-5l-22 56z" color="#d2bf2d"/><path d="M2145 5283l23-54l-18-35l-22 21z" color="#d4bf2e"/><path d="M2592 5352l22 22l-17-70l-22 6z" color="#81cb59"/><path d="M2008 5200l23-22l-17 6l-22 56z" color="#fcd030"/><path d="M2902 5223l23-33l-17 12l-22 66z" color="#fac534"/><path d="M2319 5307l22 46l-16-79l-23-13z" color="#bbc331"/><path d="M2766 5323l23-72l-17-26l-23 39z" color="#a7c73e"/><path d="M2630 5341l22-48l-17 4l-22 77z" color="#91ca4d"/><path d="M2046 5209l23 49l-17-65l-22-15z" color="#fdcc32"/><path d="M2494 5428l22-74l-17-47l-23 38z" color="#32c69f"/><path d="M2940 5215l23 39l-17-58l-22-6z" color="#fdc934"/><path d="M2357 5331l23-27l-17-10l-23 59z" color="#9fc843"/><path d="M2804 5239l23 1l-17 46l-23-34z" color="#f5c035"/><path d="M2221 5316l23-53l-17-40l-23 21z" color="#b3c536"/><path d="M2668 5327l22 24l-17-64l-22 6z" color="#a5c73f"/><path d="M2084 5220l23-21l-17 4l-22 55z" color="#fcc734"/><path d="M2978 5209l23-30l-17 12l-22 63z" color="#fdcd32"/><path d="M1949 5247l22-55l-17-30l-23 23z" color="#f4bf35"/><path d="M2395 5356l23 40l-17-83l-22-9z" color="#81cb59"/><path d="M2843 5298l22-67l-17-26l-23 36z" color="#c9c12b"/><path d="M2706 5311l23-45l-17 9l-23 76z" color="#bbc331"/><path d="M2122 5233l23 50l-16-68l-23-16z" color="#f8c334"/><path d="M2570 5431l23-81l-18-40l-22 45z" color="#32c69f"/><path d="M3016 5204l23 41l-17-58l-22-8z" color="#fcd130"/><path d="M1987 5183l23 17l-18 40l-22-49z" color="#f8dd2a"/><path d="M2434 5380l22-36l-17-13l-22 65z" color="#64cc70"/><path d="M2298 5360l22-54l-17-45l-23 22z" color="#7fcb5b"/><path d="M2744 5294l23 29l-17-60l-23 3z" color="#cfc02d"/><path d="M2160 5248l24-20l-17 0l-23 55z" color="#f4bf35"/><path d="M2025 5263l23-54l-18-32l-22 22z" color="#efba35"/><path d="M2472 5399l22 29l-17-83l-22-1z" color="#50cb81"/><path d="M2919 5279l22-65l-17-24l-23 32z" color="#dfbd31"/><path d="M1888 5192l23-23l-17 9l-22 56z" color="#f9d92c"/><path d="M2782 5279l23-40l-17 12l-22 72z" color="#e0bd31"/><path d="M2199 5266l23 50l-17-72l-22-17z" color="#edba35"/><path d="M2646 5406l23-81l-17-32l-23 47z" color="#4bca86"/><path d="M2510 5411l22-48l-16-10l-23 75z" color="#47ca8a"/><path d="M1926 5198l23 49l-17-63l-22-15z" color="#fad72d"/><path d="M2374 5414l23-59l-18-51l-22 25z" color="#45c98c"/><path d="M2820 5265l23 33l-17-58l-22-1z" color="#efba35"/><path d="M2237 5287l23-21l-17-4l-22 54z" color="#dbbe30"/><path d="M2101 5286l23-53l-17-34l-23 21z" color="#dcbd30"/><path d="M2548 5412l22 19l-16-76l-23 8z" color="#47ca8a"/><path d="M2995 5266l23-63l-17-25l-23 31z" color="#f0ba36"/><path d="M1964 5205l24-21l-17 7l-23 56z" color="#fbd32f"/><path d="M2858 5253l23-36l-17 13l-22 68z" color="#f4bf35"/><path d="M2275 5310l23 50l-17-78l-22-16z" color="#c5c22a"/><path d="M2723 5369l22-76l-17-27l-23 44z" color="#7acb5f"/><path d="M2139 5229l23 19l-17 35l-23-51z" color="#fcc734"/><path d="M2586 5404l23-53l-17-1l-22 81z" color="#50cb81"/><path d="M2002 5214l23 49l-16-64l-23-15z" color="#fccf31"/><path d="M2450 5467l23-69l-17-54l-23 34z" color="#18c0b2"/><path d="M2896 5242l23 37l-16-58l-23-4z" color="#f8c334"/><path d="M1867 5177l23 15l-18 42l-22-47z" color="#f6e526"/><path d="M2314 5337l23-22l-18-10l-22 55z" color="#a5c73f"/><path d="M2761 5280l22-2l-17 45l-23-29z" color="#e2bc32"/><path d="M2178 5317l22-52l-17-38l-22 20z" color="#bfc32e"/><path d="M2625 5388l22 18l-17-67l-22 12z" color="#64cc70"/><path d="M2041 5224l23-21l-17 5l-22 55z" color="#fdcb33"/><path d="M2934 5233l24-32l-17 13l-22 65z" color="#fcc734"/><path d="M1905 5253l23-55l-17-29l-23 23z" color="#f5c035"/><path d="M2352 5367l22 47l-16-85l-23-14z" color="#81cb59"/><path d="M2799 5335l23-71l-18-25l-22 39z" color="#aac63c"/><path d="M2663 5368l22-51l-17 8l-22 81z" color="#81cb59"/><path d="M2079 5235l23 51l-17-67l-22-16z" color="#fbc734"/><path d="M2527 5495l22-84l-17-48l-23 46z" color="#0cbbc2"/><path d="M2973 5226l23 40l-17-58l-23-7z" color="#fdcb33"/><path d="M2390 5399l23-28l-17-17l-23 59z" color="#59cc79"/><path d="M2254 5360l23-50l-18-44l-22 19z" color="#8dcb4f"/><path d="M2701 5346l22 23l-17-60l-22 8z" color="#9fc843"/><path d="M2117 5249l23-20l-17 3l-22 54z" color="#f7c235"/><path d="M3011 5220l23-30l-17 13l-22 63z" color="#fccf31"/><path d="M1982 5268l22-54l-17-31l-23 22z" color="#f1bc35"/><path d="M2428 5431l23 36l-17-89l-22-7z" color="#3ec893"/><path d="M2875 5308l23-67l-17-24l-23 35z" color="#cec02c"/><path d="M1844 5200l24-23l-17 9l-23 56z" color="#f9db2b"/><path d="M2739 5325l22-44l-16 12l-23 76z" color="#bbc331"/><path d="M2155 5266l23 51l-17-70l-22-18z" color="#f2bd35"/><path d="M2603 5474l22-88l-17-35l-22 52z" color="#18c0b2"/><path d="M3049 5215l23 42l-17-58l-22-9z" color="#fbd32f"/><path d="M2020 5207l22 17l-17 39l-23-49z" color="#fad82d"/><path d="M2467 5458l22-42l-17-19l-22 70z" color="#27c3a7"/><path d="M2913 5227l23 5l-17 47l-23-37z" color="#fdcc33"/><path d="M1883 5205l23 48l-17-61l-22-15z" color="#f9d92c"/><path d="M2330 5418l23-51l-17-52l-23 20z" color="#4bca86"/><path d="M2777 5306l23 29l-17-58l-23 4z" color="#d2bf2d"/><path d="M2193 5285l24-19l-17-2l-23 53z" color="#e7bb33"/><path d="M2058 5288l23-52l-18-33l-22 20z" color="#e5bc33"/><path d="M2505 5475l22 19l-17-85l-22 7z" color="#19c0b2"/><path d="M2952 5289l22-64l-17-24l-23 32z" color="#e4bc32"/><path d="M1921 5212l23-22l-17 8l-22 55z" color="#fad62d"/><path d="M2815 5289l23-39l-17 13l-22 72z" color="#e5bc33"/><path d="M2232 5308l22 52l-16-75l-23-19z" color="#d2bf2d"/><path d="M2679 5427l23-83l-17-27l-23 50z" color="#45c98c"/><path d="M2096 5230l23 19l-18 37l-22-51z" color="#fdcc33"/><path d="M2543 5477l22-58l-17-9l-22 84z" color="#19c0b2"/><path d="M1959 5219l23 49l-17-63l-22-15z" color="#fbd32f"/><path d="M2407 5490l22-60l-17-59l-22 26z" color="#0ebeba"/><path d="M2853 5274l23 34l-17-57l-22-1z" color="#f1bc35"/><path d="M1823 5185l23 15l-17 43l-23-48z" color="#f5e725"/><path d="M2270 5335l23-18l-17-9l-22 52z" color="#b6c434"/><path d="M2134 5316l23-51l-17-36l-23 20z" color="#ccc02c"/><path d="M2581 5463l22 11l-16-72l-23 17z" color="#27c3a7"/><path d="M3028 5276l23-62l-17-24l-23 29z" color="#f1bb35"/><path d="M1997 5228l23-21l-17 6l-22 55z" color="#fccf31"/><path d="M2891 5261l23-34l-17 14l-22 67z" color="#f6c135"/><path d="M1862 5261l22-56l-17-28l-23 23z" color="#f7c135"/><path d="M2308 5366l23 52l-17-83l-22-19z" color="#91ca4d"/><path d="M2756 5380l22-76l-17-24l-23 44z" color="#7fcb5b"/><path d="M2172 5264l23 21l-17 32l-23-52z" color="#f5c035"/><path d="M2619 5439l23-58l-17 5l-22 88z" color="#3ec893"/><path d="M3066 5201l23 10l-17 46l-23-42z" color="#f8df29"/><path d="M2035 5238l23 50l-16-65l-23-16z" color="#feca33"/><path d="M2483 5554l23-80l-18-58l-22 41z" color="#17acdb"/><path d="M2929 5251l23 38l-16-57l-23-5z" color="#fac534"/><path d="M1900 5196l23 16l-18 41l-22-48z" color="#f7e327"/><path d="M2347 5402l23-19l-18-18l-22 53z" color="#64cc70"/><path d="M2794 5289l22-2l-17 48l-23-30z" color="#e8bb34"/><path d="M2211 5356l22-49l-17-41l-23 18z" color="#a0c842"/><path d="M2657 5411l23 16l-17-61l-23 15z" color="#59cc79"/><path d="M2073 5250l24-20l-17 5l-23 53z" color="#fbc634"/><path d="M2967 5242l24-31l-17 14l-23 64z" color="#fdc934"/><path d="M1938 5274l23-55l-17-30l-23 23z" color="#f3be35"/><path d="M2385 5442l22 48l-17-93l-22-15z" color="#3ec893"/><path d="M2832 5342l23-69l-18-23l-22 38z" color="#b3c536"/><path d="M1801 5208l23-23l-17 9l-22 57z" color="#f8dd2a"/><path d="M2695 5382l23-50l-17 12l-22 83z" color="#81cb59"/><path d="M2112 5264l23 52l-17-68l-22-18z" color="#f6c135"/><path d="M3005 5235l24 41l-17-57l-23-8z" color="#fdcd32"/><path d="M1976 5211l23 17l-17 40l-23-49z" color="#f9dc2b"/><path d="M1839 5213l23 48l-16-62l-23-14z" color="#f9db2b"/><path d="M2287 5412l23-47l-18-49l-22 17z" color="#5bcc77"/><path d="M2734 5355l22 24l-17-56l-22 9z" color="#a5c73f"/><path d="M2150 5281l23-17l-17 0l-22 52z" color="#f1bc35"/><path d="M3044 5230l23-29l-17 13l-22 62z" color="#fbd230"/><path d="M2014 5291l23-53l-17-32l-23 22z" color="#edba35"/><path d="M2908 5316l23-66l-17-23l-23 34z" color="#d4bf2e"/><path d="M1877 5218l24-22l-17 9l-23 56z" color="#f9d92c"/><path d="M2772 5332l22-43l-17 15l-22 76z" color="#c5c22a"/><path d="M2188 5302l23 54l-17-72l-22-20z" color="#e2bc32"/><path d="M2636 5500l22-91l-17-28l-23 58z" color="#0ebeba"/><path d="M3082 5225l23 43l-17-58l-22-9z" color="#fad52e"/><path d="M2946 5235l23 7l-17 47l-23-39z" color="#fccf31"/><path d="M1916 5225l23 48l-17-62l-23-15z" color="#fad62d"/><path d="M2363 5490l23-48l-17-60l-23 18z" color="#18c0b2"/><path d="M2810 5311l22 31l-16-55l-23 2z" color="#dbbe30"/><path d="M1780 5193l23 15l-17 43l-23-47z" color="#f5e924"/><path d="M2226 5327l24-16l-17-5l-23 50z" color="#ccc12c"/><path d="M2674 5395l22-15l-17 47l-22-17z" color="#74cb63"/><path d="M2091 5315l23-51l-18-34l-22 20z" color="#d8be2f"/><path d="M2985 5298l22-63l-17-24l-23 31z" color="#e9bb34"/><path d="M1954 5232l23-21l-17 7l-22 55z" color="#fbd32f"/><path d="M2848 5294l23-37l-17 15l-22 70z" color="#edba35"/><path d="M1818 5268l23-55l-17-28l-23 23z" color="#f8c335"/><path d="M2265 5356l22 56l-16-79l-23-22z" color="#abc63b"/><path d="M2712 5435l23-81l-17-23l-23 50z" color="#4bca86"/><path d="M3023 5220l22 9l-17 47l-23-41z" color="#f9da2c"/><path d="M1992 5241l23 50l-17-64l-22-16z" color="#fcce31"/><path d="M2886 5280l23 36l-17-56l-23-3z" color="#f4bf35"/><path d="M1856 5203l23 15l-17 43l-23-48z" color="#f6e526"/><path d="M2303 5391l23-13l-17-14l-23 48z" color="#81cb59"/><path d="M2167 5350l23-48l-17-38l-23 17z" color="#b5c434"/><path d="M3061 5286l23-61l-18-24l-22 29z" color="#f2bd35"/><path d="M2030 5251l23-19l-17 5l-22 54z" color="#fec934"/><path d="M2924 5268l23-33l-17 14l-22 67z" color="#f8c334"/><path d="M1895 5279l22-54l-17-29l-23 22z" color="#f5c035"/><path d="M2341 5432l23 58l-17-90l-22-23z" color="#50cb81"/><path d="M2789 5383l22-73l-17-21l-23 42z" color="#8dcb4f"/><path d="M1758 5216l23-23l-17 10l-22 57z" color="#f8df29"/><path d="M2652 5454l22-59l-16 14l-22 91z" color="#3ec893"/><path d="M3099 5211l23 11l-17 46l-23-43z" color="#f7e128"/><path d="M2068 5264l23 51l-16-66l-23-18z" color="#fac534"/><path d="M2962 5258l23 40l-17-57l-22-6z" color="#fcc734"/><path d="M2827 5292l22 1l-17 49l-23-31z" color="#f1bb35"/><path d="M1796 5220l23 48l-17-61l-22-14z" color="#f8dd2a"/><path d="M2243 5400l23-44l-17-45l-23 14z" color="#7acb5f"/><path d="M2690 5417l23 18l-17-55l-23 16z" color="#64cc70"/><path d="M2106 5278l24-17l-17 3l-23 51z" color="#f6c135"/><path d="M3000 5250l23-29l-16 13l-23 64z" color="#fdcc32"/><path d="M1971 5295l23-54l-18-30l-22 21z" color="#f1bc35"/><path d="M2865 5347l22-68l-17-22l-23 36z" color="#bfc32e"/><path d="M1834 5225l23-22l-17 9l-22 56z" color="#f9db2b"/><path d="M2728 5384l23-48l-17 17l-22 82z" color="#91ca4d"/><path d="M2145 5296l23 54l-17-69l-22-20z" color="#f1bb35"/><path d="M3038 5244l23 42l-16-57l-23-8z" color="#fcd030"/><path d="M1872 5231l23 48l-17-61l-22-15z" color="#f9d92c"/><path d="M2320 5472l22-40l-17-55l-22 12z" color="#32c69f"/><path d="M2766 5356l23 27l-17-53l-22 7z" color="#b6c434"/><path d="M2183 5317l23-15l-17-1l-22 49z" color="#e0bd31"/><path d="M3077 5239l23-27l-17 13l-22 61z" color="#fbd42e"/><path d="M2047 5315l23-51l-17-33l-23 20z" color="#e3bc32"/><path d="M2941 5322l23-64l-17-23l-23 32z" color="#dcbd30"/><path d="M1910 5237l24-21l-17 8l-23 55z" color="#fad62d"/><path d="M2804 5333l23-41l-17 18l-22 73z" color="#d2bf2d"/><path d="M1775 5276l23-55l-18-28l-22 23z" color="#f9c434"/><path d="M2221 5342l23 58l-17-75l-22-23z" color="#c9c12b"/><path d="M2669 5503l22-88l-17-20l-23 58z" color="#18c0b2"/><path d="M3115 5236l23 43l-17-58l-22-9z" color="#fad72d"/><path d="M2085 5258l23 21l-17 36l-23-52z" color="#feca33"/><path d="M2979 5242l23 8l-17 48l-23-40zM1948 5245l23 49l-16-62l-23-16z" color="#fbd32f"/><path d="M2842 5313l23 34l-16-55l-23 1z" color="#e7bb33"/><path d="M2259 5373l24-10l-18-9l-22 46z" color="#a5c73f"/><path d="M2124 5345l22-49l-17-36l-22 18z" color="#c9c12b"/><path d="M3018 5306l22-62l-17-24l-23 30z" color="#efba35"/><path d="M1987 5253l23-20l-17 7l-22 54z" color="#fcce31"/><path d="M2880 5297l24-35l-17 16l-22 69z" color="#f2bd35"/><path d="M1851 5286l23-55l-17-28l-23 22z" color="#f7c135"/><path d="M2297 5410l23 62l-16-83l-23-27z" color="#78cb60"/><path d="M2745 5432l22-78l-17-18l-22 47z" color="#5bcc77"/><path d="M2162 5293l23 24l-18 33l-22-55z" color="#f4be35"/><path d="M2025 5264l23 51l-17-64l-22-18z" color="#fec934"/><path d="M2919 5284l23 38l-17-55l-23-5z" color="#f7c235"/><path d="M1889 5221l23 17l-17 41l-23-48z" color="#f7e327"/><path d="M2200 5387l23-44l-18-41l-22 14z" color="#99c947"/><path d="M3094 5296l23-60l-18-25l-22 28z" color="#f4bf35"/><path d="M2063 5276l23-18l-17 5l-22 52z" color="#fac534"/><path d="M2957 5273l23-31l-17 15l-22 65z" color="#fbc734"/><path d="M1928 5299l22-54l-17-29l-23 21z" color="#f3be35"/><path d="M2821 5382l23-70l-17-20l-23 40z" color="#a0c842"/><path d="M1791 5233l23-23l-17 10l-23 56z" color="#f8dd2a"/><path d="M2101 5291l23 54l-17-67l-22-20z" color="#f6c135"/><path d="M2995 5265l23 41l-17-56l-22-8z" color="#fdcb33"/><path d="M1966 5236l22 18l-17 41l-23-50z" color="#f9dc2b"/><path d="M2859 5293l23 3l-17 51l-23-34z" color="#f5c035"/><path d="M1829 5238l23 48l-17-61l-22-15z" color="#f9db2b"/><path d="M2276 5449l23-39l-17-48l-23 10z" color="#50cb81"/><path d="M2723 5409l23 23l-17-50l-23 12z" color="#81cb59"/><path d="M2139 5308l24-15l-17 2l-23 50z" color="#f1bb35"/><path d="M3033 5258l23-28l-17 14l-22 62z" color="#fccf31"/><path d="M2004 5316l23-52l-18-31l-22 20z" color="#edba35"/><path d="M2898 5349l22-66l-17-21l-23 35z" color="#ccc02c"/><path d="M1867 5243l23-22l-17 9l-22 56z" color="#f9d92c"/><path d="M2761 5377l23-43l-17 20l-22 78z" color="#abc63b"/><path d="M2178 5329l22 58l-16-71l-23-23z" color="#e0bd31"/><path d="M3071 5253l23 43l-16-57l-23-9z" color="#fbd32f"/><path d="M2042 5257l23 20l-18 38l-22-51z" color="#fbd130"/><path d="M1905 5250l23 49l-17-62l-22-16z" color="#fad62d"/><path d="M2799 5351l23 31l-17-51l-23 3z" color="#ccc12c"/><path d="M2216 5354l23-9l-17-4l-22 46z" color="#c9c12b"/><path d="M3109 5249l24-27l-17 13l-22 61z" color="#fad72d"/><path d="M2080 5341l23-50l-17-33l-23 18z" color="#d8be2f"/><path d="M2527 5735l23-23l-17-73l-23 40z" color="#4363fb"/><path d="M2974 5328l23-63l-17-23l-23 31z" color="#e5bc33"/><path d="M1943 5257l23-21l-16 8l-23 55z" color="#fbd32f"/><path d="M2837 5330l23-37l-17 19l-22 70z" color="#e2bc32"/><path d="M1808 5293l22-55l-17-28l-23 23z" color="#f8c334"/><path d="M2254 5385l23 64l-17-77l-22-28z" color="#a5c73f"/><path d="M2702 5489l22-82l-17-13l-23 52z" color="#32c69f"/><path d="M3148 5247l23 43l-17-57l-22-11z" color="#f9d92c"/><path d="M1981 5266l23 50l-16-63l-23-17z" color="#fccf31"/><path d="M2875 5313l23 36l-16-53l-23-2z" color="#f1bc35"/><path d="M1846 5228l23 16l-18 42l-22-48z" color="#f6e526"/><path d="M2157 5376l22-46l-17-37l-23 15z" color="#b5c434"/><path d="M3050 5314l23-61l-17-23l-23 29z" color="#f1bc35"/><path d="M2020 5276l23-19l-17 6l-23 53z" color="#feca33"/><path d="M2913 5299l23-32l-16 16l-23 66z" color="#f6c135"/><path d="M1884 5304l23-54l-17-29l-23 22z" color="#f5c035"/><path d="M2778 5423l22-73l-17-16l-22 43z" color="#7acb5f"/><path d="M2195 5327l23 28l-18 32l-22-58z" color="#e8bb34"/><path d="M2058 5288l23 53l-17-65l-22-19zM2951 5288l24 40l-17-55l-23-6z" color="#fbc634"/><path d="M1922 5240l23 17l-17 42l-23-49z" color="#f7e029"/><path d="M2816 5328l23 1l-17 53l-23-31z" color="#e8bb34"/><path d="M2233 5426l23-40l-18-42l-22 10z" color="#7acb5f"/><path d="M3127 5306l22-59l-17-25l-23 28z" color="#f5c035"/><path d="M2096 5302l23-16l-17 4l-22 51z" color="#f6c135"/><path d="M2543 5693l23-40l-17 60l-22 22z" color="#347dfa"/><path d="M2990 5279l23-29l-17 14l-22 64z" color="#feca33"/><path d="M1960 5319l23-53l-17-30l-23 21z" color="#f1bc35"/><path d="M2407 5584l22 87l-16-100l-22-43z" color="#13afd8"/><path d="M2854 5380l23-68l-17-19l-23 37z" color="#b5c434"/><path d="M1823 5250l24-22l-17 9l-23 56z" color="#f9dc2b"/><path d="M2271 5388l23 35l-17 26l-23-64z" color="#aac63c"/><path d="M2717 5428l23-46l-16 25l-23 82z" color="#78cb60"/><path d="M3165 5233l23 11l-18 47l-22-44z" color="#f6e526"/><path d="M2134 5319l23 57l-17-68l-22-22z" color="#f1bc35"/><path d="M3028 5272l23 42l-17-56l-22-8z" color="#fccf31"/><path d="M1862 5255l23 49l-17-61l-23-15z" color="#f9d92c"/><path d="M2755 5394l24 29l-17-47l-23 6z" color="#a5c73f"/><path d="M2172 5339l24-11l-17 1l-23 47z" color="#e2bc32"/><path d="M2620 5538l22-20l-17 68l-22-5z" color="#0dbdbb"/><path d="M3066 5267l23-28l-17 14l-22 61z" color="#fbd32f"/><path d="M2037 5339l23-51l-18-31l-22 19z" color="#e5bc33"/><path d="M2931 5352l22-64l-17-21l-23 32z" color="#d8be2f"/><path d="M1900 5262l23-22l-17 9l-22 55z" color="#fad72d"/><path d="M2347 5474l23 47l-17 18l-22-73z" color="#46c98b"/><path d="M2793 5367l24-38l-17 21l-22 73z" color="#c9c12b"/><path d="M2211 5363l22 63l-16-72l-23-26z" color="#ccc12c"/><path d="M3104 5263l23 43l-16-57l-23-10z" color="#fad62d"/><path d="M2075 5281l23 22l-18 38l-22-53z" color="#fdcc33"/><path d="M2522 5746l22-53l-17 40l-22 135z" color="#4363fb"/><path d="M1938 5269l23 50l-17-62l-22-17z" color="#fbd32f"/><path d="M2832 5345l23 35l-17-51l-23 0z" color="#e0bd31"/><path d="M2249 5392l23-4l-17-4l-23 41z" color="#abc63b"/><path d="M3142 5260l24-27l-17 13l-23 60z" color="#f9d92c"/><path d="M2113 5367l23-47l-17-34l-23 16z" color="#ccc02c"/><path d="M3007 5334l23-62l-18-23l-22 30z" color="#edba35"/><path d="M1976 5277l23-19l-17 7l-22 54z" color="#fccf31"/><path d="M2424 5595l22 68l-17 9l-22-88z" color="#15aed9"/><path d="M2870 5327l23-33l-17 18l-22 68z" color="#f1bb35"/><path d="M1841 5311l22-55l-17-28l-23 22z" color="#f7c235"/><path d="M2287 5427l23 71l-17-77l-22-33z" color="#81cb59"/><path d="M2734 5468l23-75l-17-11l-23 46z" color="#50cb81"/><path d="M3181 5257l23 45l-17-58l-23-11z" color="#f9db2b"/><path d="M2151 5314l23 26l-17 36l-23-57z" color="#f5c035"/><path d="M2598 5592l22-54l-16 41l-22 99z" color="#13afd8"/><path d="M2014 5287l23 52l-16-64l-23-18z" color="#fdcb33"/><path d="M2462 5735l22 11l-17-57l-22-28z" color="#3e6cfd"/><path d="M2908 5313l23 39l-17-54l-22-4z" color="#f6c135"/><path d="M1879 5245l23 17l-18 42l-22-49z" color="#f6e327"/><path d="M2189 5407l23-43l-17-37l-23 12z" color="#a0c842"/><path d="M3083 5323l23-60l-17-24l-23 28z" color="#f3be35"/><path d="M2053 5298l23-17l-17 6l-23 52z" color="#fbc734"/><path d="M2500 5704l23 42l-17 122l-23-124z" color="#347dfa"/><path d="M2946 5301l23-30l-16 16l-23 65z" color="#fac534"/><path d="M1917 5323l23-54l-18-29l-22 22z" color="#f4bf35"/><path d="M2811 5414l22-70l-17-16l-23 39z" color="#99c947"/><path d="M2674 5481l23-46l-17 33l-22 84z" color="#47ca8a"/><path d="M3121 5249l23 11l-17 46l-23-43z" color="#f7e327"/><path d="M2091 5312l23 55l-17-65l-22-21z" color="#f7c235"/><path d="M2538 5738l23-72l-17 27l-23 54z" color="#3e6cfd"/><path d="M2984 5292l23 42l-16-56l-23-7z" color="#fec934"/><path d="M2402 5572l23 25l-17-13l-23 17z" color="#0eb7ca"/><path d="M2849 5323l23 4l-18 53l-22-35z" color="#f4be35"/><path d="M2266 5463l23-35l-18-40l-22 5z" color="#5bcc77"/><path d="M3160 5317l22-59l-17-25l-23 27z" color="#f7c135"/><path d="M2129 5328l23-13l-17 4l-22 48z" color="#f2bd35"/><path d="M2576 5602l23-10l-17 86l-22-11z" color="#15aed9"/><path d="M3023 5285l23-28l-17 15l-22 62z" color="#fcce31"/><path d="M1993 5339l23-52l-17-30l-23 20z" color="#efba35"/><path d="M2440 5630l22 105l-16-72l-22-68z" color="#20a3e2"/><path d="M2887 5378l23-65l-17-20l-23 34z" color="#c9c12b"/><path d="M1856 5267l24-21l-17 9l-23 56z" color="#f9da2c"/><path d="M2750 5406l23-39l-17 26l-22 75z" color="#a5c73f"/><path d="M2167 5347l23 60l-17-68l-22-25z" color="#e7bb33"/><path d="M2615 5611l22-80l-17 7l-22 56z" color="#17acdb"/><path d="M3061 5280l23 43l-17-57l-22-9zM2031 5279l23 20l-17 40l-23-52z" color="#fbd32f"/><path d="M2478 5675l23 29l-17 42l-23-12z" color="#2c8ff1"/><path d="M1895 5273l22 50l-16-62l-23-15z" color="#fad72d"/><path d="M2342 5540l23-22l-17-44l-23-6z" color="#18c0b2"/><path d="M2788 5379l23 34l-16-47l-23 2z" color="#c9c12b"/><path d="M2206 5370l23-8l-18 1l-22 44z" color="#d2bf2d"/><path d="M2653 5487l22-6l-17 71l-22-20z" color="#46c98b"/><path d="M3099 5276l23-27l-17 13l-22 61z" color="#fad62d"/><path d="M2070 5362l22-49l-17-32l-22 18z" color="#dcbd30"/><path d="M2517 5677l22 61l-17 10l-23-44z" color="#2c8ff1"/><path d="M2964 5355l22-63l-17-21l-23 31z" color="#e3bc32"/><path d="M1933 5280l23-20l-17 8l-22 55z" color="#fbd42e"/><path d="M2380 5517l23 56l-17 28l-23-84z" color="#2dc5a2"/><path d="M2244 5396l22 67l-16-71l-23-30z" color="#b6c434"/><path d="M3137 5273l23 44l-17-58l-22-10z" color="#f9d92c"/><path d="M2108 5305l23 24l-18 38l-22-55z" color="#fcc734"/><path d="M2555 5635l22-33l-16 66l-23 70z" color="#20a3e2"/><path d="M3002 5276l22 9l-17 49l-23-41z" color="#fad72d"/><path d="M1971 5288l23 51l-17-62l-22-17z" color="#fcd030"/><path d="M2419 5637l22-6l-17-36l-22-23z" color="#20a3e2"/><path d="M2865 5340l23 38l-17-52l-23-3z" color="#f1bb35"/><path d="M2729 5407l23-1l-17 62l-23-27z" color="#aac63c"/><path d="M3175 5270l23-26l-16 13l-23 60z" color="#f9db2b"/><path d="M2146 5393l23-45l-18-34l-22 14z" color="#bfc32e"/><path d="M2593 5580l23 31l-17-19l-23 11z" color="#0eb7ca"/><path d="M3040 5341l23-61l-18-23l-22 29z" color="#f1bc35"/><path d="M2009 5297l23-18l-17 8l-22 52z" color="#fdcc32"/><path d="M2457 5610l22 67l-17 58l-22-105z" color="#15aed9"/><path d="M2903 5325l23-31l-17 18l-22 66zM1874 5328l22-54l-17-29l-23 22z" color="#f6c135"/><path d="M2767 5449l23-70l-17-12l-23 40z" color="#7acb5f"/><path d="M3214 5269l23 45l-17-59l-23-11z" color="#f8dd2a"/><path d="M2631 5528l22-41l-16 44l-23 80z" color="#27c3a7"/><path d="M2047 5308l23 54l-17-64l-22-19z" color="#fcc734"/><path d="M2495 5700l23-23l-18 29l-22-31z" color="#3087f5"/><path d="M2941 5314l23 41l-17-54l-22-7z" color="#fac534"/><path d="M1912 5263l22 18l-17 42l-23-50z" color="#f7e128"/><path d="M2359 5504l22 13l-16 0l-23 23z" color="#3ec893"/><path d="M2222 5436l23-38l-17-36l-23 8z" color="#8dcb4f"/><path d="M3116 5332l23-59l-17-24l-23 27z" color="#f5c035"/><path d="M2086 5321l23-15l-17 6l-23 50z" color="#f8c334"/><path d="M2533 5613l22 22l-17 103l-22-60z" color="#15aed9"/><path d="M2979 5305l23-29l-16 16l-23 63z" color="#fec934"/><path d="M1950 5342l23-53l-18-29l-22 20z" color="#f2bd35"/><path d="M2397 5546l22 91l-16-63l-23-57z" color="#19c0b2"/><path d="M2844 5405l22-66l-17-16l-23 35z" color="#b5c434"/><path d="M2707 5445l23-38l-17 32l-22 75z" color="#81cb59"/><path d="M3154 5259l23 11l-17 47l-23-44z" color="#f6e526"/><path d="M2124 5336l22 57l-16-65l-23-23z" color="#f4bf35"/><path d="M3017 5298l23 43l-16-56l-23-9z" color="#fcce31"/><path d="M2435 5586l23 24l-17 22l-23 5z" color="#0eb7ca"/><path d="M2882 5319l22 6l-17 53l-22-38z" color="#fac534"/><path d="M3193 5328l22-59l-17-25l-23 26z" color="#f8c335"/><path d="M2162 5353l23-11l-17 5l-22 46z" color="#edba35"/><path d="M2609 5526l23 2l-17 83l-23-29z" color="#2dc5a2"/><path d="M3056 5293l23-28l-17 14l-22 62z" color="#fbd32f"/><path d="M2026 5360l23-51l-17-30l-23 19z" color="#e9bb34"/><path d="M2473 5613l22 87l-16-23l-23-67z" color="#13afd8"/><path d="M2920 5377l23-63l-17-20l-23 32z" color="#d8be2f"/><path d="M1889 5285l23-21l-16 9l-23 55z" color="#fad82d"/><path d="M2337 5458l23 47l-18 35l-22-77z" color="#74cb63"/><path d="M3231 5256l22 12l-17 46l-23-45z" color="#f5e924"/><path d="M2200 5374l23 62l-17-66l-22-28z" color="#dbbe30"/><path d="M3094 5288l23 44l-17-57l-22-10z" color="#fad62d"/><path d="M2064 5300l23 22l-17 40l-23-54z" color="#fccf31"/><path d="M2511 5614l23-1l-17 66l-22 21z" color="#13afd8"/><path d="M2958 5296l23 9l-17 50l-23-41z" color="#fbd130"/><path d="M1927 5291l23 50l-16-61l-23-16z" color="#fad52e"/><path d="M2821 5367l23 38l-16-48l-23-3z" color="#e2bc32"/><path d="M2686 5444l22 1l-17 69l-22-29z" color="#89cb53"/><path d="M3132 5285l23-26l-17 13l-22 60z" color="#f9d92c"/><path d="M2103 5384l22-47l-17-32l-23 16z" color="#d4bf2e"/><path d="M2549 5591l23 52l-17-6l-23-23z" color="#0eb7ca"/><path d="M2996 5359l23-61l-17-22l-23 29z" color="#edba35"/><path d="M1966 5299l23-20l-17 9l-22 53z" color="#fbd230"/><path d="M2413 5531l23 57l-17 49l-23-91z" color="#2dc5a2"/><path d="M2860 5350l22-31l-16 20l-23 66z" color="#f1bc35"/><path d="M3170 5283l23 45l-17-58l-22-11z" color="#f9db2b"/><path d="M2588 5554l22-28l-16 56l-23 61z" color="#19c0b2"/><path d="M3035 5282l22 11l-17 48l-23-43z" color="#f9dc2b"/><path d="M2004 5308l23 52l-17-63l-22-18z" color="#fdcd32"/><path d="M2451 5630l23-16l-16-3l-24-25z" color="#17acdb"/><path d="M2898 5337l23 40l-17-52l-23-6z" color="#f6c135"/><path d="M3208 5281l23-25l-16 12l-23 60z" color="#f8dd2a"/><path d="M2179 5418l23-43l-18-33l-22 12z" color="#b3c536"/><path d="M2626 5515l22 38l-16-25l-24-1z" color="#3ec893"/><path d="M3073 5348l22-60l-17-23l-23 28z" color="#f3be35"/><path d="M2042 5318l23-18l-17 8l-22 52z" color="#fdc934"/><path d="M2490 5571l22 44l-17 85l-23-87z" color="#0dbdbb"/><path d="M2936 5326l23-29l-17 17l-22 63z" color="#fbc634"/><path d="M1906 5346l23-54l-17-29l-23 22z" color="#f5bf35"/><path d="M2800 5433l23-66l-17-13l-23 35z" color="#a0c842"/><path d="M3246 5280l23 46l-16-59l-23-11z" color="#f8df29"/><path d="M2664 5478l22-34l-16 39l-23 71z" color="#64cc70"/><path d="M3111 5274l23 11l-18 47l-22-43z" color="#f7e327"/><path d="M2080 5329l23 55l-17-63l-22-21z" color="#fac534"/><path d="M2974 5317l23 42l-17-54l-22-8z" color="#feca33"/><path d="M1945 5282l22 17l-17 43l-23-51z" color="#f8df29"/><path d="M2391 5518l23 13l-17 17l-22 18z" color="#3ec893"/><path d="M3149 5342l23-59l-17-24l-23 26z" color="#f7c135"/><path d="M2119 5343l23-14l-17 7l-23 48z" color="#f6c135"/><path d="M2566 5537l22 18l-17 89l-22-52z" color="#2dc5a2"/><path d="M3012 5310l23-28l-17 16l-22 61z" color="#fccf31"/><path d="M1983 5360l23-52l-18-29l-22 20z" color="#f1bb35"/><path d="M2430 5545l22 85l-17-42l-22-57z" color="#27c3a7"/><path d="M2877 5400l22-63l-17-18l-23 32z" color="#ccc02c"/><path d="M2740 5418l23-33l-17 29l-22 69z" color="#b6c434"/><path d="M3187 5269l23 13l-17 46l-23-45z" color="#f5e725"/><path d="M2157 5358l22 59l-16-64l-23-24z" color="#f1bc35"/><path d="M2604 5576l22-61l-16 11l-23 30z" color="#0ebeba"/><path d="M3050 5305l23 43l-16-56l-23-9z" color="#fbd32f"/><path d="M2021 5298l23 20l-18 42l-22-52z" color="#fad72d"/><path d="M2468 5562l22 9l-17 43l-22 16z" color="#19c0b2"/><path d="M3225 5339l23-58l-17-25l-23 26z" color="#f9c434"/><path d="M2642 5471l23 7l-17 76l-23-37z" color="#74cb63"/><path d="M3088 5301l24-27l-17 14l-23 60z" color="#fad62d"/><path d="M2059 5380l23-50l-17-30l-23 18z" color="#e4bc32"/><path d="M2506 5564l22 69l-16-17l-23-45z" color="#19c0b2"/><path d="M2953 5379l23-62l-18-21l-22 30z" color="#e5bc33"/><path d="M1922 5302l23-20l-17 9l-22 54z" color="#fad62d"/><path d="M2370 5473l23 46l-18 47l-22-80z" color="#74cb63"/><path d="M3127 5298l23 44l-17-57l-23-11z" color="#f9d92c"/><path d="M2097 5321l23 23l-17 40l-23-54z" color="#fdcc33"/><path d="M2544 5550l22-12l-16 55l-22 40z" color="#27c3a7"/><path d="M2991 5300l23 10l-17 49l-23-42z" color="#fad82d"/><path d="M1960 5309l23 51l-16-61l-23-17z" color="#fbd32f"/><path d="M2408 5569l23-22l-17-16l-23-13z" color="#18c0b2"/><path d="M2854 5359l23 41l-17-50l-22-6z" color="#f2bd35"/><path d="M2719 5412l22 6l-17 65l-23-36z" color="#c4c22b"/><path d="M3165 5295l23-25l-17 13l-22 59z" color="#f9db2b"/><path d="M2135 5405l23-46l-17-30l-23 14z" color="#cec02c"/><path d="M2582 5526l23 50l-17-20l-23-18z" color="#3ec893"/><path d="M3029 5365l23-60l-17-23l-23 28z" color="#f1bc35"/><path d="M1999 5317l23-18l-17 8l-23 53z" color="#fccf31"/><path d="M2446 5517l23 46l-17 67l-23-84z" color="#46c98b"/><path d="M2893 5347l22-30l-16 19l-23 64z" color="#f7c235"/><path d="M2757 5459l22-64l-17-10l-23 34z" color="#8dcb4f"/><path d="M3203 5294l23 45l-17-58l-22-11z" color="#f8dd2a"/><path d="M2620 5498l23-27l-16 45l-23 60z" color="#59cc79"/><path d="M3067 5290l23 11l-17 47l-23-43z" color="#f7e029"/><path d="M2037 5326l23 54l-17-63l-22-18z" color="#fdcb33"/><path d="M2484 5596l23-32l-17 7l-23-8z" color="#0cbbc2"/><path d="M2931 5336l23 43l-17-54l-23-7z" color="#fbc734"/><path d="M2212 5439l23-41l-18-31l-22 10z" color="#aac63c"/><path d="M3106 5357l22-59l-17-24l-23 27z" color="#f5c035"/><path d="M2075 5337l23-16l-17 8l-22 51z" color="#fcc734"/><path d="M2523 5520l22 31l-17 82l-23-68z" color="#46c98b"/><path d="M2969 5328l23-28l-17 17l-22 62z" color="#fdcb33"/><path d="M1939 5363l23-53l-17-28l-23 20z" color="#f4be35"/><path d="M2386 5492l22 77l-16-49l-23-47z" color="#64cc70"/><path d="M2833 5423l23-63l-17-16l-23 32z" color="#bfc32e"/><path d="M2697 5442l22-30l-16 34l-23 65z" color="#a5c73f"/><path d="M3144 5284l23 12l-18 46l-22-44z" color="#f6e526"/><path d="M2113 5349l23 56l-17-62l-22-22z" color="#f8c334"/><path d="M2561 5576l22-50l-17 11l-23 14z" color="#18c0b2"/><path d="M3007 5322l23 43l-17-55l-22-10z" color="#fccf31"/><path d="M1977 5299l23 19l-17 42l-23-51z" color="#f8dd2a"/><path d="M2424 5511l23 6l-17 30l-22 22z" color="#50cb81"/><path d="M3182 5353l23-59l-18-25l-22 27z" color="#f8c334"/><path d="M2599 5482l22 16l-17 78l-22-49z" color="#74cb63"/><path d="M3045 5317l23-27l-17 14l-22 61z" color="#fbd32f"/><path d="M2016 5378l22-51l-17-29l-23 20z" color="#f0ba36"/><path d="M2463 5523l22 73l-17-32l-22-47z" color="#47ca8a"/><path d="M2910 5398l22-62l-17-19l-23 30z" color="#dcbd30"/><path d="M2190 5378l22 61l-16-63l-23-26z" color="#efba35"/><path d="M2637 5528l22-59l-16 2l-23 28z" color="#45c98c"/><path d="M3083 5313l23 44l-17-57l-22-10z" color="#fad72d"/><path d="M2054 5317l23 21l-18 42l-22-53z" color="#fbd42e"/><path d="M2501 5525l22-4l-17 45l-22 30z" color="#47ca8a"/><path d="M2811 5381l23 42l-17-48l-23-6z" color="#edba35"/><path d="M2675 5433l23 10l-17 68l-23-41z" color="#b8c433"/><path d="M3121 5310l23-26l-16 13l-23 60z" color="#f9d92c"/><path d="M2092 5399l23-49l-18-29l-22 16z" color="#dfbd31"/><path d="M2539 5516l22 60l-16-24l-23-31z" color="#50cb81"/><path d="M2986 5382l23-60l-18-22l-22 29z" color="#efba35"/><path d="M1955 5319l23-19l-17 9l-22 54z" color="#fbd42e"/><path d="M2403 5471l22 41l-17 57l-22-77z" color="#89cb53"/><path d="M2849 5367l23-29l-17 21l-22 64z" color="#f4bf35"/><path d="M3160 5308l23 45l-17-58l-23-11z" color="#f9dc2b"/><path d="M2577 5500l22-17l-16 45l-23 48z" color="#64cc70"/><path d="M3024 5306l23 11l-18 48l-22-43z" color="#f8dd2a"/><path d="M1993 5327l23 51l-16-61l-23-18z" color="#fcd130"/><path d="M2441 5555l23-31l-17-7l-23-5z" color="#32c69f"/><path d="M2887 5356l23 42l-17-52l-22-7z" color="#f8c334"/><path d="M2168 5424l23-45l-17-29l-23 13z" color="#c9c12b"/><path d="M3062 5372l23-59l-17-23l-23 27z" color="#f4bf35"/><path d="M2479 5490l23 35l-18 71l-22-73z" color="#74cb63"/><path d="M2925 5346l23-27l-16 17l-23 62z" color="#fcc734"/><path d="M2790 5444l22-62l-17-13l-23 30z" color="#b3c536"/><path d="M2653 5458l23-25l-16 36l-23 59z" color="#9fc843"/><path d="M3100 5298l23 12l-17 47l-23-44z" color="#f6e327"/><path d="M2070 5345l22 54l-16-62l-23-20z" color="#fdc934"/><path d="M2517 5558l23-41l-17 4l-23 4z" color="#32c69f"/><path d="M2964 5339l22 43l-16-54l-23-9z" color="#fdcc32"/><path d="M2245 5456l23-41l-18-27l-22 8z" color="#a7c73e"/><path d="M3139 5367l22-59l-17-24l-23 26z" color="#f7c235"/><path d="M2108 5355l23-15l-17 9l-22 49z" color="#fac534"/><path d="M2555 5478l23 23l-17 75l-23-59z" color="#89cb53"/><path d="M3002 5333l23-27l-17 15l-22 61z" color="#fcd030"/><path d="M1972 5380l23-53l-17-28l-23 21z" color="#f3bd35"/><path d="M2419 5484l22 71l-16-42l-23-42z" color="#81cb59"/><path d="M2866 5417l23-61l-17-18l-23 30z" color="#d4bf2e"/><path d="M2283 5402l23 33l-18 45l-22-66z" color="#e2bc32"/><path d="M2146 5367l23 57l-17-61l-22-23z" color="#f7c235"/><path d="M2594 5533l22-53l-17 2l-23 19z" color="#4bca86"/><path d="M3040 5328l23 44l-17-56l-22-10z" color="#fbd42e"/><path d="M2010 5317l23 19l-17 42l-23-51z" color="#f9db2b"/><path d="M2457 5493l23-3l-17 35l-22 30z" color="#78cb60"/><path d="M2632 5444l22 15l-17 69l-23-47z" color="#b8c433"/><path d="M3078 5324l23-26l-17 14l-22 60z" color="#fad72d"/><path d="M2049 5396l22-51l-17-28l-23 18z" color="#edba35"/><path d="M2495 5495l23 63l-17-31l-22-37z" color="#78cb60"/><path d="M2942 5399l23-60l-17-21l-23 29z" color="#e9bb34"/><path d="M2223 5395l22 61l-16-60l-23-27z" color="#edba35"/><path d="M3116 5322l23 45l-17-58l-22-11z" color="#f9da2c"/><path d="M2534 5489l22-11l-17 40l-22 40z" color="#81cb59"/><path d="M2981 5322l22 11l-17 49l-23-43z" color="#f9da2c"/><path d="M2844 5374l23 43l-17-50l-23-8z" color="#f6c135"/><path d="M2708 5407l23 11l-17 63l-23-43z" color="#e2bc32"/><path d="M2125 5416l23-48l-18-28l-22 16z" color="#dcbd30"/><path d="M3019 5388l22-60l-17-22l-23 27z" color="#f2bd35"/><path d="M1988 5336l23-19l-17 10l-22 53z" color="#fbd32f"/><path d="M2436 5459l22 35l-17 61l-23-70zM2746 5462l23-61l-17-11l-23 29z" color="#aac63c"/><path d="M2610 5464l22-20l-16 37l-23 52z" color="#a5c73f"/><path d="M3057 5313l23 12l-18 47l-22-44z" color="#f7e128"/><path d="M2026 5344l23 52l-17-61l-22-18z" color="#fccf31"/><path d="M2474 5535l22-40l-17-5l-22 3z" color="#50cb81"/><path d="M2920 5356l23 43l-17-53l-22-9z" color="#fdc934"/><path d="M2201 5440l23-44l-17-28l-23 13z" color="#c8c12b"/><path d="M3095 5381l23-59l-17-24l-23 27z" color="#f6c135"/><path d="M2065 5352l22-17l-16 9l-23 52z" color="#fdcb33"/><path d="M2512 5463l23 27l-18 68l-22-63z" color="#aac63c"/><path d="M2958 5349l23-27l-17 16l-22 61z" color="#fdcd32"/><path d="M2823 5435l22-61l-17-15l-23 28z" color="#cec02c"/><path d="M2686 5432l23-24l-17 29l-22 59z" color="#cfc02d"/><path d="M2103 5361l22 55l-16-61l-23-20z" color="#fcc834"/><path d="M2996 5343l23 45l-16-56l-23-10z" color="#fbd230"/><path d="M2278 5468l22-42l-17-24l-23 8z" color="#aac63c"/><path d="M2141 5372l23-15l-17 10l-22 49z" color="#fac534"/><path d="M2588 5445l23 20l-17 68l-23-53z" color="#c4c22b"/><path d="M3035 5339l23-26l-17 15l-23 60z" color="#fad52e"/><path d="M2005 5397l23-53l-17-27l-23 20z" color="#f2bd35"/><path d="M2899 5416l23-60l-18-20l-22 29z" color="#e4bc32"/><path d="M2316 5410l23 31l-18 49l-22-64z" color="#e8bb34"/><path d="M2179 5383l23 57l-17-60l-22-23z" color="#f6c135"/><path d="M3073 5336l23 45l-17-57l-23-11z" color="#fad82d"/><path d="M2043 5333l23 20l-17 43l-23-52z" color="#f9da2c"/><path d="M2490 5472l23-9l-17 33l-23 39z" color="#a5c73f"/><path d="M2937 5338l23 11l-17 50l-23-43z" color="#fad72d"/><path d="M2801 5391l22 44l-17-49l-22-9z" color="#f4bf35"/><path d="M2665 5418l22 15l-17 63l-23-47z" color="#e2bc32"/><path d="M2081 5412l23-50l-17-27l-23 17z" color="#ebbb34"/><path d="M2975 5403l23-59l-17-22l-23 27z" color="#f1bb35"/><path d="M2120 5351l22 21l-17 44l-23-54z" color="#fbd130"/><path d="M2566 5462l23-16l-16 34l-23 47z" color="#b6c434"/><path d="M3013 5328l23 11l-17 49l-23-44z" color="#f8df29"/><path d="M2877 5372l22 44l-16-52l-23-10z" color="#fcc734"/><path d="M2158 5431l23-47l-18-27l-22 15z" color="#dbbe30"/><path d="M3052 5395l22-59l-17-23l-23 27z" color="#f5bf35"/><path d="M2021 5352l23-19l-17 11l-22 52z" color="#fbd230"/><path d="M2469 5445l22 28l-17 62l-23-64z" color="#cdc02c"/><path d="M2915 5364l23-26l-17 17l-22 61z" color="#fdcb33"/><path d="M2779 5451l23-60l-17-14l-23 27z" color="#c9c12b"/><path d="M2643 5440l22-21l-16 30l-23 54z" color="#d2bf2d"/><path d="M2059 5360l23 52l-17-60l-22-19z" color="#fcce31"/><path d="M2953 5359l23 44l-17-54l-22-11z" color="#fccf31"/><path d="M2817 5370l23 11l-17 54l-23-43z" color="#fec934"/><path d="M2234 5453l23-45l-17-25l-23 12z" color="#c9c12b"/><path d="M2098 5368l22-17l-16 10l-23 51z" color="#fdcb33"/><path d="M2545 5440l22 22l-17 65l-22-57z" color="#d5bf2e"/><path d="M2991 5354l23-26l-17 15l-22 60z" color="#fbd32f"/><path d="M2856 5432l22-60l-17-18l-23 27z" color="#dfbd31"/><path d="M2136 5377l22 54l-16-59l-23-21z" color="#fcc734"/><path d="M3029 5350l23 45l-17-56l-22-11z" color="#fad62d"/><path d="M2894 5353l22 12l-17 51l-23-44z" color="#fbd42e"/><path d="M2757 5405l23 46l-17-48l-23-11z" color="#f3be35"/><path d="M2621 5423l23 18l-17 62l-23-50z" color="#e8bb34"/><path d="M2038 5412l23-52l-18-27l-22 20z" color="#f2bc35"/><path d="M2932 5418l23-59l-18-21l-22 27z" color="#f0ba36"/><path d="M2212 5396l23 57l-17-58l-22-24z" color="#f7c235"/><path d="M2076 5349l23 20l-17 43l-23-52z" color="#f9d92c"/><path d="M2523 5454l22-14l-16 30l-23 45z" color="#ccc12c"/><path d="M2970 5342l23 12l-18 49l-22-44z" color="#f8dd2a"/><path d="M2833 5387l23 44l-17-51l-22-10z" color="#fac534"/><path d="M2114 5427l23-50l-17-26l-23 17z" color="#eabb34"/><path d="M3008 5409l23-59l-17-22l-23 26z" color="#f4be35"/><path d="M2736 5463l22-57l-17-14l-23 25z" color="#c8c12b"/><path d="M2599 5443l23-19l-17 28l-22 52z" color="#dbbe30"/><path d="M2910 5373l22 45l-16-54l-23-10z" color="#fdcd32"/><path d="M2774 5383l23 13l-18 55l-22-45z" color="#fdc834"/><path d="M2191 5445l23-48l-18-26l-22 15z" color="#dcbd30"/><path d="M2054 5368l23-19l-17 11l-22 52z" color="#fbd130"/><path d="M2501 5431l23 24l-17 60l-23-58z" color="#e8bb34"/><path d="M2948 5368l23-26l-17 16l-22 60z" color="#fcd130"/><path d="M2812 5446l23-59l-17-17l-23 26z" color="#dcbd30"/><path d="M2229 5383l23 24l-18 46l-22-57z" color="#fec934"/><path d="M2092 5375l23 52l-17-59l-22-19z" color="#fcce31"/><path d="M2986 5364l23 45l-17-55l-22-12z" color="#fbd42e"/><path d="M2850 5368l23 12l-17 52l-23-45z" color="#fbd22f"/><path d="M2267 5463l23-46l-17-24l-23 13z" color="#cec02c"/><path d="M2130 5382l23-17l-17 12l-22 50z" color="#fdcb33"/><path d="M2578 5424l22 19l-17 61l-23-54z" color="#f1bb35"/><path d="M2888 5432l23-59l-17-20l-23 27z" color="#edba35"/><path d="M2169 5390l22 55l-16-59l-23-21z" color="#fcc834"/><path d="M2927 5356l22 12l-17 50l-23-44z" color="#f9db2b"/><path d="M2343 5479l23-45l-17-20l-23 11z" color="#bfc32e"/><path d="M2790 5400l23 46l-17-51l-23-12z" color="#fac534"/><path d="M2071 5427l23-52l-18-26l-22 19z" color="#f1bc35"/><path d="M2965 5423l22-59l-17-22l-23 27z" color="#f3bd35"/><path d="M2828 5393l23-25l-17 19l-22 59z" color="#fcc834"/><path d="M2245 5407l23 56l-17-57l-23-23z" color="#f8c334"/><path d="M2692 5473l23-56l-17-14l-23 23z" color="#c9c12b"/><path d="M2109 5363l23 20l-17 44l-23-52z" color="#f9d92c"/><path d="M2866 5387l23 45l-17-53l-22-11z" color="#fdcb33"/><path d="M2730 5394l23 14l-17 55l-23-46z" color="#fdc834"/><path d="M2147 5441l23-50l-17-26l-23 18z" color="#ebbb34"/><path d="M2904 5382l23-26l-17 17l-22 59z" color="#fccf31"/><path d="M2769 5458l22-58l-17-17l-23 25z" color="#dbbe30"/><path d="M2942 5377l23 46l-16-55l-23-12z" color="#fbd32f"/><path d="M2807 5380l22 13l-17 53l-23-46z" color="#fbd130"/><path d="M2224 5456l22-49l-17-24l-23 16z" color="#dfbd31"/><path d="M2087 5382l23-19l-17 12l-22 52z" color="#fbd130"/><path d="M2845 5445l23-58l-18-19l-22 25z" color="#ebbb34"/><path d="M2262 5393l23 22l-18 48l-22-56z" color="#fdcc33"/><path d="M2125 5388l23 53l-17-59l-22-19z" color="#fcce31"/><path d="M2883 5369l23 13l-17 50l-23-45z" color="#f9da2c"/><path d="M2300 5470l23-47l-18-22l-22 14z" color="#d4bf2e"/><path d="M2747 5411l22 47l-16-50l-23-14z" color="#fac534"/><path d="M2163 5395l23-17l-17 12l-22 51z" color="#fdcb33"/><path d="M2921 5436l23-58l-17-22l-23 26z" color="#f2bd35"/><path d="M2202 5402l22 54l-16-58l-23-20z" color="#fdc934"/><path d="M2649 5479l22-54l-17-15l-23 21z" color="#cec02c"/><path d="M2376 5482l23-48l-17-19l-23 14z" color="#ccc02c"/><path d="M2823 5399l22 46l-16-52l-23-12z" color="#fdcb33"/><path d="M2687 5403l23 15l-18 55l-22-48z" color="#fec934"/><path d="M2104 5441l23-52l-18-26l-22 19z" color="#f2bc35"/><path d="M2861 5394l23-24l-17 17l-22 58z" color="#fcce31"/><path d="M2278 5415l22 55l-16-55l-23-22z" color="#fac534"/><path d="M2725 5468l23-57l-17-17l-23 24z" color="#dcbd30"/><path d="M2142 5376l23 20l-18 45l-22-52z" color="#f9da2c"/><path d="M2453 5488l22-49l-17-17l-23 15z" color="#c9c12b"/><path d="M2899 5390l23 46l-17-54l-22-12z" color="#fbd230"/><path d="M2763 5391l23 14l-17 53l-23-47z" color="#fbd130"/><path d="M2180 5453l23-50l-17-25l-23 17z" color="#edba35"/><path d="M2802 5457l22-57l-17-20l-23 25z" color="#eabb34"/><path d="M2218 5389l23 20l-17 47l-23-54z" color="#fbd42e"/><path d="M2529 5489l23-52l-18-16l-22 18z" color="#ccc02c"/><path d="M2840 5382l22 13l-17 50l-23-45z" color="#f9d92c"/><path d="M2257 5466l22-50l-17-23l-23 16z" color="#e4bc32"/><path d="M2703 5420l23 48l-17-51l-23-14z" color="#fac534"/><path d="M2120 5395l23-19l-17 12l-23 53z" color="#fbd230"/><path d="M2567 5416l23 18l-17 55l-23-52z" color="#fcc734"/><path d="M2878 5449l23-58l-18-22l-22 26z" color="#f2bc35"/><path d="M2295 5401l22 21l-17 48l-23-54zM2158 5401l23 52l-17-58l-22-19z" color="#fccf31"/><path d="M2605 5484l23-54l-17-16l-23 20z" color="#d4bf2e"/><path d="M2333 5477l23-50l-18-21l-22 16z" color="#dcbd30"/><path d="M2779 5410l23 47l-17-52l-22-13z" color="#fdcb33"/><path d="M2644 5409l22 16l-17 54l-23-49z" color="#fdcc33"/><path d="M2818 5406l22-24l-16 17l-23 58z" color="#fcce31"/><path d="M2234 5412l23 54l-17-57l-22-20z" color="#fdcb33"/><path d="M2682 5476l22-56l-17-17l-23 22z" color="#dfbd31"/><path d="M2409 5484l23-50l-17-19l-23 16z" color="#d8be2f"/><path d="M2856 5402l22 47l-16-55l-23-12z" color="#fbd130"/><path d="M2720 5401l23 14l-18 53l-22-48z" color="#fbd22f"/><path d="M2137 5454l22-52l-17-26l-23 20z" color="#f2bd35"/><path d="M2311 5423l22 54l-16-56l-23-20z" color="#fcc734"/><path d="M2758 5467l23-56l-17-20l-23 24z" color="#ebbb34"/><path d="M2175 5388l23 19l-18 46l-22-52z" color="#f9db2b"/><path d="M2486 5488l22-52l-17-18l-23 18z" color="#d8be2f"/><path d="M2796 5393l23 13l-17 51l-23-46z" color="#f9d92c"/><path d="M2213 5465l23-52l-17-24l-23 18z" color="#f0ba36"/><path d="M2660 5427l22 49l-16-51l-23-16z" color="#fcc734"/><path d="M2387 5431l23 53l-17-53l-22-21z" color="#fbc634"/><path d="M2834 5460l23-57l-17-21l-23 25z" color="#f1bc35"/><path d="M2251 5399l23 20l-17 47l-23-53z" color="#fad72d"/><path d="M2562 5487l23-54l-18-17l-22 19z" color="#dcbd30"/><path d="M2289 5474l23-50l-17-23l-23 17z" color="#e9bb34"/><path d="M2736 5420l23 47l-17-52l-23-14z" color="#fdcb33"/><path d="M2153 5408l23-19l-17 12l-23 53z" color="#fbd32f"/><path d="M2600 5414l23 17l-17 53l-23-51z" color="#fccf31"/><path d="M2464 5435l22 53l-16-53l-23-19z" color="#fac534"/><path d="M2774 5416l23-23l-17 17l-22 57z" color="#fcce31"/><path d="M2191 5413l23 51l-17-57l-23-18z" color="#fcd130"/><path d="M2638 5482l23-55l-17-18l-23 22z" color="#e4bc32"/><path d="M2366 5483l23-51l-18-22l-22 18z" color="#e5bc33"/><path d="M2812 5413l23 47l-17-54l-22-13z" color="#fbd130"/><path d="M2229 5418l23-19l-17 13l-22 52z" color="#fccf31"/><path d="M2676 5409l23 15l-17 52l-23-48z" color="#fbd42e"/><path d="M2540 5436l22 50l-16-51l-23-18z" color="#fbc734"/><path d="M2267 5422l23 52l-17-56l-22-19z" color="#fdcd32"/><path d="M2715 5476l22-56l-17-19l-23 23z" color="#edba35"/><path d="M2442 5488l23-52l-17-20l-23 18z" color="#e3bc32"/><path d="M2753 5403l22 14l-17 50l-23-47z" color="#f9da2c"/><path d="M2170 5466l22-53l-17-25l-23 20z" color="#f3bd35"/><path d="M2616 5433l23 49l-17-52l-22-16z" color="#fdc934"/><path d="M2344 5430l22 52l-16-55l-23-19z" color="#fdcb33"/><path d="M2791 5471l23-57l-18-21l-22 24z" color="#f2bc35"/><path d="M2208 5400l23 18l-18 47l-22-52z" color="#f8dd2a"/><path d="M2518 5489l23-53l-17-19l-23 19z" color="#e5bc33"/><path d="M2246 5475l23-52l-18-24l-22 19z" color="#f1bb35"/><path d="M2693 5428l22 48l-17-53l-22-14z" color="#fdcd32"/><path d="M2557 5418l22 17l-17 52l-23-51z" color="#fbd32f"/><path d="M2420 5436l23 51l-17-53l-23-19z" color="#fec934"/><path d="M2284 5408l23 19l-17 47l-23-51z" color="#f9da2c"/><path d="M2731 5426l22-23l-16 17l-23 56z" color="#fccf31"/><path d="M2595 5488l23-55l-18-19l-22 21z" color="#e9bb34"/><path d="M2322 5483l23-52l-17-23l-23 19z" color="#efba35"/><path d="M2769 5423l22 48l-16-55l-23-13z" color="#fbd230"/><path d="M2186 5420l22-20l-16 13l-23 53z" color="#fbd42e"/><path d="M2633 5415l23 16l-18 51l-22-49z" color="#fad72d"/><path d="M2496 5438l23 51l-17-53l-22-18z" color="#feca33"/><path d="M2224 5424l22 51l-16-57l-23-18z" color="#fbd32f"/><path d="M2671 5484l23-55l-17-20l-23 22z" color="#f0ba36"/><path d="M2399 5489l22-53l-17-21l-23 19z" color="#edba35"/><path d="M2262 5428l23-20l-17 14l-22 53z" color="#fbd230"/><path d="M2709 5411l23 15l-17 50l-23-47z" color="#f9db2b"/><path d="M2573 5438l22 50l-16-54l-23-16z" color="#fdcc32"/><path d="M2437 5420l23 18l-18 50l-22-52z" color="#fad72d"/><path d="M2300 5431l23 52l-17-57l-22-18z" color="#fcd030"/><path d="M2748 5480l22-56l-17-21l-23 23z" color="#f2bd35"/><path d="M2475 5492l23-53l-18-21l-22 20z" color="#edba35"/><path d="M2203 5478l22-54l-17-24l-23 20z" color="#f4be35"/><path d="M2649 5436l23 48l-17-53l-23-15zM2377 5437l22 52l-16-56l-23-18z" color="#fccf31"/><path d="M2241 5411l22 17l-17 47l-23-51z" color="#f8df29"/><path d="M2687 5434l23-22l-17 16l-22 56z" color="#fcd130"/><path d="M2551 5493l23-55l-17-20l-23 21z" color="#efba35"/><path d="M2279 5485l23-53l-18-24l-22 20z" color="#f2bd35"/><path d="M2725 5433l23 47l-17-54l-22-14z" color="#fbd32f"/><path d="M2590 5421l22 17l-17 50l-23-49z" color="#f9da2c"/><path d="M2453 5441l23 51l-17-55l-23-17z" color="#fcce31"/><path d="M2317 5417l23 18l-18 48l-22-51z" color="#f8dd2a"/><path d="M2628 5491l22-55l-17-21l-23 23z" color="#f1bb35"/><path d="M2355 5491l23-53l-17-23l-23 20z" color="#f1bc35"/><path d="M2219 5431l22-20l-16 13l-23 54z" color="#fad62d"/><path d="M2666 5420l23 15l-18 49l-22-48z" color="#f8dd2a"/><path d="M2529 5443l23 50l-17-55l-22-16z" color="#fccf31"/><path d="M2393 5423l23 17l-17 49l-23-51z" color="#f9dc2b"/><path d="M2257 5435l22 50l-16-57l-23-17z" color="#fad52e"/><path d="M2704 5489l23-56l-17-22l-23 24z" color="#f3bd35"/><path d="M2432 5495l22-53l-17-22l-23 20z" color="#f1bc35"/><path d="M2295 5438l23-20l-17 13l-22 54z" color="#fbd42e"/><path d="M2606 5443l22 48l-16-54l-23-15z" color="#fbd230"/><path d="M2470 5426l22 17l-17 49l-23-50z" color="#f9dc2b"/><path d="M2333 5441l23 50l-17-56l-22-17zM2644 5442l23-22l-17 16l-23 55z" color="#fbd32f"/><path d="M2508 5498l23-55l-18-21l-22 21z" color="#f1bc35"/><path d="M2235 5489l23-54l-17-24l-23 21z" color="#f5bf35"/><path d="M2682 5441l23 48l-17-55l-23-14z" color="#fbd42e"/><path d="M2546 5427l23 17l-17 49l-23-50z" color="#f8dd2a"/><path d="M2409 5445l23 50l-17-55l-22-17z" color="#fbd32f"/><path d="M2274 5421l22 17l-17 47l-23-50z" color="#f7e128"/><path d="M2584 5498l23-55l-17-22l-23 23z" color="#f2bd35"/><path d="M2312 5495l23-54l-18-24l-22 21z" color="#f4bf35"/><path d="M2622 5427l23 16l-17 48l-23-48z" color="#f8df29"/><path d="M2486 5448l22 50l-16-56l-23-16z" color="#fbd32f"/><path d="M2350 5427l23 17l-18 47l-22-50z" color="#f7e029"/><path d="M2661 5498l22-56l-17-22l-23 23z" color="#f4be35"/><path d="M2388 5500l23-54l-17-23l-23 21z" color="#f3be35"/><path d="M2251 5442l23-20l-17 13l-22 54z" color="#fad82d"/><path d="M2562 5449l23 49l-17-55l-22-15z" color="#fbd42e"/><path d="M2290 5445l22 50l-16-57l-23-17z" color="#fad72d"/><path d="M2600 5449l23-22l-17 16l-22 55z" color="#fad52e"/><path d="M2464 5503l23-54l-17-23l-23 21z" color="#f3be35"/><path d="M2328 5448l23-21l-17 14l-23 54z" color="#fad72d"/><path d="M2638 5449l23 48l-17-55l-22-15z" color="#fad62d"/><path d="M2503 5433l22 16l-17 49l-23-49z" color="#f7e029"/><path d="M2366 5450l23 50l-17-57l-23-16z" color="#fad62d"/><path d="M2541 5505l23-55l-18-23l-22 22z" color="#f4bf35"/><path d="M2268 5500l23-54l-17-25l-23 22z" color="#f6c135"/><path d="M2579 5435l23 15l-18 48l-22-48z" color="#f7e128"/><path d="M2442 5454l23 49l-17-56l-22-16z" color="#fad62d"/><path d="M2306 5432l23 16l-17 47l-23-49z" color="#f6e327"/><path d="M2617 5506l23-56l-17-23l-23 23z" color="#f5bf35"/><path d="M2480 5455l23-21l-16 14l-23 55z" color="#fad62d"/><path d="M2345 5505l22-54l-17-24l-23 21z" color="#f5c035"/><path d="M2519 5456l22 49l-16-56l-23-15zM2557 5457l23-22l-17 14l-23 56z" color="#fad72d"/><path d="M2421 5509l23-55l-18-23l-22 22z" color="#f5c035"/><path d="M2284 5454l23-22l-17 13l-22 55z" color="#f9da2c"/><path d="M2595 5457l23 48l-17-56l-23-14z" color="#fad82d"/><path d="M2459 5440l23 16l-17 47l-23-49z" color="#f7e327"/><path d="M2322 5456l23 49l-16-57l-23-16z" color="#f9d92c"/><path d="M2497 5512l23-55l-17-24l-23 23z" color="#f5c035"/><path d="M2361 5458l23-21l-17 13l-23 55z" color="#f9d92c"/><path d="M2536 5442l22 15l-17 48l-23-48z" color="#f6e327"/><path d="M2399 5460l23 49l-17-57l-23-15z" color="#f9d92c"/><path d="M2574 5513l22-55l-17-23l-23 22z" color="#f6c135"/><path d="M2301 5512l23-55l-17-25l-23 22z" color="#f7c235"/><path d="M2475 5463l23 49l-17-57l-22-15z" color="#f9d92c"/><path d="M2339 5443l23 16l-17 46l-23-49z" color="#f6e526"/><path d="M2513 5464l23-22l-17 14l-22 56z" color="#f9d92c"/><path d="M2378 5516l22-55l-17-25l-23 23z" color="#f7c135"/><path d="M2551 5465l23 48l-16-56l-23-15z" color="#f9da2c"/><path d="M2416 5447l22 15l-17 47l-23-48z" color="#f6e526"/><path d="M2454 5519l23-55l-18-24l-22 22z" color="#f7c135"/><path d="M2317 5465l23-22l-17 13l-22 55z" color="#f9dc2b"/><path d="M2492 5449l23 16l-17 47l-23-48z" color="#f6e526"/><path d="M2355 5467l23 49l-17-58l-22-15z" color="#f9db2b"/><path d="M2530 5521l23-55l-17-24l-23 23z" color="#f7c235"/><path d="M2393 5469l23-22l-16 13l-23 56zM2432 5471l22 48l-16-57l-23-15zM2470 5472l23-22l-17 13l-22 56z" color="#f9db2b"/><path d="M2334 5523l23-55l-17-25l-23 22z" color="#f8c334"/><path d="M2508 5473l23 48l-17-57l-22-14z" color="#f9dc2b"/><path d="M2372 5454l23 15l-17 47l-23-49z" color="#f5e725"/><path d="M2410 5527l23-56l-17-24l-23 22z" color="#f8c335"/><path d="M2449 5457l22 15l-17 47l-23-48z" color="#f5e725"/><path d="M2487 5530l23-56l-18-25l-22 23z" color="#f8c334"/><path d="M2350 5477l23-23l-17 13l-22 56zM2388 5478l23 49l-17-58l-22-15zM2426 5480l23-22l-17 12l-22 57zM2465 5482l22 47l-16-57l-23-15z" color="#f8dd2a"/><path d="M2367 5535l23-56l-18-25l-22 23z" color="#f9c434"/><path d="M2405 5466l23 15l-17 46l-23-48z" color="#f5e924"/><path d="M2443 5538l23-56l-17-25l-23 23z" color="#f9c434"/><path d="M2383 5489l23-23l-17 12l-22 57zM2421 5490l23 48l-17-58l-22-14z" color="#f8df29"/><path d="M2400 5547l23-56l-18-25l-22 23z" color="#f9c534"/></g>
<path d="M326.9 590L240 612.1L174.2 583.4L174.2 520.1M240 612.1l-2 -0.9M283.4 601l-2 -0.9M326.9 590l-2 -0.9M240 612.1l2.1 -0.5M207.1 597.8l2.1 -0.5M174.2 583.4l2.1 -0.5M174.2 568.8l2.1 -0.5M174.2 554.1l2.1 -0.5M174.2 539.4l2.1 -0.5M174.2 524.8l2.1 -0.5" fill="none" stroke="#262626" stroke-width="0.7"/>
<text transform="translate(244.7 620.8) scale(1.3 1)" class="t3" text-anchor="start" style="font-size:6.2px">-20</text>
<text transform="translate(288.1 609.8) scale(1.3 1)" class="t3" text-anchor="start" style="font-size:6.2px">0</text>
<text transform="translate(331.6 598.7) scale(1.3 1)" class="t3" text-anchor="start" style="font-size:6.2px">20</text>
<text transform="translate(234 620.5) scale(1.3 1)" class="t3" text-anchor="end" style="font-size:6.2px">-20</text>
<text transform="translate(201.1 606.1) scale(1.3 1)" class="t3" text-anchor="end" style="font-size:6.2px">0</text>
<text transform="translate(168.2 591.8) scale(1.3 1)" class="t3" text-anchor="end" style="font-size:6.2px">20</text>
<text transform="translate(168.2 571) scale(1.3 1)" class="t3" text-anchor="end" style="font-size:6.2px">5</text>
<text transform="translate(168.2 556.3) scale(1.3 1)" class="t3" text-anchor="end" style="font-size:6.2px">10</text>
<text transform="translate(168.2 541.7) scale(1.3 1)" class="t3" text-anchor="end" style="font-size:6.2px">15</text>
<text transform="translate(168.2 527) scale(1.3 1)" class="t3" text-anchor="end" style="font-size:6.2px">20</text>
<text x="250" y="496" class="ti3" text-anchor="middle" textLength="71" lengthAdjust="spacingAndGlyphs" style="font-size:7.7px">Objective space</text>
<text transform="translate(291 623.3) scale(1.3 1)" class="l3" text-anchor="middle" style="font-size:7.1px">x<tspan dy="1.8" style="font-size:5.0px">1</tspan></text>
<text transform="translate(191.5 622.8) scale(1.3 1)" class="l3" text-anchor="middle" style="font-size:7.1px">x<tspan dy="1.8" style="font-size:5.0px">2</tspan></text>
<text transform="translate(148.3 551.8) rotate(-90) scale(1 1.3)" class="l3" text-anchor="middle" style="font-size:7.1px" textLength="40" lengthAdjust="spacingAndGlyphs">F10( x<tspan dy="1.8" style="font-size:5.0px">1</tspan><tspan dy="-1.8"> , x</tspan><tspan dy="1.8" style="font-size:5.0px">2</tspan><tspan dy="-1.8"> )</tspan></text>
<path d="M240.7 751.6L176.4 723.6L176.4 662.9M282.9 740.8L218.6 712.8L218.6 652.1M325.1 730L260.8 702L260.8 641.3M240.7 751.6L325.1 730L325.1 669.3M208.6 737.6L293 716L293 655.3M176.4 723.6L260.8 702L260.8 641.3M176.4 723.6L260.8 702L325.1 730M176.4 699.7L260.8 678.1L325.1 706.1M176.4 675.8L260.8 654.2L325.1 682.2" fill="none" stroke="#e2e2e2" stroke-width="0.6"/>
<g fill="none" stroke-width="0.7" opacity="1"><path d="M262.3 735.7l-1.7 0.3l-1.8 0.1l-1.8 0.2l-2 0.1l-1.6 0.1l-2.6 0l-2.3 0l-0.9 0l-1.5-0.1l-0.9 0l-1.8-0.2l-2.5-0.2l-1.9-0.3l-1.8-0.2l-1.7-0.4l-1.6-0.3l-1.2-0.3l-1.6-0.4l-1.3-0.5l-1.2-0.4l-1.1-0.4l-1-0.5l-1-0.5l-0.8-0.5l-0.8-0.6l-0.7-0.6l-0.6-0.6l-0.4-0.6l-0.4-0.6l-0.2-0.6l-0.1-0.8l0.1-0.8l0.3-0.8l0.5-0.9l0.8-0.8l0.8-0.7l0.8-0.6l1-0.5l1-0.6l0.9-0.4l1.4-0.5l1.2-0.4l1.4-0.4l1.3-0.4l1.5-0.4l1.5-0.3l1.5-0.3l1.7-0.2l1.7-0.3l1.8-0.1l1.8-0.2l2-0.1l1.6-0.1l2.6 0l2.3 0l0.9 0l1.5 0.1l0.9 0l1.8 0.2l2.5 0.2l1.9 0.3l1.8 0.2l1.7 0.4l1.6 0.3l1.2 0.3l1.6 0.4l1.3 0.5l1.2 0.4l1.1 0.4l1 0.5l1 0.5l0.8 0.5l0.8 0.6l0.7 0.6l0.6 0.6l0.4 0.6l0.4 0.6l0.2 0.6l0.1 0.8l-0.1 0.8l-0.3 0.8l-0.5 0.9l-0.8 0.8l-0.8 0.7l-0.8 0.6l-1 0.5l-1 0.6l-0.9 0.4l-1.4 0.5l-1.2 0.4l-1.4 0.4l-1.3 0.4l-1.5 0.4l-1.5 0.3l-1.5 0.3l-1.7 0.2" stroke="#45e"/><path d="M268.5 739.4l-1.1 0.2l-2.2 0.3l-1.8 0.2l-1.5 0.1l-2.2 0.2l-1.9 0.2l-2 0.1l-1.5 0l-2.8 0.1l-2.2 0l-0.9-0.1l-1.4 0l-1.2 0l-1.3-0.1l-1.2 0l-1.4-0.1l-0.9-0.1l-1.8-0.2l-2.4-0.2l-1.9-0.2l-1.9-0.3l-1.7-0.3l-1.7-0.3l-1.6-0.3l-1.6-0.4l-1.5-0.3l-1.4-0.4l-1.3-0.4l-1.3-0.4l-1.2-0.5l-1.2-0.4l-1.1-0.5l-1-0.4l-1-0.5l-0.9-0.5l-0.9-0.6l-0.8-0.5l-0.5-0.4l-0.9-0.7l-0.6-0.6l-0.4-0.5l-0.6-0.7l-0.4-0.7l-0.2-0.6l-0.2-0.7l-0.1-0.8l0-0.7l0.1-0.8l0.3-0.8l0.5-0.9l0.7-0.9l0.7-0.8l0.8-0.6l0.8-0.6l0.9-0.6l0.9-0.6l1-0.5l1-0.5l1.1-0.5l1.2-0.5l1.2-0.5l1.2-0.4l1.3-0.4l1.4-0.4l1.4-0.4l1.4-0.3l1.5-0.3l1.5-0.3l1.5-0.3l1.7-0.3l1.1-0.2l2.2-0.3l1.8-0.2l1.5-0.1l2.2-0.2l1.9-0.2l2-0.1l1.5 0l2.8-0.1l2.2 0l0.9 0.1l1.4 0l1.2 0l1.3 0.1l1.2 0l1.4 0.1l0.9 0.1l1.8 0.2l2.4 0.2l1.9 0.2l1.9 0.3l1.7 0.3l1.7 0.3l1.6 0.3l1.6 0.4l1.5 0.3l1.4 0.4l1.3 0.4l1.3 0.4l1.2 0.5l1.2 0.4l1.1 0.5l1 0.4l1 0.5l0.9 0.5l0.9 0.6l0.8 0.5l0.5 0.4l0.9 0.7l0.6 0.6l0.4 0.5l0.6 0.7l0.4 0.7l0.2 0.6l0.2 0.7l0.1 0.8l0 0.7l-0.1 0.8l-0.3 0.8l-0.5 0.9l-0.7 0.9l-0.7 0.8l-0.8 0.6l-0.8 0.6l-0.9 0.6l-0.9 0.6l-1 0.5l-1 0.5l-1.1 0.5l-1.2 0.5l-1.2 0.5l-1.2 0.4l-1.3 0.4l-1.4 0.4l-1.4 0.4l-1.4 0.3l-1.5 0.3l-1.5 0.3l-1.5 0.3l-1.7 0.3" stroke="#38e"/><path d="M279.1 741.1l-1.4 0.3l-1.6 0.3l-1.6 0.3l-1.6 0.3l-1.7 0.2l-1.7 0.3l-1.7 0.2l-1.8 0.2l-1.8 0.2l-1.9 0.1l-1.9 0.2l-2 0.1l-1.9 0.1l-2.2 0l-1.1 0.1l-1 0l-2 0l-2.5 0l-2.4-0.1l-2.4-0.1l-2.6-0.2l-2.5-0.1l-2.1-0.2l-1-0.1l-1.1-0.2l-1.9-0.2l-1.9-0.3l-1.5-0.2l-2-0.3l-1.7-0.3l-1.6-0.4l-1.6-0.3l-1.4-0.3l-1.5-0.4l-1.4-0.4l-1.4-0.4l-1.3-0.4l-1.2-0.5l-1.2-0.4l-1.2-0.4l-1-0.5l-1.1-0.5l-1-0.5l-0.9-0.4l-0.9-0.6l-0.9-0.5l-0.8-0.5l-0.7-0.6l-0.7-0.5l-0.7-0.6l-0.6-0.6l-0.5-0.6l-0.5-0.6l-0.4-0.7l-0.3-0.6l-0.3-0.7l-0.2-0.7l-0.1-0.7l0-0.7l0.1-0.8l0.2-0.8l0.3-0.8l0.5-0.9l0.6-0.8l0.6-0.7l0.6-0.7l0.8-0.7l0.8-0.6l0.7-0.5l1-0.7l0.9-0.5l1-0.6l1.1-0.5l1-0.5l1.2-0.5l1.1-0.4l1.2-0.5l1.3-0.4l1.3-0.5l1.3-0.3l1.3-0.4l1.4-0.4l1.4-0.4l1.5-0.3l1.4-0.3l1.6-0.3l1.6-0.3l1.6-0.3l1.7-0.2l1.7-0.3l1.7-0.2l1.8-0.2l1.8-0.2l1.9-0.1l1.9-0.2l2-0.1l1.9-0.1l2.2 0l1.1-0.1l1 0l2 0l2.5 0l2.4 0.1l2.4 0.1l2.6 0.2l2.5 0.1l2.1 0.2l1 0.1l1.1 0.2l1.9 0.2l1.9 0.3l1.5 0.2l2 0.3l1.7 0.3l1.6 0.4l1.6 0.3l1.4 0.3l1.5 0.4l1.4 0.4l1.4 0.4l1.3 0.4l1.2 0.5l1.2 0.4l1.2 0.4l1 0.5l1.1 0.5l1 0.5l0.9 0.4l0.9 0.6l0.9 0.5l0.8 0.5l0.7 0.6l0.7 0.5l0.7 0.6l0.6 0.6l0.5 0.6l0.5 0.6l0.4 0.7l0.3 0.6l0.3 0.7l0.2 0.7l0.1 0.7l0 0.7l-0.1 0.8l-0.2 0.8l-0.3 0.8l-0.5 0.9l-0.6 0.8l-0.6 0.7l-0.6 0.7l-0.8 0.7l-0.8 0.6l-0.7 0.5l-1 0.7l-0.9 0.5l-1 0.6l-1.1 0.5l-1 0.5l-1.2 0.5l-1.1 0.4l-1.2 0.5l-1.3 0.4l-1.3 0.5l-1.3 0.3l-1.3 0.4l-1.4 0.4l-1.4 0.4l-1.5 0.3" stroke="#1bc"/><path d="M261.2 746.3l-1.1 0.1l-2 0.1l-2.1 0.1l-1.7 0l-2.6 0.1l-2.2 0l-1.1 0l-1.2-0.1l-1.5 0l-0.9 0l-1.7-0.1l-0.7 0l-1.7-0.1l-0.9 0l-1.4-0.1l-1.2-0.1l-1.1-0.1l-1.7-0.1l-2.5-0.3l-2-0.2l-1.5-0.2l-2.3-0.3l-1-0.2M309.5 723.2l0.4 1l0.3 0.7l0.1 0.7l0.1 0.8l0 0.7l-0.1 0.8l-0.2 0.8l-0.2 0.5l-0.4 0.8l-0.4 0.8l-0.5 0.8l-0.5 0.5l-0.8 0.9l-0.7 0.6l-0.6 0.5l-0.9 0.8l-0.5 0.4M192 730.4l-0.4-1l-0.3-0.7l-0.1-0.7l-0.1-0.8l0-0.7l0.1-0.8l0.2-0.8l0.2-0.5l0.4-0.8l0.4-0.8l0.5-0.8l0.5-0.5l0.8-0.9l0.7-0.6l0.6-0.5l0.9-0.8l0.5-0.4M240.3 707.3l1.1-0.1l2-0.1l2.1-0.1l1.7 0l2.6-0.1l2.2 0l1.1 0l1.2 0.1l1.5 0l0.9 0l1.7 0.1l0.7 0l1.7 0.1l0.9 0l1.4 0.1l1.2 0.1l1.1 0.1l1.7 0.1l2.5 0.3l2 0.2l1.5 0.2l2.3 0.3l1 0.2" stroke="#6c7"/><path d="M250.7 749.1l-2.5-0.1l-2.3 0l-0.8 0l-1.6-0.1l-0.9 0l-1.6-0.1l-0.9 0l-1.6-0.1l-0.8 0l-1.8-0.2l-2.6-0.2M317.5 726.7l0 0.8l-0.2 0.8l-0.2 0.8l-0.3 0.8l-0.4 0.8l-0.6 0.9l-0.6 0.9M184 726.9l0-0.8l0.2-0.8l0.2-0.8l0.3-0.8l0.4-0.8l0.6-0.9l0.6-0.9M250.8 704.5l2.5 0.1l2.3 0l0.8 0l1.6 0.1l0.9 0l1.6 0.1l0.9 0l1.6 0.1l0.8 0l1.8 0.2l2.6 0.2" stroke="#db3"/><path d="M242.8 751.1l-1.2-0.1l-1.3 0l-1.2-0.1M323.5 729.3l-0.3 0.8M178 724.3l0.3-0.8M258.7 702.5l1.2 0.1l1.3 0l1.2 0.1" stroke="#ee2"/></g>
<g transform="scale(.1)" fill="currentColor" stroke="currentColor" stroke-width="5" stroke-linejoin="bevel"><path d="M2601 6509l29-45l-22-47l-28 45z" color="#f7e029"/><path d="M2574 6551l29-43l-22-47l-28 43zM2622 6553l28-45l-21-45l-28 45z" color="#fdc934"/><path d="M2547 6590l28-40l-21-47l-29 40z" color="#f1bb35"/><path d="M2595 6595l28-43l-21-45l-29 43z" color="#f0ba35"/><path d="M2643 6595l28-46l-21-42l-29 45z" color="#f1bb35"/><path d="M2520 6627l28-37l-22-48l-28 38z" color="#d2bf2d"/><path d="M2568 6634l28-40l-22-45l-28 40zM2616 6636l28-42l-22-43l-28 43z" color="#ccc02c"/><path d="M2664 6633l28-45l-22-40l-28 46z" color="#d2bf2d"/><path d="M2493 6662l28-36l-22-47l-28 35z" color="#adc63a"/><path d="M2541 6671l28-38l-22-45l-28 38z" color="#a3c741"/><path d="M2588 6676l29-41l-22-42l-28 40z" color="#9fc843"/><path d="M2636 6675l29-43l-22-39l-28 42z" color="#a3c741"/><path d="M2465 6693l29-32l-22-48l-28 33z" color="#88cb53"/><path d="M2684 6670l29-46l-22-37l-28 46z" color="#adc63a"/><path d="M2513 6705l29-35l-22-45l-28 35z" color="#7acb5f"/><path d="M2561 6712l29-37l-22-43l-28 38zM2609 6715l29-41l-22-40l-28 41z" color="#72cb64"/><path d="M2438 6723l28-30l-21-48l-29 30z" color="#66cc6e"/><path d="M2657 6712l28-43l-21-38l-28 43z" color="#7acb5f"/><path d="M2486 6737l28-32l-21-45l-29 32z" color="#55cc7c"/><path d="M2705 6704l28-46l-21-34l-28 45z" color="#88cb53"/><path d="M2534 6747l28-35l-21-43l-29 35z" color="#4dcb84"/><path d="M2582 6751l28-37l-21-40l-29 37z" color="#4bca86"/><path d="M2411 6750l28-28l-21-48l-29 28z" color="#4cca85"/><path d="M2630 6751l28-40l-21-38l-29 41z" color="#4dcb84"/><path d="M2459 6767l28-30l-22-46l-28 30z" color="#3ec893"/><path d="M2678 6745l28-42l-21-35l-29 43z" color="#55cc7c"/><path d="M2507 6779l28-33l-22-43l-28 33z" color="#34c69d"/><path d="M2726 6735l28-45l-21-33l-29 46z" color="#66cc6e"/><path d="M2555 6786l28-36l-22-40l-28 36z" color="#2fc5a1"/><path d="M2384 6774l28-25l-22-48l-28 25z" color="#3ac797"/><path d="M2603 6788l28-38l-22-37l-28 37z" color="#2fc5a1"/><path d="M2432 6793l28-27l-22-45l-28 27z" color="#29c4a6"/><path d="M2651 6785l28-41l-22-34l-28 40z" color="#34c69d"/><path d="M2480 6808l28-30l-22-43l-28 30z" color="#1dc1af"/><path d="M2699 6777l28-43l-22-32l-28 43z" color="#3ec893"/><path d="M2528 6817l28-32l-22-40l-28 32z" color="#15bfb5"/><path d="M2356 6796l29-23l-22-47l-28 22z" color="#2ac4a5"/><path d="M2747 6764l28-46l-22-29l-28 45z" color="#4cca85"/><path d="M2575 6822l29-35l-22-38l-28 36z" color="#13bfb7"/><path d="M2404 6818l29-25l-22-45l-28 25z" color="#16c0b4"/><path d="M2623 6822l29-38l-22-35l-28 38z" color="#15bfb5"/><path d="M2452 6835l29-28l-22-42l-28 27z" color="#0cbcbf"/><path d="M2671 6816l29-40l-22-32l-28 40z" color="#1dc1af"/><path d="M2500 6847l29-30l-22-40l-28 30z" color="#0db9c5"/><path d="M2329 6815l28-20l-21-47l-28 19z" color="#1dc1af"/><path d="M2719 6806l29-43l-22-30l-28 43z" color="#29c4a6"/><path d="M2548 6854l29-33l-22-37l-28 32z" color="#0eb7c9"/><path d="M2377 6840l28-23l-21-45l-28 22z" color="#0cbcc0"/><path d="M2767 6790l29-45l-22-27l-28 45z" color="#3ac797"/><path d="M2596 6856l29-35l-22-35l-28 35z" color="#0eb7c9"/><path d="M2425 6859l28-25l-21-43l-28 25z" color="#0fb6cb"/><path d="M2644 6853l29-38l-22-32l-28 38z" color="#0db9c5"/><path d="M2473 6874l28-28l-21-40l-29 28z" color="#11b2d3"/><path d="M2302 6832l28-17l-21-48l-29 17z" color="#11beb8"/><path d="M2692 6845l28-40l-21-30l-28 40z" color="#0cbcbf"/><path d="M2521 6883l28-30l-21-38l-29 31z" color="#13b0d7"/><path d="M2350 6859l28-20l-21-45l-29 20z" color="#0eb7c9"/><path d="M2740 6832l28-43l-21-27l-28 43z" color="#16c0b4"/><path d="M2569 6888l28-33l-21-35l-29 33z" color="#14aed8"/><path d="M2398 6881l28-22l-21-43l-29 22z" color="#12b1d6"/><path d="M2788 6814l28-45l-21-25l-28 46z" color="#2ac4a5"/><path d="M2617 6887l28-35l-21-32l-29 35z" color="#13b0d7"/><path d="M2446 6898l28-25l-21-40l-29 25z" color="#18abdc"/><path d="M2275 6847l28-15l-22-48l-28 15z" color="#0bbcbe"/><path d="M2665 6882l28-38l-21-30l-29 38z" color="#11b2d3"/><path d="M2494 6910l28-28l-22-37l-28 27z" color="#1da6e0"/><path d="M2323 6876l28-17l-22-46l-28 18z" color="#10b4d0"/><path d="M2713 6872l28-41l-21-27l-29 40z" color="#0fb6cb"/><path d="M2542 6917l28-30l-22-35l-28 30z" color="#1fa4e1"/><path d="M2371 6900l28-20l-22-42l-28 20z" color="#18abdb"/><path d="M2761 6856l28-43l-21-24l-29 43z" color="#0cbcc0"/><path d="M2590 6919l28-33l-22-32l-28 33z" color="#1fa4e1"/><path d="M2419 6920l28-23l-22-40l-28 23z" color="#20a3e2"/><path d="M2247 6859l29-13l-22-48l-28 13z" color="#0cbac2"/><path d="M2809 6836l28-46l-21-22l-29 46z" color="#1dc1af"/><path d="M2638 6916l28-35l-22-30l-28 35z" color="#1da6e0"/><path d="M2467 6934l28-25l-22-37l-28 25z" color="#249ee7"/><path d="M2295 6890l29-14l-22-46l-28 15z" color="#12b1d6"/><path d="M2686 6908l28-38l-22-27l-28 38z" color="#18abdc"/><path d="M2515 6944l28-28l-22-35l-28 28z" color="#269ae9"/><path d="M2343 6917l29-17l-22-43l-28 18z" color="#1da6e0"/><path d="M2734 6896l28-41l-22-25l-28 41z" color="#12b1d6"/><path d="M2563 6949l28-31l-22-32l-28 30z" color="#2798ea"/><path d="M2391 6939l29-20l-22-40l-28 20z" color="#259de7"/><path d="M2220 6868l28-10l-21-48l-28 10z" color="#0db9c5"/><path d="M2782 6878l28-43l-22-23l-28 44z" color="#0eb7c9"/><path d="M2610 6948l29-33l-22-30l-28 33z" color="#269ae9"/><path d="M2439 6956l29-22l-22-38l-28 23z" color="#2995ec"/><path d="M2268 6902l28-12l-21-45l-28 12z" color="#14aed8"/><path d="M2830 6855l28-46l-22-19l-28 45z" color="#11beb8"/><path d="M2658 6943l29-36l-22-27l-28 35z" color="#249ee7"/><path d="M2487 6968l29-25l-22-35l-28 25z" color="#2b90f0"/><path d="M2316 6932l28-15l-21-43l-28 15z" color="#21a2e3"/><path d="M2706 6932l29-38l-22-24l-28 38z" color="#20a3e2"/><path d="M2535 6975l29-27l-22-33l-28 28z" color="#2c8ef2"/><path d="M2364 6956l28-17l-21-41l-28 18z" color="#2897eb"/><path d="M2193 6875l28-7l-21-48l-28 7z" color="#0db9c5"/><path d="M2754 6917l29-41l-22-22l-28 41z" color="#18abdb"/><path d="M2583 6977l29-30l-22-30l-28 31z" color="#2c8ef2"/><path d="M2412 6976l28-20l-21-38l-28 20z" color="#2c8ef1"/><path d="M2241 6912l28-10l-21-45l-28 9z" color="#16adda"/><path d="M2802 6897l29-44l-22-19l-28 43z" color="#10b4d0"/><path d="M2631 6975l29-33l-22-28l-28 33z" color="#2b90f0"/><path d="M2460 6990l28-22l-21-36l-29 23z" color="#2f87f5"/><path d="M2289 6944l28-13l-21-43l-29 13z" color="#239fe5"/><path d="M2850 6871l29-45l-22-17l-28 45z" color="#0bbcbe"/><path d="M2679 6967l28-36l-21-25l-28 36z" color="#2995ec"/><path d="M2508 7000l28-25l-21-33l-29 25z" color="#3283f8"/><path d="M2337 6971l28-15l-21-41l-29 15z" color="#2a93ee"/><path d="M2166 6879l28-4l-21-48l-29 4z" color="#0db9c5"/><path d="M2727 6954l28-38l-21-22l-28 38z" color="#259de7"/><path d="M2556 7004l28-27l-21-30l-29 27z" color="#3281f8"/><path d="M2385 6993l28-18l-21-38l-29 18z" color="#2f88f5"/><path d="M2214 6919l28-8l-22-45l-28 7z" color="#17acda"/><path d="M2775 6936l28-41l-21-19l-28 40z" color="#1da6e0"/><path d="M2604 7004l28-31l-21-27l-29 31z" color="#3283f8"/><path d="M2262 6953l28-10l-22-43l-28 10z" color="#249ee7"/><path d="M2823 6913l28-43l-21-17l-28 43z" color="#12b1d6"/><path d="M2652 6999l28-33l-21-25l-29 33z" color="#2f87f5"/><path d="M2481 7022l28-23l-21-33l-29 23z" color="#3679fc"/><path d="M2310 6983l28-13l-22-40l-28 12z" color="#2b8ff0"/><path d="M2871 6885l28-45l-21-15l-28 46zM2139 6881l28-2l-22-48l-28 2z" color="#0cbac2"/><path d="M2700 6988l28-35l-21-23l-29 36z" color="#2c8ef1"/><path d="M2529 7029l28-26l-21-30l-29 26z" color="#3876fe"/><path d="M2358 7007l28-15l-22-38l-28 15z" color="#3283f8"/><path d="M2187 6923l28-5l-22-45l-28 5z" color="#16adda"/><path d="M2748 6973l28-38l-21-20l-29 38z" color="#2897eb"/><path d="M2577 7031l28-28l-22-28l-28 28z" color="#3876fe"/><path d="M2234 6960l29-7l-22-43l-28 7z" color="#259de7"/><path d="M2796 6952l28-40l-21-17l-29 40z" color="#21a2e3"/><path d="M2625 7028l28-31l-22-24l-28 30z" color="#3679fc"/><path d="M2282 6992l29-10l-22-40l-28 10z" color="#2c8ef2"/><path d="M2844 6927l28-43l-21-15l-29 44z" color="#14aed8"/><path d="M2111 6881l28 0l-21-48l-28 0z" color="#0bbcbe"/><path d="M2673 7020l28-33l-22-22l-28 33z" color="#337ff9"/><path d="M2502 7051l28-23l-22-30l-28 23z" color="#3e6cfd"/><path d="M2330 7019l29-12l-22-38l-28 12z" color="#337ff9"/><path d="M2892 6897l28-46l-21-12l-29 46z" color="#0db9c5"/><path d="M2159 6925l28-2l-21-46l-28 3z" color="#14aed8"/><path d="M2721 7007l28-36l-22-19l-28 35z" color="#2f88f5"/><path d="M2550 7055l28-25l-22-28l-28 26z" color="#3f6bfd"/><path d="M2207 6965l28-5l-21-43l-28 5z" color="#249ee7"/><path d="M2769 6989l28-38l-22-17l-28 38z" color="#2a93ee"/><path d="M2597 7055l29-28l-22-25l-28 28z" color="#3e6cfd"/><path d="M2255 6999l28-7l-21-41l-28 8z" color="#2d8df2"/><path d="M2817 6966l28-40l-22-15l-28 41z" color="#239fe5"/><path d="M2084 6878l28 3l-21-48l-28-3z" color="#11beb8"/><path d="M2645 7049l29-30l-22-22l-28 30z" color="#3b71fe"/><path d="M2303 7028l28-9l-21-38l-28 10z" color="#357dfb"/><path d="M2865 6939l28-44l-22-12l-28 44z" color="#16adda"/><path d="M2132 6925l28 0l-21-46l-28 0z" color="#12b1d6"/><path d="M2693 7039l29-33l-22-20l-28 33z" color="#3778fd"/><path d="M2522 7077l29-23l-22-27l-28 22z" color="#4561fb"/><path d="M2913 6906l28-46l-22-9l-28 46z" color="#0db9c5"/><path d="M2180 6967l28-3l-21-43l-28 3z" color="#239fe5"/><path d="M2741 7024l29-36l-22-17l-28 35z" color="#3283f8"/><path d="M2570 7079l29-25l-22-25l-28 25z" color="#4561fb"/><path d="M2228 7004l28-5l-21-41l-28 5z" color="#2c8ef2"/><path d="M2789 7003l29-38l-22-15l-28 39z" color="#2b8ff0"/><path d="M2057 6873l28 5l-21-48l-28-6z" color="#1dc1af"/><path d="M2618 7076l29-28l-22-22l-28 28z" color="#4364fc"/><path d="M2276 7035l28-7l-21-38l-28 8z" color="#357cfb"/><path d="M2837 6978l29-41l-22-12l-28 41z" color="#249ee7"/><path d="M2105 6922l28 3l-21-46l-28-3z" color="#10b4d0"/><path d="M2666 7068l29-30l-22-20l-28 31z" color="#3f6afd"/><path d="M2885 6948l28-44l-21-9l-28 43z" color="#17acda"/><path d="M2153 6966l28 0l-21-43l-29 0z" color="#21a2e3"/><path d="M2714 7055l28-33l-21-17l-28 33z" color="#3a73fe"/><path d="M2933 6912l28-45l-21-7l-28 46z" color="#0db9c5"/><path d="M2201 7006l28-3l-21-40l-29 2z" color="#2b8ff0"/><path d="M2762 7038l28-36l-21-15l-28 36z" color="#337ff9"/><path d="M2030 6865l28 7l-22-48l-28-8z" color="#2ac4a5"/><path d="M2591 7101l28-26l-21-22l-29 25z" color="#4758f7"/><path d="M2249 7040l28-5l-21-38l-29 5z" color="#357dfb"/><path d="M2810 7015l28-38l-21-13l-28 39z" color="#2c8ef2"/><path d="M2078 6916l28 6l-22-46l-28-5z" color="#0eb7c9"/><path d="M2639 7095l28-28l-21-20l-29 28z" color="#465dfa"/><path d="M2297 7069l28-7l-22-35l-28 7z" color="#3e6cfd"/><path d="M2858 6987l28-41l-21-9l-28 41z" color="#259de7"/><path d="M2126 6963l28 3l-22-43l-28-3z" color="#1da6e0"/><path d="M2687 7085l28-31l-21-17l-29 31z" color="#4265fc"/><path d="M2906 6954l28-43l-21-7l-28 43z" color="#16adda"/><path d="M2174 7005l28 0l-22-40l-28 0z" color="#2a93ee"/><path d="M2735 7069l28-33l-21-14l-29 33z" color="#3c6ffd"/><path d="M2002 6854l28 10l-21-48l-28-10z" color="#3ac797"/><path d="M2954 6917l28-46l-21-5l-28 46z" color="#0cbac2"/><path d="M2221 7042l29-2l-22-38l-28 2z" color="#337ff9"/><path d="M2783 7049l28-36l-21-12l-29 36z" color="#357dfb"/><path d="M2050 6908l28 8l-21-45l-28-8z" color="#0cbcc0"/><path d="M2612 7120l28-26l-21-20l-29 26z" color="#4752f3"/><path d="M2269 7074l29-5l-22-36l-28 5z" color="#3d6dfd"/><path d="M2831 7024l28-38l-21-10l-29 38z" color="#2d8df2"/><path d="M2098 6958l28 5l-21-43l-28-5z" color="#18abdb"/><path d="M2660 7112l28-28l-22-18l-28 28z" color="#4758f7"/><path d="M2879 6994l28-41l-21-7l-29 41z" color="#249ee7"/><path d="M2146 7002l28 3l-21-41l-28-2z" color="#2897eb"/><path d="M2708 7099l28-31l-22-15l-28 31z" color="#4561fb"/><path d="M1975 6841l28 13l-21-48l-28-13z" color="#4cca85"/><path d="M2927 6958l28-43l-21-4l-29 43z" color="#14aed8"/><path d="M2194 7041l28 1l-21-38l-28-1z" color="#3283f8"/><path d="M2756 7081l28-33l-22-12l-28 33z" color="#3d6dfd"/><path d="M2023 6898l28 10l-21-45l-28-11z" color="#16c0b4"/><path d="M2975 6918l28-46l-22-2l-28 46z" color="#0bbcbe"/><path d="M2242 7076l28-3l-21-35l-28 2z" color="#3c6ffd"/><path d="M2804 7058l28-36l-22-9l-28 36z" color="#357cfb"/><path d="M2071 6950l28 7l-21-43l-28-7z" color="#12b1d6"/><path d="M2852 7030l28-38l-22-7l-28 38z" color="#2c8ef2"/><path d="M2119 6997l28 5l-21-41l-28-5z" color="#259de7"/><path d="M2680 7126l29-28l-22-15l-28 28z" color="#4754f4"/><path d="M1948 6826l28 15l-21-48l-28-15z" color="#66cc6e"/><path d="M2900 6998l28-41l-22-5l-28 41z" color="#239fe5"/><path d="M2167 7038l28 3l-21-38l-28-3z" color="#2f88f5"/><path d="M2728 7110l29-30l-22-13l-28 31z" color="#465efb"/><path d="M1996 6885l28 13l-21-46l-28-13z" color="#29c4a6"/><path d="M2947 6960l29-44l-22-1l-28 43z" color="#12b1d6"/><path d="M2215 7075l28 0l-21-35l-28 0z" color="#3a73fe"/><path d="M2776 7090l29-33l-22-10l-28 33z" color="#3e6cfd"/><path d="M2044 6939l28 11l-21-44l-28-10z" color="#0fb6cb"/><path d="M2995 6917l29-46l-22 1l-28 46z" color="#11beb8"/><path d="M2824 7065l29-36l-22-7l-28 36z" color="#357dfb"/><path d="M2092 6989l28 7l-21-40l-28-8z" color="#20a3e2"/><path d="M1921 6808l28 18l-21-49l-28-17z" color="#88cb53"/><path d="M2872 7034l29-38l-22-4l-28 38z" color="#2b8ff0"/><path d="M2140 7033l28 5l-21-38l-29-5z" color="#2c8ef1"/><path d="M2701 7137l29-28l-22-12l-28 28z" color="#4752f3"/><path d="M1969 6870l28 15l-21-46l-29-15z" color="#3ec893"/><path d="M2920 6999l28-41l-21-2l-28 41z" color="#21a2e3"/><path d="M2188 7072l28 3l-21-36l-29-2z" color="#3778fd"/><path d="M2749 7119l28-30l-21-10l-28 31z" color="#465efb"/><path d="M2017 6926l28 13l-21-43l-29-13z" color="#0cbcbf"/><path d="M2968 6959l28-43l-21 0l-28 44z" color="#10b4d0"/><path d="M2236 7107l28 0l-21-33l-29 0z" color="#4265fc"/><path d="M2797 7097l28-34l-21-7l-28 33z" color="#3d6dfd"/><path d="M2065 6978l28 10l-22-40l-28-10z" color="#18abdc"/><path d="M1893 6787l28 21l-21-48l-28-21z" color="#adc63a"/><path d="M3016 6914l28-46l-21 3l-28 46z" color="#1dc1af"/><path d="M2845 7069l28-36l-21-5l-28 36z" color="#337ff9"/><path d="M2113 7025l28 8l-22-38l-28-8z" color="#2995ec"/><path d="M1941 6852l28 17l-21-45l-28-18z" color="#55cc7c"/><path d="M2893 7036l28-38l-21-2l-28 38z" color="#2a93ee"/><path d="M2160 7067l29 5l-22-36l-28-5z" color="#337ff9"/><path d="M2722 7146l28-28l-21-10l-29 29z" color="#4751f2"/><path d="M1989 6911l28 15l-21-43l-28-15z" color="#1dc1af"/><path d="M2941 6998l28-41l-21 1l-28 41z" color="#1da6e0"/><path d="M2208 7104l29 2l-22-33l-28-2z" color="#3f6afd"/><path d="M2770 7126l28-31l-21-7l-29 31z" color="#465efb"/><path d="M2037 6965l28 13l-21-41l-28-12z" color="#11b2d3"/><path d="M1866 6765l28 22l-21-48l-28-23z" color="#d2bf2d"/><path d="M2989 6956l28-44l-21 3l-28 44z" color="#0eb7c9"/><path d="M2818 7101l28-34l-21-4l-29 33z" color="#3c6ffd"/><path d="M2085 7015l28 10l-21-38l-28-10z" color="#249ee7"/><path d="M1914 6831l28 21l-21-46l-28-20z" color="#7acb5f"/><path d="M3037 6908l28-46l-21 6l-28 46z" color="#2ac4a5"/><path d="M2866 7070l28-36l-21-2l-29 36z" color="#3283f8"/><path d="M2133 7059l28 8l-21-36l-28-8z" color="#2f87f5"/><path d="M1962 6893l28 18l-21-43l-28-18z" color="#34c69d"/><path d="M2914 7035l28-38l-21 0l-29 39z" color="#2897eb"/><path d="M2181 7098l28 5l-21-33l-28-5z" color="#3b71fe"/><path d="M2010 6950l28 15l-21-41l-28-15z" color="#0db9c5"/><path d="M1839 6739l28 25l-21-48l-28-25z" color="#f1bb35"/><path d="M2962 6995l28-41l-21 3l-29 41z" color="#18abdb"/><path d="M2791 7130l28-31l-22-4l-28 30z" color="#4561fb"/><path d="M2058 7002l28 12l-21-38l-28-12z" color="#1da6e0"/><path d="M1887 6808l28 23l-21-45l-28-23z" color="#a3c741"/><path d="M3010 6950l28-44l-21 6l-29 43z" color="#0cbcc0"/><path d="M2839 7102l28-33l-22-2l-28 33z" color="#3a73fe"/><path d="M2106 7048l28 11l-21-36l-28-10z" color="#2b90f0"/><path d="M1935 6873l28 20l-21-43l-28-20z" color="#4dcb84"/><path d="M3058 6900l28-46l-21 8l-29 46z" color="#3ac797"/><path d="M2887 7069l28-35l-22 0l-28 36z" color="#2f88f5"/><path d="M2154 7090l28 8l-21-33l-28-8z" color="#3679fc"/><path d="M1983 6932l28 18l-21-41l-28-18z" color="#15bfb5"/><path d="M1812 6711l28 28l-21-48l-28-28z" color="#fdc934"/><path d="M2934 7032l29-39l-22 3l-28 39z" color="#259de7"/><path d="M2031 6986l28 15l-21-38l-28-15z" color="#13b0d7"/><path d="M1860 6783l28 25l-21-45l-28-26z" color="#ccc02c"/><path d="M2982 6989l29-41l-22 6l-28 41z" color="#12b1d6"/><path d="M2811 7132l29-31l-22-2l-28 30z" color="#4265fc"/><path d="M2079 7036l28 12l-21-35l-28-13z" color="#269ae9"/><path d="M1908 6850l28 22l-21-43l-28-22z" color="#72cb64"/><path d="M3030 6941l29-43l-22 8l-28 43z" color="#16c0b4"/><path d="M2859 7101l29-33l-22 0l-28 34z" color="#3778fd"/><path d="M2127 7080l28 10l-21-33l-28-10z" color="#3283f8"/><path d="M1956 6912l28 20l-21-41l-29-20z" color="#2fc5a1"/><path d="M3078 6889l28-46l-21 10l-28 46z" color="#4cca85"/><path d="M1784 6681l28 30l-20-48l-29-30z" color="#f7e029"/><path d="M2907 7066l28-36l-21 3l-28 36z" color="#2c8ef1"/><path d="M2004 6968l28 18l-21-38l-29-18z" color="#0eb7c9"/><path d="M1832 6755l28 28l-20-46l-29-27z" color="#f0ba35"/><path d="M2955 7026l28-39l-21 6l-28 38z" color="#20a3e2"/><path d="M2051 7020l29 15l-21-35l-29-15z" color="#1fa4e1"/><path d="M1880 6824l28 26l-20-43l-29-26z" color="#9fc843"/><path d="M3003 6981l28-41l-21 8l-28 41z" color="#0fb6cb"/><path d="M2099 7067l29 13l-21-33l-29-13z" color="#2c8ef2"/><path d="M1928 6889l28 22l-20-40l-29-23z" color="#4bca86"/><path d="M3051 6930l28-43l-21 11l-28 43z" color="#29c4a6"/><path d="M2880 7098l28-34l-21 3l-28 34z" color="#337ff9"/><path d="M2147 7109l29 10l-21-31l-29-10z" color="#3876fe"/><path d="M1976 6948l28 20l-21-38l-28-20z" color="#13bfb7"/><path d="M3099 6875l28-46l-21 13l-28 46z" color="#66cc6e"/><path d="M1805 6725l28 30l-21-46l-28-30z" color="#fdc934"/><path d="M2928 7060l28-36l-21 6l-28 36z" color="#2995ec"/><path d="M2024 7002l28 18l-21-36l-28-17z" color="#14aed8"/><path d="M1853 6797l28 27l-21-43l-28-28z" color="#ccc02c"/><path d="M2976 7017l28-38l-21 8l-28 38z" color="#18abdc"/><path d="M2072 7051l28 16l-21-33l-28-16z" color="#2798ea"/><path d="M1901 6863l28 25l-21-40l-28-25z" color="#72cb64"/><path d="M3024 6970l28-41l-21 10l-28 41z" color="#0cbcbf"/><path d="M2120 7096l28 13l-21-31l-28-13z" color="#3281f8"/><path d="M1949 6925l28 23l-21-38l-28-23z" color="#2fc5a1"/><path d="M3072 6917l28-43l-21 13l-28 43z" color="#3ec893"/><path d="M2901 7092l28-33l-21 5l-29 33z" color="#2f87f5"/><path d="M1997 6982l28 20l-21-36l-28-20z" color="#0eb7c9"/><path d="M3120 6859l28-46l-21 16l-28 46z" color="#88cb53"/><path d="M1826 6766l28 30l-21-43l-28-30z" color="#f1bb35"/><path d="M2949 7052l28-36l-21 8l-29 36z" color="#249ee7"/><path d="M2045 7034l28 17l-21-33l-28-17z" color="#1fa4e1"/><path d="M1874 6835l28 28l-21-40l-28-28z" color="#a3c741"/><path d="M2997 7007l28-39l-21 11l-29 38z" color="#11b2d3"/><path d="M2093 7080l28 16l-21-31l-28-15z" color="#2c8ef2"/><path d="M1922 6900l28 25l-21-38l-28-25z" color="#4dcb84"/><path d="M3045 6956l28-41l-21 13l-29 41z" color="#1dc1af"/><path d="M1970 6959l28 23l-21-36l-28-23z" color="#15bfb5"/><path d="M3093 6901l28-43l-21 15l-29 44z" color="#55cc7c"/><path d="M2921 7084l29-34l-22 8l-28 34z" color="#2b90f0"/><path d="M2018 7013l28 20l-21-33l-28-20z" color="#13b0d7"/><path d="M3141 6841l28-46l-21 18l-29 46z" color="#adc63a"/><path d="M1846 6805l29 30l-21-40l-28-31z" color="#d2bf2d"/><path d="M2969 7041l29-36l-22 10l-28 36z" color="#1da6e0"/><path d="M2066 7062l28 18l-21-30l-28-18z" color="#269ae9"/><path d="M1894 6872l29 28l-21-38l-28-28z" color="#7acb5f"/><path d="M3017 6993l29-38l-22 13l-28 38z" color="#0db9c5"/><path d="M1942 6933l29 26l-21-36l-28-25zM3065 6941l28-41l-21 15l-28 41z" color="#34c69d"/><path d="M1990 6990l29 23l-21-33l-29-23z" color="#0db9c5"/><path d="M3113 6883l28-44l-21 19l-28 43z" color="#7acb5f"/><path d="M2038 7042l29 20l-21-30l-29-20z" color="#1da6e0"/><path d="M3161 6820l28-46l-21 21l-28 46z" color="#d2bf2d"/><path d="M1867 6841l29 31l-21-38l-29-31z" color="#adc63a"/><path d="M2990 7027l28-35l-21 13l-28 36z" color="#13b0d7"/><path d="M1915 6905l29 28l-21-35l-29-28z" color="#55cc7c"/><path d="M3038 6977l28-38l-21 15l-28 39z" color="#15bfb5"/><path d="M1963 6965l29 25l-21-33l-29-25z" color="#1dc1af"/><path d="M3086 6922l28-41l-21 18l-28 41z" color="#4dcb84"/><path d="M2011 7019l29 23l-21-30l-29-23z" color="#11b2d3"/><path d="M3134 6862l28-43l-21 20l-28 44z" color="#a3c741"/><path d="M2059 7068l29 21l-21-28l-29-20z" color="#249ee7"/><path d="M3182 6797l28-46l-21 23l-28 46z" color="#f1bb35"/><path d="M1888 6875l28 31l-20-36l-29-30z" color="#88cb53"/><path d="M3011 7012l28-36l-21 15l-28 36z" color="#0eb7c9"/><path d="M1936 6937l28 28l-20-33l-29-28z" color="#3ec893"/><path d="M3059 6959l28-39l-21 19l-28 38z" color="#2fc5a1"/><path d="M1984 6993l28 26l-20-30l-29-26z" color="#0cbcbf"/><path d="M3107 6901l28-41l-21 21l-28 41z" color="#72cb64"/><path d="M2031 7045l29 23l-20-27l-29-23z" color="#18abdc"/><path d="M3155 6839l28-44l-21 23l-28 44z" color="#ccc02c"/><path d="M3203 6771l28-46l-21 26l-28 46z" color="#fdc934"/><path d="M1908 6906l29 31l-20-32l-29-31z" color="#66cc6e"/><path d="M3032 6993l28-36l-21 18l-29 36z" color="#13bfb7"/><path d="M1956 6965l29 29l-20-30l-29-29z" color="#29c4a6"/><path d="M3079 6938l29-38l-21 20l-29 39z" color="#4bca86"/><path d="M2004 7020l29 26l-20-28l-29-26z" color="#0fb6cb"/><path d="M3127 6878l29-41l-21 23l-29 41z" color="#9fc843"/><path d="M3175 6813l29-44l-21 26l-29 44z" color="#f0ba35"/><path d="M3223 6743l29-46l-21 28l-29 46z" color="#f7e029"/><path d="M1929 6935l29 31l-21-30l-28-31z" color="#4cca85"/><path d="M1977 6991l29 29l-21-27l-29-29z" color="#16c0b4"/><path d="M3100 6915l28-39l-20 24l-29 38z" color="#72cb64"/><path d="M2196 7187l29 16l-21-17l-29-16z" color="#4265fc"/><path d="M3148 6852l28-41l-21 26l-28 41z" color="#ccc02c"/><path d="M3196 6785l28-44l-21 28l-28 44z" color="#fdc934"/><path d="M3025 7004l28-33l-21 21l-28 33z" color="#15bfb5"/><path d="M2121 7132l29 21l-21-19l-29-22z" color="#2f88f5"/><path d="M2682 7257l29-13l-21 5l-29 13z" color="#4640e1"/><path d="M1950 6961l29 31l-21-26l-29-32z" color="#3ac797"/><path d="M1998 7015l29 29l-21-24l-29-29z" color="#0cbcc0"/><path d="M2559 7287l29-5l-21 0l-29 5z" color="#4331c8"/><path d="M3121 6889l28-38l-21 25l-28 39z" color="#a3c741"/><path d="M2046 7064l29 27l-21-22l-29-26z" color="#18abdb"/><path d="M2607 7279l29-8l-21 3l-29 8z" color="#4436d1"/><path d="M3169 6824l28-41l-21 28l-28 41z" color="#f1bb35"/><path d="M2436 7284l29 3l-21-4l-29-3z" color="#4433cc"/><path d="M2998 7034l28-31l-21 20l-28 31z" color="#0db9c5"/><path d="M2094 7109l29 24l-21-19l-29-24z" color="#2897eb"/><path d="M2655 7266l29-10l-21 6l-29 10z" color="#463ede"/><path d="M2484 7289l29 0l-21-1l-29-1z" color="#4332c9"/><path d="M1971 6984l28 32l-20-24l-29-32z" color="#2ac4a5"/><path d="M2532 7288l29-2l-21 1l-29 2z" color="#4433cc"/><path d="M2019 7036l28 30l-20-22l-29-29z" color="#0eb7c9"/><path d="M2580 7283l29-5l-21 4l-29 5z" color="#4437d2"/><path d="M3141 6861l29-39l-21 29l-28 38z" color="#d2bf2d"/><path d="M2409 7279l29 5l-21-4l-29-6z" color="#4539d5"/><path d="M2238 7212l29 16l-21-11l-29-17z" color="#465efb"/><path d="M2628 7273l29-8l-21 6l-29 8z" color="#463edd"/><path d="M2457 7286l29 3l-21-2l-29-3z" color="#4436d1"/><path d="M2286 7236l29 14l-21-9l-29-14z" color="#4751f2"/><path d="M2676 7257l29-10l-21 9l-29 10z" color="#4747eb"/><path d="M3066 6955l29-33l-21 26l-28 33z" color="#55cc7c"/><path d="M2334 7256l29 11l-21-6l-29-12z" color="#4747eb"/><path d="M2163 7162l28 22l-21-14l-28-22z" color="#337ff9"/><path d="M2724 7237l29-12l-21 11l-29 12z" color="#4754f4"/><path d="M1992 7006l28 32l-21-22l-28-32z" color="#1dc1af"/><path d="M2553 7285l29-2l-21 4l-29 1z" color="#4539d5"/><path d="M3114 6895l29-36l-21 28l-28 36z" color="#adc63a"/><path d="M2382 7270l29 9l-21-4l-29-9z" color="#4640e1"/><path d="M2943 7084l29-25l-21 21l-29 25z" color="#18abdc"/><path d="M2211 7194l28 19l-21-11l-28-20z" color="#3d6dfd"/><path d="M2772 7212l29-15l-21 13l-29 15z" color="#4265fc"/><path d="M2040 7055l28 30l-21-19l-28-30z" color="#10b4d0"/><path d="M2601 7277l29-5l-21 7l-29 4z" color="#463ede"/><path d="M2429 7280l30 6l-21-1l-29-6z" color="#453cdb"/><path d="M2991 7037l29-28l-21 23l-29 28z" color="#0cbcbf"/><path d="M2259 7221l28 16l-21-9l-28-16z" color="#465efb"/><path d="M2820 7182l29-18l-21 16l-29 18z" color="#3778fd"/><path d="M2088 7099l28 27l-21-16l-28-27z" color="#21a2e3"/><path d="M2648 7264l30-7l-21 9l-29 7z" color="#4746ea"/><path d="M2477 7284l30 4l-21 1l-29-3z" color="#453bd8"/><path d="M3039 6984l29-30l-21 26l-29 30z" color="#3ec893"/><path d="M2306 7243l29 14l-21-7l-28-14z" color="#4752f3"/><path d="M2868 7146l29-20l-21 19l-29 20z" color="#2c8ef1"/><path d="M2135 7139l29 24l-21-14l-28-24z" color="#2b8ff0"/><path d="M2696 7246l30-9l-21 11l-29 10z" color="#4752f3"/><path d="M2525 7284l30 1l-21 4l-29-1z" color="#453cdb"/><path d="M3087 6927l28-34l-20 29l-29 33z" color="#88cb53"/><path d="M2354 7260l29 11l-21-4l-29-11z" color="#4749ed"/><path d="M2916 7106l28-23l-20 22l-29 22z" color="#20a3e2"/><path d="M2183 7173l29 22l-21-11l-29-22z" color="#357dfb"/><path d="M2744 7223l29-12l-20 14l-29 12z" color="#4561fb"/><path d="M2012 7025l29 32l-21-19l-29-32z" color="#11beb8"/><path d="M2573 7279l29-2l-20 6l-29 2z" color="#4640e1"/><path d="M2402 7272l29 9l-21-2l-29-8z" color="#4744e6"/><path d="M2963 7061l29-25l-20 23l-29 26z" color="#0fb6cb"/><path d="M2231 7203l29 19l-21-9l-29-19z" color="#3e6cfd"/><path d="M2792 7196l29-15l-20 16l-29 15z" color="#3a73fe"/><path d="M2060 7072l29 29l-21-16l-29-30z" color="#12b1d6"/><path d="M2621 7268l29-4l-20 9l-29 4z" color="#4747eb"/><path d="M2450 7279l29 6l-21 1l-29-6z" color="#4641e2"/><path d="M3011 7011l29-28l-20 26l-29 28z" color="#29c4a6"/><path d="M2279 7227l29 17l-21-6l-29-17z" color="#465efb"/><path d="M2840 7163l29-17l-20 19l-29 17z" color="#2f88f5"/><path d="M2108 7113l29 27l-21-13l-29-27z" color="#239fe5"/><path d="M2669 7253l29-7l-20 12l-29 7z" color="#4751f2"/><path d="M2498 7281l29 3l-21 5l-29-4z" color="#4641e2"/><path d="M3059 6956l29-31l-20 29l-29 30z" color="#66cc6e"/><path d="M2327 7247l29 14l-21-4l-29-14z" color="#4754f4"/><path d="M2888 7125l29-20l-20 22l-29 20z" color="#259de7"/><path d="M2156 7150l29 25l-21-12l-29-24z" color="#2c8ef2"/><path d="M2717 7232l29-9l-20 14l-29 10z" color="#465efb"/><path d="M2546 7278l29 1l-21 7l-29-1z" color="#4744e6"/><path d="M2375 7261l29 12l-21-1l-29-12z" color="#474def"/><path d="M2936 7082l29-22l-20 24l-29 23z" color="#12b1d6"/><path d="M2204 7182l29 22l-21-9l-29-21z" color="#357cfb"/><path d="M2765 7207l29-12l-21 17l-28 12z" color="#3c6ffd"/><path d="M2033 7041l29 32l-21-16l-29-32z" color="#0bbcbe"/><path d="M2594 7270l29-2l-21 10l-29 1z" color="#4749ed"/><path d="M2423 7271l29 9l-21 1l-29-9z" color="#4748ec"/><path d="M2984 7035l29-25l-20 27l-29 24z" color="#16c0b4"/><path d="M2252 7209l29 19l-21-6l-29-19z" color="#3d6dfd"/><path d="M2813 7177l29-15l-21 20l-28 14z" color="#3283f8"/><path d="M2081 7086l29 29l-21-14l-29-29z" color="#14aed8"/><path d="M2642 7257l29-4l-21 12l-29 4z" color="#4752f3"/><path d="M2471 7275l29 6l-21 5l-29-7z" color="#4747eb"/><path d="M3032 6982l29-27l-20 29l-29 27z" color="#4cca85"/><path d="M2300 7231l29 17l-21-4l-29-16z" color="#4561fb"/><path d="M2861 7142l29-17l-21 22l-28 17z" color="#2897eb"/><path d="M2129 7125l29 27l-22-11l-28-27z" color="#249ee7"/><path d="M2690 7239l29-6l-21 14l-29 7z" color="#465efb"/><path d="M2519 7275l29 3l-21 7l-29-3z" color="#4748ec"/><path d="M2348 7248l29 14l-21-1l-29-14z" color="#4758f7"/><path d="M2909 7101l29-19l-21 24l-28 20z" color="#18abdb"/><path d="M2177 7159l29 25l-22-9l-28-24z" color="#2d8df2"/><path d="M2738 7216l29-9l-21 17l-29 9z" color="#3d6dfd"/><path d="M2567 7269l29 2l-21 9l-29-1z" color="#474def"/><path d="M2396 7260l29 12l-21 1l-29-11z" color="#4752f3"/><path d="M2957 7056l29-22l-21 27l-28 22z" color="#0cbcc0"/><path d="M2225 7189l29 22l-22-7l-28-21z" color="#357dfb"/><path d="M2786 7189l29-12l-21 19l-29 12z" color="#337ff9"/><path d="M2054 7055l28 32l-21-14l-28-32z" color="#0cbac2"/><path d="M2615 7259l29-1l-21 11l-29 2z" color="#4754f4"/><path d="M2444 7267l29 9l-21 4l-29-9z" color="#474ff1"/><path d="M3005 7006l29-24l-21 29l-28 25z" color="#3ac797"/><path d="M2273 7213l29 19l-22-3l-28-19z" color="#3c6ffd"/><path d="M2834 7156l29-14l-21 22l-29 14z" color="#2a93ee"/><path d="M2102 7097l28 29l-21-11l-28-29z" color="#16adda"/><path d="M2663 7244l29-4l-21 14l-29 4z" color="#465efb"/><path d="M2492 7269l29 7l-21 6l-29-6z" color="#474ff1"/><path d="M2321 7233l29 16l-22-1l-28-16z" color="#4265fc"/><path d="M2882 7118l29-17l-21 25l-29 17z" color="#1da6e0"/><path d="M2150 7134l28 27l-21-9l-28-27z" color="#259de7"/><path d="M2711 7223l29-6l-21 17l-29 6z" color="#3e6cfd"/><path d="M2540 7266l29 4l-21 9l-29-3z" color="#4752f3"/><path d="M2369 7247l29 14l-22 2l-28-14z" color="#465dfa"/><path d="M2930 7076l29-20l-21 27l-29 20z" color="#0eb7c9"/><path d="M2198 7166l28 24l-21-6l-28-24z" color="#2c8ef2"/><path d="M2759 7198l29-9l-21 20l-29 9z" color="#357dfb"/><path d="M2588 7258l29 2l-22 12l-28-2zM2417 7257l29 11l-22 4l-28-11z" color="#4758f7"/><path d="M2978 7028l29-22l-21 30l-29 22z" color="#2ac4a5"/><path d="M2246 7193l28 22l-21-4l-28-22z" color="#337ff9"/><path d="M2807 7168l29-12l-21 22l-29 12z" color="#2b8ff0"/><path d="M2075 7067l28 32l-21-12l-28-32z" color="#0db9c5"/><path d="M2636 7246l29-2l-22 15l-28 1z" color="#4561fb"/><path d="M2465 7261l29 9l-22 7l-28-9z" color="#4757f6"/><path d="M2294 7215l28 19l-21-1l-28-19z" color="#3a73fe"/><path d="M2855 7133l29-15l-21 25l-29 14z" color="#21a2e3"/><path d="M2123 7106l28 29l-21-8l-28-30z" color="#17acda"/><path d="M2684 7228l29-4l-22 17l-28 4z" color="#3d6dfd"/><path d="M2513 7261l29 6l-22 9l-28-6z" color="#4758f7"/><path d="M2342 7232l28 16l-21 2l-29-17z" color="#3f6afd"/><path d="M2903 7092l29-16l-21 27l-29 17z" color="#10b4d0"/><path d="M2171 7140l28 27l-21-6l-29-27z" color="#249ee7"/><path d="M2732 7205l29-7l-22 20l-28 7z" color="#357cfb"/><path d="M2561 7255l29 4l-22 12l-28-4z" color="#465dfa"/><path d="M2390 7244l28 14l-21 4l-29-14z" color="#4364fc"/><path d="M2951 7047l28-19l-20 30l-29 19z" color="#1dc1af"/><path d="M2219 7170l28 24l-21-3l-29-25z" color="#2b8ff0"/><path d="M2780 7177l28-9l-21 22l-28 9z" color="#2c8ef2"/><path d="M2609 7245l28 1l-21 15l-28-1z" color="#4265fc"/><path d="M2438 7251l28 11l-21 7l-29-12z" color="#4561fb"/><path d="M2267 7194l28 22l-21-1l-29-22z" color="#3283f8"/><path d="M2828 7144l28-11l-21 25l-28 11z" color="#239fe5"/><path d="M2096 7076l28 32l-21-9l-29-32z" color="#0db9c5"/><path d="M2657 7230l28-2l-21 17l-28 2z" color="#3c6ffd"/><path d="M2486 7253l28 9l-21 9l-29-9z" color="#4561fb"/><path d="M2315 7214l28 19l-21 2l-29-20z" color="#3778fd"/><path d="M2876 7107l28-15l-21 28l-28 14z" color="#12b1d6"/><path d="M2144 7113l28 29l-21-6l-29-30z" color="#16adda"/><path d="M2705 7209l28-4l-21 20l-28 4z" color="#357dfb"/><path d="M2534 7250l28 6l-21 12l-29-6z" color="#4364fc"/><path d="M2363 7228l28 17l-21 4l-29-17z" color="#3b71fe"/><path d="M2924 7064l28-17l-21 30l-28 17z" color="#11beb8"/><path d="M2192 7145l28 26l-21-3l-29-27z" color="#239fe5"/><path d="M2753 7184l28-6l-21 22l-28 6z" color="#2d8df2"/><path d="M2582 7242l28 4l-21 14l-29-3z" color="#3f6afd"/><path d="M2411 7238l28 14l-21 7l-29-14z" color="#3e6cfd"/><path d="M2239 7171l29 25l-21-1l-29-25z" color="#2a93ee"/><path d="M2801 7154l28-9l-21 24l-28 10z" color="#249ee7"/><path d="M2630 7229l28 1l-21 17l-29-1z" color="#3a73fe"/><path d="M2459 7242l28 12l-21 9l-29-11z" color="#3f6bfd"/><path d="M2287 7193l29 22l-21 2l-29-22z" color="#2f88f5"/><path d="M2849 7119l28-12l-21 27l-28 12z" color="#14aed8"/><path d="M2116 7082l29 32l-22-6l-28-32z" color="#0db9c5"/><path d="M2678 7211l28-1l-21 20l-29 1z" color="#337ff9"/><path d="M2507 7242l28 9l-21 12l-29-9z" color="#3e6cfd"/><path d="M2335 7210l29 20l-22 4l-28-20z" color="#337ff9"/><path d="M2897 7078l28-14l-21 30l-28 14z" color="#0bbcbe"/><path d="M2164 7117l29 29l-22-4l-28-29z" color="#14aed8"/><path d="M2726 7189l28-4l-21 22l-29 4z" color="#2c8ef2"/><path d="M2554 7237l29 6l-21 14l-29-6z" color="#3b71fe"/><path d="M2383 7222l29 17l-22 7l-28-17z" color="#3679fc"/><path d="M2212 7146l29 27l-22-1l-28-27z" color="#21a2e3"/><path d="M2774 7161l28-7l-21 25l-29 7z" color="#259de7"/><path d="M2602 7226l29 4l-21 17l-29-4z" color="#3778fd"/><path d="M2431 7229l29 14l-22 10l-28-14z" color="#3876fe"/><path d="M2260 7171l29 24l-22 1l-28-24z" color="#2897eb"/><path d="M2822 7128l28-9l-21 27l-29 9z" color="#16adda"/><path d="M2650 7211l29 1l-21 20l-29-2z" color="#3283f8"/><path d="M2479 7232l29 11l-22 12l-28-12z" color="#3876fe"/><path d="M2308 7190l29 22l-22 4l-28-22z" color="#2c8ef1"/><path d="M2869 7090l29-11l-21 29l-29 12zM2137 7086l28 32l-21-3l-28-32z" color="#0cbac2"/><path d="M2698 7191l29-2l-21 22l-29 2z" color="#2b8ff0"/><path d="M2527 7229l29 8l-22 15l-28-9z" color="#3679fc"/><path d="M2356 7204l29 20l-22 6l-28-19z" color="#2f87f5"/><path d="M2185 7118l28 30l-21-2l-28-29z" color="#12b1d6"/><path d="M2746 7165l29-4l-22 25l-28 4z" color="#249ee7"/><path d="M2575 7221l29 6l-22 17l-28-6z" color="#337ff9"/><path d="M2404 7214l29 17l-22 9l-28-17z" color="#3283f8"/><path d="M2233 7145l28 27l-21 1l-28-26z" color="#1da6e0"/><path d="M2794 7135l29-7l-22 28l-28 6z" color="#17acda"/><path d="M2623 7208l29 3l-22 20l-28-4z" color="#2f88f5"/><path d="M2452 7219l29 14l-22 11l-28-14z" color="#3281f8"/><path d="M2281 7167l28 24l-21 4l-28-24z" color="#259de7"/><path d="M2842 7100l29-9l-22 29l-28 10z" color="#0db9c5"/><path d="M2671 7190l29 1l-22 22l-28-1z" color="#2a93ee"/><path d="M2500 7218l29 11l-22 15l-28-11z" color="#3283f8"/><path d="M2329 7184l28 22l-21 6l-28-21z" color="#2995ec"/><path d="M2158 7088l28 32l-21-1l-28-32z" color="#0bbcbe"/><path d="M2719 7167l29-1l-22 24l-28 2z" color="#239fe5"/><path d="M2548 7213l29 9l-22 16l-28-8z" color="#2f87f5"/><path d="M2377 7196l28 19l-21 9l-29-19z" color="#2b90f0"/><path d="M2206 7117l28 30l-21 1l-29-29z" color="#10b4d0"/><path d="M2767 7139l28-4l-21 28l-28 4z" color="#16adda"/><path d="M2596 7202l28 7l-21 19l-28-6z" color="#2c8ef1"/><path d="M2425 7203l28 17l-21 11l-29-16z" color="#2c8ef2"/><path d="M2254 7142l28 26l-21 4l-29-26z" color="#18abdb"/><path d="M2815 7107l28-7l-21 30l-28 7z" color="#0db9c5"/><path d="M2644 7187l28 4l-21 22l-28-4z" color="#2897eb"/><path d="M2473 7205l28 14l-21 14l-29-13z" color="#2c8ef2"/><path d="M2302 7161l28 24l-21 7l-29-24z" color="#20a3e2"/><path d="M2692 7167l28 1l-21 24l-28-1z" color="#21a2e3"/><path d="M2521 7202l28 12l-21 17l-29-12z" color="#2b90f0"/><path d="M2350 7176l28 21l-21 9l-29-21z" color="#249ee7"/><path d="M2179 7087l28 32l-21 1l-29-32z" color="#11beb8"/><path d="M2740 7141l28-1l-21 27l-28 2z" color="#14aed8"/><path d="M2569 7194l28 9l-21 20l-29-9z" color="#2995ec"/><path d="M2398 7185l28 19l-21 12l-29-19z" color="#269ae9"/><path d="M2227 7114l28 29l-22 4l-28-29z" color="#0eb7c9"/><path d="M2788 7111l28-4l-21 30l-28 4z" color="#0db9c5"/><path d="M2617 7182l28 6l-21 22l-29-6z" color="#259de7"/><path d="M2446 7190l28 16l-21 15l-29-17z" color="#2798ea"/><path d="M2275 7136l28 27l-22 6l-28-27z" color="#12b1d6"/><path d="M2665 7164l28 3l-21 25l-29-4z" color="#1da6e0"/><path d="M2494 7189l28 14l-21 17l-29-14z" color="#269ae9"/><path d="M2323 7153l28 24l-22 9l-28-24z" color="#18abdc"/><path d="M2713 7141l28 1l-21 27l-29-1z" color="#12b1d6"/><path d="M2542 7184l28 11l-21 20l-29-12z" color="#249ee7"/><path d="M2371 7165l28 21l-22 12l-28-22z" color="#1da6e0"/><path d="M2199 7084l29 31l-22 4l-28-32z" color="#1dc1af"/><path d="M2761 7113l28-1l-21 29l-29 2z" color="#0cbac2"/><path d="M2590 7174l28 8l-21 22l-29-8z" color="#20a3e2"/><path d="M2418 7172l29 19l-22 14l-28-19z" color="#1fa4e1"/><path d="M2247 7108l29 29l-22 7l-28-30z" color="#0cbcc0"/><path d="M2638 7158l28 6l-22 25l-28-6z" color="#18abdb"/><path d="M2466 7174l29 16l-22 17l-28-16z" color="#1fa4e1"/><path d="M2295 7127l29 27l-22 9l-28-27z" color="#0fb6cb"/><path d="M2686 7138l28 3l-22 28l-28-4z" color="#10b4d0"/><path d="M2514 7171l29 14l-22 19l-28-14z" color="#1da6e0"/><path d="M2343 7142l29 24l-22 12l-28-24z" color="#11b2d3"/><path d="M2733 7113l29 1l-22 29l-28-1z" color="#0bbcbe"/><path d="M2562 7163l29 11l-22 22l-28-11z" color="#18abdc"/><path d="M2391 7151l29 22l-22 14l-28-21z" color="#13b0d7"/><path d="M2220 7078l28 31l-21 7l-28-32z" color="#2ac4a5"/><path d="M2610 7150l29 9l-22 25l-28-9z" color="#12b1d6"/><path d="M2439 7156l29 19l-22 17l-28-19z" color="#14aed8"/><path d="M2268 7100l28 29l-21 9l-28-29z" color="#16c0b4"/><path d="M2658 7132l29 7l-22 27l-28-6z" color="#0eb7c9"/><path d="M2487 7156l29 16l-22 19l-28-16z" color="#13b0d7"/><path d="M2316 7117l28 26l-21 12l-28-27z" color="#0cbcbf"/><path d="M2706 7110l29 3l-22 30l-28-4z" color="#11beb8"/><path d="M2535 7150l29 14l-22 22l-28-14z" color="#11b2d3"/><path d="M2364 7129l28 24l-21 14l-28-24z" color="#0db9c5"/><path d="M2583 7140l29 11l-22 25l-28-12z" color="#0fb6cb"/><path d="M2412 7136l28 21l-21 17l-29-22z" color="#0eb7c9"/><path d="M2241 7069l28 32l-21 9l-29-32z" color="#3ac797"/><path d="M2631 7125l28 8l-21 27l-28-8z" color="#0cbcc0"/><path d="M2460 7138l28 19l-21 19l-29-19z" color="#0eb7c9"/><path d="M2289 7089l28 29l-21 11l-29-29z" color="#29c4a6"/><path d="M2679 7104l28 6l-21 30l-28-6z" color="#1dc1af"/><path d="M2508 7135l28 16l-21 22l-29-16z" color="#0db9c5"/><path d="M2337 7103l28 27l-21 14l-29-27z" color="#1dc1af"/><path d="M2556 7127l28 14l-21 24l-29-14z" color="#0cbcbf"/><path d="M2385 7113l28 24l-21 16l-29-24z" color="#15bfb5"/><path d="M2604 7114l28 11l-21 27l-29-11z" color="#16c0b4"/><path d="M2433 7117l28 22l-21 19l-29-21z" color="#13bfb7"/><path d="M2262 7058l28 32l-22 12l-28-32z" color="#4cca85"/><path d="M2652 7096l28 9l-21 29l-29-8z" color="#2ac4a5"/><path d="M2481 7117l28 19l-21 22l-29-19z" color="#15bfb5"/><path d="M2310 7075l28 30l-22 14l-28-30z" color="#3ec893"/><path d="M2529 7112l28 16l-21 24l-29-16z" color="#1dc1af"/><path d="M2358 7087l28 27l-22 17l-28-27z" color="#34c69d"/><path d="M2577 7101l28 14l-22 27l-28-14z" color="#29c4a6"/><path d="M2406 7094l28 24l-22 20l-28-24z" color="#2fc5a1"/><path d="M2625 7086l28 11l-22 29l-28-11z" color="#3ac797"/><path d="M2454 7097l28 21l-22 22l-28-22z" color="#2fc5a1"/><path d="M2282 7045l29 32l-22 14l-28-32z" color="#66cc6e"/><path d="M2501 7094l29 18l-22 25l-28-19z" color="#34c69d"/><path d="M2330 7060l29 29l-22 16l-28-29z" color="#55cc7c"/><path d="M2549 7086l29 16l-22 27l-28-16z" color="#3ec893"/><path d="M2378 7069l29 27l-22 19l-28-27z" color="#4dcb84"/><path d="M2597 7073l29 13l-22 30l-28-14z" color="#4cca85"/><path d="M2426 7074l29 24l-22 21l-28-24z" color="#4bca86"/><path d="M2474 7073l29 22l-22 24l-28-21z" color="#4dcb84"/><path d="M2303 7029l28 32l-21 16l-28-31z" color="#88cb53"/><path d="M2522 7068l29 19l-22 26l-28-18z" color="#55cc7c"/><path d="M2351 7041l28 29l-21 19l-28-29z" color="#7acb5f"/><path d="M2570 7057l29 17l-22 29l-28-16z" color="#66cc6e"/><path d="M2399 7048l28 27l-21 21l-29-26zM2447 7050l28 24l-21 24l-29-23z" color="#72cb64"/><path d="M2495 7047l28 22l-21 27l-29-22z" color="#7acb5f"/><path d="M2324 7011l28 31l-21 20l-29-32z" color="#adc63a"/><path d="M2543 7040l28 18l-21 30l-29-19z" color="#88cb53"/><path d="M2372 7020l28 29l-21 22l-29-29z" color="#a3c741"/><path d="M2420 7025l28 26l-21 25l-29-27z" color="#9fc843"/><path d="M2468 7025l28 23l-21 27l-29-24z" color="#a3c741"/><path d="M2516 7019l28 21l-21 30l-29-21z" color="#adc63a"/><path d="M2345 6990l28 32l-22 21l-28-31z" color="#d2bf2d"/><path d="M2393 6997l28 29l-22 24l-28-29zM2441 6999l28 27l-22 26l-28-26z" color="#ccc02c"/><path d="M2489 6996l28 24l-22 29l-28-23z" color="#d2bf2d"/><path d="M2365 6967l29 31l-22 24l-28-31z" color="#f1bb35"/><path d="M2413 6971l29 29l-22 27l-28-29z" color="#f0ba35"/><path d="M2461 6971l29 26l-22 30l-28-27z" color="#f1bb35"/><path d="M2386 6941l28 31l-21 27l-28-31zM2434 6943l28 29l-21 29l-29-29z" color="#fdc934"/><path d="M2407 6913l28 31l-21 29l-29-31z" color="#f7e029"/></g>
<path d="M325.1 730L240.7 751.6L176.4 723.6L176.4 662.9M240.7 751.6l-2 -0.9M282.9 740.8l-2 -0.9M325.1 730l-2 -0.9M240.7 751.6l2.1 -0.5M208.6 737.6l2.1 -0.5M176.4 723.6l2.1 -0.5M176.4 723.6l2.1 -0.5M176.4 699.7l2.1 -0.5M176.4 675.8l2.1 -0.5" fill="none" stroke="#262626" stroke-width="0.7"/>
<text transform="translate(244.6 760.1) scale(1.55 1)" class="t3" text-anchor="start" style="font-size:5.5px">-500</text>
<text transform="translate(286.8 749.2) scale(1.55 1)" class="t3" text-anchor="start" style="font-size:5.5px">0</text>
<text transform="translate(329 738.5) scale(1.55 1)" class="t3" text-anchor="start" style="font-size:5.5px">500</text>
<text transform="translate(234.5 759.2) scale(1.55 1)" class="t3" text-anchor="end" style="font-size:5.5px">-500</text>
<text transform="translate(202.4 745.2) scale(1.55 1)" class="t3" text-anchor="end" style="font-size:5.5px">0</text>
<text transform="translate(170.2 731.2) scale(1.55 1)" class="t3" text-anchor="end" style="font-size:5.5px">500</text>
<text transform="translate(171.8 725.6) scale(1.55 1)" class="t3" text-anchor="end" style="font-size:5.5px">0</text>
<text transform="translate(171.8 701.7) scale(1.55 1)" class="t3" text-anchor="end" style="font-size:5.5px">50</text>
<text transform="translate(171.8 677.8) scale(1.55 1)" class="t3" text-anchor="end" style="font-size:5.5px">100</text>
<text x="250" y="641" class="ti3" text-anchor="middle" textLength="71" lengthAdjust="spacingAndGlyphs" style="font-size:6.9px">Objective space</text>
<text transform="translate(294.5 762.2) scale(1.55 1)" class="l3" text-anchor="middle" style="font-size:6.4px">x<tspan dy="1.6" style="font-size:4.5px">1</tspan></text>
<text transform="translate(187.3 761.3) scale(1.55 1)" class="l3" text-anchor="middle" style="font-size:6.4px">x<tspan dy="1.6" style="font-size:4.5px">2</tspan></text>
<text transform="translate(148.5 693.6) rotate(-90) scale(1 1.55)" class="l3" text-anchor="middle" style="font-size:6.4px" textLength="38" lengthAdjust="spacingAndGlyphs">F11( x<tspan dy="1.6" style="font-size:4.5px">1</tspan><tspan dy="-1.6"> , x</tspan><tspan dy="1.6" style="font-size:4.5px">2</tspan><tspan dy="-1.6"> )</tspan></text>
<path d="M242.9 894.4L176.4 864.7L176.4 798.3M286.6 883.3L220.1 853.6L220.1 787.2M330.4 872.2L263.9 842.5L263.9 776.1M242.9 894.4L330.4 872.2L330.4 805.8M209.7 879.5L297.1 857.4L297.1 791M176.4 864.7L263.9 842.5L263.9 776.1M176.4 855.9L263.9 833.7L330.4 863.4M176.4 847L263.9 824.8L330.4 854.5M176.4 838.2L263.9 816L330.4 845.7M176.4 829.3L263.9 807.1L330.4 836.8M176.4 820.5L263.9 798.3L330.4 828M176.4 811.6L263.9 789.4L330.4 819.1M176.4 802.8L263.9 780.6L330.4 810.2" fill="none" stroke="#e2e2e2" stroke-width="0.6"/>
<g fill="none" stroke-width="0.6" opacity="1"><path d="M246.7 893l-1.9-0.2l-2.5-0.6l-1.5-0.8l-0.5-1l0.7-0.2l3 0.4l1.9 0.7l0.7 1l0.1 0.7M264.3 889l-3-0.4l-1.1-0.2l-1.2-0.4l-1.6-0.8l-0.7-0.4l-0.3-0.5l-0.2-1.1l-0.6-0.4l1.2 0.3l3.2 0.3l0.7 0.1l1.6 0.5l1.7 0.7l0.9 0.7l0.4 1.3M281.5 884.6l-3-0.4l-2.2-0.6l-1.7-0.7l-1.2-0.9l-0.3-1.1l-1.1-0.9l-3.2-0.3l-3.5-0.3l-1.2-0.1l-2.9 0l-0.8-0.1l-2.9 0.3l-1.6 0.8l-0.7 1.2l-0.3 0.5l0 0.9l-0.6 0.5l0 0.8l-2.1-0.3l-1.9 0l-2-0.2l-2.2-0.1l-1.6-0.1l-2.4-0.2l-2.1 0.2l-1.4-0.2l-0.3 0.6l-0.9 0.4l-0.4 1.1l-0.7 1.4l-1.4 1l-2.6 0l-0.8 0l-3-0.2l-1.3-0.2M299.3 880.1l-3.2-0.4l-0.6-0.1l-1.6-0.5l-1.6-0.7l-1-0.7l-0.2-1.4l-0.5-0.4l1.2 0.3l3 0.4l1.3 0.2l1.1 0.3l1.7 0.8l0.7 0.5l0.3 0.4l0.4 1M316.7 875.3l-2.1-0.3l-2.6-0.5l-1.5-0.8l-0.2-1l0.6-0.2l2.8 0.4l1.9 0.7l0.9 1l0.2 0.7M223.5 885.7l0.7-1.2l1.6-0.8l2.2-0.6l2.8-0.2l2.7-0.1l3.5-0.2l0.4-0.8l0.4-0.4l0.6-1l-0.4-0.4l-0.3-0.6l-0.8 0l-3 0.3l-2.6 0.3l-2.3 0.6l-2.1 0.5l-2.1 0.6l-2.4 0.5l-2.5 0.4l-2.6 0.3M250.1 877.4l2.2-0.3l0.7-0.4l-1.5-0.8l-1.4 0.3l-2.1 0.6l0.6 0.2l1.5 0.4M268.3 872.8l1.5-0.1l1.4-0.6l-0.7-0.6l-0.4-0.3l-2.5 0.5l-1.1 0.4l1.8 0.7M303.7 860.3l-0.9 0.3l-1.1 0.3l-2 0.7l-1.9 0.6l-1.8 0.8l-1.8 0.7l-1.7 0.6l-2 0.8l-2.3 0.5l-2.3 0.5l-2.1 0.6l-1.8 0.8l-1.4 0.8l1.2 0.6l1.1 0.2l3.1 0.1l1.3 0l2.2 0l1.5-0.8l1.1-1.1l1.5-0.8l2.2-0.6l2.7-0.3l2.6 0.1l1.1 0l2.2 0.3l1.5 0.8l0.2 1.1l-0.2 1l-1 1.1l-3 0.2l-3.8-0.2l-3.8-0.1l-1.3 0.2l-1.9-0.1l-0.8 1.1l-0.2 0.8l-0.3 0.6l-0.2 0.7l0.1 0.7l-0.6 0.6l0.2 0.8l-2.3-0.2l-1.5 0l-2.5-0.2l-1.6-0.1l-2.5 0l-1.1-0.1l-2.8 0.3l-1.5 0.9l-0.7 1.2l-0.2 1.5l0 1.3l2.2 0.6l2.9 0.3l2.2 0.7l1.7 0.8l1.2 0.8l0.3 1.1M208.7 879.1l1.8-0.7l1.7-0.7l2-0.7l2.3-0.5l2.3-0.5l2.1-0.6l1.8-0.8l1.4-0.9l-1.2-0.5l-1.1-0.2l-3.1-0.1l-1.3 0l-2.2-0.1l-1.5 0.9l-1.1 1l-1.5 0.9l-2.2 0.6l-2.7 0.3l-2.6-0.1l-1.1 0M234.6 870.9l2.5-0.5l1.1-0.4l-1.8-0.7l-1.5 0.1l-1.4 0.6l0.7 0.6l0.4 0.3M253.2 866.2l1.4-0.3l2.1-0.6l-0.6-0.3l-1.5-0.3l-2.2 0.3l-0.7 0.4l1.5 0.8M198.8 874.7l0-1.5l1-1.1l3-0.2l3.8 0.1l3.8 0.2l1.3-0.2l1.9 0.1l0.8-1.1l0.2-0.8l0.3-0.6l0.2-0.7l-0.1-0.7l0.6-0.6l-0.2-0.8l2.3 0.2l1.5 0l2.5 0.2l1.6 0.1l2.5 0l1.1 0.1l2.8-0.3l1.5-0.9l0.7-1.2l0.2-1.5l0-1.3l-2.2-0.6l-2.9-0.3l-2.2-0.7l-1.7-0.8l-1.2-0.8l-0.3-1.1l-0.3-0.7l1.9 0.3l3 0.3l2.2 0.7l1.7 0.7l1.2 0.9l0.3 1.1l1.1 0.9l3.2 0.3l3.5 0.3l1.2 0l2.9 0.1l0.8 0.1l2.9-0.3l1.6-0.8l0.7-1.2l0.3-0.5l0-0.9l0.6-0.5l0-0.8l2.1 0.3l1.9 0l2 0.2l2.2 0.1l1.6 0.1l2.4 0.2l2.1-0.2l1.4 0.2l0.3-0.6l0.9-0.4l0.4-1.1l0.7-1.4l1.4-1l2.6 0l0.8 0l3 0.2l1.3 0.2l1.8 0.2l1.9 0.7l0 0.8l-0.7 1.2l-1.6 0.8l-2.2 0.5l-2.8 0.3l-2.7 0.1l-3.5 0.2l-0.4 0.8l-0.4 0.4l-0.6 1l0.4 0.4l0.3 0.6l0.8-0.1l3-0.2l2.6-0.4l2.3-0.5l2.1-0.6l2.1-0.6l2.4-0.4l2.5-0.4l2.6-0.4l2.6-0.3l2.5-0.5l2.4-0.4l1.3-0.3l1-0.2M214.1 866.2l-1.2-0.3l-3-0.4l-1.3-0.2l-1.1-0.3l-1.7-0.8l-0.7-0.5l-0.3-0.4l-0.4-1.1l1-0.2l3.2 0.4l0.6 0.1l1.6 0.5l1.6 0.7l1 0.7l0.2 1.3l0.5 0.5M249.1 857.3l-1.2-0.3l-3.2-0.3l-0.7-0.1l-1.6-0.5l-1.7-0.7l-0.9-0.7l-0.4-1.3l1-0.3l3 0.4l1.1 0.2l1.2 0.4l1.6 0.8l0.7 0.4l0.3 0.5l0.2 1.1l0.6 0.4M194.4 869.7l-0.6-0.1l-2.8-0.4l-1.9-0.7l-0.9-1l-0.2-0.7l2.1 0.3l2.6 0.5l1.5 0.7l0.2 1.1M264.4 851.9l-0.7 0l-3-0.4l-1.9-0.7l-0.7-1l-0.1-0.8l1.9 0.3l2.5 0.6l1.5 0.8l0.5 1" stroke="#45e"/><path d="M244.7 893.9l-2.4-0.5l-2.2-0.6l-1.8-0.7l-1.5-0.8l-1.3-0.8l-1.8-0.8l-2.2-0.4M261.8 889.6l-2.4-0.5l-2.3-0.6l-1.9-0.7l-1.6-0.8l-0.7-0.4l-0.7-0.4l-1-0.4l-0.9-0.3l-2.8-0.4l-1.7-0.1l-2.8 0.2l-1.7 0.8l-0.4 0.8l0.3 0.7l1.7 1.1l1.9 0.7l1.8 0.7l1.5 0.8l1 0.9l0.9 0.9M279.1 885.2l-2.4-0.5l-1.6-0.4l-0.7-0.2l-2-0.7l-1.6-0.7l-1.5-0.8l-1.9-0.7l-2.9-0.4l-0.7-0.1l-2.9 0.3l-1.6 0.8l0.3 1.4l1.4 0.8l1.8 0.7l1.8 0.7l1.4 0.8l1 0.9l0.9 1M296.7 880.8l-2.5-0.6l-1.8-0.5l-2.4-0.7l-1.6-0.8l-1.4-0.8l-2-0.7l-2.9-0.4l-0.9 0l-2.8 0.3l-1.5 0.8l0.3 1.3l1.4 0.8l1.8 0.7l1.8 0.7l1.3 0.9l1.1 0.9l0.8 0.9M314.5 876.2l-2.4-0.5l-2.3-0.6l-1.9-0.7l-1.4-0.8l-1.4-0.8l-1.9-0.7l-0.8-0.1l-2-0.3l-2.3-0.1l-2.6 0.3l-1.5 0.9l-0.2 0.5l0.5 1.1l0.6 0.3l0.8 0.5l0.9 0.3l1 0.4l1.8 0.7l1.3 0.7l1.2 1l0.9 0.9M318.2 866.7l-2.7 0l-0.9 0l-2.6 0.3l-1.5 0.9l-0.3 1.3l0.7 1l1.6 0.7l1.9 0.7l1.9 0.7l1.5 0.8l1.1 0.9l1 0.9M194.4 872.8l-0.6-0.9l-1.6-0.7l-1.9-0.7l-1.9-0.7l-1.5-0.8l-1.1-0.9l-1-0.9l-0.7-0.6l-1.2-1.2l-1.7-0.8l-2.1-0.6M182.6 863.1l1.2 0.9l1.6 0.7l2.4 0.6l2.4 0.6l2.4 0.5l2.3 0.6l1.9 0.7l1.4 0.8l1.4 0.8l1.9 0.7l0.8 0.1l2 0.3l2.3 0.1l2.6-0.3l1.5-0.9l0.2-0.6l-0.5-1l-0.6-0.4l-0.8-0.4l-0.9-0.3l-1-0.4l-1.8-0.7l-1.3-0.7l-1.2-1l-0.9-0.9l-1-0.9l-0.8-0.5l-0.4-0.4l-1.7-0.7l-1.4-0.5l-0.6-0.2M200.6 858.6l0.8 0.4l0.5 0.4l1.7 0.7l2.1 0.7l2.3 0.5l2.5 0.6l1.8 0.4l2.4 0.8l1.6 0.8l1.4 0.8l2 0.7l2.9 0.4l0.9 0l2.8-0.3l1.5-0.8l-0.3-1.3l-1.4-0.8l-1.8-0.7l-1.8-0.8l-1.3-0.8l-1.1-0.9l-0.8-0.9l-1.1-0.9l-1.3-0.8l-0.7-0.4l-0.9-0.4l-1.9-0.7M218.1 854.1l1.5 0.8l1 0.4l0.7 0.3l2 0.7l2.3 0.6l2.4 0.5l1.6 0.4l0.7 0.2l2 0.7l1.6 0.7l1.5 0.8l1.9 0.7l2.9 0.4l0.7 0.1l2.9-0.3l1.6-0.8l-0.3-1.4l-1.4-0.8l-1.8-0.7l-1.8-0.7l-1.4-0.8l-1-0.9l-0.9-1l-1-0.9l-1-0.6l-1.9-1l-0.9-0.3l-1-0.4M235.5 849.7l1.3 0.8l1.7 0.8l1 0.2l1.1 0.4l2.3 0.6l2.4 0.5l2.3 0.6l1.9 0.7l1.6 0.8l0.7 0.4l0.7 0.4l1 0.3l0.9 0.4l2.8 0.4l1.7 0.1l2.8-0.2l1.7-0.8l0.4-0.8l-0.3-0.7l-1.7-1.1l-1.9-0.7l-1.8-0.7l-1.5-0.8l-1-0.9l-0.9-0.9l-1-0.8l-0.9-1.1l-1.7-0.7l-2.2-0.6M252.5 845.4l1.2 0.9l1.6 0.7l2.3 0.6l0.8 0.1l1.6 0.4l2.4 0.6l2.2 0.6l1.8 0.7l1.5 0.8l1.3 0.8l1.8 0.7l2.2 0.5l4.1 0.3l2.9-0.3l1.8-0.7l0.8-1.2" stroke="#37f"/><path d="M243.2 894.3l-0.8-0.1M260.2 890l-2.5-0.5l-2.5-0.5l-1.3-0.4l-1.2-0.2l-2.1-0.6l-2-0.7l-1.8-0.2l-0.1 0.7l1.2 0.9l1.2 0.8l1 0.9l0.8 1l0.7 1M277.6 885.6l-2.7-0.5l-2.5-0.5l-3-0.4l-2.2-0.6l-1.4-0.4l0.7 0.6l1.1 0.8l0.2 1l0.9 1.1l0.7 1M295.1 881.2l-2.6-0.5l-2.6-0.6l-2.9-0.4l-2.3-0.6l-1.4-0.4l0.7 0.6l1.1 0.9l0.4 1l0.8 1l0.7 1M312.9 876.6l-2.6-0.5l-2.5-0.5l-1.8-0.5l-2.7-0.7l-2.1-0.6l-1.9-0.2l0.1 0.7l1.2 0.8l1.3 0.8l0.8 1l0.9 0.9l0.7 1M329.2 871.7l-0.8-0.2l-2.4-0.5l-2.1-0.6l-1.7-0.8l-1.7-0.7l-2.2-0.6l-3.1 0.2l-0.7 0.8l0.2 0.5l0.6 0.4l1.6 0.8l1.5 0.7l1.3 0.9l0.9 0.9l0.5 0.7M183.6 867.9l-1.2-1.2l-1.3-0.9l-1.6-0.7l-1.7-0.8M183.9 862.8l1.6 0.8l1.7 0.7l2.1 0.6l2.5 0.6l2.6 0.5l2.5 0.5l1.8 0.5l2.7 0.7l2.1 0.6l1.9 0.2l-0.1-0.7l-1.2-0.8l-1.3-0.9l-0.8-0.9l-0.9-1l-0.7-0.9l-0.9-1l-1.2-0.8l-1.6-0.8l-1.7-0.7M201.6 858.3l1.6 0.8l1.8 0.7l2.1 0.6l1.7 0.4l0.8 0.1l2.6 0.5l2.6 0.6l2.9 0.4l2.3 0.6l1.4 0.4l-0.7-0.6l-1.1-0.9l-0.4-1l-0.8-1l-0.7-1l-0.8-1l-1.2-0.8l-1.6-0.8l-1.7-0.7M219.2 853.9l1.6 0.7l1.7 0.7l2.2 0.6l1.4 0.4l1 0.2l2.7 0.5l2.5 0.5l3 0.4l2.2 0.6l1.4 0.4l-0.7-0.6l-1.1-0.9l-0.2-0.9l-0.9-1.1l-0.7-1l-0.9-0.9l-1.2-0.9l-1.5-0.8l-1.7-0.7M236.5 849.4l1.6 0.8l1.8 0.7l2.1 0.6l2 0.5l3 0.6l2.5 0.5l1.3 0.4l1.2 0.2l2.1 0.6l2 0.6l1.8 0.3l0.1-0.7l-1.2-0.9l-1.2-0.8l-1-1l-0.8-0.9l-0.7-1l-0.9-0.9l-1.2-0.9l-1.6-0.8l-1.7-0.7M253.8 845.1l1.5 0.7l1.8 0.8l2.1 0.6l2.3 0.6l0.8 0.1l1.8 0.4l2.4 0.5l2.1 0.7l1.7 0.7l1.7 0.7l1.2 0.3l1.4 0.2l2.4 0l1.4-0.9l-1.1-0.9l-1.7-0.8l-1.6-0.7l-1.2-0.9l-0.9-0.9" stroke="#2ad"/><path d="M258.7 890.4l-1.3-0.2l-2.3-0.1l-1.3 0l-0.3 0.4l-0.6 0.7l0.3 0.6M276 886l-0.8-0.1l-3.2-0.1l-1.2 1.2M293.5 881.5l-0.8-0.1l-3.2 0l-1.1 1.1M311.3 877l-1.5-0.2l-2.1 0l-1.4 0l-0.8 1.1l0.3 0.5M329.4 872.5l-2.8-0.5l-3.7-0.1l-0.5 1.2l0.5 1M180.3 866.4l-1.9-1l-1.6-0.8M184.9 862.5l1.7 0.8l1.6 0.6l2.6 0.7l2.6 0.5l1.5 0.2l2.1 0l1.4 0l0.8-1.2l-0.3-0.4l-0.8-1l-1.1-0.9l-1.1-0.6l-1.9-1M202.6 858l1.8 0.8l1.9 0.7l2.2 0.5l2.7 0.5l0.8 0.2l3.2 0l1.1-1.1l-0.8-1.3l-1.1-0.9l-1.4-0.8l-1.6-0.8M220.2 853.6l1.7 0.7l1.9 0.7l2.3 0.6l2.6 0.5l0.8 0.1l3.2 0l1.2-1.1l-0.9-1.3l-1.1-0.9l-1.4-0.8l-1.6-0.7M237.6 849.2l1.7 0.7l1.9 0.7l2.2 0.6l2.6 0.5l1.3 0.2l2.3 0.1l1.3 0l0.3-0.5l0.6-0.6l-0.3-0.6l-0.7-1l-1.1-0.9l-1.5-0.8l-1.6-0.7M254.8 844.8l1.7 0.8l1.8 0.6l0.7 0.2l1.5 0.5l2.5 0.5l2.5 0.4l3.8 0.2l0.9-1.2l-0.7-1.1l-0.7-0.9" stroke="#1bb"/><path d="M327.1 873l-1.6 0.1l-0.4 0.4M186 862.3l1.8 0.7l2 0.6l2.4 0.6l3.9 0.1l0.7-1.2l-1-1l-1.3-0.8l-1.5-0.8M203.7 857.8l1.8 0.7l2 0.6l2.1 0.5l3.6 0.1l0.7-1l-0.8-1l-1.3-0.8l-1.5-0.8M221.2 853.3l1.8 0.7l2.1 0.7l2 0.5l3.6 0.1l0.7-1.1l-0.7-0.9l-1.3-0.9l-1.5-0.8M238.6 848.9l1.8 0.7l2 0.7l2.4 0.5l3.8 0.2l0.8-1.2l-1-1l-1.3-0.9l-1.5-0.7M255.8 844.6l1.8 0.7l1.9 0.6l2.4 0.6l1.2 0.2l2.2 0.1l1.4 0l0.5-0.5l0.5-0.6l-0.4-0.6l-1-0.9l-1.3-0.8l-1.6-0.8" stroke="#6c6"/><path d="M187.1 862l1.9 0.7l2.7 0.4l2.1 0.2l0.1-0.7l-0.6-1l-1.4-0.8M204.7 857.5l0.8 0.3l1.4 0.3l2.8 0.5l1.2 0.1l-0.5-1.5l-0.7-0.6M222.3 853.1l0.5 0.2l1.6 0.4l2.8 0.4l1.2 0.1l-0.4-1.4l-0.6-0.6l-0.6-0.3M239.6 848.7l1.7 0.6l3 0.5l2 0.2l0.2-0.8l-0.5-0.9l-1.5-0.9M256.8 844.3l1.9 0.7l1.5 0.5l0.7 0.1l3.5 0.3l0.7-1.4l-1.3-0.8l-1.4-0.8" stroke="#cb3"/><path d="M189.3 861.4l0.8 0.2M241.8 848.1l0.8 0.2M258.5 843.9l2.4 0.5l0.7 0.1l-1-1.2" stroke="#fc3"/></g>
<g transform="scale(.1)" fill="currentColor" stroke="currentColor" stroke-width="5" stroke-linejoin="bevel"><path d="M2590 7895l22-82l-17-34l-22 88z" color="#f9da2c"/><path d="M2628 7859l23 56l-17-40l-22-62z" color="#fec934"/><path d="M2667 7971l22 130l-17-43l-22-145z" color="#6ccc6a"/><path d="M2568 8074l22-181l-17-28l-22 198z" color="#a2c741"/><path d="M2607 7935l22-75l-17-47l-23 82z" color="#fcc834"/><path d="M2645 7925l22 48l-16-60l-23-54z" color="#eabb34"/><path d="M2546 8252l22-180l-16-11l-23 197z" color="#16adda"/><path d="M2585 8098l22-165l-17-40l-22 181z" color="#89cb52"/><path d="M2623 7993l23-69l-17-65l-23 75z" color="#e6bc33"/><path d="M2662 8002l22 41l-17-72l-22-48z" color="#a3c741"/><path d="M2563 8261l22-165l-17-24l-22 180z" color="#17acdb"/><path d="M2601 8141l23-150l-17-58l-23 165z" color="#59cc79"/><path d="M2640 8063l23-62l-18-78l-23 68z" color="#9dc845"/><path d="M2678 8075l23 36l-17-70l-23-41z" color="#4cca85"/><path d="M2717 8161l22 90l-17-39l-22-103z" color="#1aa9dd"/><path d="M2579 8289l23-150l-17-43l-22 165z" color="#1fa4e1"/><path d="M2618 8197l22-136l-17-70l-22 150z" color="#29c4a6"/><path d="M2656 8131l23-56l-17-75l-23 62z" color="#48ca89"/><path d="M2695 8132l22 31l-16-54l-23-36z" color="#17c0b4"/><path d="M2558 8355l22-68l-17-28l-23 74z" color="#3f6afd"/><path d="M2596 8331l22-136l-17-56l-22 150z" color="#2a93ee"/><path d="M2635 8252l22-123l-17-68l-22 136z" color="#0fb6cc"/><path d="M2673 8183l23-52l-18-58l-22 57z" color="#13bfb7"/><path d="M2711 8166l23 26l-16-30l-24-31z" color="#0fb6cc"/><path d="M2613 8372l22-122l-17-55l-22 136z" color="#357cfb"/><path d="M2651 8291l23-110l-17-52l-23 123z" color="#1fa4e2"/><path d="M2690 8212l23-47l-18-35l-23 52z" color="#10b5cf"/><path d="M2415 7965l23-80l-18-34l-22 87z" color="#fdc934"/><path d="M2453 7931l23 58l-17-40l-22-64z" color="#f3be35"/><path d="M2629 8398l23-109l-17-39l-23 122z" color="#4068fc"/><path d="M2492 8045l22 132l-17-43l-22-147z" color="#48ca89"/><path d="M2668 8308l22-98l-17-29l-22 110z" color="#2897eb"/><path d="M2393 8142l22-179l-17-27l-22 196z" color="#7fcb5a"/><path d="M2706 8225l23-42l-17-18l-23 47z" color="#14afd8"/><path d="M2432 8005l22-73l-17-47l-23 80z" color="#f3bd35"/><path d="M2470 7997l22 50l-16-60l-23-56z" color="#cbc12c"/><path d="M2646 8404l22-98l-17-17l-22 109z" color="#4560fb"/><path d="M2371 8319l22-179l-16-10l-23 195z" color="#21a3e3"/><path d="M2684 8310l23-87l-17-13l-23 98z" color="#2a93ee"/><path d="M2410 8166l22-163l-17-40l-22 179z" color="#65cc6f"/><path d="M2723 8236l23-38l-18-16l-22 43z" color="#17acda"/><path d="M2448 8063l23-67l-17-65l-23 73z" color="#c9c12b"/><path d="M2761 8226l23 13l-17-25l-23-16z" color="#1aa9dd"/><path d="M2487 8074l22 43l-17-72l-22-49z" color="#7acb5e"/><path d="M2799 8280l23 37l-16-33l-23-47z" color="#2c8df2"/><path d="M2663 8395l22-87l-17-2l-22 98z" color="#4462fb"/><path d="M2525 8183l22 105l-16-55l-23-118z" color="#13b0d7"/><path d="M2388 8328l22-164l-17-24l-22 179z" color="#21a2e3"/><path d="M2701 8310l22-76l-17-11l-22 87z" color="#2a93ee"/><path d="M2426 8209l23-148l-17-58l-23 163z" color="#40c891"/><path d="M2740 8259l22-34l-17-28l-23 38z" color="#1ca7df"/><path d="M2465 8133l23-60l-18-77l-23 66z" color="#77cb61"/><path d="M2778 8271l23 9l-17-43l-23-12z" color="#259de7"/><path d="M2641 8435l22-42l-17 9l-22 47z" color="#463fdf"/><path d="M2503 8148l23 37l-17-70l-23-43z" color="#31c6a0"/><path d="M2816 8334l23 29l-17-48l-22-36z" color="#3779fd"/><path d="M2679 8385l23-77l-17 0l-23 86z" color="#4069fc"/><path d="M2542 8235l22 92l-17-39l-22-105z" color="#259ce8"/><path d="M2404 8356l23-148l-17-44l-22 164z" color="#2799ea"/><path d="M2718 8324l22-67l-17-23l-22 76z" color="#2b91ef"/><path d="M2443 8266l22-135l-17-70l-22 148z" color="#10beb8"/><path d="M2756 8300l23-29l-17-47l-23 34z" color="#269be8"/><path d="M2481 8202l23-55l-17-75l-23 60z" color="#2ec5a2"/><path d="M2795 8329l22 5l-17-55l-22-9z" color="#2f87f5"/><path d="M2657 8421l23-38l-17 10l-23 42z" color="#474aed"/><path d="M2520 8205l22 32l-16-54l-23-37z" color="#0eb8c7"/><path d="M2833 8386l23 21l-17-46l-23-28z" color="#4560fb"/><path d="M2696 8389l22-67l-17-14l-22 76z" color="#3e6cfd"/><path d="M2421 8398l22-134l-17-57l-22 149zM2734 8357l23-58l-17-42l-23 67z" color="#3086f6"/><path d="M2460 8320l22-120l-17-69l-22 134z" color="#16adda"/><path d="M2773 8354l23-26l-18-59l-23 30z" color="#3185f6"/><path d="M2498 8253l23-49l-18-58l-22 55z" color="#0eb7c9"/><path d="M2811 8383l23 3l-17-54l-23-5z" color="#3e6cfd"/><path d="M2674 8421l23-34l-18-4l-22 37z" color="#4751f2"/><path d="M2536 8238l23 28l-16-30l-24-33z" color="#17acdb"/><path d="M2850 8421l22 14l-16-30l-23-21z" color="#474def"/><path d="M2712 8412l23-57l-17-33l-23 66z" color="#4265fc"/><path d="M2438 8439l22-121l-17-54l-22 133z" color="#3c6efd"/><path d="M2751 8402l23-49l-18-55l-23 58z" color="#3b71fe"/><path d="M2476 8359l23-108l-17-51l-23 120z" color="#2798eb"/><path d="M2789 8406l23-23l-17-56l-23 26z" color="#3f69fc"/><path d="M2515 8283l23-45l-18-35l-23 50z" color="#18aadc"/><path d="M2828 8421l23 0l-18-37l-22-2z" color="#4756f5"/><path d="M2240 8022l23-78l-18-35l-22 85z" color="#f8c434"/><path d="M2691 8441l22-30l-17-24l-23 33z" color="#474ef0"/><path d="M2729 8450l23-49l-18-46l-22 57z" color="#4755f5"/><path d="M2454 8465l23-107l-17-40l-23 121z" color="#475af9"/><path d="M2317 8105l22 134l-17-43l-22-149z" color="#38c799"/><path d="M2768 8447l22-42l-17-53l-23 49z" color="#4758f7"/><path d="M2493 8377l22-96l-17-30l-22 108z" color="#2e8af4"/><path d="M2806 8441l23-20l-18-40l-22 24z" color="#4753f3"/><path d="M2218 8197l22-177l-17-28l-22 194z" color="#6fcb67"/><path d="M2668 8430l23 10l-16-21l-24-14z" color="#474cef"/><path d="M2531 8296l23-41l-17-18l-23 45z" color="#20a3e2"/><path d="M2844 8436l23-3l-17-14l-23 1z" color="#474bee"/><path d="M2257 8062l22-72l-17-47l-23 79z" color="#ebbb34"/><path d="M2707 8475l23-26l-17-39l-23 30z" color="#4742e4"/><path d="M2295 8056l22 51l-16-60l-23-57z" color="#b9c432"/><path d="M2746 8487l23-41l-18-46l-23 49z" color="#4742e4"/><path d="M2471 8471l22-96l-17-18l-22 108z" color="#4752f3"/><path d="M2784 8475l23-35l-17-36l-23 42z" color="#4746e9"/><path d="M2196 8373l22-178l-16-11l-23 194z" color="#249ee6"/><path d="M2509 8379l23-85l-17-13l-23 96z" color="#3085f6"/><path d="M2823 8454l23-19l-18-16l-23 21z" color="#4749ec"/><path d="M2235 8221l22-161l-17-40l-22 177z" color="#56cc7b"/><path d="M2685 8468l23 7l-17-36l-23-10z" color="#4641e1"/><path d="M2548 8306l23-36l-18-16l-22 41z" color="#23a1e4"/><path d="M2273 8120l23-65l-17-65l-23 71z" color="#b8c433"/><path d="M2724 8509l23-23l-18-38l-23 26z" color="#4434cd"/><path d="M2586 8298l23 15l-17-25l-23-18z" color="#259ce8"/><path d="M2312 8132l22 45l-17-72l-22-51z" color="#65cc6f"/><path d="M2762 8509l23-35l-17-29l-23 41z" color="#4435cf"/><path d="M2624 8353l23 40l-16-33l-23-49z" color="#357cfb"/><path d="M2488 8462l22-85l-17-2l-22 96z" color="#4754f4"/><path d="M2350 8243l22 106l-16-54l-23-120z" color="#1aa9dd"/><path d="M2801 8482l23-30l-18-13l-23 36z" color="#463fde"/><path d="M2213 8381l22-162l-17-24l-22 177z" color="#259de7"/><path d="M2663 8438l23 30l-16-39l-24-38z" color="#474ff1"/><path d="M2526 8379l22-74l-17-11l-22 85z" color="#3086f6"/><path d="M2839 8450l23-17l-17 1l-23 19z" color="#474aed"/><path d="M2251 8264l23-146l-17-58l-23 161z" color="#36c79b"/><path d="M2702 8505l23 4l-18-36l-22-7z" color="#4332c9"/><path d="M2565 8330l22-33l-17-28l-23 37z" color="#269be8"/><path d="M2290 8190l23-59l-18-77l-23 64z" color="#64cc70"/><path d="M2603 8344l23 10l-17-43l-23-14z" color="#2c8ff1"/><path d="M2466 8500l22-40l-17 9l-22 45z" color="#4434cd"/><path d="M2916 8431l23-5l-17-4l-23 2z" color="#4756f5"/><path d="M2328 8206l23 39l-17-70l-23-45z" color="#22c2ab"/><path d="M2779 8510l23-29l-18-8l-22 36z" color="#4331c8"/><path d="M2641 8408l23 30l-17-47l-22-38z" color="#4166fc"/><path d="M2504 8452l23-75l-17 0l-23 84z" color="#475bf9"/><path d="M2367 8295l22 94l-17-39l-22-107z" color="#2a93ee"/><path d="M2817 8474l23-25l-17 3l-23 30z" color="#4641e2"/><path d="M2229 8409l23-147l-17-43l-22 162z" color="#2994ed"/><path d="M2680 8483l23 22l-17-39l-23-30z" color="#463ddb"/><path d="M2543 8393l22-65l-17-24l-22 75z" color="#3283f7"/><path d="M2855 8444l24-15l-17 4l-24 17z" color="#4750f2"/><path d="M2268 8320l22-132l-17-70l-22 146z" color="#0cbbc0"/><path d="M2581 8371l23-28l-17-46l-23 31z" color="#2c8df2"/><path d="M2894 8439l23-9l-17-7l-23 7z" color="#4756f6"/><path d="M2306 8258l23-53l-17-75l-23 59z" color="#22c2ab"/><path d="M2620 8401l22 7l-17-55l-22-11z" color="#3877fe"/><path d="M2482 8486l23-36l-17 10l-23 40z" color="#463edd"/><path d="M2933 8456l23-7l-18-24l-23 5z" color="#4752f3"/><path d="M2345 8263l22 34l-16-54l-23-39z" color="#10b4d1"/><path d="M2795 8497l23-25l-17 8l-23 30z" color="#4437d2"/><path d="M2658 8460l23 23l-17-47l-23-30z" color="#474ef0"/><path d="M2521 8456l22-65l-17-14l-22 74z" color="#465efb"/><path d="M2834 8464l23-21l-17 5l-23 25z" color="#4749ed"/><path d="M2246 8451l22-133l-17-56l-22 147z" color="#3381f8"/><path d="M2696 8511l23 16l-16-23l-24-23z" color="#4230c4"/><path d="M2559 8425l23-55l-17-42l-23 64z" color="#3777fd"/><path d="M2872 8451l23-13l-17-9l-23 15z" color="#4754f4"/><path d="M2285 8375l22-119l-17-68l-22 132z" color="#1ba8de"/><path d="M2598 8425l23-25l-18-58l-23 27z" color="#3875fe"/><path d="M2323 8310l23-48l-18-58l-22 53z" color="#10b3d1"/><path d="M2636 8455l23 5l-17-54l-23-7z" color="#475bf9"/><path d="M2499 8486l23-32l-18-4l-22 36zM2950 8493l22-9l-17-37l-23 7z" color="#4745e8"/><path d="M2361 8297l23 29l-16-30l-24-35z" color="#1ea5e0"/><path d="M2812 8482l23-20l-17 10l-23 24z" color="#4641e1"/><path d="M2675 8495l22 16l-16-30l-23-23z" color="#453cdb"/><path d="M2537 8479l23-55l-17-33l-23 64z" color="#4758f7"/><path d="M2851 8467l23-17l-18-8l-23 21z" color="#474ef0"/><path d="M2263 8492l22-119l-17-55l-22 133z" color="#4068fc"/><path d="M2576 8471l23-47l-18-55l-23 55z" color="#4462fb"/><path d="M2889 8476l23-12l-17-27l-23 13z" color="#474ff0"/><path d="M2301 8414l23-106l-17-52l-23 119z" color="#2a92ef"/><path d="M2614 8476l23-21l-17-56l-23 24z" color="#4759f8"/><path d="M2928 8503l22-10l-17-39l-23 9z" color="#4744e6"/><path d="M2340 8339l23-43l-18-35l-23 48z" color="#1ea5e1"/><path d="M2653 8493l23 2l-18-37l-22-4z" color="#4745e9"/><path d="M2065 8065l23-77l-18-34l-22 83z" color="#f9c434"/><path d="M2516 8506l22-28l-17-24l-23 31z" color="#4742e4"/><path d="M2966 8528l23-10l-17-35l-23 9z" color="#4437d1"/><path d="M2829 8482l23-17l-18-3l-23 20zM2554 8517l23-47l-18-47l-22 56z" color="#4748ec"/><path d="M2867 8489l23-14l-17-26l-23 17z" color="#474aee"/><path d="M2279 8518l23-106l-17-39l-23 119z" color="#4755f5"/><path d="M2142 8151l22 135l-17-43l-22-150z" color="#36c79b"/><path d="M2593 8515l22-39l-17-53l-23 47z" color="#474aed"/><path d="M2318 8432l22-95l-17-29l-22 106z" color="#3183f7"/><path d="M2631 8512l23-19l-18-40l-22 22z" color="#4744e6"/><path d="M2043 8238l22-175l-17-28l-22 192z" color="#73cb64"/><path d="M2493 8494l23 12l-16-22l-24-16z" color="#4641e2"/><path d="M2944 8538l23-10l-17-37l-23 10z" color="#4435ce"/><path d="M2356 8352l23-39l-17-18l-23 44z" color="#249de7"/><path d="M2807 8494l23-13l-17 0l-24 14z" color="#4743e4"/><path d="M2669 8508l23-1l-17-14l-23-1z" color="#453cda"/><path d="M2082 8104l22-70l-17-46l-23 76z" color="#ebbb34"/><path d="M2532 8540l23-24l-17-39l-23 28z" color="#4437d2"/><path d="M2845 8502l23-14l-17-23l-23 16z" color="#4746e9"/><path d="M2120 8100l22 53l-16-60l-23-59z" color="#b8c433"/><path d="M2571 8554l23-40l-18-45l-23 47z" color="#4436d1"/><path d="M2884 8524l23-11l-18-39l-22 13z" color="#463ede"/><path d="M2296 8524l22-94l-17-18l-22 106z" color="#474def"/><path d="M2609 8544l23-33l-17-37l-23 40z" color="#4538d4"/><path d="M2021 8412l22-176l-16-11l-23 192z" color="#23a0e5"/><path d="M2334 8433l23-83l-17-13l-23 95z" color="#347ffa"/><path d="M2784 8500l24-7l-17 1l-23 6z" color="#4641e1"/><path d="M2648 8524l23-17l-18-16l-23 20z" color="#453bd8"/><path d="M2060 8262l22-160l-17-39l-22 175z" color="#59cc79"/><path d="M2510 8531l23 9l-17-36l-23-12z" color="#4436d1"/><path d="M2373 8363l23-35l-18-15l-22 39z" color="#269ae9"/><path d="M2823 8512l23-11l-17-21l-23 13z" color="#4642e3"/><path d="M2098 8162l23-63l-17-65l-23 69z" color="#b9c432"/><path d="M2411 8357l23 16l-17-25l-23-20z" color="#2995ed"/><path d="M2862 8535l23-11l-18-37l-22 13z" color="#453bd8"/><path d="M2137 8176l22 47l-17-72l-22-53z" color="#64cc70"/><path d="M2587 8576l23-33l-17-30l-23 40z" color="#402bb5"/><path d="M2449 8413l23 41l-16-32l-23-51z" color="#3a72fe"/><path d="M2313 8515l22-83l-17-2l-22 94z" color="#474ff0"/><path d="M2762 8502l24-3l-17 1l-23-1z" color="#4742e3"/><path d="M2175 8289l22 108l-16-54l-23-122z" color="#1ba8de"/><path d="M2626 8551l23-28l-18-13l-23 33z" color="#4332c8"/><path d="M2038 8420l22-160l-17-24l-22 176z" color="#249fe5"/><path d="M2488 8500l23 31l-16-38l-24-41z" color="#4745e8"/><path d="M2351 8434l23-73l-18-11l-22 83z" color="#337ff9"/><path d="M2802 8520l23-8l-18-20l-23 7z" color="#4640e0"/><path d="M2664 8521l23-15l-17 1l-23 17z" color="#453cd9"/><path d="M2076 8305l23-145l-17-58l-23 160z" color="#38c799"/><path d="M2527 8569l23 5l-18-36l-22-8z" color="#3f2ab2"/><path d="M2390 8386l22-30l-17-28l-23 34z" color="#2994ed"/><path d="M2840 8545l23-10l-17-35l-23 11z" color="#4538d4"/><path d="M2115 8233l23-57l-18-78l-23 63z" color="#65cc6f"/><path d="M2428 8402l23 12l-17-43l-23-16z" color="#3086f6"/><path d="M2153 8250l23 41l-17-70l-23-47z" color="#22c2ab"/><path d="M2604 8577l23-27l-18-8l-22 34z" color="#3e28ad"/><path d="M2466 8468l23 32l-17-47l-22-40z" color="#465cfa"/><path d="M2329 8505l23-73l-17-1l-23 84z" color="#4755f5"/><path d="M2780 8525l23-6l-18-21l-23 3z" color="#4640e0"/><path d="M2642 8542l23-23l-17 3l-23 29z" color="#4434ce"/><path d="M2054 8448l23-145l-17-43l-22 160z" color="#2896ec"/><path d="M2505 8544l23 24l-17-38l-23-32z" color="#4433cc"/><path d="M2368 8447l22-63l-17-23l-22 73z" color="#357cfb"/><path d="M2818 8553l23-9l-17-34l-23 8z" color="#4436d1"/><path d="M2680 8515l24-14l-17 4l-24 15z" color="#4641e2"/><path d="M2093 8361l22-130l-17-71l-22 145z" color="#0cbcbf"/><path d="M2406 8428l23-27l-17-46l-23 30z" color="#3086f6"/><path d="M2131 8301l23-51l-17-76l-23 57z" color="#22c2ab"/><path d="M2445 8459l22 9l-17-55l-22-13z" color="#3d6efd"/><path d="M2307 8537l23-34l-17 10l-23 38z" color="#453ad7"/><path d="M2758 8530l23-6l-18-23l-23 3z" color="#4641e2"/><path d="M2170 8307l22 36l-16-54l-23-41z" color="#10b3d1"/><path d="M2620 8564l23-23l-17 8l-23 28z" color="#412cb9"/><path d="M2483 8520l23 24l-17-46l-23-31z" color="#4745e8"/><path d="M2346 8509l22-63l-17-14l-22 73z" color="#4758f7"/><path d="M2796 8560l23-7l-17-35l-23 5z" color="#4436d0"/><path d="M2659 8532l23-19l-17 6l-23 23z" color="#453cda"/><path d="M2071 8490l22-131l-17-56l-22 145z" color="#3183f7"/><path d="M2521 8573l23 17l-16-23l-23-24z" color="#3f29af"/><path d="M2384 8480l23-54l-17-42l-23 63z" color="#3b71fe"/><path d="M2697 8521l23-11l-17-9l-23 13z" color="#4745e7"/><path d="M2110 8416l22-117l-17-68l-22 130z" color="#1aa9dd"/><path d="M2423 8481l23-22l-18-59l-23 26z" color="#3d6dfd"/><path d="M2148 8353l23-46l-18-59l-22 52z" color="#10b4d1"/><path d="M2461 8514l23 6l-17-54l-23-9z" color="#4752f3"/><path d="M2324 8537l23-30l-18-4l-22 34z" color="#4641e1"/><path d="M2775 8567l22-7l-17-37l-23 5z" color="#4435cf"/><path d="M2186 8341l23 31l-16-29l-23-38z" color="#1ea5e1"/><path d="M2637 8549l23-18l-17 9l-23 23z" color="#4435ce"/><path d="M2500 8555l22 18l-16-30l-23-25z" color="#4434cd"/><path d="M2362 8532l23-53l-17-34l-23 63z" color="#4752f3"/><path d="M2675 8535l24-15l-18-7l-23 19z" color="#4640e1"/><path d="M2088 8531l22-117l-17-55l-22 131z" color="#3e6bfd"/><path d="M2401 8526l23-46l-18-54l-23 53z" color="#475bf9"/><path d="M2714 8546l23-10l-17-27l-23 11z" color="#4640e0"/><path d="M2126 8455l23-104l-17-52l-23 117z" color="#2a93ee"/><path d="M2439 8533l23-20l-17-56l-23 23z" color="#4752f2"/><path d="M2165 8382l23-42l-18-35l-23 47z" color="#1ea5e0"/><path d="M2478 8552l23 3l-18-37l-22-6z" color="#463edc"/><path d="M1890 8093l23-74l-18-35l-22 82z" color="#feca33"/><path d="M2341 8557l22-26l-17-24l-23 29z" color="#463edd"/><path d="M2791 8602l23-8l-17-36l-23 8z" color="#3f29b1"/><path d="M2654 8549l23-15l-18-4l-23 19z" color="#453bd9"/><path d="M2379 8570l23-45l-18-47l-22 54z" color="#4743e5"/><path d="M2692 8558l23-12l-17-27l-23 15z" color="#463ddb"/><path d="M2104 8558l23-105l-17-39l-23 117z" color="#4757f6"/><path d="M1967 8183l22 137l-17-43l-22-152z" color="#40c891"/><path d="M2418 8570l22-38l-17-53l-23 46z" color="#4743e6"/><path d="M2143 8473l22-93l-17-29l-22 104z" color="#3185f7"/><path d="M2456 8568l23-17l-18-39l-22 20z" color="#463ddc"/><path d="M1868 8265l22-174l-17-27l-22 190z" color="#8acb52"/><path d="M2318 8543l23 14l-16-21l-24-18z" color="#463edd"/><path d="M2769 8610l23-8l-17-37l-23 8z" color="#3f28ae"/><path d="M2181 8395l23-37l-17-18l-23 41z" color="#249ee6"/><path d="M2631 8559l24-11l-17 0l-24 12z" color="#4437d2"/><path d="M2494 8567l23 0l-17-14l-23-3z" color="#4434ce"/><path d="M1907 8133l22-68l-17-47l-23 75z" color="#f3be35"/><path d="M2357 8592l23-23l-17-39l-23 26z" color="#4433cc"/><path d="M2670 8569l23-12l-17-24l-23 15z" color="#4539d6"/><path d="M1945 8131l22 54l-16-59l-23-61z" color="#c9c12b"/><path d="M2396 8607l23-38l-18-45l-23 45z" color="#4331c8"/><path d="M2121 8563l22-92l-17-18l-22 105z" color="#474ff1"/><path d="M2434 8599l23-32l-17-36l-23 38z" color="#4433cb"/><path d="M1846 8437l22-174l-16-11l-23 191z" color="#1ba8de"/><path d="M2297 8500l22 43l-17-23l-22-52z" color="#4752f3"/><path d="M2159 8474l23-81l-17-13l-23 93z" color="#3380f9"/><path d="M2609 8563l24-5l-17 2l-23 3z" color="#4436d1"/><path d="M2473 8581l23-15l-18-16l-23 17z" color="#4434cd"/><path d="M1885 8289l22-158l-17-40l-22 174z" color="#70cb66"/><path d="M2335 8581l23 10l-17-36l-23-13z" color="#4433cc"/><path d="M2198 8406l23-33l-18-16l-22 37z" color="#269be9"/><path d="M2648 8578l23-10l-17-21l-23 11z" color="#4437d1"/><path d="M1923 8191l23-61l-17-65l-23 67z" color="#cbc12c"/><path d="M2374 8626l23-19l-18-39l-23 22z" color="#3e27ab"/><path d="M2236 8401l23 18l-16-24l-24-23z" color="#2994ed"/><path d="M2687 8602l23-10l-18-36l-22 11z" color="#4230c3"/><path d="M1962 8207l22 48l-17-72l-22-54z" color="#77cb61"/><path d="M2412 8629l23-31l-17-30l-23 38z" color="#3e27aa"/><path d="M2138 8554l22-81l-17-2l-22 92z" color="#4751f2"/><path d="M2451 8606l23-26l-18-14l-23 32z" color="#412dbb"/><path d="M1863 8445l22-158l-17-24l-22 174z" color="#1ca7de"/><path d="M2313 8548l23 33l-16-39l-24-42z" color="#4743e5"/><path d="M2176 8475l23-71l-18-11l-22 81z" color="#3381f9"/><path d="M2627 8583l23-6l-18-20l-23 5z" color="#4436d0"/><path d="M2489 8577l23-13l-17 1l-23 15z" color="#4435ce"/><path d="M1901 8332l23-143l-17-58l-23 158z" color="#48ca89"/><path d="M2352 8618l23 7l-18-35l-22-11z" color="#3e27ab"/><path d="M2215 8429l22-29l-17-28l-23 33z" color="#2995ed"/><path d="M1940 8261l23-55l-18-77l-23 61z" color="#7acb5e"/><path d="M1802 8439l23 70l-17 13l-23-77z" color="#4068fc"/><path d="M2253 8446l23 15l-17-44l-23-18z" color="#3086f6"/><path d="M1978 8281l23 43l-17-71l-23-48z" color="#2ec5a2"/><path d="M2429 8631l23-27l-18-7l-22 32z" color="#3e26a8"/><path d="M1841 8511l22-68l-17-8l-22 74z" color="#3e6cfd"/><path d="M2291 8515l23 33l-17-48l-22-41z" color="#475bf9"/><path d="M2154 8544l23-71l-17-1l-23 82z" color="#4758f7"/><path d="M2605 8587l23-4l-18-21l-23 1z" color="#4437d1"/><path d="M2017 8373l22 97l-17-39l-22-109z" color="#2798eb"/><path d="M2467 8597l23-21l-17 3l-23 26z" color="#422fc2"/><path d="M1879 8473l23-143l-17-43l-22 158z" color="#249fe5"/><path d="M2330 8592l23 26l-17-39l-23-33z" color="#4331c8"/><path d="M2193 8488l22-61l-17-23l-22 71z" color="#347efa"/><path d="M2505 8571l24-11l-17 3l-24 14z" color="#453bd8"/><path d="M1918 8388l22-129l-17-70l-22 143z" color="#18c0b3"/><path d="M1781 8272l22 169l-17 6l-22-186z" color="#16adda"/><path d="M2231 8470l23-24l-17-47l-23 28z" color="#3086f6"/><path d="M1956 8330l23-50l-17-75l-23 55z" color="#31c6a0"/><path d="M1819 8447l23 64l-18-2l-22-70z" color="#3c6efd"/><path d="M2270 8503l22 11l-17-55l-22-15z" color="#3d6dfd"/><path d="M2132 8575l23-33l-17 10l-23 37z" color="#463ddc"/><path d="M2583 8590l23-4l-18-23l-22 1z" color="#4538d4"/><path d="M1995 8338l22 37l-16-53l-23-43z" color="#0eb7c9"/><path d="M2445 8617l23-21l-17 8l-23 26z" color="#3f28ae"/><path d="M1858 8533l22-61l-17-29l-23 68z" color="#4068fc"/><path d="M2308 8566l23 26l-17-46l-23-33z" color="#4743e6"/><path d="M2171 8548l22-61l-17-14l-22 71z" color="#475bf9"/><path d="M2621 8622l23-6l-17-35l-23 4z" color="#412dbd"/><path d="M2484 8587l23-17l-17 5l-23 22z" color="#4436d0"/><path d="M1896 8515l22-129l-17-56l-22 143z" color="#2c8ef2"/><path d="M2346 8621l23 19l-16-23l-23-26z" color="#3e27aa"/><path d="M2209 8521l23-52l-17-42l-23 61z" color="#3a72fe"/><path d="M2522 8578l23-10l-17-9l-23 12z" color="#463edd"/><path d="M1935 8443l22-115l-17-69l-23 129z" color="#13b0d7"/><path d="M1797 8296l22 153l-16-8l-23-169z" color="#17acdb"/><path d="M2248 8524l22-21l-17-59l-23 25z" color="#3d6efd"/><path d="M1973 8381l23-44l-18-58l-22 49z" color="#0eb8c7"/><path d="M1836 8475l22 58l-17-22l-22-64z" color="#3f6afd"/><path d="M2286 8558l23 8l-17-53l-23-11z" color="#4752f2"/><path d="M2149 8575l23-29l-18-4l-22 32z" color="#4744e6"/><path d="M2599 8627l23-5l-17-37l-23 3z" color="#412ebe"/><path d="M2011 8371l23 34l-16-30l-23-39z" color="#18aadc"/><path d="M2461 8602l24-16l-17 9l-23 21z" color="#4230c4"/><path d="M1874 8569l23-55l-17-43l-23 61z" color="#4759f8"/><path d="M2324 8601l23 20l-16-30l-23-27z" color="#4433cb"/><path d="M2187 8572l23-53l-17-33l-23 61z" color="#4755f5"/><path d="M2500 8590l24-13l-18-7l-23 16z" color="#453bd8"/><path d="M1913 8557l22-116l-17-55l-22 129z" color="#3876fe"/><path d="M2226 8567l23-44l-18-55l-23 52z" color="#465cfa"/><path d="M1951 8482l23-102l-17-52l-23 115z" color="#259ce8"/><path d="M1814 8339l22 138l-17-28l-22-153z" color="#1fa4e1"/><path d="M2264 8576l23-18l-17-57l-23 21z" color="#4752f3"/><path d="M1990 8411l23-40l-18-35l-23 45z" color="#17acdb"/><path d="M2303 8596l23 5l-18-37l-22-8z" color="#463ddc"/><path d="M2166 8595l22-24l-17-25l-23 28z" color="#4641e2"/><path d="M2479 8602l23-13l-18-4l-23 17z" color="#4436d1"/><path d="M2204 8609l23-43l-18-47l-22 52z" color="#4745e8"/><path d="M2517 8612l23-10l-17-26l-23 13z" color="#4437d2"/><path d="M1929 8583l23-103l-17-39l-23 115z" color="#4462fb"/><path d="M2243 8611l22-36l-17-53l-23 44z" color="#4745e8"/><path d="M1968 8500l22-91l-17-30l-22 103z" color="#2c8ef2"/><path d="M1830 8395l23 124l-17-42l-22-138z" color="#2a93ee"/><path d="M2281 8611l23-15l-18-40l-22 18z" color="#463edc"/><path d="M2143 8579l23 15l-16-21l-24-19z" color="#4742e4"/><path d="M2006 8424l23-36l-17-18l-23 40z" color="#1ea5e1"/><path d="M2456 8610l24-9l-17 0l-24 11z" color="#4433cc"/><path d="M1868 8559l23 46l-16-36l-23-52z" color="#4749ed"/><path d="M2319 8611l23 3l-17-14l-23-5z" color="#4434cd"/><path d="M2182 8629l23-20l-17-39l-23 23z" color="#4436d1"/><path d="M2495 8622l23-10l-17-24l-23 13z" color="#4434ce"/><path d="M2221 8646l23-36l-18-45l-23 43z" color="#4433cc"/><path d="M1946 8588l22-90l-17-18l-22 103z" color="#4759f8"/><path d="M2259 8640l23-30l-17-36l-23 36z" color="#4434cd"/><path d="M1984 8501l23-79l-17-13l-23 91z" color="#2e8af4"/><path d="M1847 8449l22 112l-17-42l-22-124z" color="#357cfb"/><path d="M2298 8624l23-14l-18-16l-23 16z" color="#4434ce"/><path d="M2160 8617l23 12l-17-36l-23-16z" color="#4437d2"/><path d="M2023 8434l23-31l-18-15l-23 35z" color="#21a2e3"/><path d="M1885 8585l23 41l-17-21l-22-46z" color="#453cdb"/><path d="M2199 8663l23-17l-18-39l-23 21z" color="#3f2ab2"/><path d="M2061 8431l23 20l-16-24l-24-24z" color="#269be8"/><path d="M2237 8668l23-29l-17-30l-23 37z" color="#3f29af"/><path d="M3138 8437l23-34l-16 31l-24 30z" color="#269be8"/><path d="M1963 8579l22-79l-17-2l-22 90z" color="#465cf9"/><path d="M2276 8647l23-25l-18-13l-23 30z" color="#412ebe"/><path d="M2138 8582l23 35l-16-39l-24-44z" color="#4748ec"/><path d="M3039 8623l23-26l-16 22l-24 23z" color="#4434cd"/><path d="M2001 8502l23-69l-18-11l-22 79z" color="#2e8af4"/><path d="M2452 8633l23-5l-18-19l-23 3z" color="#4432cb"/><path d="M1864 8489l22 98l-17-26l-22-112z" color="#4068fc"/><path d="M2314 8620l23-12l-17 1l-23 14z" color="#4435cf"/><path d="M3216 8411l22 67l-17-14l-23-57z" color="#269ae9"/><path d="M2177 8654l23 9l-18-36l-22-12z" color="#402bb4"/><path d="M2040 8458l22-27l-17-28l-23 30z" color="#259ce8"/><path d="M1902 8591l23 35l-17 0l-23-41z" color="#4539d6"/><path d="M3117 8502l22-67l-17 27l-22 58z" color="#3086f6"/><path d="M2078 8477l23 16l-17-43l-23-20z" color="#2c8df2"/><path d="M2391 8611l23 1l-16-4l-24-4z" color="#453bd8"/><path d="M2254 8670l23-25l-18-7l-22 30z" color="#3e26a8"/><path d="M3155 8429l23-38l-17 12l-23 34z" color="#1ca7df"/><path d="M2116 8547l23 35l-16-48l-23-43z" color="#4462fb"/><path d="M3018 8615l23 7l-18 21l-23-5z" color="#4332c9"/><path d="M1979 8569l23-69l-17-1l-23 80z" color="#4363fb"/><path d="M2430 8635l23-3l-18-21l-23 0z" color="#4434ce"/><path d="M2292 8638l23-20l-17 4l-23 24z" color="#4330c5"/><path d="M2155 8626l22 28l-16-39l-23-35z" color="#4436d1"/><path d="M2018 8515l22-59l-17-24l-22 70z" color="#2f88f5"/><path d="M1880 8506l23 87l-17-6l-23-98z" color="#4560fb"/><path d="M2330 8614l24-10l-17 4l-24 11z" color="#453bd8"/><path d="M3232 8413l23 78l-17-13l-23-67z" color="#2799ea"/><path d="M2056 8499l23-23l-17-46l-23 26z" color="#2c8ff1"/><path d="M1919 8581l23 31l-18 14l-23-35z" color="#463fdf"/><path d="M2369 8613l23-3l-17-7l-23 1z" color="#463edd"/><path d="M3133 8503l23-76l-17 8l-23 67z" color="#2b91ef"/><path d="M2095 8534l22 13l-17-56l-22-16z" color="#3875fe"/><path d="M1957 8598l23-31l-17 10l-23 35z" color="#4748ec"/><path d="M2408 8636l23-2l-18-23l-22-1z" color="#4437d2"/><path d="M3172 8433l22-43l-17 0l-22 39z" color="#17acda"/><path d="M2133 8598l23 28l-17-46l-23-35z" color="#474aed"/><path d="M3034 8592l23 11l-17 20l-23-7z" color="#4641e1"/><path d="M1996 8573l22-59l-17-14l-22 69z" color="#4166fc"/><path d="M2446 8670l23-4l-17-35l-23 2z" color="#402cb8"/><path d="M2308 8628l24-15l-17 5l-23 20z" color="#4437d2"/><path d="M2034 8548l23-50l-17-42l-23 59z" color="#357cfb"/><path d="M1897 8508l22 75l-17 10l-22-87z" color="#4462fb"/><path d="M2347 8621l23-8l-17-9l-23 9z" color="#463edd"/><path d="M3249 8399l22 90l-17 2l-22-78z" color="#259de7"/><path d="M2073 8553l22-19l-17-59l-23 22z" color="#3877fe"/><path d="M1935 8571l23 27l-17 14l-23-30z" color="#474aed"/><path d="M2386 8640l23-4l-17-27l-23 3z" color="#4539d5"/><path d="M3150 8518l22-87l-17-4l-22 76z" color="#2a93ee"/><path d="M2111 8589l23 9l-17-53l-23-13z" color="#4759f8"/><path d="M1974 8598l23-26l-18-5l-22 31z" color="#474ff1"/><path d="M2424 8673l23-3l-17-37l-23 2z" color="#412dbb"/><path d="M3188 8435l23-47l-17 2l-23 43z" color="#14afd8"/><path d="M2149 8634l23 21l-16-30l-23-28z" color="#4538d4"/><path d="M3051 8583l23 15l-17 6l-23-11z" color="#474cef"/><path d="M2012 8597l23-50l-17-34l-23 60z" color="#455ffb"/><path d="M2325 8631l24-11l-18-8l-23 15z" color="#453cda"/><path d="M3227 8368l23 32l-18 15l-23-27z" color="#0fb6cc"/><path d="M2051 8594l23-42l-18-55l-23 50z" color="#4166fc"/><path d="M1914 8508l22 65l-17 10l-22-75z" color="#4069fc"/><path d="M2364 8646l23-7l-17-27l-23 7z" color="#453ad6"/><path d="M3265 8362l23 102l-17 25l-23-90z" color="#1aa9dd"/><path d="M3128 8602l23-86l-18-15l-22 76z" color="#4069fc"/><path d="M2089 8604l23-16l-17-56l-23 19z" color="#475bf9"/><path d="M1952 8575l23 23l-17 0l-23-26z" color="#4751f2"/><path d="M2403 8678l22-5l-17-39l-23 4z" color="#412ebe"/><path d="M2265 8648l23-8l-17 16l-23 9z" color="#422fc2"/><path d="M3167 8531l22-98l-17-2l-22 87z" color="#2a93ee"/><path d="M2128 8627l23 6l-18-37l-22-9z" color="#4744e6"/><path d="M3029 8536l23 48l-17 10l-23-40z" color="#455ffb"/><path d="M1991 8618l22-22l-17-25l-23 26z" color="#474cef"/><path d="M2303 8641l24-11l-18-4l-23 15z" color="#4539d4"/><path d="M3205 8420l22-52l-16 19l-23 48z" color="#10b5cf"/><path d="M2029 8634l23-41l-18-47l-22 50z" color="#474ff1"/><path d="M2342 8653l23-8l-17-26l-23 11z" color="#4538d4"/><path d="M3244 8326l22 37l-17 38l-23-32z" color="#17c0b4"/><path d="M2068 8638l22-34l-17-53l-23 42z" color="#474ef0"/><path d="M1930 8522l23 55l-17-4l-23-65z" color="#3e6cfd"/><path d="M2381 8683l23-6l-18-39l-23 6z" color="#422ebf"/><path d="M3282 8308l22 116l-17 41l-22-103z" color="#0dbac4"/><path d="M3145 8627l22-98l-17-13l-22 86z" color="#4462fb"/><path d="M2106 8640l23-14l-18-39l-22 16z" color="#4745e9"/><path d="M1968 8601l23 17l-16-21l-24-21z" color="#474ef0"/><path d="M2419 8713l23-5l-17-37l-23 5z" color="#3e26a8"/><path d="M2281 8648l24-8l-17 0l-24 9z" color="#4436d1"/><path d="M3183 8528l22-109l-16 14l-23 98z" color="#2897eb"/><path d="M2144 8642l23 4l-17-14l-23-7z" color="#453bd8"/><path d="M3046 8538l22 58l-17-11l-22-49z" color="#4166fc"/><path d="M2007 8653l23-19l-17-39l-23 22z" color="#4641e1"/><path d="M2320 8661l23-8l-17-24l-23 11z" color="#4437d1"/><path d="M3221 8383l23-57l-17 42l-22 52z" color="#13bfb7"/><path d="M3084 8620l23 23l-17-31l-23-18z" color="#4748ec"/><path d="M2046 8672l23-35l-18-45l-23 41z" color="#463ddb"/><path d="M2359 8689l23-7l-18-38l-22 8z" color="#412ebe"/><path d="M3260 8267l23 42l-17 55l-23-37z" color="#4cca85"/><path d="M2084 8667l23-28l-17-37l-23 35z" color="#453cdb"/><path d="M1947 8554l22 47l-17-24l-22-55z" color="#4265fc"/><path d="M2397 8718l23-5l-17-37l-23 5z" color="#3e26a8"/><path d="M3161 8636l23-110l-17 3l-23 98z" color="#4560fb"/><path d="M2123 8652l23-11l-18-16l-23 14z" color="#453cda"/><path d="M1985 8639l23 13l-17-36l-23-17z" color="#4742e4"/><path d="M2298 8666l23-6l-17-20l-23 7z" color="#4436d0"/><path d="M3200 8504l22-122l-17 36l-22 110z" color="#1fa4e2"/><path d="M3062 8552l23 68l-17-24l-23-58z" color="#4363fb"/><path d="M2024 8687l23-16l-18-39l-23 19z" color="#4332c9"/><path d="M2337 8694l23-6l-18-37l-22 8z" color="#412dbd"/><path d="M3238 8330l23-63l-16 60l-24 56z" color="#48ca89"/><path d="M3100 8644l23 27l-16-30l-23-22z" color="#463edc"/><path d="M2062 8694l23-28l-17-30l-23 35z" color="#4230c4"/><path d="M2375 8723l23-6l-17-36l-23 6z" color="#3e26a8"/><path d="M2101 8674l23-23l-18-13l-23 28z" color="#4435d0"/><path d="M1963 8602l23 37l-16-38l-24-47z" color="#4755f5"/><path d="M2864 8688l23-24l-16 23l-24 21z" color="#402bb4"/><path d="M2277 8669l23-3l-18-20l-23 2z" color="#4437d1"/><path d="M3178 8624l22-122l-17 24l-22 110z" color="#4068fc"/><path d="M2139 8648l23-9l-17 1l-23 12z" color="#463ddb"/><path d="M3041 8485l22 69l-17-14l-23-59z" color="#2e8af4"/><path d="M2002 8676l23 10l-18-35l-22-14z" color="#4434cd"/><path d="M2315 8699l23-5l-17-35l-23 6z" color="#412dbc"/><path d="M3216 8464l23-136l-17 54l-22 122z" color="#0fb6cc"/><path d="M3079 8565l22 80l-17-25l-22-68z" color="#465cf9"/><path d="M2942 8571l22-65l-17 26l-22 56z" color="#3777fd"/><path d="M2354 8727l22-5l-17-35l-23 6z" color="#3e26a8"/><path d="M2215 8643l24 3l-16-3l-24-7z" color="#4640e1"/><path d="M3117 8652l23 34l-17-14l-23-29z" color="#4437d3"/><path d="M2079 8695l23-23l-18-7l-22 28z" color="#412dbc"/><path d="M2980 8499l23-36l-17 12l-23 32z" color="#269be8"/><path d="M2843 8678l23 9l-18 21l-23-6z" color="#3f2ab2"/><path d="M2255 8669l23-1l-18-21l-23-2z" color="#4539d6"/><path d="M3156 8679l23-56l-17 11l-23 52z" color="#453cdb"/><path d="M2117 8665l23-18l-17 3l-23 23z" color="#4538d4"/><path d="M1980 8646l22 30l-16-39l-23-37z" color="#4742e4"/><path d="M2293 8702l23-4l-17-34l-23 3z" color="#412ebe"/><path d="M3195 8598l22-136l-17 40l-22 122z" color="#357cfb"/><path d="M2155 8642l24-7l-17 4l-24 9z" color="#4743e4"/><path d="M3057 8487l23 80l-17-13l-23-69z" color="#2e8af4"/><path d="M2332 8731l23-4l-18-35l-23 5z" color="#3e26a8"/><path d="M2194 8644l23-1l-17-8l-23 0z" color="#4745e7"/><path d="M3096 8562l22 92l-17-9l-22-80z" color="#4759f8"/><path d="M2958 8572l23-74l-17 8l-23 65z" color="#3283f7"/><path d="M2233 8668l23 0l-18-24l-22-2z" color="#463ddb"/><path d="M3134 8640l23 39l-17 7l-23-33z" color="#453bd8"/><path d="M2997 8503l22-40l-17 0l-23 36z" color="#23a1e4"/><path d="M2859 8655l23 13l-17 21l-23-10z" color="#4436d1"/><path d="M2271 8704l23-2l-17-35l-23 0z" color="#4230c3"/><path d="M3173 8659l22-63l-17 26l-22 57z" color="#4749ed"/><path d="M2133 8655l24-14l-17 6l-23 18z" color="#4640e0"/><path d="M3035 8460l23 29l-17-2l-23-24z" color="#1ea5e1"/><path d="M1996 8674l23 24l-16-23l-23-30z" color="#4435cf"/><path d="M2310 8735l23-4l-18-34l-22 3z" color="#3e26a8"/><path d="M2172 8649l23-6l-17-9l-23 8z" color="#4746ea"/><path d="M3074 8473l22 91l-17 3l-22-80z" color="#2c8ef2"/><path d="M2035 8697l23 7l-17 2l-23-9z" color="#3f2ab2"/><path d="M2211 8670l23-2l-17-26l-23 1z" color="#4640e0"/><path d="M3112 8538l23 104l-17 12l-23-91z" color="#4462fb"/><path d="M2073 8687l23-7l-16 15l-24 10z" color="#422ebf"/><path d="M2975 8587l22-85l-17-5l-22 75z" color="#3086f6"/><path d="M2249 8706l23-2l-17-37l-23 0z" color="#4332c8"/><path d="M3151 8614l23 44l-18 22l-23-39z" color="#4747eb"/><path d="M2111 8666l24-12l-17 9l-23 18z" color="#453bd9"/><path d="M3013 8505l23-45l-17 2l-23 41z" color="#20a3e2"/><path d="M2876 8646l23 17l-17 6l-23-13z" color="#4641e2"/><path d="M2288 8738l23-4l-17-34l-23 2z" color="#3e26a8"/><path d="M2150 8658l24-10l-18-7l-23 13z" color="#4745e7"/><path d="M3052 8440l23 34l-18 15l-23-29z" color="#17acdb"/><path d="M2013 8680l23 19l-17-1l-23-25z" color="#4331c8"/><path d="M2189 8674l23-4l-17-28l-23 6z" color="#4641e2"/><path d="M3090 8436l23 104l-17 24l-23-91z" color="#259ce8"/><path d="M2052 8684l23 4l-18 17l-23-7z" color="#4230c3"/><path d="M2953 8669l23-84l-18-15l-22 74z" color="#475bf9"/><path d="M2228 8708l22-3l-17-39l-23 2z" color="#4433cc"/><path d="M3129 8498l22 118l-17 26l-22-104z" color="#3876fe"/><path d="M2992 8600l22-96l-17-3l-22 85z" color="#3085f6"/><path d="M2854 8598l23 50l-17 9l-23-41z" color="#4755f5"/><path d="M2266 8741l23-4l-17-35l-23 2z" color="#3e26a8"/><path d="M2128 8667l24-10l-18-4l-23 13z" color="#4742e3"/><path d="M3030 8491l23-51l-17 20l-23 45z" color="#18aadc"/><path d="M2167 8680l23-6l-17-27l-23 10z" color="#4641e2"/><path d="M3069 8398l22 39l-17 38l-23-34z" color="#0eb8c7"/><path d="M2030 8671l23 13l-18 15l-23-18z" color="#4437d2"/><path d="M2206 8711l22-3l-17-40l-23 5z" color="#4435ce"/><path d="M3107 8382l22 118l-17 40l-22-104z" color="#13b0d7"/><path d="M2068 8669l23 3l-17 17l-23-4z" color="#453bd8"/><path d="M2970 8694l22-96l-17-13l-22 84z" color="#4754f4"/><path d="M2244 8744l23-4l-17-36l-23 2z" color="#3e27ab"/><path d="M2106 8671l24-5l-17-1l-24 7z" color="#4641e1"/><path d="M3008 8597l22-108l-16 14l-23 97z" color="#2e8af4"/><path d="M2871 8599l22 60l-17-11l-22-50z" color="#475bf9"/><path d="M2145 8686l23-6l-17-24l-23 9z" color="#4640e0"/><path d="M3046 8454l23-56l-17 42l-22 51z" color="#0eb7c9"/><path d="M2184 8716l23-5l-18-39l-22 7z" color="#4435cf"/><path d="M3085 8339l23 44l-17 55l-23-39z" color="#31c6a0"/><path d="M2046 8661l23 9l-17 15l-23-13z" color="#4641e1"/><path d="M2222 8747l23-4l-17-37l-23 4z" color="#3f28ae"/><path d="M2986 8703l23-108l-17 3l-23 96z" color="#4752f3"/><path d="M2123 8690l23-4l-17-21l-23 5z" color="#4640e0"/><path d="M3025 8573l22-121l-17 37l-22 108z" color="#2798eb"/><path d="M2887 8614l23 70l-17-25l-23-60z" color="#4758f7"/><path d="M2162 8720l23-5l-17-37l-23 7z" color="#4436d0"/><path d="M3063 8400l23-61l-16 60l-24 55z" color="#2ec5a2"/><path d="M2788 8563l23-30l-16 32l-24 26z" color="#3086f6"/><path d="M2200 8750l23-4l-17-36l-23 4z" color="#3f29b1"/><path d="M2062 8665l24 5l-17 1l-23-9z" color="#4748ec"/><path d="M2689 8739l23-22l-16 23l-24 19z" color="#3e27ab"/><path d="M2101 8690l24-1l-18-19l-23-1z" color="#4642e3"/><path d="M3003 8691l22-120l-17 24l-22 108z" color="#475af9"/><path d="M2866 8545l22 71l-17-15l-22-60z" color="#3381f9"/><path d="M2140 8722l23-3l-17-35l-23 4z" color="#4436d1"/><path d="M3041 8533l23-134l-17 53l-22 121z" color="#16adda"/><path d="M2904 8627l22 81l-17-24l-22-70z" color="#4751f2"/><path d="M2767 8626l22-64l-17 27l-22 54z" color="#3b71fe"/><path d="M2179 8752l22-3l-17-35l-23 4z" color="#402ab3"/><path d="M2942 8716l23 35l-17-14l-23-30z" color="#422ebf"/><path d="M2805 8556l23-35l-17 12l-23 31z" color="#2994ed"/><path d="M2668 8728l23 11l-18 20l-23-8z" color="#3e27ab"/><path d="M2080 8689l23 1l-18-21l-23-4z" color="#4746e9"/><path d="M2981 8745l23-55l-17 11l-23 50z" color="#4331c8"/><path d="M2706 8720l23-26l-16 23l-24 23z" color="#4433cc"/><path d="M2118 8724l23-2l-17-34l-23 1z" color="#4538d4"/><path d="M3020 8665l22-134l-17 40l-22 120z" color="#3c6efd"/><path d="M2882 8547l23 82l-17-13l-23-71z" color="#3380f9"/><path d="M2157 8755l23-3l-18-34l-23 3z" color="#402bb6"/><path d="M2921 8624l22 93l-17-9l-22-81z" color="#474ff1"/><path d="M2783 8627l23-73l-17 8l-23 64z" color="#357cfb"/><path d="M2959 8704l23 40l-17 7l-23-35z" color="#4331c6"/><path d="M2822 8560l22-39l-17 0l-23 35z" color="#269ae9"/><path d="M2684 8705l23 14l-17 21l-23-11z" color="#4433cc"/><path d="M2096 8724l23-1l-17-35l-23-1z" color="#453bd8"/><path d="M2998 8724l22-61l-17 26l-22 56z" color="#463ddc"/><path d="M2409 8724l24-1l-18-18l-23 2z" color="#4437d2"/><path d="M2860 8518l23 31l-17-2l-23-26z" color="#249ee6"/><path d="M2135 8757l23-3l-18-34l-22 2z" color="#412dba"/><path d="M2899 8533l22 93l-17 3l-22-82z" color="#3185f7"/><path d="M2937 8600l23 106l-17 12l-23-94z" color="#4757f6"/><path d="M2349 8701l23 4l-17 8l-23-1z" color="#463ddb"/><path d="M2800 8641l22-83l-17-4l-22 73z" color="#337ff9"/><path d="M2211 8766l24-3l-17 4l-24 2z" color="#3e26a8"/><path d="M2663 8664l22 42l-17 24l-23-35z" color="#4743e5"/><path d="M2976 8677l23 46l-18 22l-23-40z" color="#453ddb"/><path d="M2387 8717l24 6l-17-16l-24-3z" color="#453bd9"/><path d="M2838 8562l23-44l-17 3l-23 39z" color="#249de7"/><path d="M2701 8696l23 19l-17 6l-23-15z" color="#463edd"/><path d="M2113 8758l23-2l-17-34l-23 0z" color="#422ebf"/><path d="M2877 8498l23 36l-18 15l-23-30z" color="#1ea5e0"/><path d="M2151 8774l23-2l-17-19l-23 2z" color="#3e26a8"/><path d="M2915 8496l23 106l-17 24l-23-93z" color="#2a93ee"/><path d="M2778 8723l23-83l-18-15l-22 73z" color="#4755f5"/><path d="M2189 8768l24-2l-17 3l-23 3z" color="#3e26a8"/><path d="M2954 8560l22 119l-17 27l-22-106z" color="#3e6bfd"/><path d="M2365 8711l24 6l-17-13l-24-2z" color="#4640e1"/><path d="M2817 8654l22-94l-17-2l-22 83z" color="#347ffa"/><path d="M2228 8747l23-3l-17 20l-23 3z" color="#402ab3"/><path d="M2679 8646l23 52l-17 9l-23-43z" color="#4752f3"/><path d="M2855 8547l23-48l-17 19l-23 44z" color="#1ea5e1"/><path d="M2129 8776l24-2l-18-19l-23 2z" color="#3e27aa"/><path d="M2894 8456l22 41l-17 38l-23-35z" color="#10b4d1"/><path d="M2167 8770l24-2l-17 4l-23 2z" color="#3e26a8"/><path d="M2932 8442l22 120l-17 40l-22-106z" color="#1aa9dd"/><path d="M2344 8710l23 0l-17-9l-23 1z" color="#4745e7"/><path d="M2795 8747l22-94l-17-14l-22 83z" color="#474ff0"/><path d="M2206 8750l24-2l-18 19l-23 2z" color="#402bb6"/><path d="M2382 8732l23 10l-17-26l-23-6z" color="#453cda"/><path d="M2833 8652l22-106l-16 14l-23 94z" color="#3183f7"/><path d="M2696 8647l22 62l-17-11l-22-52z" color="#4758f7"/><path d="M2871 8511l23-55l-16 43l-23 48z" color="#10b3d1"/><path d="M2145 8771l24-1l-16 4l-24 1z" color="#3e27aa"/><path d="M2910 8397l23 46l-17 55l-23-40z" color="#22c2ab"/><path d="M2322 8717l23-8l-17-7l-23 6z" color="#4746ea"/><path d="M2185 8751l23 0l-18 19l-23 1z" color="#412dba"/><path d="M2360 8729l23 2l-17-22l-23 0z" color="#4641e2"/><path d="M2811 8756l23-106l-17 2l-23 95z" color="#474def"/><path d="M2223 8732l23-3l-17 20l-23 3z" color="#4436d1"/><path d="M2850 8628l22-119l-17 37l-22 106z" color="#2a92ef"/><path d="M2712 8662l23 72l-17-25l-23-62z" color="#4755f5"/><path d="M2887 8456l24-59l-17 61l-23 53z" color="#22c2ab"/><path d="M2300 8729l23-13l-17-9l-23 10z" color="#4745e7"/><path d="M2750 8756l23 32l-16-30l-23-26z" color="#4331c5"/><path d="M2163 8752l23 0l-17 19l-24 1z" color="#422ebf"/><path d="M2613 8606l23-28l-16 31l-24 24z" color="#3086f6"/><path d="M2476 8786l23 10l-17 5l-23-7z" color="#3e26a8"/><path d="M2201 8733l23 0l-17 19l-23 1z" color="#4538d4"/><path d="M2514 8776l23-20l-16 24l-24 16z" color="#3f2ab2"/><path d="M2828 8744l22-118l-17 24l-22 106z" color="#4755f5"/><path d="M2691 8591l22 72l-17-14l-22-62z" color="#337ff9"/><path d="M2866 8588l23-133l-17 54l-22 119z" color="#1ba8de"/><path d="M2278 8741l23-13l-17-12l-23 9z" color="#4742e3"/><path d="M2729 8675l22 83l-17-24l-22-72z" color="#474ff0"/><path d="M2317 8754l23-17l-18-22l-23 13z" color="#4640e0"/><path d="M2767 8765l23 37l-17-14l-23-32z" color="#402cb8"/><path d="M2179 8731l23 3l-17 19l-23 0z" color="#453bd8"/><path d="M2630 8599l23-34l-17 13l-23 29z" color="#2995ed"/><path d="M2493 8763l23 13l-18 21l-23-10z" color="#402bb4"/><path d="M2806 8796l23-53l-17 11l-23 48z" color="#412ebf"/><path d="M2217 8729l24 1l-17 4l-23 0z" color="#4642e3"/><path d="M2530 8757l24-24l-16 24l-24 20z" color="#4436d1"/><path d="M2845 8718l22-132l-17 40l-22 118z" color="#4068fc"/><path d="M2256 8748l23-7l-17-17l-23 6z" color="#4641e1"/><path d="M2707 8593l23 84l-17-13l-23-73z" color="#347ffa"/><path d="M2295 8770l23-17l-17-26l-23 13z" color="#453bd9"/><path d="M2746 8672l22 95l-17-9l-22-83z" color="#474def"/><path d="M2608 8668l23-71l-17 8l-23 61z" color="#347efa"/><path d="M2784 8754l23 42l-17 6l-23-36z" color="#412ebf"/><path d="M2196 8724l23 5l-17 6l-23-3z" color="#4746e9"/><path d="M2647 8603l23-38l-18 0l-23 33z" color="#269be9"/><path d="M2509 8741l23 16l-17 21l-23-13z" color="#4437d2"/><path d="M2823 8775l22-59l-17 27l-22 53z" color="#4539d6"/><path d="M2234 8745l24 2l-18-18l-23 0z" color="#4743e4"/><path d="M2685 8562l23 33l-17-2l-23-28z" color="#249de7"/><path d="M2273 8778l23-8l-17-31l-23 7z" color="#4539d5"/><path d="M2724 8579l22 95l-17 3l-22-84z" color="#3183f7"/><path d="M2762 8648l23 108l-17 11l-23-95z" color="#4755f5"/><path d="M2625 8682l22-81l-17-4l-22 71z" color="#3381f9"/><path d="M2488 8698l22 44l-17 23l-23-36z" color="#4748ec"/><path d="M2801 8727l23 48l-18 21l-23-42z" color="#4539d6"/><path d="M2212 8737l24 8l-17-17l-24-3z" color="#4748ec"/><path d="M2663 8605l23-42l-17 2l-23 37z" color="#249ee6"/><path d="M2526 8732l23 20l-17 6l-23-17z" color="#4742e4"/><path d="M2251 8775l23 3l-17-32l-23-2z" color="#453bd8"/><path d="M2702 8543l23 37l-18 15l-23-32z" color="#1ea5e1"/><path d="M2290 8809l23-11l-18-30l-23 9z" color="#422ebf"/><path d="M2740 8542l23 108l-17 24l-23-95z" color="#2a92ef"/><path d="M2603 8762l23-82l-18-14l-22 71z" color="#4758f7"/><path d="M2779 8608l22 121l-17 27l-22-108z" color="#4068fc"/><path d="M2642 8695l22-92l-17-2l-22 81z" color="#3380f9"/><path d="M2504 8680l23 53l-17 10l-23-45z" color="#4758f7"/><path d="M2229 8762l23 12l-17-30l-23-8z" color="#4641e1"/><path d="M2680 8590l23-47l-17 19l-23 42z" color="#1ea5e0"/><path d="M2542 8743l23 24l-16-14l-24-21z" color="#4745e8"/><path d="M2268 8803l23 6l-18-33l-22-3z" color="#4230c3"/><path d="M2719 8501l22 42l-17 38l-23-37z" color="#10b3d1"/><path d="M2757 8488l22 122l-17 40l-22-108z" color="#1ba8de"/><path d="M2620 8786l22-92l-17-14l-22 82z" color="#4751f2"/><path d="M2658 8693l22-105l-16 15l-23 92z" color="#3185f7"/><path d="M2521 8681l22 63l-17-10l-22-54z" color="#465efb"/><path d="M2246 8786l23 17l-17-30l-23-12z" color="#4437d2"/><path d="M2696 8553l23-52l-16 42l-23 47z" color="#10b4d1"/><path d="M2284 8816l23 8l-17-17l-23-5z" color="#3f2ab2"/><path d="M2735 8442l23 47l-17 55l-23-42z" color="#22c2ab"/><path d="M2636 8795l23-104l-17 2l-23 93z" color="#474ff1"/><path d="M2499 8620l22 63l-17-1l-22-54z" color="#3283f7"/><path d="M2675 8669l22-118l-17 37l-22 105z" color="#2a93ee"/><path d="M2537 8696l23 73l-17-24l-23-64z" color="#475bf9"/><path d="M2400 8711l22-51l-16 39l-23 43z" color="#4166fc"/><path d="M2262 8792l23 24l-16-13l-24-19z" color="#4331c8"/><path d="M2712 8499l24-57l-17 60l-23 51z" color="#22c2ab"/><path d="M2438 8634l23-26l-16 32l-24 22z" color="#2c8ff1"/><path d="M2301 8807l23 12l-17 6l-23-9z" color="#402bb5"/><path d="M2339 8800l23-19l-16 24l-24 15z" color="#4332c9"/><path d="M2653 8784l22-117l-17 24l-22 104z" color="#4757f6"/><path d="M2516 8624l22 73l-17-14l-22-63z" color="#3086f6"/><path d="M2378 8760l23-51l-17 31l-23 43z" color="#474ff1"/><path d="M2691 8629l23-131l-17 53l-22 118z" color="#1aa9dd"/><path d="M2554 8709l22 85l-17-25l-22-73z" color="#4754f4"/><path d="M2417 8694l22-60l-17 26l-22 51z" color="#357cfb"/><path d="M2279 8778l23 31l-17 8l-23-24z" color="#4435cf"/><path d="M2592 8801l23 39l-17-14l-23-34z" color="#422fc1"/><path d="M2455 8627l23-31l-17 12l-23 27z" color="#259ce8"/><path d="M2318 8785l23 15l-18 20l-23-11z" color="#4434cd"/><path d="M2631 8834l23-52l-17 11l-23 47z" color="#4331c6"/><path d="M2355 8781l24-23l-17 24l-23 19z" color="#4641e1"/><path d="M2670 8757l22-130l-17 40l-22 117z" color="#3e6bfd"/><path d="M2532 8626l23 85l-17-13l-23-74z" color="#3085f6"/><path d="M2395 8751l22-59l-17 17l-22 51z" color="#455ffb"/><path d="M2571 8706l22 97l-17-9l-22-85z" color="#4752f3"/><path d="M2433 8695l23-69l-17 8l-23 59z" color="#2f88f5"/><path d="M2296 8748l23 38l-18 23l-23-30z" color="#4742e4"/><path d="M2609 8789l23 44l-17 7l-23-39z" color="#4331c8"/><path d="M2472 8631l23-35l-18 0l-23 31z" color="#21a2e3"/><path d="M2334 8762l23 19l-17 20l-23-15z" color="#4742e4"/><path d="M2648 8813l22-58l-17 27l-22 51z" color="#453ddb"/><path d="M2510 8593l23 34l-17-1l-23-30z" color="#20a3e2"/><path d="M2549 8611l22 97l-17 3l-22-85z" color="#2e8af4"/><path d="M2587 8682l23 109l-17 12l-23-97z" color="#475af9"/><path d="M2450 8709l22-79l-17-5l-22 70z" color="#2e8af4"/><path d="M2313 8718l22 46l-17 23l-23-38z" color="#4755f5"/><path d="M2626 8763l23 49l-18 22l-23-44z" color="#463ddc"/><path d="M2488 8633l23-40l-17 2l-23 36z" color="#1ea5e1"/><path d="M2351 8753l23 23l-17 6l-23-19z" color="#474ef0"/><path d="M2527 8573l23 40l-18 15l-23-35z" color="#18aadc"/><path d="M2565 8574l23 110l-17 24l-23-97z" color="#2798eb"/><path d="M2428 8787l23-79l-18-15l-22 69z" color="#4363fb"/><path d="M2604 8642l22 123l-17 26l-22-109z" color="#3c6efd"/><path d="M2467 8722l22-90l-17-3l-22 80z" color="#2e8af4"/><path d="M2329 8700l23 55l-17 9l-23-46z" color="#4265fc"/><path d="M2505 8619l23-45l-17 19l-23 40z" color="#17acdb"/><path d="M2367 8764l23 27l-16-15l-24-22z" color="#4751f2"/><path d="M2544 8531l22 44l-17 38l-23-39z" color="#0eb7c9"/><path d="M2582 8521l22 123l-17 40l-22-110z" color="#16adda"/><path d="M2445 8811l22-90l-17-14l-22 80z" color="#465cf9"/><path d="M2483 8720l22-103l-16 14l-23 91z" color="#2c8ef2"/><path d="M2346 8701l22 65l-17-11l-22-55z" color="#3e6cfd"/><path d="M2521 8582l23-51l-16 43l-23 45z" color="#0eb8c7"/><path d="M2560 8472l23 50l-17 54l-23-43z" color="#2ec5a2"/><path d="M2461 8821l23-103l-17 2l-23 91z" color="#4759f8"/><path d="M2500 8696l22-116l-17 37l-22 103z" color="#259ce8"/><path d="M2362 8716l23 75l-17-25l-23-65z" color="#4069fc"/><path d="M2537 8527l24-55l-17 61l-23 49z" color="#31c6a0"/><path d="M2400 8814l23 35l-16-29l-23-31z" color="#463fdf"/><path d="M2478 8809l22-115l-17 24l-22 102z" color="#4462fb"/><path d="M2516 8656l23-129l-17 53l-22 116z" color="#13b0d7"/><path d="M2379 8729l22 86l-17-24l-22-75z" color="#4462fb"/><path d="M2417 8823l23 40l-17-14l-23-35z" color="#4539d6"/><path d="M2456 8857l23-50l-17 12l-23 44z" color="#453bd8"/><path d="M2495 8782l22-128l-17 40l-22 115z" color="#3876fe"/><path d="M2396 8726l22 99l-17-10l-22-86z" color="#4560fb"/><path d="M2434 8811l23 46l-17 6l-23-40z" color="#453cdb"/><path d="M2473 8836l22-55l-17 26l-22 50z" color="#4747eb"/><path d="M2412 8702l23 111l-17 12l-23-99z" color="#4068fc"/><path d="M2451 8785l23 51l-18 21l-23-45z" color="#4749ed"/><path d="M2429 8662l22 125l-17 26l-22-111z" color="#357cfb"/></g>
<path d="M330.4 872.2L242.9 894.4L176.4 864.7L176.4 798.3M242.9 894.4l-2 -0.9M286.6 883.3l-2 -0.9M330.4 872.2l-2 -0.9M242.9 894.4l2.1 -0.5M209.7 879.5l2.1 -0.5M176.4 864.7l2.1 -0.5M176.4 855.9l2.1 -0.5M176.4 847l2.1 -0.5M176.4 838.2l2.1 -0.5M176.4 829.3l2.1 -0.5M176.4 820.5l2.1 -0.5M176.4 811.6l2.1 -0.5M176.4 802.8l2.1 -0.5" fill="none" stroke="#262626" stroke-width="0.7"/>
<text transform="translate(247.5 903.2) scale(1.35 1)" class="t3" text-anchor="start" style="font-size:6.5px">-10</text>
<text transform="translate(291.2 892.1) scale(1.35 1)" class="t3" text-anchor="start" style="font-size:6.5px">0</text>
<text transform="translate(335 881) scale(1.35 1)" class="t3" text-anchor="start" style="font-size:6.5px">10</text>
<text transform="translate(236.6 903.2) scale(1.35 1)" class="t3" text-anchor="end" style="font-size:6.5px">-10</text>
<text transform="translate(203.3 888.3) scale(1.35 1)" class="t3" text-anchor="end" style="font-size:6.5px">0</text>
<text transform="translate(170.1 873.5) scale(1.35 1)" class="t3" text-anchor="end" style="font-size:6.5px">10</text>
<text transform="translate(172.7 858.2) scale(1.35 1)" class="t3" text-anchor="end" style="font-size:6.5px">20</text>
<text transform="translate(172.7 849.3) scale(1.35 1)" class="t3" text-anchor="end" style="font-size:6.5px">40</text>
<text transform="translate(172.7 840.5) scale(1.35 1)" class="t3" text-anchor="end" style="font-size:6.5px">60</text>
<text transform="translate(172.7 831.6) scale(1.35 1)" class="t3" text-anchor="end" style="font-size:6.5px">80</text>
<text transform="translate(172.7 822.8) scale(1.35 1)" class="t3" text-anchor="end" style="font-size:6.5px">100</text>
<text transform="translate(172.7 813.9) scale(1.35 1)" class="t3" text-anchor="end" style="font-size:6.5px">120</text>
<text transform="translate(172.7 805.1) scale(1.35 1)" class="t3" text-anchor="end" style="font-size:6.5px">140</text>
<text x="252.7" y="774" class="ti3" text-anchor="middle" textLength="71" lengthAdjust="spacingAndGlyphs" style="font-size:7.8px">Objective space</text>
<text transform="translate(293.6 906.4) scale(1.35 1)" class="l3" text-anchor="middle" style="font-size:7.2px">x<tspan dy="1.8" style="font-size:5.0px">1</tspan></text>
<text transform="translate(194 905.9) scale(1.35 1)" class="l3" text-anchor="middle" style="font-size:7.2px">x<tspan dy="1.8" style="font-size:5.0px">2</tspan></text>
<text transform="translate(148.4 832) rotate(-90) scale(1 1.35)" class="l3" text-anchor="middle" style="font-size:7.2px" textLength="41.5" lengthAdjust="spacingAndGlyphs">F12( x<tspan dy="1.8" style="font-size:5.0px">1</tspan><tspan dy="-1.8"> , x</tspan><tspan dy="1.8" style="font-size:5.0px">2</tspan><tspan dy="-1.8"> )</tspan></text>
<g>
<path d="M400 17.3V142.4M409.1 17.3V142.4M415.5 17.3V142.4M420.5 17.3V142.4M424.6 17.3V142.4M428.1 17.3V142.4M431.1 17.3V142.4M433.7 17.3V142.4M451.6 17.3V142.4M460.7 17.3V142.4M467.2 17.3V142.4M472.2 17.3V142.4M476.3 17.3V142.4M479.7 17.3V142.4M482.7 17.3V142.4M485.4 17.3V142.4M503.3 17.3V142.4M512.4 17.3V142.4M518.8 17.3V142.4M523.8 17.3V142.4M527.9 17.3V142.4M531.4 17.3V142.4M534.4 17.3V142.4M537 17.3V142.4" stroke="#ececec" stroke-width="0.6" fill="none"/>
<path d="M436.1 17.3V142.4M487.7 17.3V142.4M384.4 118.4H539.4M384.4 94.4H539.4M384.4 70.4H539.4M384.4 46.4H539.4M384.4 22.3H539.4" stroke="#dcdcdc" stroke-width="0.7" fill="none"/>
<clipPath id="c17"><rect x="383.4" y="15.8" width="157" height="128.1"/></clipPath>
<g clip-path="url(#c17)" fill="none" stroke-linejoin="round">
<path d="M384.4 36.7L399.9 131.6L409.2 137L420.6 140.6L430.9 141.7L539.4 142.2" stroke="#00ff00" stroke-width="1.25"/>
<path d="M384.4 30.7L399.9 46.4L409.2 94.4L415.4 117.2L420.6 129.2L425.7 136.4L430.9 140L436.1 141.6L539.4 142.2" stroke="#ff00ff" stroke-width="1.25"/>
<path d="M384.4 93.2L399.9 126.8L409.2 136.4L420.6 140.6L430.9 141.7L539.4 142.2" stroke="#00ffff" stroke-width="1.25"/>
<path d="M384.4 19.9L399.9 68L410.2 102.8L415.4 116L420.6 126.8L425.7 134L430.9 138.2L436.1 140.6L443.8 141.8L539.4 142.2" stroke="#000000" stroke-width="2.5"/>
<path d="M384.4 129.2L399.9 137.6L409.2 139L420.6 140.5L436.1 141.6L539.4 142" stroke="#0000ff" stroke-width="1.25"/>
<path d="M384.4 18.3L531.5 18.3L534.5 142.4L539.4 142.4" stroke="#ff0000" stroke-width="3.0"/>
</g>
<rect x="384.4" y="17.3" width="155" height="125.1" fill="none" stroke="#262626" stroke-width="0.8"/>
<path d="M384.4 142.4v-2.2M384.4 17.3v2.2M436.1 142.4v-2.2M436.1 17.3v2.2M487.7 142.4v-2.2M487.7 17.3v2.2M539.4 142.4v-2.2M539.4 17.3v2.2M400 142.4v-1.1M400 17.3v1.1M409.1 142.4v-1.1M409.1 17.3v1.1M415.5 142.4v-1.1M415.5 17.3v1.1M420.5 142.4v-1.1M420.5 17.3v1.1M424.6 142.4v-1.1M424.6 17.3v1.1M428.1 142.4v-1.1M428.1 17.3v1.1M431.1 142.4v-1.1M431.1 17.3v1.1M433.7 142.4v-1.1M433.7 17.3v1.1M451.6 142.4v-1.1M451.6 17.3v1.1M460.7 142.4v-1.1M460.7 17.3v1.1M467.2 142.4v-1.1M467.2 17.3v1.1M472.2 142.4v-1.1M472.2 17.3v1.1M476.3 142.4v-1.1M476.3 17.3v1.1M479.7 142.4v-1.1M479.7 17.3v1.1M482.7 142.4v-1.1M482.7 17.3v1.1M485.4 142.4v-1.1M485.4 17.3v1.1M503.3 142.4v-1.1M503.3 17.3v1.1M512.4 142.4v-1.1M512.4 17.3v1.1M518.8 142.4v-1.1M518.8 17.3v1.1M523.8 142.4v-1.1M523.8 17.3v1.1M527.9 142.4v-1.1M527.9 17.3v1.1M531.4 142.4v-1.1M531.4 17.3v1.1M534.4 142.4v-1.1M534.4 17.3v1.1M537 142.4v-1.1M537 17.3v1.1M384.4 118.4h2.2M539.4 118.4h-2.2M384.4 94.4h2.2M539.4 94.4h-2.2M384.4 70.4h2.2M539.4 70.4h-2.2M384.4 46.4h2.2M539.4 46.4h-2.2M384.4 22.3h2.2M539.4 22.3h-2.2" stroke="#262626" stroke-width="0.6" fill="none"/>
<text transform="translate(378.6 153.6) scale(1.248 1)" class="t" style="font-size:6.72px">10<tspan dy="-2.5" style="font-size:5.5px">0</tspan></text>
<text transform="translate(430.3 153.6) scale(1.248 1)" class="t" style="font-size:6.72px">10<tspan dy="-2.5" style="font-size:5.5px">1</tspan></text>
<text transform="translate(481.9 153.6) scale(1.248 1)" class="t" style="font-size:6.72px">10<tspan dy="-2.5" style="font-size:5.5px">2</tspan></text>
<text transform="translate(533.6 153.6) scale(1.248 1)" class="t" style="font-size:6.72px">10<tspan dy="-2.5" style="font-size:5.5px">3</tspan></text>
<text transform="translate(381 120.5) scale(1.3 1)" class="t" text-anchor="end" style="font-size:6.0px">20</text>
<text transform="translate(381 96.5) scale(1.3 1)" class="t" text-anchor="end" style="font-size:6.0px">40</text>
<text transform="translate(381 72.5) scale(1.3 1)" class="t" text-anchor="end" style="font-size:6.0px">60</text>
<text transform="translate(381 48.5) scale(1.3 1)" class="t" text-anchor="end" style="font-size:6.0px">80</text>
<text transform="translate(381 24.5) scale(1.3 1)" class="t" text-anchor="end" style="font-size:6.0px">100</text>
<text transform="translate(461.9 164.8) scale(1.28 1)" class="l" text-anchor="middle" style="font-size:7.4px">Iterations</text>
<text x="461.9" y="14.3" class="ti" text-anchor="middle" textLength="69.3" lengthAdjust="spacingAndGlyphs" style="font-size:7.8px">Objective space</text>
<text transform="translate(361.8 80.4) rotate(-90) scale(1 1.28)" class="l" text-anchor="middle" style="font-size:7.4px">Best score</text>
<rect x="472.6" y="23" width="59.8" height="63.5" fill="#fff" stroke="#262626" stroke-width="0.8"/>
<path d="M475.6 28.7H503.6" stroke="#ff0000" stroke-width="2.2"/>
<text transform="translate(506.1 30.9) scale(1.3 1)" class="lg" style="font-size:6.15px">SOA</text>
<path d="M475.6 37.5H503.6" stroke="#000000" stroke-width="2.2"/>
<text transform="translate(506.1 39.7) scale(1.3 1)" class="lg" style="font-size:6.15px">GWO</text>
<path d="M475.6 46.2H503.6" stroke="#00ff00" stroke-width="1.2"/>
<text transform="translate(506.1 48.4) scale(1.3 1)" class="lg" style="font-size:6.15px">FWOA</text>
<path d="M475.6 55H503.6" stroke="#ff00ff" stroke-width="1.2"/>
<text transform="translate(506.1 57.2) scale(1.3 1)" class="lg" style="font-size:6.15px">WOA</text>
<path d="M475.6 63.7H503.6" stroke="#00ffff" stroke-width="1.2"/>
<text transform="translate(506.1 65.9) scale(1.3 1)" class="lg" style="font-size:6.15px">PSO</text>
<path d="M475.6 72.5H503.6" stroke="#0000ff" stroke-width="1.2"/>
<text transform="translate(506.1 74.7) scale(1.3 1)" class="lg" style="font-size:6.15px">SSA</text>
<path d="M475.6 81.2H503.6" stroke="#a2142f" stroke-width="1.2"/>
<text transform="translate(506.1 83.5) scale(1.3 1)" class="lg" style="font-size:6.15px">STOA</text>
</g>
<g>
<path d="M413.9 189.8V297.7M422 189.8V297.7M427.7 189.8V297.7M432.2 189.8V297.7M435.8 189.8V297.7M438.9 189.8V297.7M441.5 189.8V297.7M443.9 189.8V297.7M459.8 189.8V297.7M467.9 189.8V297.7M473.6 189.8V297.7M478 189.8V297.7M481.7 189.8V297.7M484.7 189.8V297.7M487.4 189.8V297.7M489.7 189.8V297.7M505.6 189.8V297.7M513.7 189.8V297.7M519.4 189.8V297.7M523.9 189.8V297.7M527.5 189.8V297.7M530.6 189.8V297.7M533.3 189.8V297.7M535.6 189.8V297.7" stroke="#ececec" stroke-width="0.6" fill="none"/>
<path d="M446 189.8V297.7M491.8 189.8V297.7M400.1 275H537.7M400.1 252.3H537.7M400.1 229.6H537.7M400.1 206.8H537.7" stroke="#dcdcdc" stroke-width="0.7" fill="none"/>
<clipPath id="c189"><rect x="399.1" y="188.3" width="139.6" height="110.9"/></clipPath>
<g clip-path="url(#c189)" fill="none" stroke-linejoin="round">
<path d="M400.1 194L416.2 194.7L429.9 195.3L441.4 199.5L446 201.7L452.8 205.7L457.9 208L464.3 214.2L470.3 219.3L478.1 226.1L491.8 233L514.8 237.7L537.7 238.2" stroke="#00ffff" stroke-width="1.25"/>
<path d="M400.1 191.2L413.9 194.3L423 197.2L432.2 197.8L439.1 200.2L446 200.6L455.1 202.9L462 202.7L468.9 204.6L491.8 210.2L537.7 221.6" stroke="#a2142f" stroke-width="1.1"/>
<path d="M400.1 190.9L411.6 193.2L422.1 196L432.2 198.3L441.4 199.2L449.6 200.9L457.4 202.3L468.9 203.8L491.8 210.2L519.4 217.1L530.8 219.3L535.4 221L537.7 231.8" stroke="#ff0000" stroke-width="2.4000000000000004"/>
<path d="M400.1 190.3L423 193.2L446 195.7L468.9 198.9L491.8 206.8L519.4 214.8L530.8 222.2L534.5 227.3L537.7 233.5" stroke="#000000" stroke-width="2.0"/>
<path d="M400.1 190L423 193.2L446 195.7L468.9 198L491.8 218.2L514.8 245.5L528.5 248.6L537.7 248.6" stroke="#0000ff" stroke-width="1.25"/>
<path d="M400.1 198.9L407 205.7L412.9 212.5L418.4 222.7L423 236.4L427.6 251.1L432.2 264.8L436.8 271.6L441.4 276.7L446 280.1L457.4 284.6L468.9 287.8L480.4 290.9L491.8 294.1L503.3 296L514.8 296.9L537.7 297.2" stroke="#00ff00" stroke-width="1.25"/>
<path d="M400.1 194.3L405.6 201.2L411.6 209.7L417.5 218.2L422.1 226.1L425.3 229.6L427.6 233L432.2 242.6L436.8 248.9L440 255.1L443.7 256.8L446 259.1L450.6 261.4L459.7 265.9L466.6 269.3L473.5 272.1L474.4 275L478.1 278.4L485 281.8L491.8 284.6L496.4 288.6L501 292L510.2 294.3L519.4 295.2L537.7 295.3" stroke="#ff00ff" stroke-width="1.25"/>
</g>
<rect x="400.1" y="189.8" width="137.6" height="107.9" fill="none" stroke="#262626" stroke-width="0.8"/>
<path d="M400.1 297.7v-2.2M400.1 189.8v2.2M446 297.7v-2.2M446 189.8v2.2M491.8 297.7v-2.2M491.8 189.8v2.2M537.7 297.7v-2.2M537.7 189.8v2.2M413.9 297.7v-1.1M413.9 189.8v1.1M422 297.7v-1.1M422 189.8v1.1M427.7 297.7v-1.1M427.7 189.8v1.1M432.2 297.7v-1.1M432.2 189.8v1.1M435.8 297.7v-1.1M435.8 189.8v1.1M438.9 297.7v-1.1M438.9 189.8v1.1M441.5 297.7v-1.1M441.5 189.8v1.1M443.9 297.7v-1.1M443.9 189.8v1.1M459.8 297.7v-1.1M459.8 189.8v1.1M467.9 297.7v-1.1M467.9 189.8v1.1M473.6 297.7v-1.1M473.6 189.8v1.1M478 297.7v-1.1M478 189.8v1.1M481.7 297.7v-1.1M481.7 189.8v1.1M484.7 297.7v-1.1M484.7 189.8v1.1M487.4 297.7v-1.1M487.4 189.8v1.1M489.7 297.7v-1.1M489.7 189.8v1.1M505.6 297.7v-1.1M505.6 189.8v1.1M513.7 297.7v-1.1M513.7 189.8v1.1M519.4 297.7v-1.1M519.4 189.8v1.1M523.9 297.7v-1.1M523.9 189.8v1.1M527.5 297.7v-1.1M527.5 189.8v1.1M530.6 297.7v-1.1M530.6 189.8v1.1M533.3 297.7v-1.1M533.3 189.8v1.1M535.6 297.7v-1.1M535.6 189.8v1.1M400.1 297.7h2.2M537.7 297.7h-2.2M400.1 275h2.2M537.7 275h-2.2M400.1 252.3h2.2M537.7 252.3h-2.2M400.1 229.6h2.2M537.7 229.6h-2.2M400.1 206.8h2.2M537.7 206.8h-2.2" stroke="#262626" stroke-width="0.6" fill="none"/>
<text transform="translate(394.3 308.9) scale(1.5552000000000001 1)" class="t" style="font-size:5.71px">10<tspan dy="-2.5" style="font-size:4.7px">0</tspan></text>
<text transform="translate(440.2 308.9) scale(1.5552000000000001 1)" class="t" style="font-size:5.71px">10<tspan dy="-2.5" style="font-size:4.7px">1</tspan></text>
<text transform="translate(486 308.9) scale(1.5552000000000001 1)" class="t" style="font-size:5.71px">10<tspan dy="-2.5" style="font-size:4.7px">2</tspan></text>
<text transform="translate(531.9 308.9) scale(1.5552000000000001 1)" class="t" style="font-size:5.71px">10<tspan dy="-2.5" style="font-size:4.7px">3</tspan></text>
<text transform="translate(396.7 299.5) scale(1.62 1)" class="t" text-anchor="end" style="font-size:5.1px">-12000</text>
<text transform="translate(396.7 276.8) scale(1.62 1)" class="t" text-anchor="end" style="font-size:5.1px">-10000</text>
<text transform="translate(396.7 254.1) scale(1.62 1)" class="t" text-anchor="end" style="font-size:5.1px">-8000</text>
<text transform="translate(396.7 231.4) scale(1.62 1)" class="t" text-anchor="end" style="font-size:5.1px">-6000</text>
<text transform="translate(396.7 208.7) scale(1.62 1)" class="t" text-anchor="end" style="font-size:5.1px">-4000</text>
<text transform="translate(468.9 318.5) scale(1.45 1)" class="l" text-anchor="middle" style="font-size:6.5px">Iterations</text>
<text x="468.9" y="188" class="ti" text-anchor="middle" textLength="68.7" lengthAdjust="spacingAndGlyphs" style="font-size:6.9px">Objective space</text>
<text transform="translate(364.1 244.7) rotate(-90) scale(1 1.45)" class="l" text-anchor="middle" style="font-size:6.5px">Best score</text>
<rect x="470.8" y="195.3" width="60.2" height="54.5" fill="#fff" stroke="#262626" stroke-width="0.8"/>
<path d="M473.8 200.2H501.8" stroke="#ff0000" stroke-width="2.2"/>
<text transform="translate(504.3 202.1) scale(1.62 1)" class="lg" style="font-size:4.94px">SOA</text>
<path d="M473.8 207.7H501.8" stroke="#000000" stroke-width="2.2"/>
<text transform="translate(504.3 209.6) scale(1.62 1)" class="lg" style="font-size:4.94px">GWO</text>
<path d="M473.8 215.2H501.8" stroke="#00ff00" stroke-width="1.2"/>
<text transform="translate(504.3 217.1) scale(1.62 1)" class="lg" style="font-size:4.94px">FWOA</text>
<path d="M473.8 222.7H501.8" stroke="#ff00ff" stroke-width="1.2"/>
<text transform="translate(504.3 224.6) scale(1.62 1)" class="lg" style="font-size:4.94px">WOA</text>
<path d="M473.8 230.3H501.8" stroke="#00ffff" stroke-width="1.2"/>
<text transform="translate(504.3 232.1) scale(1.62 1)" class="lg" style="font-size:4.94px">PSO</text>
<path d="M473.8 237.8H501.8" stroke="#0000ff" stroke-width="1.2"/>
<text transform="translate(504.3 239.7) scale(1.62 1)" class="lg" style="font-size:4.94px">SSA</text>
<path d="M473.8 245.3H501.8" stroke="#a2142f" stroke-width="1.2"/>
<text transform="translate(504.3 247.2) scale(1.62 1)" class="lg" style="font-size:4.94px">STOA</text>
</g>
<g>
<path d="M401 344.6V462.5M410 344.6V462.5M416.3 344.6V462.5M421.3 344.6V462.5M425.3 344.6V462.5M428.7 344.6V462.5M431.7 344.6V462.5M434.3 344.6V462.5M451.9 344.6V462.5M460.9 344.6V462.5M467.2 344.6V462.5M472.2 344.6V462.5M476.2 344.6V462.5M479.6 344.6V462.5M482.6 344.6V462.5M485.2 344.6V462.5M502.8 344.6V462.5M511.8 344.6V462.5M518.1 344.6V462.5M523.1 344.6V462.5M527.1 344.6V462.5M530.5 344.6V462.5M533.5 344.6V462.5M536.1 344.6V462.5" stroke="#ececec" stroke-width="0.6" fill="none"/>
<path d="M436.6 344.6V462.5M487.5 344.6V462.5M385.7 434.4H538.4M385.7 406.2H538.4M385.7 378.1H538.4M385.7 349.9H538.4" stroke="#dcdcdc" stroke-width="0.7" fill="none"/>
<clipPath id="c344"><rect x="384.7" y="343.1" width="154.7" height="120.9"/></clipPath>
<g clip-path="url(#c344)" fill="none" stroke-linejoin="round">
<path d="M385.7 344.9L528.2 344.9" stroke="#a2142f" stroke-width="1.1"/>
<path d="M385.7 349.9L401 445.6L436.6 451L462 454.9L472.2 457.4L482.4 460.2L497.7 461.9L513 462.4L538.4 462.5" stroke="#00ff00" stroke-width="1.25"/>
<path d="M385.7 368.2L401 378.1L411.1 389.1L421.3 395.2L436.6 398.3L451.9 401.4L462 406.2L467.1 411.3L472.2 418.6L476.3 428.2L479.9 437.2L483.4 444.5L487.5 448.7L492.6 450.1L538.4 450.4" stroke="#00ffff" stroke-width="1.25"/>
<path d="M385.7 381.7L401 390.7L416.2 396.9L431.5 400L446.8 401.4L462 402L519.1 402.3L521.1 414.7L522.6 427.9L524.1 442.8L525.7 449.6L528.2 450.7L538.4 450.7" stroke="#0000ff" stroke-width="1.25"/>
<path d="M385.7 344.6L401 355L416.2 367.7L431.5 383.1L436.6 389.3L441.7 396.9L446.8 405.4L451.9 415.5L457 428.2L462 440L467.1 447.9L472.2 452.4L477.3 456L482.4 458.6L492.6 460.8L502.8 461.7L528.2 462.4L538.4 462.5" stroke="#ff00ff" stroke-width="1.25"/>
<path d="M385.7 345.7L401 359.8L416.2 370.5L431.5 383.1L436.6 390.7L441.7 395L446.8 401.4L451.9 407.1L457 413.8L462 423.1L467.1 434.1L472.2 443.4L477.3 452.4L482.4 457.4L487.5 460.2L497.7 461.9L507.9 462.4L538.4 462.5" stroke="#000000" stroke-width="2.5"/>
<path d="M385.7 344.9L530 344.9L533.8 462.5L538.4 462.5" stroke="#ff0000" stroke-width="3.0"/>
</g>
<rect x="385.7" y="344.6" width="152.7" height="117.9" fill="none" stroke="#262626" stroke-width="0.8"/>
<path d="M385.7 462.5v-2.2M385.7 344.6v2.2M436.6 462.5v-2.2M436.6 344.6v2.2M487.5 462.5v-2.2M487.5 344.6v2.2M538.4 462.5v-2.2M538.4 344.6v2.2M401 462.5v-1.1M401 344.6v1.1M410 462.5v-1.1M410 344.6v1.1M416.3 462.5v-1.1M416.3 344.6v1.1M421.3 462.5v-1.1M421.3 344.6v1.1M425.3 462.5v-1.1M425.3 344.6v1.1M428.7 462.5v-1.1M428.7 344.6v1.1M431.7 462.5v-1.1M431.7 344.6v1.1M434.3 462.5v-1.1M434.3 344.6v1.1M451.9 462.5v-1.1M451.9 344.6v1.1M460.9 462.5v-1.1M460.9 344.6v1.1M467.2 462.5v-1.1M467.2 344.6v1.1M472.2 462.5v-1.1M472.2 344.6v1.1M476.2 462.5v-1.1M476.2 344.6v1.1M479.6 462.5v-1.1M479.6 344.6v1.1M482.6 462.5v-1.1M482.6 344.6v1.1M485.2 462.5v-1.1M485.2 344.6v1.1M502.8 462.5v-1.1M502.8 344.6v1.1M511.8 462.5v-1.1M511.8 344.6v1.1M518.1 462.5v-1.1M518.1 344.6v1.1M523.1 462.5v-1.1M523.1 344.6v1.1M527.1 462.5v-1.1M527.1 344.6v1.1M530.5 462.5v-1.1M530.5 344.6v1.1M533.5 462.5v-1.1M533.5 344.6v1.1M536.1 462.5v-1.1M536.1 344.6v1.1M385.7 462.5h2.2M538.4 462.5h-2.2M385.7 434.4h2.2M538.4 434.4h-2.2M385.7 406.2h2.2M538.4 406.2h-2.2M385.7 378.1h2.2M538.4 378.1h-2.2M385.7 349.9h2.2M538.4 349.9h-2.2" stroke="#262626" stroke-width="0.6" fill="none"/>
<text transform="translate(379.9 473) scale(1.2192 1)" class="t" style="font-size:6.94px">10<tspan dy="-2.5" style="font-size:5.7px">0</tspan></text>
<text transform="translate(430.8 473) scale(1.2192 1)" class="t" style="font-size:6.94px">10<tspan dy="-2.5" style="font-size:5.7px">1</tspan></text>
<text transform="translate(481.7 473) scale(1.2192 1)" class="t" style="font-size:6.94px">10<tspan dy="-2.5" style="font-size:5.7px">2</tspan></text>
<text transform="translate(532.6 473) scale(1.2192 1)" class="t" style="font-size:6.94px">10<tspan dy="-2.5" style="font-size:5.7px">3</tspan></text>
<text transform="translate(382.3 464.7) scale(1.27 1)" class="t" text-anchor="end" style="font-size:6.2px">0</text>
<text transform="translate(382.3 436.6) scale(1.27 1)" class="t" text-anchor="end" style="font-size:6.2px">100</text>
<text transform="translate(382.3 408.5) scale(1.27 1)" class="t" text-anchor="end" style="font-size:6.2px">200</text>
<text transform="translate(382.3 380.3) scale(1.27 1)" class="t" text-anchor="end" style="font-size:6.2px">300</text>
<text transform="translate(382.3 352.2) scale(1.27 1)" class="t" text-anchor="end" style="font-size:6.2px">400</text>
<text transform="translate(462 482.3) scale(1.36 1)" class="l" text-anchor="middle" style="font-size:7.0px">Iterations</text>
<text x="462" y="341.2" class="ti" text-anchor="middle" textLength="68" lengthAdjust="spacingAndGlyphs" style="font-size:7.4px">Objective space</text>
<text transform="translate(362.8 403) rotate(-90) scale(1 1.36)" class="l" text-anchor="middle" style="font-size:7.0px">Best score</text>
<rect x="472" y="349.8" width="60" height="60.2" fill="#fff" stroke="#262626" stroke-width="0.8"/>
<path d="M475 355.2H503" stroke="#ff0000" stroke-width="2.2"/>
<text transform="translate(505.5 357.5) scale(1.27 1)" class="lg" style="font-size:6.30px">SOA</text>
<path d="M475 363.5H503" stroke="#000000" stroke-width="2.2"/>
<text transform="translate(505.5 365.8) scale(1.27 1)" class="lg" style="font-size:6.30px">GWO</text>
<path d="M475 371.8H503" stroke="#00ff00" stroke-width="1.2"/>
<text transform="translate(505.5 374.1) scale(1.27 1)" class="lg" style="font-size:6.30px">FWOA</text>
<path d="M475 380.1H503" stroke="#ff00ff" stroke-width="1.2"/>
<text transform="translate(505.5 382.4) scale(1.27 1)" class="lg" style="font-size:6.30px">WOA</text>
<path d="M475 388.4H503" stroke="#00ffff" stroke-width="1.2"/>
<text transform="translate(505.5 390.7) scale(1.27 1)" class="lg" style="font-size:6.30px">PSO</text>
<path d="M475 396.7H503" stroke="#0000ff" stroke-width="1.2"/>
<text transform="translate(505.5 399) scale(1.27 1)" class="lg" style="font-size:6.30px">SSA</text>
<path d="M475 405H503" stroke="#a2142f" stroke-width="1.2"/>
<text transform="translate(505.5 407.3) scale(1.27 1)" class="lg" style="font-size:6.30px">STOA</text>
</g>
<g>
<path d="M400.6 491.6V612.2M409.3 491.6V612.2M415.4 491.6V612.2M420.2 491.6V612.2M424.1 491.6V612.2M427.4 491.6V612.2M430.3 491.6V612.2M432.8 491.6V612.2M449.9 491.6V612.2M458.6 491.6V612.2M464.8 491.6V612.2M469.6 491.6V612.2M473.5 491.6V612.2M476.8 491.6V612.2M479.6 491.6V612.2M482.2 491.6V612.2M499.3 491.6V612.2M508 491.6V612.2M514.2 491.6V612.2M518.9 491.6V612.2M522.8 491.6V612.2M526.2 491.6V612.2M529 491.6V612.2M531.5 491.6V612.2" stroke="#ececec" stroke-width="0.6" fill="none"/>
<path d="M435.1 491.6V612.2M484.4 491.6V612.2M385.7 582.8H533.8M385.7 553.4H533.8M385.7 524H533.8M385.7 494.5H533.8" stroke="#dcdcdc" stroke-width="0.7" fill="none"/>
<clipPath id="c491"><rect x="384.7" y="490.1" width="150.1" height="123.6"/></clipPath>
<g clip-path="url(#c491)" fill="none" stroke-linejoin="round">
<path d="M385.7 497.5L400.5 600.4L415.3 601.9L430.1 604L444.9 607.5L454.8 610.4L462.2 611.9L533.8 612.2" stroke="#00ff00" stroke-width="1.25"/>
<path d="M385.7 497.5L400.5 508.1L407.9 526.3L414.3 536.9L420.3 538.7L425.2 540.4L430.1 544L435.1 548.1L449.9 562.2L464.7 575.7L474.6 588.1L479.5 595.7L484.4 604L488.4 609.3L491.8 611.6L499.2 612.2L533.8 612.2" stroke="#00ffff" stroke-width="1.25"/>
<path d="M385.7 507.5L400.5 520.4L415.3 531L425.2 536.3L435.1 540.4L449.9 545.1L464.7 548.1L499.2 548.7L511.6 554L514.5 559.3L519 582.2L522.9 599.3L525.4 604.6L526.2 605.4L533.8 605.4" stroke="#0000ff" stroke-width="1.25"/>
<path d="M385.7 492.8L400.5 497.5L410.4 504.5L415.3 508.7L420.3 515.1L424.2 522.8L427.7 532.8L431.1 542.8L435.1 554L437.5 562.2L440 569.8L444 580.4L447.4 588.1L450.9 596.3L454.8 604L457.3 608.1L459.8 611L464.7 612.1L533.8 612.2" stroke="#ff00ff" stroke-width="1.25"/>
<path d="M385.7 492.8L400.5 496.9L410.4 503.4L415.3 506.9L420.3 512.2L424.2 518.1L427.7 526.3L431.1 535.1L435.1 545.1L439 556.3L442.5 566.3L445.9 576.3L449.9 586.3L453.8 595.1L457.3 602.2L459.8 606.9L462.2 609.8L467.2 611.9L533.8 612.2" stroke="#000000" stroke-width="2.0"/>
<path d="M385.7 494.2L526.9 494.2L527.9 498.7L533.8 498.7" stroke="#ff0000" stroke-width="2.4000000000000004"/>
<path d="M385.7 495.1L410.4 496.9L435.1 497.5L533.8 497.8" stroke="#a2142f" stroke-width="1.1"/>
</g>
<rect x="385.7" y="491.6" width="148.1" height="120.6" fill="none" stroke="#262626" stroke-width="0.8"/>
<path d="M385.7 612.2v-2.2M385.7 491.6v2.2M435.1 612.2v-2.2M435.1 491.6v2.2M484.4 612.2v-2.2M484.4 491.6v2.2M533.8 612.2v-2.2M533.8 491.6v2.2M400.6 612.2v-1.1M400.6 491.6v1.1M409.3 612.2v-1.1M409.3 491.6v1.1M415.4 612.2v-1.1M415.4 491.6v1.1M420.2 612.2v-1.1M420.2 491.6v1.1M424.1 612.2v-1.1M424.1 491.6v1.1M427.4 612.2v-1.1M427.4 491.6v1.1M430.3 612.2v-1.1M430.3 491.6v1.1M432.8 612.2v-1.1M432.8 491.6v1.1M449.9 612.2v-1.1M449.9 491.6v1.1M458.6 612.2v-1.1M458.6 491.6v1.1M464.8 612.2v-1.1M464.8 491.6v1.1M469.6 612.2v-1.1M469.6 491.6v1.1M473.5 612.2v-1.1M473.5 491.6v1.1M476.8 612.2v-1.1M476.8 491.6v1.1M479.6 612.2v-1.1M479.6 491.6v1.1M482.2 612.2v-1.1M482.2 491.6v1.1M499.3 612.2v-1.1M499.3 491.6v1.1M508 612.2v-1.1M508 491.6v1.1M514.2 612.2v-1.1M514.2 491.6v1.1M518.9 612.2v-1.1M518.9 491.6v1.1M522.8 612.2v-1.1M522.8 491.6v1.1M526.2 612.2v-1.1M526.2 491.6v1.1M529 612.2v-1.1M529 491.6v1.1M531.5 612.2v-1.1M531.5 491.6v1.1M385.7 582.8h2.2M533.8 582.8h-2.2M385.7 553.4h2.2M533.8 553.4h-2.2M385.7 524h2.2M533.8 524h-2.2M385.7 494.5h2.2M533.8 494.5h-2.2" stroke="#262626" stroke-width="0.6" fill="none"/>
<text transform="translate(379.9 622.8) scale(1.3439999999999999 1)" class="t" style="font-size:6.61px">10<tspan dy="-2.5" style="font-size:5.4px">0</tspan></text>
<text transform="translate(429.3 622.8) scale(1.3439999999999999 1)" class="t" style="font-size:6.61px">10<tspan dy="-2.5" style="font-size:5.4px">1</tspan></text>
<text transform="translate(478.6 622.8) scale(1.3439999999999999 1)" class="t" style="font-size:6.61px">10<tspan dy="-2.5" style="font-size:5.4px">2</tspan></text>
<text transform="translate(528 622.8) scale(1.3439999999999999 1)" class="t" style="font-size:6.61px">10<tspan dy="-2.5" style="font-size:5.4px">3</tspan></text>
<text transform="translate(382.3 584.9) scale(1.4 1)" class="t" text-anchor="end" style="font-size:5.9px">5</text>
<text transform="translate(382.3 555.5) scale(1.4 1)" class="t" text-anchor="end" style="font-size:5.9px">10</text>
<text transform="translate(382.3 526.1) scale(1.4 1)" class="t" text-anchor="end" style="font-size:5.9px">15</text>
<text transform="translate(382.3 496.7) scale(1.4 1)" class="t" text-anchor="end" style="font-size:5.9px">20</text>
<text transform="translate(459.8 632) scale(1.33 1)" class="l" text-anchor="middle" style="font-size:7.1px">Iterations</text>
<text x="459.8" y="490" class="ti" text-anchor="middle" textLength="69.8" lengthAdjust="spacingAndGlyphs" style="font-size:7.5px">Objective space</text>
<text transform="translate(365.9 553) rotate(-90) scale(1 1.33)" class="l" text-anchor="middle" style="font-size:7.1px">Best score</text>
<rect x="466.6" y="498" width="60.2" height="60.8" fill="#fff" stroke="#262626" stroke-width="0.8"/>
<path d="M469.6 503.5H497.6" stroke="#ff0000" stroke-width="2.2"/>
<text transform="translate(500.1 505.6) scale(1.4 1)" class="lg" style="font-size:5.71px">SOA</text>
<path d="M469.6 511.8H497.6" stroke="#000000" stroke-width="2.2"/>
<text transform="translate(500.1 514) scale(1.4 1)" class="lg" style="font-size:5.71px">GWO</text>
<path d="M469.6 520.2H497.6" stroke="#00ff00" stroke-width="1.2"/>
<text transform="translate(500.1 522.4) scale(1.4 1)" class="lg" style="font-size:5.71px">FWOA</text>
<path d="M469.6 528.6H497.6" stroke="#ff00ff" stroke-width="1.2"/>
<text transform="translate(500.1 530.8) scale(1.4 1)" class="lg" style="font-size:5.71px">WOA</text>
<path d="M469.6 537H497.6" stroke="#00ffff" stroke-width="1.2"/>
<text transform="translate(500.1 539.2) scale(1.4 1)" class="lg" style="font-size:5.71px">PSO</text>
<path d="M469.6 545.4H497.6" stroke="#0000ff" stroke-width="1.2"/>
<text transform="translate(500.1 547.6) scale(1.4 1)" class="lg" style="font-size:5.71px">SSA</text>
<path d="M469.6 553.8H497.6" stroke="#a2142f" stroke-width="1.2"/>
<text transform="translate(500.1 556) scale(1.4 1)" class="lg" style="font-size:5.71px">STOA</text>
</g>
<g>
<path d="M404.3 641.2V749M412.7 641.2V749M418.6 641.2V749M423.2 641.2V749M427 641.2V749M430.2 641.2V749M433 641.2V749M435.4 641.2V749M452 641.2V749M460.4 641.2V749M466.3 641.2V749M470.9 641.2V749M474.7 641.2V749M477.9 641.2V749M480.7 641.2V749M483.1 641.2V749M499.7 641.2V749M508.1 641.2V749M514 641.2V749M518.6 641.2V749M522.4 641.2V749M525.6 641.2V749M528.4 641.2V749M530.8 641.2V749" stroke="#ececec" stroke-width="0.6" fill="none"/>
<path d="M437.6 641.2V749M485.3 641.2V749M389.9 729.7H533M389.9 710.4H533M389.9 691.1H533M389.9 671.9H533M389.9 652.6H533" stroke="#dcdcdc" stroke-width="0.7" fill="none"/>
<clipPath id="c641"><rect x="388.9" y="639.7" width="145.1" height="110.8"/></clipPath>
<g clip-path="url(#c641)" fill="none" stroke-linejoin="round">
<path d="M389.9 641.8L523.5 641.8" stroke="#a2142f" stroke-width="1.1"/>
<path d="M389.9 650.6L404.2 744.4L418.5 746.9L437.6 748L451.9 748.8L533 749" stroke="#00ff00" stroke-width="1.25"/>
<path d="M389.9 684.4L404.2 713.5L411.4 727.8L418.5 738.8L423.3 740.5L428.1 741.3L432.8 743.6L437.6 745.9L442.4 747.3L447.1 748L461.4 748.6L485.3 748.9L533 749" stroke="#00ffff" stroke-width="1.25"/>
<path d="M389.9 715.3L404.2 730.5L418.5 736.7L428.1 738.8L437.6 740.7L451.9 742.8L466.2 743.4L485.3 743.8L513 743.8L514.9 745.1L517.7 747.5L522.5 748.6L525.8 749L533 749" stroke="#0000ff" stroke-width="1.25"/>
<path d="M389.9 642.9L404.2 654.9L409 673.2L413.8 691.1L418.5 707.3L423.3 721L428.1 732L432.8 739.7L437.6 744.4L441.4 746.9L444.8 748L451.9 748.8L533 749" stroke="#ff00ff" stroke-width="1.25"/>
<path d="M389.9 642.9L404.2 670.1L409 682.5L413.8 695L418.5 707.7L423.3 719.7L428.1 730.1L432.8 738.2L437.6 742.8L441.4 745.3L444.8 746.9L451.9 748.4L461.4 748.9L533 749" stroke="#000000" stroke-width="2.25"/>
<path d="M389.9 641.8L524.7 641.8L528.2 749L533 749" stroke="#ff0000" stroke-width="2.7"/>
</g>
<rect x="389.9" y="641.2" width="143.1" height="107.8" fill="none" stroke="#262626" stroke-width="0.8"/>
<path d="M389.9 749v-2.2M389.9 641.2v2.2M437.6 749v-2.2M437.6 641.2v2.2M485.3 749v-2.2M485.3 641.2v2.2M533 749v-2.2M533 641.2v2.2M404.3 749v-1.1M404.3 641.2v1.1M412.7 749v-1.1M412.7 641.2v1.1M418.6 749v-1.1M418.6 641.2v1.1M423.2 749v-1.1M423.2 641.2v1.1M427 749v-1.1M427 641.2v1.1M430.2 749v-1.1M430.2 641.2v1.1M433 749v-1.1M433 641.2v1.1M435.4 749v-1.1M435.4 641.2v1.1M452 749v-1.1M452 641.2v1.1M460.4 749v-1.1M460.4 641.2v1.1M466.3 749v-1.1M466.3 641.2v1.1M470.9 749v-1.1M470.9 641.2v1.1M474.7 749v-1.1M474.7 641.2v1.1M477.9 749v-1.1M477.9 641.2v1.1M480.7 749v-1.1M480.7 641.2v1.1M483.1 749v-1.1M483.1 641.2v1.1M499.7 749v-1.1M499.7 641.2v1.1M508.1 749v-1.1M508.1 641.2v1.1M514 749v-1.1M514 641.2v1.1M518.6 749v-1.1M518.6 641.2v1.1M522.4 749v-1.1M522.4 641.2v1.1M525.6 749v-1.1M525.6 641.2v1.1M528.4 749v-1.1M528.4 641.2v1.1M530.8 749v-1.1M530.8 641.2v1.1M389.9 749h2.2M533 749h-2.2M389.9 729.7h2.2M533 729.7h-2.2M389.9 710.4h2.2M533 710.4h-2.2M389.9 691.1h2.2M533 691.1h-2.2M389.9 671.9h2.2M533 671.9h-2.2M389.9 652.6h2.2M533 652.6h-2.2" stroke="#262626" stroke-width="0.6" fill="none"/>
<text transform="translate(384.1 759) scale(1.3727999999999998 1)" class="t" style="font-size:6.27px">10<tspan dy="-2.5" style="font-size:5.2px">0</tspan></text>
<text transform="translate(431.8 759) scale(1.3727999999999998 1)" class="t" style="font-size:6.27px">10<tspan dy="-2.5" style="font-size:5.2px">1</tspan></text>
<text transform="translate(479.5 759) scale(1.3727999999999998 1)" class="t" style="font-size:6.27px">10<tspan dy="-2.5" style="font-size:5.2px">2</tspan></text>
<text transform="translate(527.2 759) scale(1.3727999999999998 1)" class="t" style="font-size:6.27px">10<tspan dy="-2.5" style="font-size:5.2px">3</tspan></text>
<text transform="translate(386.5 751) scale(1.43 1)" class="t" text-anchor="end" style="font-size:5.6px">0</text>
<text transform="translate(386.5 731.7) scale(1.43 1)" class="t" text-anchor="end" style="font-size:5.6px">100</text>
<text transform="translate(386.5 712.4) scale(1.43 1)" class="t" text-anchor="end" style="font-size:5.6px">200</text>
<text transform="translate(386.5 693.2) scale(1.43 1)" class="t" text-anchor="end" style="font-size:5.6px">300</text>
<text transform="translate(386.5 673.9) scale(1.43 1)" class="t" text-anchor="end" style="font-size:5.6px">400</text>
<text transform="translate(386.5 654.6) scale(1.43 1)" class="t" text-anchor="end" style="font-size:5.6px">500</text>
<text transform="translate(461.4 768.5) scale(1.45 1)" class="l" text-anchor="middle" style="font-size:6.4px">Iterations</text>
<text x="461.4" y="640" class="ti" text-anchor="middle" textLength="69" lengthAdjust="spacingAndGlyphs" style="font-size:6.8px">Objective space</text>
<text transform="translate(367.1 695.4) rotate(-90) scale(1 1.45)" class="l" text-anchor="middle" style="font-size:6.4px">Best score</text>
<rect x="466.6" y="646" width="58.7" height="55" fill="#fff" stroke="#262626" stroke-width="0.8"/>
<path d="M469.6 650.9H497.6" stroke="#ff0000" stroke-width="2.2"/>
<text transform="translate(500.1 653) scale(1.43 1)" class="lg" style="font-size:5.59px">SOA</text>
<path d="M469.6 658.5H497.6" stroke="#000000" stroke-width="2.2"/>
<text transform="translate(500.1 660.6) scale(1.43 1)" class="lg" style="font-size:5.59px">GWO</text>
<path d="M469.6 666.1H497.6" stroke="#00ff00" stroke-width="1.2"/>
<text transform="translate(500.1 668.2) scale(1.43 1)" class="lg" style="font-size:5.59px">FWOA</text>
<path d="M469.6 673.7H497.6" stroke="#ff00ff" stroke-width="1.2"/>
<text transform="translate(500.1 675.8) scale(1.43 1)" class="lg" style="font-size:5.59px">WOA</text>
<path d="M469.6 681.3H497.6" stroke="#00ffff" stroke-width="1.2"/>
<text transform="translate(500.1 683.3) scale(1.43 1)" class="lg" style="font-size:5.59px">PSO</text>
<path d="M469.6 688.9H497.6" stroke="#0000ff" stroke-width="1.2"/>
<text transform="translate(500.1 690.9) scale(1.43 1)" class="lg" style="font-size:5.59px">SSA</text>
<path d="M469.6 696.4H497.6" stroke="#a2142f" stroke-width="1.2"/>
<text transform="translate(500.1 698.5) scale(1.43 1)" class="lg" style="font-size:5.59px">STOA</text>
</g>
<g>
<path d="M398.2 782.3V885.9M406.9 782.3V885.9M413 782.3V885.9M417.7 782.3V885.9M421.6 782.3V885.9M424.9 782.3V885.9M427.7 782.3V885.9M430.2 782.3V885.9M447.2 782.3V885.9M455.8 782.3V885.9M461.9 782.3V885.9M466.7 782.3V885.9M470.6 782.3V885.9M473.8 782.3V885.9M476.7 782.3V885.9M479.2 782.3V885.9M496.2 782.3V885.9M504.8 782.3V885.9M510.9 782.3V885.9M515.7 782.3V885.9M519.5 782.3V885.9M522.8 782.3V885.9M525.7 782.3V885.9M528.2 782.3V885.9" stroke="#ececec" stroke-width="0.6" fill="none"/>
<path d="M432.5 782.3V885.9M481.4 782.3V885.9M383.5 864H530.4M383.5 842H530.4M383.5 820.1H530.4M383.5 798.1H530.4" stroke="#dcdcdc" stroke-width="0.7" fill="none"/>
<clipPath id="c782"><rect x="382.5" y="780.8" width="148.9" height="106.6"/></clipPath>
<g clip-path="url(#c782)" fill="none" stroke-linejoin="round">
<path d="M383.5 799.2L398.2 878.9L408 881.9L415.3 883.7L422.7 885L432.5 885.9L530.4 885.9" stroke="#00ff00" stroke-width="1.25"/>
<path d="M383.5 858L398.2 879.8L403.1 883.7L408 885.2L417.8 885.9L530.4 885.9" stroke="#00ffff" stroke-width="1.25"/>
<path d="M383.5 782.7L398.2 799.6L402.1 817.9L405.5 832.1L409 846.4L412.9 859.8L416.8 870.1L420.2 876.7L423.7 881.1L427.6 883.7L432.5 885.2L442.3 885.9L530.4 885.9" stroke="#ff00ff" stroke-width="1.25"/>
<path d="M383.5 788.2L398.2 826L403.1 844.2L408 859.8L411.9 868.3L415.3 873.6L418.8 878L422.7 881.5L427.6 884.1L432.5 885.2L442.3 885.9L530.4 885.9" stroke="#000000" stroke-width="2.125"/>
<path d="M383.5 794.4L524 794.4" stroke="#ff0000" stroke-width="2.55"/>
<path d="M383.5 783.6L523.8 783.6" stroke="#e8202a" stroke-width="1.0"/>
<path d="M523.5 781.6L523.9 784.9L526.2 885.9L530.4 885.9" stroke="#ff0000" stroke-width="2.2"/>
<path d="M383.5 882.2L398.2 885.2L408 885.9L530.4 885.9" stroke="#0000ff" stroke-width="1.25"/>
</g>
<rect x="383.5" y="782.3" width="146.9" height="103.6" fill="none" stroke="#262626" stroke-width="0.8"/>
<path d="M383.5 885.9v-2.2M383.5 782.3v2.2M432.5 885.9v-2.2M432.5 782.3v2.2M481.4 885.9v-2.2M481.4 782.3v2.2M530.4 885.9v-2.2M530.4 782.3v2.2M398.2 885.9v-1.1M398.2 782.3v1.1M406.9 885.9v-1.1M406.9 782.3v1.1M413 885.9v-1.1M413 782.3v1.1M417.7 885.9v-1.1M417.7 782.3v1.1M421.6 885.9v-1.1M421.6 782.3v1.1M424.9 885.9v-1.1M424.9 782.3v1.1M427.7 885.9v-1.1M427.7 782.3v1.1M430.2 885.9v-1.1M430.2 782.3v1.1M447.2 885.9v-1.1M447.2 782.3v1.1M455.8 885.9v-1.1M455.8 782.3v1.1M461.9 885.9v-1.1M461.9 782.3v1.1M466.7 885.9v-1.1M466.7 782.3v1.1M470.6 885.9v-1.1M470.6 782.3v1.1M473.8 885.9v-1.1M473.8 782.3v1.1M476.7 885.9v-1.1M476.7 782.3v1.1M479.2 885.9v-1.1M479.2 782.3v1.1M496.2 885.9v-1.1M496.2 782.3v1.1M504.8 885.9v-1.1M504.8 782.3v1.1M510.9 885.9v-1.1M510.9 782.3v1.1M515.7 885.9v-1.1M515.7 782.3v1.1M519.5 885.9v-1.1M519.5 782.3v1.1M522.8 885.9v-1.1M522.8 782.3v1.1M525.7 885.9v-1.1M525.7 782.3v1.1M528.2 885.9v-1.1M528.2 782.3v1.1M383.5 864h2.2M530.4 864h-2.2M383.5 842h2.2M530.4 842h-2.2M383.5 820.1h2.2M530.4 820.1h-2.2M383.5 798.1h2.2M530.4 798.1h-2.2" stroke="#262626" stroke-width="0.6" fill="none"/>
<text transform="translate(377.7 895.8) scale(1.3727999999999998 1)" class="t" style="font-size:6.27px">10<tspan dy="-2.5" style="font-size:5.2px">0</tspan></text>
<text transform="translate(426.7 895.8) scale(1.3727999999999998 1)" class="t" style="font-size:6.27px">10<tspan dy="-2.5" style="font-size:5.2px">1</tspan></text>
<text transform="translate(475.6 895.8) scale(1.3727999999999998 1)" class="t" style="font-size:6.27px">10<tspan dy="-2.5" style="font-size:5.2px">2</tspan></text>
<text transform="translate(524.6 895.8) scale(1.3727999999999998 1)" class="t" style="font-size:6.27px">10<tspan dy="-2.5" style="font-size:5.2px">3</tspan></text>
<text transform="translate(380.9 864) rotate(-90) scale(1 1.43)" class="t" text-anchor="middle" style="font-size:5.6px">1</text>
<text transform="translate(380.9 842) rotate(-90) scale(1 1.43)" class="t" text-anchor="middle" style="font-size:5.6px">2</text>
<text transform="translate(380.9 820.1) rotate(-90) scale(1 1.43)" class="t" text-anchor="middle" style="font-size:5.6px">3</text>
<text transform="translate(380.9 798.1) rotate(-90) scale(1 1.43)" class="t" text-anchor="middle" style="font-size:5.6px">4</text>
<text transform="translate(456.9 905) scale(1.45 1)" class="l" text-anchor="middle" style="font-size:6.4px">Iterations</text>
<text x="457" y="779" class="ti" text-anchor="middle" textLength="67.6" lengthAdjust="spacingAndGlyphs" style="font-size:6.8px">Objective space</text>
<text transform="translate(371.1 834) rotate(-90) scale(1 1.45)" class="l" text-anchor="middle" style="font-size:6.4px">Best score</text>
<text transform="translate(384.5 780.3) scale(1.43 1)" class="t" style="font-size:5.6px">×10<tspan dy="-2.4" style="font-size:4.5px">8</tspan></text>
<rect x="464" y="787" width="61.3" height="52.5" fill="#fff" stroke="#262626" stroke-width="0.8"/>
<path d="M467 791.7H495" stroke="#ff0000" stroke-width="2.2"/>
<text transform="translate(497.5 793.8) scale(1.43 1)" class="lg" style="font-size:5.59px">SOA</text>
<path d="M467 798.9H495" stroke="#000000" stroke-width="2.2"/>
<text transform="translate(497.5 801) scale(1.43 1)" class="lg" style="font-size:5.59px">GWO</text>
<path d="M467 806.2H495" stroke="#00ff00" stroke-width="1.2"/>
<text transform="translate(497.5 808.3) scale(1.43 1)" class="lg" style="font-size:5.59px">FWOA</text>
<path d="M467 813.4H495" stroke="#ff00ff" stroke-width="1.2"/>
<text transform="translate(497.5 815.5) scale(1.43 1)" class="lg" style="font-size:5.59px">WOA</text>
<path d="M467 820.7H495" stroke="#00ffff" stroke-width="1.2"/>
<text transform="translate(497.5 822.7) scale(1.43 1)" class="lg" style="font-size:5.59px">PSO</text>
<path d="M467 827.9H495" stroke="#0000ff" stroke-width="1.2"/>
<text transform="translate(497.5 830) scale(1.43 1)" class="lg" style="font-size:5.59px">SSA</text>
<path d="M467 835.2H495" stroke="#a2142f" stroke-width="1.2"/>
<text transform="translate(497.5 837.2) scale(1.43 1)" class="lg" style="font-size:5.59px">STOA</text>
</g>
</svg>
</body></html>
